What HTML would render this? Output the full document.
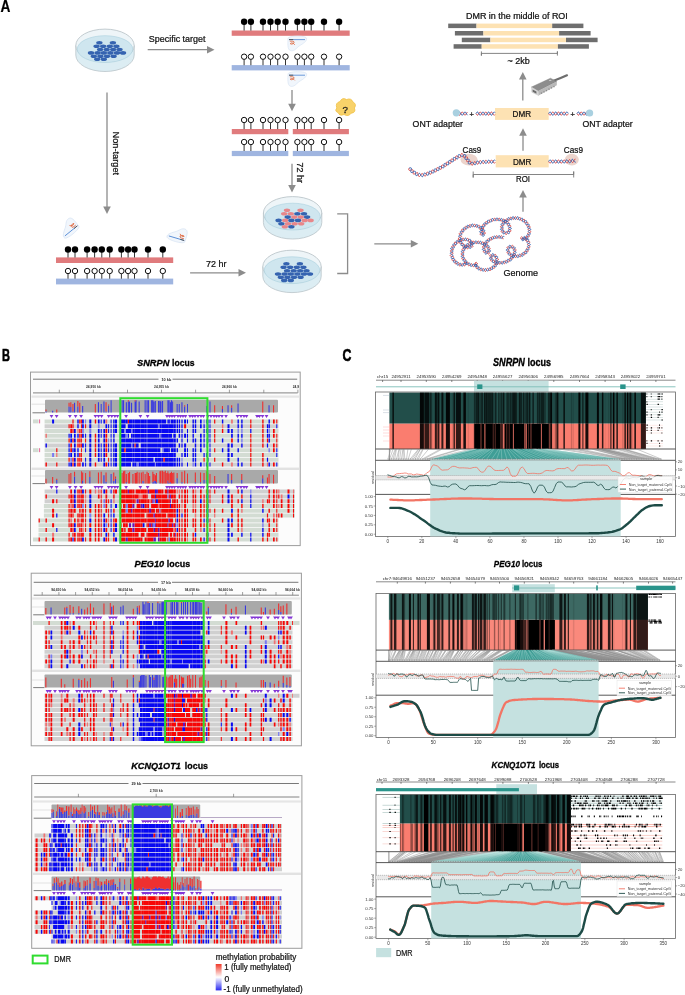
<!DOCTYPE html>
<html><head><meta charset="utf-8"><title>Figure</title>
<style>html,body{margin:0;padding:0;background:#fff;} svg{display:block;} text{font-family:'Liberation Sans', Arial, sans-serif;} .tA text{stroke:#111;stroke-width:0.22px;}</style>
</head><body>
<svg width="685" height="995" viewBox="0 0 685 995" shape-rendering="auto">
<g class="tA"><text x="0.5" y="11.7" font-size="15.8" fill="#000" font-weight="bold" textLength="9.9" lengthAdjust="spacingAndGlyphs" stroke="#000" stroke-width="0.4">A</text><path d="M75.8,45.5 L75.8,55.1 A29.2,16.4 0 0 0 134.2,55.1 L134.2,45.5 Z" fill="#dcedf3" stroke="#b9c4c9" stroke-width="0.8"/><ellipse cx="105" cy="45.5" rx="29.2" ry="16.4" fill="#eef5f8" stroke="#bcc6cb" stroke-width="0.9"/><ellipse cx="105" cy="49.1" rx="27.7" ry="13.4" fill="#cfe6ef" stroke="#a9d0de" stroke-width="0.6"/><ellipse cx="99.4" cy="42.7" rx="3.2" ry="1.8" fill="#3563b0"/><ellipse cx="112.9" cy="42.7" rx="3.2" ry="1.8" fill="#3563b0"/><ellipse cx="96.6" cy="46.2" rx="3.2" ry="1.8" fill="#3563b0"/><ellipse cx="103.2" cy="46.2" rx="3.2" ry="1.8" fill="#3563b0"/><ellipse cx="109.8" cy="46.2" rx="3.2" ry="1.8" fill="#3563b0"/><ellipse cx="116.4" cy="46.2" rx="3.2" ry="1.8" fill="#3563b0"/><ellipse cx="100.1" cy="49.6" rx="3.2" ry="1.8" fill="#3563b0"/><ellipse cx="106.7" cy="49.6" rx="3.2" ry="1.8" fill="#3563b0"/><ellipse cx="113.2" cy="49.6" rx="3.2" ry="1.8" fill="#3563b0"/><ellipse cx="119.5" cy="49.6" rx="3.2" ry="1.8" fill="#3563b0"/><ellipse cx="91" cy="52.9" rx="3.2" ry="1.8" fill="#3563b0"/><ellipse cx="97.6" cy="52.9" rx="3.2" ry="1.8" fill="#3563b0"/><ellipse cx="103.8" cy="52.9" rx="3.2" ry="1.8" fill="#3563b0"/><ellipse cx="110.4" cy="52.9" rx="3.2" ry="1.8" fill="#3563b0"/><ellipse cx="117" cy="52.9" rx="3.2" ry="1.8" fill="#3563b0"/><ellipse cx="123" cy="52.9" rx="3.2" ry="1.8" fill="#3563b0"/><ellipse cx="93.8" cy="56.2" rx="3.2" ry="1.8" fill="#3563b0"/><ellipse cx="100.4" cy="56.2" rx="3.2" ry="1.8" fill="#3563b0"/><ellipse cx="107" cy="56.2" rx="3.2" ry="1.8" fill="#3563b0"/><ellipse cx="113.6" cy="56.2" rx="3.2" ry="1.8" fill="#3563b0"/><ellipse cx="97.2" cy="59.3" rx="3.2" ry="1.8" fill="#3563b0"/><ellipse cx="103.8" cy="59.3" rx="3.2" ry="1.8" fill="#3563b0"/><text x="148.8" y="42" font-size="8.6" fill="#111" textLength="56.7" lengthAdjust="spacingAndGlyphs">Specific target</text><line x1="147.7" y1="49.7" x2="207.5" y2="49.7" stroke="#8c8c8c" stroke-width="1.3"/><polygon points="207,45.9 214.5,49.7 207,53.5" fill="#8c8c8c"/><rect x="231.7" y="30.5" width="118" height="5.3" fill="#e07b7d"/><line x1="244.1" y1="21.8" x2="244.1" y2="30.6" stroke="#333" stroke-width="1"/><line x1="250.9" y1="21.8" x2="250.9" y2="30.6" stroke="#333" stroke-width="1"/><line x1="263" y1="21.8" x2="263" y2="30.6" stroke="#333" stroke-width="1"/><line x1="270.5" y1="21.8" x2="270.5" y2="30.6" stroke="#333" stroke-width="1"/><line x1="277.7" y1="21.8" x2="277.7" y2="30.6" stroke="#333" stroke-width="1"/><line x1="285.5" y1="21.8" x2="285.5" y2="30.6" stroke="#333" stroke-width="1"/><line x1="297.4" y1="21.8" x2="297.4" y2="30.6" stroke="#333" stroke-width="1"/><line x1="304.4" y1="21.8" x2="304.4" y2="30.6" stroke="#333" stroke-width="1"/><line x1="311.2" y1="21.8" x2="311.2" y2="30.6" stroke="#333" stroke-width="1"/><line x1="324" y1="21.8" x2="324" y2="30.6" stroke="#333" stroke-width="1"/><line x1="339.1" y1="21.8" x2="339.1" y2="30.6" stroke="#333" stroke-width="1"/><circle cx="244.1" cy="21.8" r="3.2" fill="#000"/><circle cx="250.9" cy="21.8" r="3.2" fill="#000"/><circle cx="263" cy="21.8" r="3.2" fill="#000"/><circle cx="270.5" cy="21.8" r="3.2" fill="#000"/><circle cx="277.7" cy="21.8" r="3.2" fill="#000"/><circle cx="285.5" cy="21.8" r="3.2" fill="#000"/><circle cx="297.4" cy="21.8" r="3.2" fill="#000"/><circle cx="304.4" cy="21.8" r="3.2" fill="#000"/><circle cx="311.2" cy="21.8" r="3.2" fill="#000"/><circle cx="324" cy="21.8" r="3.2" fill="#000"/><circle cx="339.1" cy="21.8" r="3.2" fill="#000"/><rect x="231.7" y="65.1" width="118" height="5.3" fill="#9fb5e0"/><line x1="244.1" y1="56.7" x2="244.1" y2="65.2" stroke="#333" stroke-width="1"/><line x1="250.9" y1="56.7" x2="250.9" y2="65.2" stroke="#333" stroke-width="1"/><line x1="263" y1="56.7" x2="263" y2="65.2" stroke="#333" stroke-width="1"/><line x1="270.5" y1="56.7" x2="270.5" y2="65.2" stroke="#333" stroke-width="1"/><line x1="277.7" y1="56.7" x2="277.7" y2="65.2" stroke="#333" stroke-width="1"/><line x1="285.5" y1="56.7" x2="285.5" y2="65.2" stroke="#333" stroke-width="1"/><line x1="297.4" y1="56.7" x2="297.4" y2="65.2" stroke="#333" stroke-width="1"/><line x1="304.4" y1="56.7" x2="304.4" y2="65.2" stroke="#333" stroke-width="1"/><line x1="311.2" y1="56.7" x2="311.2" y2="65.2" stroke="#333" stroke-width="1"/><line x1="324" y1="56.7" x2="324" y2="65.2" stroke="#333" stroke-width="1"/><line x1="339.1" y1="56.7" x2="339.1" y2="65.2" stroke="#333" stroke-width="1"/><circle cx="244.1" cy="56.7" r="2.7" fill="#fff" stroke="#111" stroke-width="1"/><circle cx="250.9" cy="56.7" r="2.7" fill="#fff" stroke="#111" stroke-width="1"/><circle cx="263" cy="56.7" r="2.7" fill="#fff" stroke="#111" stroke-width="1"/><circle cx="270.5" cy="56.7" r="2.7" fill="#fff" stroke="#111" stroke-width="1"/><circle cx="277.7" cy="56.7" r="2.7" fill="#fff" stroke="#111" stroke-width="1"/><circle cx="285.5" cy="56.7" r="2.7" fill="#fff" stroke="#111" stroke-width="1"/><circle cx="297.4" cy="56.7" r="2.7" fill="#fff" stroke="#111" stroke-width="1"/><circle cx="304.4" cy="56.7" r="2.7" fill="#fff" stroke="#111" stroke-width="1"/><circle cx="311.2" cy="56.7" r="2.7" fill="#fff" stroke="#111" stroke-width="1"/><circle cx="324" cy="56.7" r="2.7" fill="#fff" stroke="#111" stroke-width="1"/><circle cx="339.1" cy="56.7" r="2.7" fill="#fff" stroke="#111" stroke-width="1"/><g transform="translate(297,39.6) rotate(0)"><path d="M-9,-1 C-9.5,-4 8,-4.5 9.5,-1.5 C10.5,1.5 6,4 2,6.5 C-1,9 -3,12 -6.5,11 C-10,10 -9,3 -9,-1 Z" fill="#f1f6fc" stroke="#d3e1f2" stroke-width="0.6"/><line x1="-8" y1="0" x2="8" y2="0" stroke="#5b8fd6" stroke-width="0.9"/><line x1="-8" y1="0" x2="-3.8" y2="0" stroke="#555" stroke-width="0.9"/><path d="M-7.2,1.6 q2.8,-0.4 4.2,0.6 q0.8,1 -1.2,2 q-2,0.8 -2.6,-0.2 q1,-1.2 2.8,-0.4 q1,0.6 1.8,1.6" fill="none" stroke="#e0704a" stroke-width="0.9"/></g><g transform="translate(297,75.2) rotate(0)"><path d="M-9,-1 C-9.5,-4 8,-4.5 9.5,-1.5 C10.5,1.5 6,4 2,6.5 C-1,9 -3,12 -6.5,11 C-10,10 -9,3 -9,-1 Z" fill="#f1f6fc" stroke="#d3e1f2" stroke-width="0.6"/><line x1="-8" y1="0" x2="8" y2="0" stroke="#5b8fd6" stroke-width="0.9"/><line x1="-8" y1="0" x2="-3.8" y2="0" stroke="#555" stroke-width="0.9"/><path d="M-7.2,1.6 q2.8,-0.4 4.2,0.6 q0.8,1 -1.2,2 q-2,0.8 -2.6,-0.2 q1,-1.2 2.8,-0.4 q1,0.6 1.8,1.6" fill="none" stroke="#e0704a" stroke-width="0.9"/></g><line x1="292" y1="90" x2="292" y2="104.2" stroke="#8c8c8c" stroke-width="1.3"/><polygon points="288.2,103.7 292,111.2 295.8,103.7" fill="#8c8c8c"/><rect x="231.8" y="129" width="56.5" height="5.2" fill="#e07b7d"/><rect x="292.8" y="129" width="56.1" height="5.2" fill="#e07b7d"/><line x1="244.1" y1="120" x2="244.1" y2="129.1" stroke="#333" stroke-width="1"/><line x1="250.9" y1="120" x2="250.9" y2="129.1" stroke="#333" stroke-width="1"/><line x1="263" y1="120" x2="263" y2="129.1" stroke="#333" stroke-width="1"/><line x1="270.5" y1="120" x2="270.5" y2="129.1" stroke="#333" stroke-width="1"/><line x1="277.7" y1="120" x2="277.7" y2="129.1" stroke="#333" stroke-width="1"/><line x1="285.5" y1="120" x2="285.5" y2="129.1" stroke="#333" stroke-width="1"/><line x1="297.4" y1="120" x2="297.4" y2="129.1" stroke="#333" stroke-width="1"/><line x1="304.4" y1="120" x2="304.4" y2="129.1" stroke="#333" stroke-width="1"/><line x1="311.2" y1="120" x2="311.2" y2="129.1" stroke="#333" stroke-width="1"/><line x1="324" y1="120" x2="324" y2="129.1" stroke="#333" stroke-width="1"/><line x1="339.1" y1="120" x2="339.1" y2="129.1" stroke="#333" stroke-width="1"/><circle cx="244.1" cy="120" r="2.7" fill="#fff" stroke="#111" stroke-width="1"/><circle cx="250.9" cy="120" r="2.7" fill="#fff" stroke="#111" stroke-width="1"/><circle cx="263" cy="120" r="2.7" fill="#fff" stroke="#111" stroke-width="1"/><circle cx="270.5" cy="120" r="2.7" fill="#fff" stroke="#111" stroke-width="1"/><circle cx="277.7" cy="120" r="2.7" fill="#fff" stroke="#111" stroke-width="1"/><circle cx="285.5" cy="120" r="2.7" fill="#fff" stroke="#111" stroke-width="1"/><circle cx="297.4" cy="120" r="2.7" fill="#fff" stroke="#111" stroke-width="1"/><circle cx="304.4" cy="120" r="2.7" fill="#fff" stroke="#111" stroke-width="1"/><circle cx="311.2" cy="120" r="2.7" fill="#fff" stroke="#111" stroke-width="1"/><circle cx="324" cy="120" r="2.7" fill="#fff" stroke="#111" stroke-width="1"/><circle cx="339.1" cy="120" r="2.7" fill="#fff" stroke="#111" stroke-width="1"/><rect x="231.8" y="150.9" width="56.5" height="5.2" fill="#9fb5e0"/><rect x="292.8" y="150.9" width="56.1" height="5.2" fill="#9fb5e0"/><line x1="244.1" y1="142" x2="244.1" y2="151" stroke="#333" stroke-width="1"/><line x1="250.9" y1="142" x2="250.9" y2="151" stroke="#333" stroke-width="1"/><line x1="263" y1="142" x2="263" y2="151" stroke="#333" stroke-width="1"/><line x1="270.5" y1="142" x2="270.5" y2="151" stroke="#333" stroke-width="1"/><line x1="277.7" y1="142" x2="277.7" y2="151" stroke="#333" stroke-width="1"/><line x1="285.5" y1="142" x2="285.5" y2="151" stroke="#333" stroke-width="1"/><line x1="297.4" y1="142" x2="297.4" y2="151" stroke="#333" stroke-width="1"/><line x1="304.4" y1="142" x2="304.4" y2="151" stroke="#333" stroke-width="1"/><line x1="311.2" y1="142" x2="311.2" y2="151" stroke="#333" stroke-width="1"/><line x1="324" y1="142" x2="324" y2="151" stroke="#333" stroke-width="1"/><line x1="339.1" y1="142" x2="339.1" y2="151" stroke="#333" stroke-width="1"/><circle cx="244.1" cy="142" r="2.7" fill="#fff" stroke="#111" stroke-width="1"/><circle cx="250.9" cy="142" r="2.7" fill="#fff" stroke="#111" stroke-width="1"/><circle cx="263" cy="142" r="2.7" fill="#fff" stroke="#111" stroke-width="1"/><circle cx="270.5" cy="142" r="2.7" fill="#fff" stroke="#111" stroke-width="1"/><circle cx="277.7" cy="142" r="2.7" fill="#fff" stroke="#111" stroke-width="1"/><circle cx="285.5" cy="142" r="2.7" fill="#fff" stroke="#111" stroke-width="1"/><circle cx="297.4" cy="142" r="2.7" fill="#fff" stroke="#111" stroke-width="1"/><circle cx="304.4" cy="142" r="2.7" fill="#fff" stroke="#111" stroke-width="1"/><circle cx="311.2" cy="142" r="2.7" fill="#fff" stroke="#111" stroke-width="1"/><circle cx="324" cy="142" r="2.7" fill="#fff" stroke="#111" stroke-width="1"/><circle cx="339.1" cy="142" r="2.7" fill="#fff" stroke="#111" stroke-width="1"/><g transform="translate(345.3,109.3) scale(1.3)"><path d="M-6.5,-1 q-1.5,-4 2.5,-5 q1.5,-3.5 5,-1.5 q3.5,-1.5 5,2 q3,1.5 1,4.5 q1.5,3.5 -2.5,4 q-2,3 -5.5,1 q-3.5,1.5 -4.5,-1.5 q-3,-1 -1,-3.5 Z" fill="#f8d26a" stroke="#f0be40" stroke-width="0.6"/><text x="-2.2" y="2.8" font-size="7.5" fill="#333">?</text></g><line x1="292" y1="163.8" x2="292" y2="185.4" stroke="#8c8c8c" stroke-width="1.3"/><polygon points="288.2,184.9 292,192.4 295.8,184.9" fill="#8c8c8c"/><g transform="translate(297.2,162.6) rotate(90)"><text x="0" y="0" font-size="9" fill="#111" textLength="20.4" lengthAdjust="spacingAndGlyphs">72 hr</text></g><path d="M263.4,213 L263.4,222.6 A29.2,16.4 0 0 0 321.8,222.6 L321.8,213 Z" fill="#dcedf3" stroke="#b9c4c9" stroke-width="0.8"/><ellipse cx="292.6" cy="213" rx="29.2" ry="16.4" fill="#eef5f8" stroke="#bcc6cb" stroke-width="0.9"/><ellipse cx="292.6" cy="216.6" rx="27.7" ry="13.4" fill="#cfe6ef" stroke="#a9d0de" stroke-width="0.6"/><ellipse cx="287" cy="210.2" rx="3.2" ry="1.8" fill="#e8868a"/><ellipse cx="300.5" cy="210.2" rx="3.2" ry="1.8" fill="#e8868a"/><ellipse cx="284.2" cy="213.7" rx="3.2" ry="1.8" fill="#e8868a"/><ellipse cx="290.8" cy="213.7" rx="3.2" ry="1.8" fill="#e8868a"/><ellipse cx="297.4" cy="213.7" rx="3.2" ry="1.8" fill="#3563b0"/><ellipse cx="304" cy="213.7" rx="3.2" ry="1.8" fill="#3563b0"/><ellipse cx="287.7" cy="217.1" rx="3.2" ry="1.8" fill="#3563b0"/><ellipse cx="294.3" cy="217.1" rx="3.2" ry="1.8" fill="#e8868a"/><ellipse cx="300.8" cy="217.1" rx="3.2" ry="1.8" fill="#e8868a"/><ellipse cx="307.1" cy="217.1" rx="3.2" ry="1.8" fill="#3563b0"/><ellipse cx="278.6" cy="220.4" rx="3.2" ry="1.8" fill="#3563b0"/><ellipse cx="285.2" cy="220.4" rx="3.2" ry="1.8" fill="#e8868a"/><ellipse cx="291.4" cy="220.4" rx="3.2" ry="1.8" fill="#3563b0"/><ellipse cx="298" cy="220.4" rx="3.2" ry="1.8" fill="#3563b0"/><ellipse cx="304.6" cy="220.4" rx="3.2" ry="1.8" fill="#e8868a"/><ellipse cx="310.6" cy="220.4" rx="3.2" ry="1.8" fill="#e8868a"/><ellipse cx="281.4" cy="223.7" rx="3.2" ry="1.8" fill="#3563b0"/><ellipse cx="288" cy="223.7" rx="3.2" ry="1.8" fill="#e8868a"/><ellipse cx="294.6" cy="223.7" rx="3.2" ry="1.8" fill="#e8868a"/><ellipse cx="301.2" cy="223.7" rx="3.2" ry="1.8" fill="#e8868a"/><ellipse cx="284.8" cy="226.8" rx="3.2" ry="1.8" fill="#e8868a"/><ellipse cx="291.4" cy="226.8" rx="3.2" ry="1.8" fill="#3563b0"/><path d="M262.8,266.6 L262.8,276.2 A29.2,16.4 0 0 0 321.2,276.2 L321.2,266.6 Z" fill="#dcedf3" stroke="#b9c4c9" stroke-width="0.8"/><ellipse cx="292" cy="266.6" rx="29.2" ry="16.4" fill="#eef5f8" stroke="#bcc6cb" stroke-width="0.9"/><ellipse cx="292" cy="270.2" rx="27.7" ry="13.4" fill="#cfe6ef" stroke="#a9d0de" stroke-width="0.6"/><ellipse cx="286.4" cy="263.8" rx="3.2" ry="1.8" fill="#3563b0"/><ellipse cx="299.9" cy="263.8" rx="3.2" ry="1.8" fill="#3563b0"/><ellipse cx="283.6" cy="267.3" rx="3.2" ry="1.8" fill="#3563b0"/><ellipse cx="290.2" cy="267.3" rx="3.2" ry="1.8" fill="#3563b0"/><ellipse cx="296.8" cy="267.3" rx="3.2" ry="1.8" fill="#3563b0"/><ellipse cx="303.4" cy="267.3" rx="3.2" ry="1.8" fill="#3563b0"/><ellipse cx="287.1" cy="270.7" rx="3.2" ry="1.8" fill="#3563b0"/><ellipse cx="293.7" cy="270.7" rx="3.2" ry="1.8" fill="#3563b0"/><ellipse cx="300.2" cy="270.7" rx="3.2" ry="1.8" fill="#3563b0"/><ellipse cx="306.5" cy="270.7" rx="3.2" ry="1.8" fill="#3563b0"/><ellipse cx="278" cy="274" rx="3.2" ry="1.8" fill="#3563b0"/><ellipse cx="284.6" cy="274" rx="3.2" ry="1.8" fill="#3563b0"/><ellipse cx="290.8" cy="274" rx="3.2" ry="1.8" fill="#3563b0"/><ellipse cx="297.4" cy="274" rx="3.2" ry="1.8" fill="#3563b0"/><ellipse cx="304" cy="274" rx="3.2" ry="1.8" fill="#3563b0"/><ellipse cx="310" cy="274" rx="3.2" ry="1.8" fill="#3563b0"/><ellipse cx="280.8" cy="277.3" rx="3.2" ry="1.8" fill="#3563b0"/><ellipse cx="287.4" cy="277.3" rx="3.2" ry="1.8" fill="#3563b0"/><ellipse cx="294" cy="277.3" rx="3.2" ry="1.8" fill="#3563b0"/><ellipse cx="300.6" cy="277.3" rx="3.2" ry="1.8" fill="#3563b0"/><ellipse cx="284.2" cy="280.4" rx="3.2" ry="1.8" fill="#3563b0"/><ellipse cx="290.8" cy="280.4" rx="3.2" ry="1.8" fill="#3563b0"/><polyline points="337.2,213.8 347.6,213.8 347.6,273.5 337.2,273.5" fill="none" stroke="#8c8c8c" stroke-width="1.3"/><line x1="374.3" y1="243.8" x2="411.3" y2="243.8" stroke="#8c8c8c" stroke-width="1.3"/><polygon points="410.8,240 418.3,243.8 410.8,247.6" fill="#8c8c8c"/><line x1="107" y1="92.4" x2="107" y2="207" stroke="#8c8c8c" stroke-width="1.3"/><polygon points="103.2,206.5 107,214 110.8,206.5" fill="#8c8c8c"/><g transform="translate(113.2,131.6) rotate(90)"><text x="0" y="0" font-size="9" fill="#111" textLength="43.5" lengthAdjust="spacingAndGlyphs">Non-target</text></g><g transform="translate(71.1,230.9) rotate(141)"><path d="M-9,-1 C-9.5,-4 8,-4.5 9.5,-1.5 C10.5,1.5 6,4 2,6.5 C-1,9 -3,12 -6.5,11 C-10,10 -9,3 -9,-1 Z" fill="#f1f6fc" stroke="#d3e1f2" stroke-width="0.6"/><line x1="-8" y1="0" x2="8" y2="0" stroke="#5b8fd6" stroke-width="0.9"/><line x1="-8" y1="0" x2="-3.8" y2="0" stroke="#555" stroke-width="0.9"/><path d="M-7.2,1.6 q2.8,-0.4 4.2,0.6 q0.8,1 -1.2,2 q-2,0.8 -2.6,-0.2 q1,-1.2 2.8,-0.4 q1,0.6 1.8,1.6" fill="none" stroke="#e0704a" stroke-width="0.9"/></g><g transform="translate(176.5,238.2) rotate(196.5)"><path d="M-9,-1 C-9.5,-4 8,-4.5 9.5,-1.5 C10.5,1.5 6,4 2,6.5 C-1,9 -3,12 -6.5,11 C-10,10 -9,3 -9,-1 Z" fill="#f1f6fc" stroke="#d3e1f2" stroke-width="0.6"/><line x1="-8" y1="0" x2="8" y2="0" stroke="#5b8fd6" stroke-width="0.9"/><line x1="-8" y1="0" x2="-3.8" y2="0" stroke="#555" stroke-width="0.9"/><path d="M-7.2,1.6 q2.8,-0.4 4.2,0.6 q0.8,1 -1.2,2 q-2,0.8 -2.6,-0.2 q1,-1.2 2.8,-0.4 q1,0.6 1.8,1.6" fill="none" stroke="#e0704a" stroke-width="0.9"/></g><rect x="56" y="257.4" width="117.2" height="5.6" fill="#e07b7d"/><line x1="68" y1="249.5" x2="68" y2="257.5" stroke="#333" stroke-width="1"/><line x1="75" y1="249.5" x2="75" y2="257.5" stroke="#333" stroke-width="1"/><line x1="87.1" y1="249.5" x2="87.1" y2="257.5" stroke="#333" stroke-width="1"/><line x1="94.6" y1="249.5" x2="94.6" y2="257.5" stroke="#333" stroke-width="1"/><line x1="101.8" y1="249.5" x2="101.8" y2="257.5" stroke="#333" stroke-width="1"/><line x1="109.7" y1="249.5" x2="109.7" y2="257.5" stroke="#333" stroke-width="1"/><line x1="121.4" y1="249.5" x2="121.4" y2="257.5" stroke="#333" stroke-width="1"/><line x1="128.1" y1="249.5" x2="128.1" y2="257.5" stroke="#333" stroke-width="1"/><line x1="134.5" y1="249.5" x2="134.5" y2="257.5" stroke="#333" stroke-width="1"/><line x1="148" y1="249.5" x2="148" y2="257.5" stroke="#333" stroke-width="1"/><line x1="162.8" y1="249.5" x2="162.8" y2="257.5" stroke="#333" stroke-width="1"/><circle cx="68" cy="249.5" r="3.2" fill="#000"/><circle cx="75" cy="249.5" r="3.2" fill="#000"/><circle cx="87.1" cy="249.5" r="3.2" fill="#000"/><circle cx="94.6" cy="249.5" r="3.2" fill="#000"/><circle cx="101.8" cy="249.5" r="3.2" fill="#000"/><circle cx="109.7" cy="249.5" r="3.2" fill="#000"/><circle cx="121.4" cy="249.5" r="3.2" fill="#000"/><circle cx="128.1" cy="249.5" r="3.2" fill="#000"/><circle cx="134.5" cy="249.5" r="3.2" fill="#000"/><circle cx="148" cy="249.5" r="3.2" fill="#000"/><circle cx="162.8" cy="249.5" r="3.2" fill="#000"/><rect x="56" y="278.6" width="117.2" height="5.8" fill="#9fb5e0"/><line x1="68" y1="271" x2="68" y2="278.7" stroke="#333" stroke-width="1"/><line x1="75" y1="271" x2="75" y2="278.7" stroke="#333" stroke-width="1"/><line x1="87.1" y1="271" x2="87.1" y2="278.7" stroke="#333" stroke-width="1"/><line x1="94.6" y1="271" x2="94.6" y2="278.7" stroke="#333" stroke-width="1"/><line x1="101.8" y1="271" x2="101.8" y2="278.7" stroke="#333" stroke-width="1"/><line x1="109.7" y1="271" x2="109.7" y2="278.7" stroke="#333" stroke-width="1"/><line x1="121.4" y1="271" x2="121.4" y2="278.7" stroke="#333" stroke-width="1"/><line x1="128.1" y1="271" x2="128.1" y2="278.7" stroke="#333" stroke-width="1"/><line x1="134.5" y1="271" x2="134.5" y2="278.7" stroke="#333" stroke-width="1"/><line x1="148" y1="271" x2="148" y2="278.7" stroke="#333" stroke-width="1"/><line x1="162.8" y1="271" x2="162.8" y2="278.7" stroke="#333" stroke-width="1"/><circle cx="68" cy="271" r="2.7" fill="#fff" stroke="#111" stroke-width="1"/><circle cx="75" cy="271" r="2.7" fill="#fff" stroke="#111" stroke-width="1"/><circle cx="87.1" cy="271" r="2.7" fill="#fff" stroke="#111" stroke-width="1"/><circle cx="94.6" cy="271" r="2.7" fill="#fff" stroke="#111" stroke-width="1"/><circle cx="101.8" cy="271" r="2.7" fill="#fff" stroke="#111" stroke-width="1"/><circle cx="109.7" cy="271" r="2.7" fill="#fff" stroke="#111" stroke-width="1"/><circle cx="121.4" cy="271" r="2.7" fill="#fff" stroke="#111" stroke-width="1"/><circle cx="128.1" cy="271" r="2.7" fill="#fff" stroke="#111" stroke-width="1"/><circle cx="134.5" cy="271" r="2.7" fill="#fff" stroke="#111" stroke-width="1"/><circle cx="148" cy="271" r="2.7" fill="#fff" stroke="#111" stroke-width="1"/><circle cx="162.8" cy="271" r="2.7" fill="#fff" stroke="#111" stroke-width="1"/><text x="206" y="266.5" font-size="9" fill="#111" textLength="20.4" lengthAdjust="spacingAndGlyphs">72 hr</text><line x1="190.1" y1="272.8" x2="239" y2="272.8" stroke="#8c8c8c" stroke-width="1.3"/><polygon points="238.5,269 246,272.8 238.5,276.6" fill="#8c8c8c"/><text x="466" y="19.4" font-size="8.6" fill="#111" textLength="101.8" lengthAdjust="spacingAndGlyphs">DMR in the middle of ROI</text><rect x="448.2" y="23.6" width="28.3" height="4.5" fill="#6e6e6e"/><rect x="476.5" y="23.6" width="75.7" height="4.5" fill="#fde2b3"/><rect x="552.2" y="23.6" width="31.2" height="4.5" fill="#6e6e6e"/><rect x="454.9" y="31" width="28.5" height="4.5" fill="#6e6e6e"/><rect x="483.4" y="31" width="75.7" height="4.5" fill="#fde2b3"/><rect x="559.1" y="31" width="31.5" height="4.5" fill="#6e6e6e"/><rect x="461.8" y="37.7" width="28.6" height="4.5" fill="#6e6e6e"/><rect x="490.4" y="37.7" width="75.6" height="4.5" fill="#fde2b3"/><rect x="566" y="37.7" width="31.6" height="4.5" fill="#6e6e6e"/><rect x="453.6" y="44.2" width="28.1" height="4.5" fill="#6e6e6e"/><rect x="481.7" y="44.2" width="76.2" height="4.5" fill="#fde2b3"/><rect x="557.9" y="44.2" width="31" height="4.5" fill="#6e6e6e"/><polyline points="481.4,51.4 481.4,55.6 481.4,53.4 557.4,53.4 557.4,51.4 557.4,55.6" fill="none" stroke="#777" stroke-width="0.9"/><text x="507.5" y="63.6" font-size="8.6" fill="#111" textLength="22.3" lengthAdjust="spacingAndGlyphs">~ 2kb</text><line x1="522.8" y1="100.5" x2="522.8" y2="79" stroke="#8c8c8c" stroke-width="1.3"/><polygon points="519,79.5 522.8,72 526.6,79.5" fill="#8c8c8c"/><path d="M553,81 Q560,78.5 567,75.3" stroke="#6e6e6e" stroke-width="2.2" fill="none" stroke-linecap="round"/><polygon points="531.5,87 550.5,78.2 556.8,81.6 538.2,91" fill="#8d8d8d" stroke="#7a7a7a" stroke-width="0.4" stroke-linejoin="round"/><polygon points="538.2,91 556.8,81.6 556.8,85.2 538.6,95.6" fill="#b9b9b9"/><path d="M541,93.4 l1,-0.5 M543.5,92.1 l1,-0.5 M546,90.8 l1,-0.5 M548.5,89.5 l1,-0.5 M551,88.2 l1,-0.5 M553.5,86.9 l1,-0.5" stroke="#8a8a8a" stroke-width="1.4"/><polygon points="531.5,87 538.2,91 538.6,95.6 531.8,92.2" fill="#d8d8d8" stroke="#aaa" stroke-width="0.3"/><polygon points="532.6,89.4 536.4,91.5 536.5,93.8 532.7,91.8" fill="#6a6a6a"/><ellipse cx="550.2" cy="80.4" rx="1.3" ry="0.7" fill="#c8c8c8"/><rect x="495" y="108" width="53.7" height="11.9" fill="#fde2b3"/><text x="521.8" y="117" font-size="8.6" fill="#111" text-anchor="middle" textLength="18.5" lengthAdjust="spacingAndGlyphs">DMR</text><rect x="495.7" y="155.2" width="53" height="12.2" fill="#fde2b3"/><text x="522.2" y="164.5" font-size="8.6" fill="#111" text-anchor="middle" textLength="18.5" lengthAdjust="spacingAndGlyphs">DMR</text><path d="M458 113.6L458.5 114.5L459 115.1L459.5 115.2L460 114.9L460.5 114.1L461 113.2L461.5 112.4L462 112L462.5 112L463 112.6L463.5 113.4L464 114.3L464.5 115L465 115.2L465.5 115L466 114.3L466.5 113.4L467 112.6L467.5 112" fill="none" stroke="#d64545" stroke-width="0.95"/><path d="M458 113.6L458.5 112.7L459 112.1L459.5 112L460 112.3L460.5 113.1L461 114L461.5 114.8L462 115.2L462.5 115.2L463 114.6L463.5 113.8L464 112.9L464.5 112.2L465 111.9L465.5 112.2L466 112.9L466.5 113.8L467 114.6L467.5 115.2" fill="none" stroke="#2f5fae" stroke-width="0.95"/><path d="M476 113.6L476.5 114.5L477 115.1L477.5 115.2L478 114.9L478.5 114.1L479 113.2L479.5 112.4L480 112L480.5 112L481 112.6L481.5 113.4L482 114.3L482.5 115L483 115.2L483.5 115L484 114.3L484.5 113.4L485 112.6L485.5 112L486 112L486.5 112.4L487 113.2L487.5 114.1L488 114.9L488.5 115.2L489 115.1L489.5 114.5L490 113.6L490.5 112.7L491 112.1L491.5 112L492 112.3L492.5 113.1L493 114L493.5 114.8L494 115.2L494.5 115.2L495 114.6" fill="none" stroke="#d64545" stroke-width="0.95"/><path d="M476 113.6L476.5 112.7L477 112.1L477.5 112L478 112.3L478.5 113.1L479 114L479.5 114.8L480 115.2L480.5 115.2L481 114.6L481.5 113.8L482 112.9L482.5 112.2L483 111.9L483.5 112.2L484 112.9L484.5 113.8L485 114.6L485.5 115.2L486 115.2L486.5 114.8L487 114L487.5 113.1L488 112.3L488.5 112L489 112.1L489.5 112.7L490 113.6L490.5 114.5L491 115.1L491.5 115.2L492 114.9L492.5 114.1L493 113.2L493.5 112.4L494 112L494.5 112L495 112.6" fill="none" stroke="#2f5fae" stroke-width="0.95"/><text x="469.5" y="116.6" font-size="7.5" fill="#111">+</text><path d="M548.7 113.6L549.2 114.5L549.7 115.1L550.2 115.2L550.7 114.9L551.2 114.1L551.7 113.2L552.2 112.4L552.7 112L553.2 112L553.7 112.6L554.2 113.4L554.7 114.3L555.2 115L555.7 115.2L556.2 115L556.7 114.3L557.2 113.4L557.7 112.6L558.2 112L558.7 112L559.2 112.4L559.7 113.2L560.2 114.1L560.7 114.9L561.2 115.2L561.7 115.1L562.2 114.5L562.7 113.6L563.2 112.7L563.7 112.1L564.2 112L564.7 112.3L565.2 113.1L565.7 114L566.2 114.8L566.7 115.2L567.2 115.2L567.7 114.6L568.2 113.8" fill="none" stroke="#d64545" stroke-width="0.95"/><path d="M548.7 113.6L549.2 112.7L549.7 112.1L550.2 112L550.7 112.3L551.2 113.1L551.7 114L552.2 114.8L552.7 115.2L553.2 115.2L553.7 114.6L554.2 113.8L554.7 112.9L555.2 112.2L555.7 111.9L556.2 112.2L556.7 112.9L557.2 113.8L557.7 114.6L558.2 115.2L558.7 115.2L559.2 114.8L559.7 114L560.2 113.1L560.7 112.3L561.2 112L561.7 112.1L562.2 112.7L562.7 113.6L563.2 114.5L563.7 115.1L564.2 115.2L564.7 114.9L565.2 114.1L565.7 113.2L566.2 112.4L566.7 112L567.2 112L567.7 112.6L568.2 113.4" fill="none" stroke="#2f5fae" stroke-width="0.95"/><text x="570.5" y="116.6" font-size="7.5" fill="#111">+</text><path d="M577 113.6L577.5 114.5L578 115.1L578.5 115.2L579 114.9L579.5 114.1L580 113.2L580.5 112.4L581 112L581.5 112L582 112.6L582.5 113.4L583 114.3L583.5 115L584 115.2L584.5 115L585 114.3L585.5 113.4L586 112.6L586.5 112L587 112" fill="none" stroke="#d64545" stroke-width="0.95"/><path d="M577 113.6L577.5 112.7L578 112.1L578.5 112L579 112.3L579.5 113.1L580 114L580.5 114.8L581 115.2L581.5 115.2L582 114.6L582.5 113.8L583 112.9L583.5 112.2L584 111.9L584.5 112.2L585 112.9L585.5 113.8L586 114.6L586.5 115.2L587 115.2" fill="none" stroke="#2f5fae" stroke-width="0.95"/><circle cx="456.3" cy="112.8" r="3.6" fill="#a9d0e0"/><circle cx="589.6" cy="113.0" r="3.6" fill="#a9d0e0"/><text x="412.6" y="126.6" font-size="8.6" fill="#111" textLength="50.4" lengthAdjust="spacingAndGlyphs">ONT adapter</text><text x="582.4" y="126.6" font-size="8.6" fill="#111" textLength="50.4" lengthAdjust="spacingAndGlyphs">ONT adapter</text><line x1="523" y1="150.7" x2="523" y2="135.3" stroke="#8c8c8c" stroke-width="1.3"/><polygon points="519.2,135.8 523,128.3 526.8,135.8" fill="#8c8c8c"/><ellipse cx="469" cy="159.6" rx="8.5" ry="5.8" fill="#ecd4cc"/><ellipse cx="571.8" cy="159.6" rx="7" ry="5.8" fill="#ecd4cc"/><path d="M409.2 168L408.9 169L408.7 169.7L409 170.2L409.5 170.4L410.4 170.2L411.5 170L412.4 169.8L413 169.8L413.3 170.1L413.3 170.8L413.2 171.8L413.1 172.8L413.2 173.6L413.5 174.1L414.1 174.1L414.9 173.8L415.7 173.3L416.6 172.8L417.2 172.5L417.7 172.7L417.9 173.2L418 174.1L418.2 175.2L418.5 176.1L419 176.5L419.6 176.5L420.2 175.9L420.8 175.1L421.3 174.3L421.7 173.6L422.2 173.4L422.6 173.7L423.2 174.4L423.9 175.2L424.6 175.8L425.2 176.1L425.7 175.9L426 175.3L426.3 174.3L426.4 173.3L426.7 172.5L427.1 172.1L427.6 172.2L428.3 172.7L429.1 173.3L429.9 173.9L430.5 174.2L431 174.1L431.3 173.5L431.5 172.5L431.6 171.5L431.7 170.6L432 170.1L432.5 170L433.2 170.4L434.1 170.9L434.9 171.5L435.6 171.9L436.1 171.8L436.4 171.2L436.6 170.4L436.6 169.3L436.7 168.4L436.9 167.8L437.4 167.6L438.1 167.8L438.9 168.3L439.8 168.9L440.5 169.3L441.1 169.3L441.4 168.8L441.5 168L441.5 166.9L441.5 166L441.7 165.3L442.1 164.9L442.7 165.1L443.6 165.5L444.5 166L445.3 166.4L445.9 166.4L446.3 166L446.4 165.2L446.3 164.2L446.3 163.2L446.3 162.4L446.7 162L447.3 162L448.1 162.4L449 162.9L449.9 163.3L450.5 163.4L450.9 163L451.1 162.3L451 161.3L450.9 160.3L451 159.5L451.3 159L451.8 158.9L452.6 159.2L453.5 159.7L454.4 160.2L455.1 160.3L455.6 160.1L455.7 159.5L455.7 158.5L455.7 157.5L455.7 156.6L456 156L456.5 155.9L457.2 156.2L458.1 156.7L459 157.2L459.6 157.6L460.2 157.5L460.5 156.9L460.6 156.1L460.7 155.1L461 154.2L461.5 153.5L462.1 153.5L462.8 154L463.3 154.9L463.4 156L463.3 156.7L463.1 156.9L463.6 157.2L464.4 157.2L465.4 157.1L466.4 156.9L467.1 156.9L467.5 157.2L467.5 157.9L467.3 158.8L466.8 159.8L466.5 160.6L466.5 161.2L466.9 161.6L467.7 161.6L468.7 161.5L469.7 161.4L470.4 161.3L470.8 161.4L470.8 161.9L470.7 162.7L470.8 163.8L471.3 164.7L471.8 165.2L472.5 165.2L473 164.6L473.4 163.7L473.8 162.7L474.1 162L474.5 161.6L475 161.7L475.7 162.3L476.4 163L477 163.7L477.6 164.2L478.1 164.1L478.5 163.6L478.8 162.7L479.2 161.8L479.6 160.9L480.2 160.6L480.7 160.7L481.2 161.2L481.8 162.1L482.3 162.9L482.9 163.5L483.4 163.6L483.8 163.3L484.3 162.5L484.8 161.6L485.2 160.7L485.7 160.3L486.2 160.3L486.7 160.8L487.3 161.6L487.8 162.5L488.3 163.2L488.8 163.4L489.3 163.1L489.8 162.4L490.3 161.5L490.7 160.7L491.2 160.1L491.7 160L492.2 160.5L492.8 161.2L493.3 162.1L493.8 162.9L494.3 163.2L494.8 163L495.3 162.4" fill="none" stroke="#d64545" stroke-width="0.95"/><path d="M409.2 168L410.2 167.8L411 167.8L411.4 168.1L411.5 168.7L411.3 169.5L410.9 170.5L410.7 171.4L410.8 172.1L411.2 172.5L412 172.4L412.9 172.1L413.9 171.6L414.6 171.2L415.1 171.2L415.5 171.7L415.6 172.5L415.6 173.6L415.6 174.6L415.8 175.3L416.3 175.6L417 175.4L417.8 174.8L418.6 174.2L419.2 173.6L419.6 173.3L420 173.6L420.4 174.2L420.8 175.1L421.3 176L421.9 176.6L422.4 176.7L423 176.3L423.4 175.4L423.7 174.5L424 173.6L424.3 173L424.8 172.9L425.4 173.3L426.1 174L426.9 174.7L427.6 175.2L428.2 175.2L428.5 174.8L428.8 174L429 173L429.1 172L429.4 171.3L429.8 171.1L430.4 171.3L431.2 171.9L432 172.5L432.8 173L433.4 173.1L433.8 172.7L434 172L434.1 170.9L434.1 169.9L434.3 169.2L434.7 168.8L435.3 168.9L436.1 169.4L436.9 170L437.7 170.5L438.4 170.6L438.8 170.4L439 169.7L439.1 168.7L439.1 167.6L439.2 166.8L439.5 166.4L440.1 166.4L440.8 166.7L441.7 167.2L442.6 167.7L443.3 167.9L443.8 167.7L444 167.1L444 166.1L443.9 165.1L444 164.2L444.2 163.6L444.7 163.5L445.4 163.7L446.3 164.2L447.2 164.7L448 164.9L448.5 164.8L448.7 164.2L448.7 163.3L448.6 162.3L448.6 161.3L448.8 160.7L449.2 160.4L449.9 160.6L450.8 161L451.7 161.5L452.5 161.8L453.1 161.8L453.4 161.3L453.4 160.4L453.3 159.4L453.3 158.4L453.4 157.7L453.8 157.4L454.5 157.5L455.3 157.9L456.2 158.4L457 158.8L457.6 158.9L458 158.5L458.1 157.7L458.1 156.7L458.1 155.7L458.4 154.9L458.7 154.5L459.3 154.6L460.2 155.1L460.9 155.8L461.7 156.4L462.1 156.7L462.4 156.6L462.7 156L463.2 155.3L464 154.7L465 154.5L465.8 155L465.9 155.6L465.6 156.4L465.1 157.3L464.9 158.3L464.9 159.1L465.2 159.4L465.8 159.4L466.7 159.3L467.7 159.2L468.6 159.2L469.2 159.4L469.3 159.9L469.1 160.6L468.7 161.5L468.3 162.5L468.2 163.3L468.6 163.9L469.3 164L470.2 163.7L471.1 163.1L471.6 162.4L472 162L472.4 162.1L472.8 162.5L473.4 163.3L474 164.1L474.7 164.7L475.3 164.8L475.7 164.4L476 163.7L476.3 162.7L476.6 161.7L477 161.1L477.5 161L478.1 161.3L478.7 162L479.4 162.8L479.9 163.5L480.4 163.8L480.9 163.6L481.3 163L481.8 162.1L482.2 161.2L482.7 160.5L483.2 160.4L483.7 160.7L484.2 161.4L484.8 162.3L485.3 163.1L485.8 163.5L486.3 163.4L486.8 162.9L487.3 162L487.7 161.1L488.2 160.4L488.7 160.1L489.2 160.3L489.7 161L490.3 161.9L490.8 162.7L491.3 163.2L491.8 163.3L492.3 162.8L492.8 162L493.2 161L493.7 160.3L494.2 159.9L494.7 160.1L495.2 160.6" fill="none" stroke="#2f5fae" stroke-width="0.95"/><path d="M548.7 161.5L549.2 162.4L549.7 163L550.2 163.1L550.7 162.8L551.2 162.1L551.7 161.2L552.2 160.4L552.7 159.9L553.2 160L553.7 160.5L554.2 161.4L554.7 162.3L555.2 162.9L555.7 163.2L556.2 163L556.7 162.3L557.2 161.4L557.7 160.5L558.2 160L558.7 160L559.2 160.4L559.7 161.2L560.2 162.1L560.7 162.9L561.2 163.2L561.7 163.1L562.2 162.4L562.7 161.6L563.2 160.7L563.7 160.1L564.2 159.9L564.7 160.2L565.2 161L565.7 161.9L566.3 162.6L566.8 163.1L567.3 163L567.8 162.4L568.2 161.6L568.6 160.6L569.1 159.9L569.5 159.6L570.1 159.8L570.6 160.4L571.2 161.3L571.8 162.1L572.4 162.5L572.9 162.5L573.3 162L573.7 161.2L574.1 160.2L574.5 159.4L574.9 159L575.5 159.1" fill="none" stroke="#d64545" stroke-width="0.95"/><path d="M548.7 161.5L549.2 160.6L549.7 160L550.2 159.9L550.7 160.2L551.2 161L551.7 161.9L552.2 162.7L552.7 163.1L553.2 163.1L553.7 162.6L554.2 161.7L554.7 160.8L555.2 160.2L555.7 159.9L556.2 160.2L556.7 160.8L557.2 161.7L557.7 162.6L558.2 163.1L558.7 163.2L559.2 162.7L559.7 161.9L560.2 161L560.7 160.3L561.2 159.9L561.7 160.1L562.2 160.7L562.7 161.6L563.2 162.4L563.7 163L564.2 163.2L564.7 162.8L565.2 162.1L565.7 161.1L566.1 160.3L566.6 159.9L567.1 159.9L567.6 160.4L568.2 161.2L568.7 162L569.3 162.7L569.8 162.9L570.3 162.6L570.8 161.9L571.2 160.9L571.6 160L572 159.4L572.5 159.3L573 159.7L573.6 160.4L574.2 161.3L574.8 161.9L575.4 162.2L575.8 162" fill="none" stroke="#2f5fae" stroke-width="0.95"/><text x="462.6" y="153.4" font-size="8.6" fill="#111" textLength="18.7" lengthAdjust="spacingAndGlyphs">Cas9</text><text x="563.8" y="153.4" font-size="8.6" fill="#111" textLength="19.2" lengthAdjust="spacingAndGlyphs">Cas9</text><polyline points="473.2,171.5 473.2,177.5 473.2,174.5 573.7,174.5 573.7,171.5 573.7,177.5" fill="none" stroke="#777" stroke-width="0.9"/><text x="516" y="182" font-size="8.6" fill="#111" textLength="14" lengthAdjust="spacingAndGlyphs">ROI</text><line x1="523" y1="211.8" x2="523" y2="197" stroke="#8c8c8c" stroke-width="1.3"/><polygon points="519.2,197.5 523,190 526.8,197.5" fill="#8c8c8c"/><path d="M466 262L465.1 262.3L464.5 262.4L464.5 262.9L465.1 263.6L465.3 264.7L465.2 265.6L464.8 265.9L463.9 265.6L463.2 264.7L462.7 263.8L462.2 263.4L461.7 263.8L461.2 264.7L460.6 265.7L459.7 266.1L459.3 265.8L459.1 265L459 263.8L458.9 262.8L458.5 262.5L457.8 262.7L457 263.5L455.9 263.8L455.2 263.8L455 263.3L455.3 262.4L455.6 261.3L455.8 260.4L455.5 260L454.7 260.1L453.6 260.5L452.5 260.6L451.8 260.1L452 259.5L452.7 258.7L453.4 257.8L453.9 257.1L453.6 256.7L452.7 256.5L451.6 256.4L450.6 256.2L450.1 255.6L450.6 254.8L451.6 254.3L452.6 253.9L453.2 253.4L453 252.9L452.1 252.3L451.1 251.8L450.4 251.3L450.3 250.8L451 250.3L452 249.8L452.9 249.6L453.4 249.6L453.3 249L452.7 248.1L452 247.2L451.7 246.4L452 246L452.9 245.9L454.1 246L455 245.9L455.5 245.6L455.3 244.9L454.6 244L454.4 242.9L454.5 242.2L455 242.1L456 242.5L457 243L457.8 243.3L458.3 243L458.3 242.2L458.1 241.1L457.9 240.1L458.3 239.3L459.1 239.4L459.9 240.2L460.6 241L461.3 241.5L461.8 241.3L462 240.4L462.2 239.3L462.5 238.3L462.9 238L463.7 238.3L464.3 239.3L464.7 240.4L465.1 240.9L465.7 240.7L466.2 240L466.8 239L467.4 238.3L467.9 238.3L468.5 239L468.6 240.2L468.5 241.2L468.7 241.8L469.4 241.8L470.3 241.2L471.4 240.8L472.3 241.1L472.5 241.5L472.1 242.3L471.4 243.3L470.9 244.1L470.8 244.1L471.2 244.1L472 244.9L472.7 245.7L473.1 246.3L472.5 247.1L471.3 246.9L470.3 246.2L469.5 245.8L469.1 246L469.1 246.7L468.8 247.7L468.2 248.6L467.7 248.9L467.2 248.5L466.8 247.5L466.5 246.5L466.5 245.8L466.1 245.6L465.3 246L464.3 246.7L463.5 247.2L462.9 247.2L462.8 246.5L462.8 245.4L463.3 244.4L463.5 243.7L463 243.4L462 243.5L460.9 243.7L460 243.7L459.6 243.3L459.8 242.4L460.6 241.5L461.5 240.9L461.7 240.3L461.3 239.9L460.3 239.6L459.2 239.3L458.5 238.9L458.4 238.1L459.2 237.5L460.4 237.2L461.3 236.9L461.6 236.4L461.2 235.9L460.3 235.2L459.4 234.5L459.1 233.7L459.6 233.1L460.6 233.1L461.8 233.2L462.6 233.1L463 232.7L462.7 232L462 231L461.5 230L461.8 229.3L462.4 229.2L463.4 229.5L464.4 229.9L465.2 230L465.6 229.6L465.4 228.8L465.1 227.6L465.2 226.6L465.6 226.2L466.2 226.4L467.1 227L468 227.7L468.7 227.9L469 227.5L469 226.5L469.3 225.4L469.6 224.6L470.1 224.4L470.7 224.9L471.4 225.8L472.1 226.7L472.4 226.9L472.8 226.6L473.3 225.7L473.9 224.7L474.4 224.1L474.9 224.2L475.4 225L475.8 226L475.9 227L476.3 227.3L477 227L477.7 226.2L478.5 225.4L479.3 225.2L479.8 225.7L479.8 226.7L479.6 227.8L479.7 228.7L480.1 229L480.7 228.7L481.8 228.3L482.8 228L483.4 228.1L483.4 228.8L483.1 229.8L482.5 230.7L482.1 231.4L482.4 231.8L483.2 231.9L484.3 232.1L485.2 232.5L485.5 233L485 233.9L483.8 234.1L482.9 233.9L482.5 233.5L482.7 233.8L482.5 234.4L481.4 235L480.4 234.8L480.1 234.4L480.3 233.5L481.3 232.7L482.2 232.2L482.5 231.9L482.2 231.5L481.4 230.8L480.5 230.1L480 229.5L480.2 228.9L481.2 228.6L482.3 228.6L483.3 228.5L483.7 228.2L483.5 227.5L482.8 226.6L482.4 225.6L482.4 224.9L482.8 224.7L483.8 224.8L484.9 225.1L485.8 225.2L486.1 225L486 224.3L485.8 223.2L485.7 222.2L485.8 221.6L486.5 221.6L487.4 222L488.4 222.6L489 222.9L489.3 222.7L489.5 221.8L489.6 220.6L489.7 219.7L490.1 219.3L490.7 219.5L491.6 220.3L492.4 221L492.9 221.3L493.2 221L493.5 220.1L493.9 219L494.3 218.2L494.8 218.1L495.3 218.6L496 219.6L496.5 220.4L496.8 220.8L497.4 220.5L497.9 219.6L498.5 218.6L499 218L499.5 218.1L500 218.9L500.4 220L500.5 220.9L500.9 221.3L501.6 221L502.3 220.2L503.1 219.4L503.7 219.1L504.2 219.4L504.4 220.4L504.3 221.6L504.3 222.5L504.7 222.8L505.5 222.6L506.4 222L507.4 221.5L508 221.5L508.4 222.2L508 223.3L507.5 224.3L507.3 225.1L507.6 225.4L508.5 225.4L509.7 225.3L510.7 225.6L511 226L510.7 226.6L509.9 227.4L509 227.9L508.5 228.2L508.6 228.7L509.4 229.3L510.4 229.9L511 230.8L510.6 231.6L509.8 231.6L508.7 231.4L507.6 231.3L507.3 231.2L507.4 231.5L507.2 232.5L507.1 233.7L506.5 234.5L505.6 234.3L505.3 233.5L505 232.4L504.6 231.4L504.6 231.3L504.3 231.5L503.2 231.9L502.2 232.2L501.5 232.2L501.1 231.4L501.7 230.4L502.6 229.7L503.2 229L503.2 228.5L502.4 228.2L501.3 227.8L500.6 227.1L500.4 226.5L500.9 226.1L501.9 225.9L503 225.6L503.7 225.3L503.7 225.1L503.3 224.5L502.8 223.4L502.4 222.5L502.6 222L503.3 221.9L504.4 222.1L505.4 222.4L506 222.5L506.1 222.2L506.1 221.2L506 220L506 219.2L506.4 218.8L507.1 219.1L508.1 219.7L509 220.3L509.4 220.4L509.6 220L509.9 219L510.1 217.9L510.4 217.2L511 217.1L511.6 217.7L512.3 218.6L513 219.3L513.4 219.5L513.7 219L514.2 218L514.8 217.1L515.3 216.6L515.8 216.8L516.2 217.7L516.7 218.7L517.2 219.5L517.5 219.6L517.9 219.1L518.7 218.2L519.5 217.5L520.1 217.3L520.4 217.8L520.6 218.8L520.8 220L521.1 220.7L521.4 220.7L522.1 220.3L523.1 219.7L524 219.3L524.5 219.4L524.6 220.1L524.5 221.2L524.4 222.2L524.3 222.8L524.7 222.9L525.7 222.7L526.8 222.5L527.7 222.4L528 222.7L527.9 223.5L527.4 224.5L526.8 225.3L526.6 225.9L527.2 226.2L528.2 226.3L529.3 226.3L530.1 226.5L530.3 227L529.8 227.9L528.8 228.6L528 229.1L527.9 229.7L528.4 230.1L529.4 230.5L530.4 231L531 231.6L530.6 232.3L529.7 232.6L528.6 232.8L527.7 233.2L527.5 233.6L528.1 234.1L528.7 235L529.3 235.9L529.3 236.5L528.8 236.7L527.7 236.7L526.7 236.5L526 236.3L525.6 236.7L525.7 237.5L526.1 238.7L526.1 239.8L525.5 240.2L524.8 240L524 239.2L523.4 238.4L523.1 237.9L522.9 238.2L522.3 238.8L521.1 239.2L520.6 237.7L521.5 236.8L522.4 237.2L523.1 238.1L523.5 239L524 239.4L524.3 239.1L525 238.4L526 237.7L526.8 237.6L527.2 238L527.1 238.8L526.8 239.9L526.3 240.8L526.4 241.3L527.1 241.4L528.2 241.3L529.2 241.5L529.9 241.9L529.8 242.4L529.1 243.1L528.2 243.8L527.5 244.2L527.4 244.7L528 245.2L529 245.7L529.9 246.3L530.2 247L529.6 247.6L528.6 247.7L527.5 247.8L526.7 248.1L526.6 248.6L527.1 249.3L527.9 250.2L528.2 251.2L528 251.7L527.3 251.8L526.3 251.5L525.2 251.3L524.5 251.4L524.4 251.8L524.7 252.6L524.8 253.8L524.8 254.7L524.5 255L523.7 254.8L522.7 254.2L521.8 253.7L521.3 253.6L521.2 254L521 255.1L520.8 256.2L520.5 256.9L520 257L519.3 256.5L518.5 255.6L518 254.9L517.7 254.7L517.2 255.2L516.7 256.2L516.2 257.2L515.7 257.7L515.2 257.4L514.6 256.6L514.4 255.5L514.1 254.6L513.6 254.4L513 254.9L512.2 255.7L511.5 256.5L510.7 256.6L510.2 255.9L510.4 254.8L510.6 253.7L510.6 252.9L510.3 252.8L509.5 253L508.4 253.2L507.4 253.2L507 252.9L507 252L507.9 251.2L508.8 250.6L509.2 250L508.9 249.8L508.3 249.4L507.5 248.5L506.9 247.8L507.3 246.9L508.3 246.9L509.3 247.4L510.3 247.9L510.5 248.1L510.5 247.8L511 246.9L511.5 245.8L512.4 245.3L513.2 245.8L513.2 246.7L513 247.9L512.7 248.6L512.6 248.9L513.2 249.1L514.3 249.1L515.4 249.1L516.2 249.7L516 250.5L515.2 251L514.1 251.5L513.4 252L513.3 252.5L513.9 252.9L514.7 253.6L515.4 254.4L515.5 255L515 255.3L513.9 255.4L512.8 255.4L512.1 255.4L512 255.7L512.2 256.5L512.6 257.6L512.9 258.6L512.7 259.1L512 259.1L510.9 258.8L509.9 258.5L509.3 258.4L509.2 258.7L509.2 259.7L509.3 260.8L509.2 261.7L508.8 262L508 261.7L507.1 261.1L506.2 260.5L505.8 260.3L505.6 260.8L505.3 261.8L505.1 262.9L504.8 263.6L504.3 263.7L503.6 263.1L502.8 262.2L502.2 261.5L501.8 261.4L501.5 261.9L501 262.8L500.5 263.8L500 264.3L499.5 264.1L499 263.2L498.5 262.2L498 261.4L497.7 261.4L497.3 261.9L496.5 262.7L495.7 263.4L495.1 263.6L494.7 263.1L494.6 262L494.4 260.9L494.4 260.3L494.2 260.2L493.3 260.4L492.3 260.9L491.3 261.2L490.8 261L490.6 260.2L491.2 259.1L491.9 258.3L492.2 257.6L491.8 257.3L490.9 257.3L490.1 256.6L489.6 255.8L490 254.9L491.1 254.9L492 255.6L492.9 256.3L492.9 256.5L493 256.3L493.7 255.5L494.5 254.7L495.5 254.4L496.1 255.1L495.9 256L495.5 257L495.2 258L495.1 258.2L495.6 258.2L496.7 258.5L497.8 258.7L498.4 259L498.4 259.8L497.5 260.4L496.4 260.8L495.6 261.2L495.4 261.7L496 262.3L497 262.9L497.5 263.9L497.6 264.5L497 264.7L496 264.7L494.8 264.7L494.2 264.6L494 264.8L494.1 265.7L494.5 266.8L494.7 267.8L494.4 268.3L493.6 268.3L492.6 267.8L491.7 267.1L491.1 266.9L490.7 267.3L490.7 268.3L490.7 269.5L490.6 270.4L490 270.7L489.2 270.3L488.5 269.4L487.8 268.5L487.3 268.3L486.9 268.7L486.5 269.7L486.2 270.9L485.5 271.5L485 271.4L484.6 270.6L484.1 269.5L483.7 268.7L483.2 268.4L482.8 268.9L482.1 269.7L481.4 270.5L480.7 270.9L480.3 270.5L480.1 269.6L480 268.4L480 267.6L479.6 267.3L478.9 267.5L477.9 268.2L476.9 268.6L476.2 268.4L476.1 267.8L476.4 266.8L476.9 265.8L477.3 265.2L477.1 265L476.3 264.8L475.2 264.3L474.9 263.1L476.2 262.2L477.7 263.7L476.4 264.3L475.5 263.9L475.1 263.5L474.7 263.9L474.6 264.9L474.3 265.9L473.8 266.7L473.3 266.8L472.7 266.2L472.3 265.1L472 264.1L471.6 263.6L471 263.9L470.3 264.7L469.5 265.5L468.7 265.8L468.3 265.5L468.2 264.6L468.2 263.4L468.2 262.5L468 262.1L467.5 262.3L466.4 262.6L465.4 263L464.7 263L464.5 262.5L464.7 261.5L465.3 260.5L465.6 259.7L465.4 259.2L464.6 259.1L463.5 259.3L462.4 259.3L461.8 258.9L461.9 258.1L462.7 257.4L463.5 256.6L464 256L463.8 255.5L463 255.3L462 254.9L461.1 254.4L460.9 253.9L461.4 253.4L462.4 252.9L463.4 252.6L464 252.4L463.9 251.9L463.3 251.1L462.5 250.3L462 249.4L462.3 248.8L463.1 248.7L464.2 248.9L465.3 249L465.9 248.8L465.8 248.2L465.3 247.3L465 246.2L465 245.4L465.5 245.1L466.3 245.4L467.4 245.8L468.3 246.2L468.8 246L468.8 245.4L468.7 244.4L468.8 243.3L469 242.6L469.6 242.6L470.4 243.2L471.2 243.9L472 244.4L472.5 244.3L472.6 243.5L472.8 242.5L473.2 241.5L473.7 241.1L474.2 241.4L474.8 242.2L475.5 243.2L476 243.7L476.5 243.6L476.8 242.8L477.4 241.8L478 241L478.5 240.9L478.9 241.4L479.3 242.5L479.7 243.5L480.1 244.1L480.6 243.9L481.2 243.2L482 242.2L482.8 241.8L483.3 242L483.5 242.7L483.5 243.9L483.5 244.9L483.8 245.5L484.4 245.4L485.3 244.8L486.3 244.1L487.2 244.1L487.5 244.6L487.3 245.4L486.9 246.5L486.7 247.5L486.8 248L487.4 247.8L488.4 247.8L489.5 247.9L490.2 248.2L490.2 248.7L489.6 249.5L488.7 250.2L487.9 250.3L487.7 250.8L488.2 251.4L489.1 252.2L489.2 253.3L489.1 253.9L488.1 254.1L487.2 253.2L486.8 252.1L486.7 251.6L486.6 251.5L485.8 251.8L484.7 252.3L483.7 252.2L483.2 251.9L483.4 251.2L484.1 250.3L484.8 249.6L485.3 249.3L485.1 248.8L484.2 248.4L483.1 247.9L482.4 247.2L482.5 246.5L483.3 246.2L484.4 246L485.4 245.8L485.9 245.4L485.7 245L485.1 244.2L484.6 243.2L484.3 242.5L484.7 242.1L485.6 242.1L486.7 242.3L487.6 242.7L488.1 242.5L488.2 241.8L487.9 240.7L487.6 239.7L487.7 239L488.3 238.7L489.3 239.1L490.2 239.8L491 240.2L491.5 240.1L491.6 239.3L491.6 238.1L491.7 237L492.2 236.5L492.7 236.7L493.5 237.5L494.3 238.3L494.9 238.8L495.3 238.6L495.6 237.8L495.9 236.7L496.3 235.8L496.8 235.5L497.3 236L498 236.9L498.4 237.9L498.9 238.4L499.4 238.2L499.9 237.4L500.5 236.3L501.2 235.7L501.7 235.7L502.1 236.4L502.4 237.5L502.6 238.5L502.9 239L503.5 238.8" fill="none" stroke="#d64545" stroke-width="0.85"/><path d="M466 262L467 262.7L467.2 263.5L466.8 263.9L465.8 264.2L464.7 263.6L463.9 263.2L463.4 263.4L463.5 264.1L463.2 265.1L462.7 266L462.3 266.4L461.7 266L461.2 265.1L460.8 264.1L460.8 263.4L460.3 263.3L459.5 263.8L458.7 264.6L457.9 265.2L457.4 265.2L457.1 264.6L457 263.5L457.3 262.4L457.3 261.7L456.8 261.5L455.9 261.8L454.8 262.2L453.9 262.3L453.5 262.1L453.6 261.3L453.9 260.2L454.4 259.4L454.6 259L454.1 258.6L453.1 258.5L451.9 258.4L451.2 258.2L451.1 257.7L451.6 256.9L452.4 256.1L453 255.3L453.1 255.1L452.6 254.9L451.6 254.3L450.7 253.8L450.2 253.3L450.4 252.8L451.3 252.3L452.4 251.8L453.1 251.4L453.2 250.9L452.6 250.3L451.6 249.8L450.7 249L450.7 248.2L451.3 247.9L452.3 247.9L453.5 247.9L454.3 247.8L454.4 247.3L454 246.5L453.3 245.6L452.8 244.8L452.9 244.2L453.5 244L454.6 244L455.6 244.5L456.3 244.6L456.6 244.1L456.5 243.1L456.2 242L456.2 241.1L456.5 240.7L457.3 240.9L458.3 241.4L459.3 241.9L459.7 242L459.8 241.6L460 240.6L460.2 239.5L460.5 238.7L461 238.7L461.7 239.2L462.5 240.1L463.2 240.8L463.7 240.8L463.9 240.3L464.3 239.3L464.9 238.4L465.4 238L465.9 238.2L466.3 239.1L466.7 240.2L467.1 241L467.6 241.1L468 240.5L468.8 239.8L469.7 239.3L470.3 239.3L470.6 239.8L470.5 240.9L470.2 241.9L469.8 242.5L470.1 242.9L471 242.9L472.2 242.9L473.1 242.9L473.7 243.8L473 244.7L472 244.9L470.9 245.1L470.2 245.4L470.5 245.5L470.9 246.2L470.9 247.3L470.8 248.2L470.4 248.5L469.5 248.3L468.8 247.2L468.4 246.3L467.9 245.9L467.4 246.2L466.8 247.1L466.1 248.1L465.2 248.3L464.8 248L464.7 247.1L464.7 246L464.7 245L464.4 244.6L463.7 244.8L462.8 245.4L461.7 245.5L461 245.4L460.9 244.8L461.3 244L461.9 243L462.2 242.1L462 241.7L461.3 241.8L460.2 241.6L459.2 241.3L458.8 240.9L459 240.3L459.8 239.7L460.8 239L461.3 238.4L461.1 238.1L460.5 237.8L459.5 237.1L458.8 236.4L458.7 235.9L459.2 235.5L460.3 235.2L461.4 234.9L461.9 234.7L461.8 234.4L461.3 233.5L460.7 232.6L460.3 231.8L460.4 231.3L461.2 231.2L462.4 231.3L463.3 231.4L463.8 231.5L463.9 230.9L463.7 229.8L463.3 228.8L463.3 228L463.7 227.7L464.6 227.9L465.6 228.3L466.4 228.9L466.9 228.8L467.1 228.2L467.1 227L467.1 225.9L467.3 225.3L467.9 225.2L468.8 225.7L469.5 226.6L470.1 227.3L470.7 227.2L471 226.5L471.3 225.4L471.6 224.4L472.2 223.9L472.9 224.3L473.3 225.3L473.8 226.3L474.3 227L474.8 226.9L475.3 226.2L475.9 225.2L476.7 224.6L477.2 224.5L477.6 225.1L477.7 226.2L477.9 227.3L478.1 227.9L478.5 227.9L479.3 227.4L480.3 226.8L481.1 226.4L481.6 226.6L481.8 227.4L481.4 228.6L481.1 229.6L481.2 230.2L481.8 230.3L482.8 230L483.9 230L484.7 230.2L484.8 230.6L484.4 231.5L483.5 232.2L482.7 232.8L482.5 233.4L483.1 233.5L483.8 234.1L484.3 235.3L483.8 236.1L482.7 236.3L482.1 235.2L482.3 234.1L482.8 233.5L482.6 233L481.9 233L480.9 232.8L479.9 232.3L479.5 231.7L480 231.1L481 230.7L482.1 230.4L482.8 230.1L482.8 229.7L482.3 229.1L481.6 228.2L481 227.4L481.1 226.9L481.7 226.6L482.8 226.6L483.9 226.9L484.6 226.8L484.8 226.3L484.5 225.4L484 224.3L483.7 223.5L484.1 222.9L485 223L486 223.5L487 224L487.6 224L487.8 223.4L487.7 222.4L487.5 221.2L487.6 220.4L488.3 220.2L489 220.6L489.9 221.4L490.7 222L491.2 222L491.5 221.4L491.6 220.3L491.7 219.2L492.1 218.4L492.8 218.6L493.4 219.3L494.1 220.3L494.7 220.9L495.2 220.9L495.6 220.2L495.9 219.1L496.4 218.2L497.1 217.8L497.5 218.2L498 219.2L498.4 220.2L498.8 220.9L499.3 220.9L499.9 220.2L500.5 219.2L501.3 218.5L501.8 218.5L502.2 219.1L502.3 220.2L502.5 221.3L502.8 221.9L503.4 221.9L504.1 221.2L505 220.6L505.8 220.2L506.3 220.4L506.4 221.2L506.2 222.4L506.1 223.4L506.3 224L506.8 223.8L507.7 223.6L508.8 223.4L509.6 223.4L509.9 223.8L509.5 224.7L509 225.6L508.3 226.3L508.2 226.8L508.8 227.2L509.9 227.4L511 227.8L511.4 228.5L511.1 229L510.2 229.4L509.1 229.8L508.4 229.9L508.2 229.9L508.5 230.7L509 231.7L509.5 232.6L509.2 233.6L508.2 233.6L507.4 232.9L506.6 232.1L506.3 231.6L506.1 231.6L505.5 232.3L504.8 233.2L504.2 233.9L503.2 233.9L502.9 232.9L503.2 231.9L503.6 230.8L503.6 230.1L503.3 230.2L502.5 230.2L501.4 229.9L500.5 229.6L500.4 229.1L500.9 228.5L501.8 227.8L502.8 227.7L503.3 227.3L503 226.7L502.3 226L501.4 225.2L501 224.6L501.3 223.8L502.3 223.7L503.4 224L504.4 224.1L504.9 223.8L504.8 223.1L504.4 222.1L503.9 221.1L504 220.2L504.8 220L505.6 220.5L506.6 221.1L507.4 221.5L507.9 221.3L508 220.5L507.9 219.4L507.8 218.3L508.3 217.6L509.1 217.8L509.8 218.6L510.5 219.5L511.1 220L511.6 219.8L511.9 218.9L512.1 217.8L512.4 216.9L513.1 216.5L513.8 217L514.2 218L514.7 219L515.2 219.5L515.7 219.3L516.2 218.5L516.7 217.5L517.3 216.8L518 216.7L518.4 217.5L518.6 218.6L518.8 219.7L519.2 220.2L519.8 220L520.5 219.2L521.3 218.4L522 218L522.6 218.3L522.8 219.3L522.6 220.4L522.6 221.4L522.8 221.8L523.5 221.7L524.5 221.2L525.5 220.6L526.3 220.6L526.6 221.3L526.3 222.2L525.8 223.3L525.6 224.1L525.8 224.5L526.6 224.5L527.8 224.3L528.8 224.4L529.4 224.7L529.2 225.3L528.6 226.1L527.9 227L527.5 227.7L527.8 228.1L528.6 228.2L529.7 228.5L530.6 228.9L530.8 229.4L530.4 230L529.4 230.5L528.5 231.1L528 231.4L528.2 231.7L528.9 232.4L529.8 233.1L530.4 233.8L530.3 234.3L529.6 234.8L528.4 234.8L527.3 234.7L526.8 235L526.8 235.6L527.4 236.5L527.9 237.6L527.9 238.5L527.4 238.7L526.6 238.5L525.5 238L524.7 237.6L524.4 237.5L524.1 238.1L524 239.2L523.7 240.4L523 240.9L522.2 240.6L521.9 239.5L522.2 238.6L522.9 239.1L522.8 239.4L522.9 238.8L523.1 237.6L523.7 236.8L524.2 236.4L524.9 236.9L525.2 238L525.1 239.1L525 239.8L525.4 240.1L526.3 239.8L527.4 239.4L528.4 239.4L528.9 239.7L528.7 240.4L528.2 241.3L527.4 242.1L527 242.7L527.4 243.1L528.3 243.4L529.5 243.6L530.2 244.3L530.3 244.8L529.6 245.3L528.6 245.7L527.6 246.2L527.3 246.4L527.5 246.8L528.2 247.6L529 248.4L529.4 249.1L529.1 249.5L528.3 249.8L527.2 249.8L526.2 249.6L525.7 249.8L525.8 250.5L526.3 251.5L526.7 252.6L526.8 253.3L526.2 253.6L525.1 253.3L524.1 252.8L523.3 252.4L522.8 252.6L522.8 253.4L522.9 254.6L523.1 255.6L522.7 256.3L521.9 256.2L521.1 255.5L520.3 254.6L519.7 254.2L519.2 254.4L518.9 255.3L518.8 256.4L518.4 257.4L517.7 257.6L517.2 257.2L516.7 256.2L516.2 255.2L515.7 254.7L515.2 254.9L514.7 255.8L514 256.7L513.4 257.2L512.8 257.2L512.5 256.4L512.3 255.3L512.1 254.3L512 253.9L511.6 254L510.6 254.5L509.6 255L508.8 255.2L508.3 254.7L508.5 253.7L509.1 252.7L509.5 251.8L509.4 251.3L508.9 251.3L507.9 251.2L506.8 250.8L506.3 250.4L506.4 249.5L507.5 249.1L508.6 249L509.5 248.8L509.5 248.7L509.3 248.2L509.1 247.1L508.9 246L509.6 245.2L510.5 245.5L511 246.4L511.5 247.5L511.6 248L511.7 248.1L512.5 247.7L513.5 247.2L514.6 247L515.2 247.6L515 248.2L514.3 249.1L513.7 250L513.3 250.4L513.5 250.5L514.3 251L515.4 251.5L516.1 252.1L516.2 252.6L515.5 253.2L514.3 253.4L513.3 253.5L512.8 253.8L512.9 254.4L513.5 255.2L514.3 256.1L514.5 257L514 257.5L513.1 257.4L512 257L511 256.8L510.5 257.1L510.6 257.8L510.9 258.8L511.3 259.8L511.2 260.7L510.4 260.9L509.6 260.4L508.6 259.7L507.8 259.3L507.4 259.5L507.2 260.3L507.3 261.4L507.3 262.5L506.9 263.1L506.1 263L505.4 262.2L504.7 261.3L504 260.8L503.6 261L503.3 261.9L503.1 263L502.8 263.9L502.2 264.3L501.5 263.8L501 262.8L500.5 261.8L500 261.3L499.5 261.5L499 262.4L498.5 263.4L498 264.2L497.2 264.2L496.7 263.4L496.6 262.3L496.4 261.2L496.1 260.7L495.5 260.9L494.7 261.6L493.9 262.4L493 262.8L492.4 262.2L492.5 261.4L492.8 260.2L493 259.3L492.7 258.8L492.2 259L491.2 259.1L490.1 259L489.5 258.8L489.5 258.2L490 257.3L491.2 257.1L492.1 256.9L492.1 256.9L491.8 256.4L491.9 255.3L491.9 254.2L492.7 253.5L493.7 254.1L493.9 255.1L494 256.3L494 256.9L494.1 256.9L495 256.8L496.1 256.5L497 256.3L497.7 256.8L497.5 257.7L496.7 258.5L495.9 259.2L495.5 259.8L495.8 260L496.6 260.3L497.6 261L498.3 261.5L498.3 262.1L497.6 262.5L496.5 262.8L495.5 262.8L495 263L495 263.6L495.6 264.5L496.2 265.5L496.4 266.4L495.8 266.8L495 266.6L493.9 266.2L493 265.9L492.4 266.1L492.5 266.7L492.6 267.8L492.6 268.9L492.4 269.5L491.9 269.6L491.1 269.1L490.1 268.4L489.3 267.9L489.1 268L488.9 268.7L488.6 269.8L488.3 270.8L487.9 271.2L487.3 271L486.6 270.2L486 269.2L485.7 268.6L485.2 268.6L484.6 269.3L484.1 270.4L483.5 271.2L483 271.4L482.4 270.8L482.1 269.7L481.9 268.6L481.6 268L481 268.1L480.3 268.7L479.5 269.6L478.6 269.9L478.1 269.7L478 268.9L478.1 267.8L478.3 266.8L478.3 266.3L477.7 266.2L476.7 266.5L475.5 266.7L474.7 266.4L474.5 265.8L475.1 265L476 264.4L476.7 264.8L476.3 265.2L475.8 264.2L476.4 264.3L476.7 265.5L476.2 266.3L475.7 266.3L474.8 265.7L474.2 264.7L473.6 264L473.1 263.9L472.8 264.6L472.2 265.5L471.5 266.3L470.9 266.6L470.5 266.1L470.2 265.1L470.1 264L470 263.3L469.6 263.1L468.8 263.5L467.8 264.2L467 264.7L466.3 264.5L466.1 263.7L466.4 262.6L466.8 261.6L466.7 260.9L466.2 260.7L465.3 261L464.2 261.2L463.3 261.1L463 260.8L463.2 260L463.9 259L464.4 258.1L464.5 257.7L464.1 257.5L463.1 257.3L462 257.1L461.2 256.7L461.2 256.2L461.8 255.5L462.8 254.9L463.7 254.4L463.9 253.9L463.4 253.4L462.4 252.9L461.5 252.2L461.2 251.4L461.6 251L462.5 250.8L463.7 250.7L464.5 250.6L464.7 250.4L464.5 249.6L463.9 248.7L463.4 247.7L463.4 247.1L464 246.9L465 247L466.1 247.4L466.9 247.6L467.2 247.2L467.1 246.3L466.8 245.2L466.7 244.2L466.9 243.7L467.7 243.7L468.7 244.4L469.6 245.1L470.2 245.3L470.6 244.9L470.7 243.9L470.7 242.8L470.9 241.9L471.3 241.6L472.2 242L472.9 242.9L473.5 243.7L474.1 244L474.5 243.6L474.9 242.6L475.2 241.6L475.6 240.9L476.2 240.9L476.8 241.5L477.3 242.6L477.7 243.5L478.1 243.8L478.7 243.4L479.3 242.5L479.9 241.6L480.5 241.2L481 241.4L481.3 242.3L481.6 243.4L481.6 244.3L482.1 244.6L482.8 244.2L483.7 243.5L484.5 242.9L485.1 242.8L485.4 243.3L485.5 244.4L485.4 245.4L485.2 246.1L485.6 246.4L486.4 246.3L487.5 245.9L488.5 245.7L489 245.9L489.1 246.8L488.4 247.8L487.7 248.6L487.4 249.2L487.8 249.6L488.8 249.8L490 250.1L490.6 250.9L490.5 251.4L489.8 251.7L488.7 251.9L487.8 251.5L487.2 251.5L487.4 251.9L487.2 252.8L486.7 253.8L485.8 254.3L485 253.7L485.1 252.9L485.3 251.8L485.9 251L485.8 250.5L485.2 250.3L484.1 250.3L482.9 250.1L482.3 249.4L482.5 248.9L483.4 248.4L484.4 247.8L485.1 247.6L485.3 247.3L484.8 246.7L484 245.9L483.3 245.1L483.1 244.5L483.7 244L484.8 244L485.9 244.2L486.7 244.1L486.9 243.7L486.6 242.8L486.1 241.8L485.9 240.8L486.2 240.3L486.9 240.3L487.9 240.7L488.9 241.1L489.6 241.2L489.7 240.8L489.7 239.9L489.6 238.7L489.7 237.8L490.1 237.5L490.8 237.8L491.8 238.5L492.5 239.1L493 239.4L493.4 238.9L493.6 237.9L493.8 236.7L494.1 236L494.7 235.9L495.4 236.6L496 237.5L496.6 238.3L497.1 238.5L497.6 237.9L498 236.9L498.5 235.9L499 235.4L499.5 235.7L500 236.5L500.4 237.6L500.7 238.4L501.2 238.6L501.8 238L502.5 237.1L503.2 236.4L503.8 236.2L504.2 236.7" fill="none" stroke="#2f5fae" stroke-width="0.85"/><text x="503.4" y="276" font-size="8.6" fill="#111" textLength="34.6" lengthAdjust="spacingAndGlyphs">Genome</text></g><text x="2" y="360.9" font-size="16.2" fill="#000" font-weight="bold" textLength="8" lengthAdjust="spacingAndGlyphs" stroke="#000" stroke-width="0.55">B</text><text x="137" y="366.1" font-size="9.8" fill="#000" font-weight="bold" font-style="italic" textLength="32.3" lengthAdjust="spacingAndGlyphs" stroke="#000" stroke-width="0.3">SNRPN</text><text x="172.1" y="366.1" font-size="9.8" fill="#000" font-weight="bold" textLength="22.5" lengthAdjust="spacingAndGlyphs" stroke="#000" stroke-width="0.3">locus</text><text x="134.6" y="567.2" font-size="9.6" fill="#000" font-weight="bold" font-style="italic" textLength="29.6" lengthAdjust="spacingAndGlyphs" stroke="#000" stroke-width="0.3">PEG10</text><text x="166.8" y="567.2" font-size="9.6" fill="#000" font-weight="bold" textLength="23.3" lengthAdjust="spacingAndGlyphs" stroke="#000" stroke-width="0.3">locus</text><text x="131.3" y="769.3" font-size="9.6" fill="#000" font-weight="bold" font-style="italic" textLength="49.5" lengthAdjust="spacingAndGlyphs" stroke="#000" stroke-width="0.3">KCNQ1OT1</text><text x="184.8" y="769.3" font-size="9.6" fill="#000" font-weight="bold" textLength="23.2" lengthAdjust="spacingAndGlyphs" stroke="#000" stroke-width="0.3">locus</text><rect x="30.5" y="372.1" width="269.7" height="173.5" fill="#fcfcfc" stroke="#9c9c9c" stroke-width="1"/><line x1="33" y1="379.2" x2="158.5" y2="379.2" stroke="#555" stroke-width="0.8"/><line x1="172.5" y1="379.2" x2="297.2" y2="379.2" stroke="#555" stroke-width="0.8"/><text x="161.5" y="380.5" font-size="3.8" fill="#222" font-weight="bold">10 kb</text><line x1="33" y1="392.9" x2="297.7" y2="392.9" stroke="#666" stroke-width="0.8"/><path stroke="#777" stroke-width="0.7" d="M59.3 389.7v3.2M93.4 389.7v3.2M127.5 389.7v3.2M161.5 389.7v3.2M195.6 389.7v3.2M229.4 389.7v3.2M263.8 389.7v3.2M297.9 389.7v3.2"/><text x="93.4" y="388" font-size="3.3" fill="#333" font-weight="bold" text-anchor="middle">24,950 kb</text><text x="161.5" y="388" font-size="3.3" fill="#333" font-weight="bold" text-anchor="middle">24,955 kb</text><text x="229.4" y="388" font-size="3.3" fill="#333" font-weight="bold" text-anchor="middle">24,960 kb</text><text x="296" y="388" font-size="3.3" fill="#333" font-weight="bold" text-anchor="middle">24,9</text><rect x="31.5" y="395.5" width="267.7" height="2.2" fill="#e6e6e6"/><line x1="31.5" y1="404.2" x2="45" y2="404.2" stroke="#d0d0d0" stroke-width="0.6"/><line x1="32.5" y1="412.8" x2="45" y2="412.8" stroke="#444" stroke-width="0.7"/><rect x="33" y="419.4" width="5.5" height="3.95" fill="#d3dcd3"/><rect x="39.2" y="419.4" width="0.9" height="3.95" fill="#e8508a"/><rect x="33" y="448.2" width="5.5" height="3.95" fill="#d3dcd3"/><rect x="39.2" y="448.2" width="0.9" height="3.95" fill="#e8508a"/><path fill="#d3dcd3" d="M44.6 419.4h233.9v4h-233.9zM44.6 429h233.9v4h-233.9zM44.6 433.8h233.9v4h-233.9zM44.6 438.6h233.9v4h-233.9zM44.6 448.2h233.9v4h-233.9zM44.6 453h233.9v4h-233.9zM44.6 457.8h233.9v4h-233.9z"/><path fill="#d0d0d0" d="M44.6 424.2h233.9v4h-233.9zM44.6 443.4h233.9v4h-233.9zM44.6 462.6h233.9v4h-233.9z"/><rect x="45" y="399.7" width="233" height="12.9" rx="1" fill="#a9a9a9"/><path fill="#8436d6" d="M49.6 415h3.8l-1.9 3zM54.7 415h3.8l-1.9 3zM68 415h3.8l-1.9 3zM73.7 415h3.8l-1.9 3zM79.2 415h3.8l-1.9 3zM93.5 415h3.8l-1.9 3zM96.6 415h3.8l-1.9 3zM99.7 415h3.8l-1.9 3zM106.8 415h3.8l-1.9 3zM109.9 415h3.8l-1.9 3zM113 415h3.8l-1.9 3zM115.6 415h3.8l-1.9 3zM124.2 415h3.8l-1.9 3zM138.5 415h3.8l-1.9 3zM145.7 415h3.8l-1.9 3zM165.1 415h3.8l-1.9 3zM167.6 415h3.8l-1.9 3zM170.1 415h3.8l-1.9 3zM172.6 415h3.8l-1.9 3zM176.1 415h3.8l-1.9 3zM178.6 415h3.8l-1.9 3zM181.1 415h3.8l-1.9 3zM183.6 415h3.8l-1.9 3zM188.1 415h3.8l-1.9 3zM190.6 415h3.8l-1.9 3zM193.1 415h3.8l-1.9 3zM196.1 415h3.8l-1.9 3zM199.1 415h3.8l-1.9 3zM201.6 415h3.8l-1.9 3zM206.1 415h3.8l-1.9 3zM209.1 415h3.8l-1.9 3zM212.1 415h3.8l-1.9 3zM214.6 415h3.8l-1.9 3zM217.1 415h3.8l-1.9 3zM220.1 415h3.8l-1.9 3zM224.1 415h3.8l-1.9 3zM235.6 415h3.8l-1.9 3zM239.1 415h3.8l-1.9 3zM242.1 415h3.8l-1.9 3zM244.6 415h3.8l-1.9 3zM255.1 415h3.8l-1.9 3zM257.6 415h3.8l-1.9 3zM260.6 415h3.8l-1.9 3zM264.6 415h3.8l-1.9 3z"/><rect x="31.5" y="467.6" width="267.7" height="2.4" fill="#e2e2e2"/><line x1="31.5" y1="476" x2="45" y2="476" stroke="#d0d0d0" stroke-width="0.6"/><line x1="32.5" y1="483.6" x2="45" y2="483.6" stroke="#444" stroke-width="0.7"/><path fill="#d0d0d0" d="M44.6 489.6h250.4v4h-250.4zM44.6 494.4h250.4v4h-250.4zM44.6 499.2h250.4v4h-250.4z"/><path fill="#d3dcd3" d="M43.9 504h251.1v4h-251.1zM43.9 508.8h251.1v4h-251.1zM43.9 513.6h251.1v4h-251.1zM38.5 518.4h240v4h-240zM38.5 523.2h240v4h-240zM38.5 528h240v4h-240zM38.5 532.8h240v4h-240zM33 537.6h245.5v4h-245.5z"/><rect x="45" y="470" width="233" height="13.4" rx="1" fill="#a9a9a9"/><path fill="#8436d6" d="M49.6 485.9h3.8l-1.9 3zM54.7 485.9h3.8l-1.9 3zM68 485.9h3.8l-1.9 3zM73.7 485.9h3.8l-1.9 3zM79.2 485.9h3.8l-1.9 3zM93.5 485.9h3.8l-1.9 3zM96.6 485.9h3.8l-1.9 3zM99.7 485.9h3.8l-1.9 3zM106.8 485.9h3.8l-1.9 3zM109.9 485.9h3.8l-1.9 3zM113 485.9h3.8l-1.9 3zM115.6 485.9h3.8l-1.9 3zM124.2 485.9h3.8l-1.9 3zM138.5 485.9h3.8l-1.9 3zM145.7 485.9h3.8l-1.9 3zM165.1 485.9h3.8l-1.9 3zM167.6 485.9h3.8l-1.9 3zM170.1 485.9h3.8l-1.9 3zM172.6 485.9h3.8l-1.9 3zM176.1 485.9h3.8l-1.9 3zM178.6 485.9h3.8l-1.9 3zM181.1 485.9h3.8l-1.9 3zM183.6 485.9h3.8l-1.9 3zM188.1 485.9h3.8l-1.9 3zM190.6 485.9h3.8l-1.9 3zM193.1 485.9h3.8l-1.9 3zM196.1 485.9h3.8l-1.9 3zM199.1 485.9h3.8l-1.9 3zM201.6 485.9h3.8l-1.9 3zM206.1 485.9h3.8l-1.9 3zM209.1 485.9h3.8l-1.9 3zM212.1 485.9h3.8l-1.9 3zM214.6 485.9h3.8l-1.9 3zM217.1 485.9h3.8l-1.9 3zM220.1 485.9h3.8l-1.9 3zM224.1 485.9h3.8l-1.9 3zM235.6 485.9h3.8l-1.9 3zM239.1 485.9h3.8l-1.9 3zM242.1 485.9h3.8l-1.9 3zM244.6 485.9h3.8l-1.9 3zM255.1 485.9h3.8l-1.9 3zM257.6 485.9h3.8l-1.9 3zM260.6 485.9h3.8l-1.9 3zM264.6 485.9h3.8l-1.9 3z"/><path fill="#f07070" d="M45.5 433.8h1.4v4h-1.4zM56.2 453h1.2v4h-1.2zM77.3 429h1.4v4h-1.4zM105.5 419.4h1.7v4h-1.7zM221.9 424.2h1.4v4h-1.4zM231.1 419.4h1.7v4h-1.7zM231.1 462.6h1.7v4h-1.7zM266.9 462.6h1.2v4h-1.2zM52.1 532.8h2v4h-2zM70.3 504h1.7v4h-1.7zM70.3 518.4h1.7v4h-1.7zM79.2 518.4h1.4v4h-1.4zM81.1 508.8h.9v4h-.9zM82.1 523.2h1.7v4h-1.7zM82.1 528h1.7v4h-1.7zM85.1 494.4h1v4h-1zM85.1 499.2h1v4h-1zM94.8 489.6h1.4v4h-1.4zM97.9 489.6h1.7v4h-1.7zM108.1 518.4h1v4h-1zM113.2 499.2h1.4v4h-1.4zM119.9 518.4h1.7v4h-1.7zM123 528h1.2v4h-1.2zM138.6 494.4h2v4h-2zM140.8 494.4h1.7v4h-1.7zM149.1 499.2h2v4h-2zM158 504h1.4v4h-1.4zM173.3 528h1.7v4h-1.7zM176.6 489.6h1.4v4h-1.4zM178.7 489.6h1.4v4h-1.4zM181.4 504h1.2v4h-1.2zM181.4 508.8h1.2v4h-1.2zM187 537.6h1v4h-1zM192.5 504h1.4v4h-1.4zM194.8 489.6h1.4v4h-1.4zM194.8 504h1.4v4h-1.4zM194.8 513.6h1.4v4h-1.4zM200 528h1.7v4h-1.7zM206.2 528h.8v4h-.8zM214.1 513.6h1.2v4h-1.2zM241.2 508.8h1.4v4h-1.4zM241.2 528h1.4v4h-1.4zM262.2 499.2h1.4v4h-1.4zM273 513.6h1.7v4h-1.7zM278.2 489.6h1.2v4h-1.2zM278.2 504h1.2v4h-1.2zM280.8 494.4h1.7v4h-1.7zM293 489.6h1v4h-1z"/><path fill="#0808f2" d="M45.5 443.4h1.4v4h-1.4zM52.1 419.4h2v4h-2zM68.5 433.8h1.2v4h-1.2zM68.5 443.4h1.2v4h-1.2zM68.5 448.2h1.2v4h-1.2zM68.5 453h1.2v4h-1.2zM68.5 462.6h1.2v4h-1.2zM70.3 433.8h1.7v4h-1.7zM70.3 438.6h1.7v4h-1.7zM70.3 453h1.7v4h-1.7zM70.3 462.6h1.7v4h-1.7zM72.4 448.2h1.2v4h-1.2zM74 429h1.7v4h-1.7zM74 433.8h1.7v4h-1.7zM74 438.6h1.7v4h-1.7zM74 443.4h1.7v4h-1.7zM74 448.2h1.7v4h-1.7zM74 453h1.7v4h-1.7zM74 457.8h1.7v4h-1.7zM74 462.6h1.7v4h-1.7zM77.3 419.4h1.4v4h-1.4zM77.3 424.2h1.4v4h-1.4zM77.3 433.8h1.4v4h-1.4zM77.3 448.2h1.4v4h-1.4zM77.3 453h1.4v4h-1.4zM82.1 419.4h1.7v4h-1.7zM82.1 424.2h1.7v4h-1.7zM82.1 433.8h1.7v4h-1.7zM82.1 443.4h1.7v4h-1.7zM82.1 462.6h1.7v4h-1.7zM85.1 433.8h1v4h-1zM85.1 443.4h1v4h-1zM85.1 448.2h1v4h-1zM85.1 457.8h1v4h-1zM85.1 462.6h1v4h-1zM89.3 419.4h2v4h-2zM89.3 424.2h2v4h-2zM89.3 433.8h2v4h-2zM89.3 438.6h2v4h-2zM89.3 443.4h2v4h-2zM89.3 448.2h2v4h-2zM89.3 453h2v4h-2zM89.3 457.8h2v4h-2zM89.3 462.6h2v4h-2zM97.9 419.4h1.7v4h-1.7zM97.9 429h1.7v4h-1.7zM97.9 433.8h1.7v4h-1.7zM97.9 438.6h1.7v4h-1.7zM97.9 443.4h1.7v4h-1.7zM97.9 448.2h1.7v4h-1.7zM97.9 453h1.7v4h-1.7zM97.9 457.8h1.7v4h-1.7zM100.7 419.4h1v4h-1zM100.7 429h1v4h-1zM100.7 433.8h1v4h-1zM100.7 443.4h1v4h-1zM100.7 448.2h1v4h-1zM100.7 453h1v4h-1zM100.7 457.8h1v4h-1zM103.4 419.4h1.7v4h-1.7zM103.4 429h1.7v4h-1.7zM103.4 433.8h1.7v4h-1.7zM103.4 438.6h1.7v4h-1.7zM103.4 443.4h1.7v4h-1.7zM103.4 448.2h1.7v4h-1.7zM103.4 453h1.7v4h-1.7zM103.4 457.8h1.7v4h-1.7zM103.4 462.6h1.7v4h-1.7zM105.5 424.2h1.7v4h-1.7zM108.1 424.2h1v4h-1zM108.1 429h1v4h-1zM108.1 443.4h1v4h-1zM108.1 448.2h1v4h-1zM108.1 462.6h1v4h-1zM110.6 419.4h1v4h-1zM110.6 424.2h1v4h-1zM110.6 429h1v4h-1zM110.6 433.8h1v4h-1zM110.6 438.6h1v4h-1zM110.6 443.4h1v4h-1zM110.6 448.2h1v4h-1zM110.6 453h1v4h-1zM110.6 457.8h1v4h-1zM110.6 462.6h1v4h-1zM113.2 419.4h1.4v4h-1.4zM113.2 424.2h1.4v4h-1.4zM113.2 429h1.4v4h-1.4zM113.2 433.8h1.4v4h-1.4zM113.2 438.6h1.4v4h-1.4zM113.2 443.4h1.4v4h-1.4zM113.2 448.2h1.4v4h-1.4zM113.2 453h1.4v4h-1.4zM113.2 457.8h1.4v4h-1.4zM113.2 462.6h1.4v4h-1.4zM115 419.4h2v4h-2zM115 424.2h2v4h-2zM115 429h2v4h-2zM115 443.4h2v4h-2zM115 448.2h2v4h-2zM115 453h2v4h-2zM115 457.8h2v4h-2zM115 462.6h2v4h-2zM119.9 419.4h1.7v4h-1.7zM119.9 424.2h1.7v4h-1.7zM119.9 429h1.7v4h-1.7zM119.9 433.8h1.7v4h-1.7zM119.9 438.6h1.7v4h-1.7zM119.9 443.4h1.7v4h-1.7zM119.9 448.2h1.7v4h-1.7zM119.9 453h1.7v4h-1.7zM119.9 457.8h1.7v4h-1.7zM119.9 462.6h1.7v4h-1.7zM121.6 419.4h1.4v4h-1.4zM121.6 424.2h1.4v4h-1.4zM121.6 429h1.4v4h-1.4zM121.6 433.8h1.4v4h-1.4zM121.6 438.6h1.4v4h-1.4zM121.6 443.4h1.4v4h-1.4zM121.6 448.2h1.4v4h-1.4zM121.6 453h1.4v4h-1.4zM121.6 457.8h1.4v4h-1.4zM121.6 462.6h1.4v4h-1.4zM123 419.4h1.2v4h-1.2zM123 424.2h1.2v4h-1.2zM123 429h1.2v4h-1.2zM123 433.8h1.2v4h-1.2zM123 438.6h1.2v4h-1.2zM123 443.4h1.2v4h-1.2zM123 448.2h1.2v4h-1.2zM123 453h1.2v4h-1.2zM123 457.8h1.2v4h-1.2zM123 462.6h1.2v4h-1.2zM124.2 419.4h1.4v4h-1.4zM124.2 424.2h1.4v4h-1.4zM124.2 433.8h1.4v4h-1.4zM124.2 438.6h1.4v4h-1.4zM124.2 443.4h1.4v4h-1.4zM124.2 453h1.4v4h-1.4zM124.2 457.8h1.4v4h-1.4zM124.2 462.6h1.4v4h-1.4zM125.8 419.4h2v4h-2zM125.8 429h2v4h-2zM125.8 438.6h2v4h-2zM125.8 443.4h2v4h-2zM125.8 448.2h2v4h-2zM125.8 453h2v4h-2zM125.8 457.8h2v4h-2zM125.8 462.6h2v4h-2zM127.8 424.2h1.2v4h-1.2zM127.8 429h1.2v4h-1.2zM127.8 433.8h1.2v4h-1.2zM127.8 438.6h1.2v4h-1.2zM127.8 443.4h1.2v4h-1.2zM127.8 448.2h1.2v4h-1.2zM127.8 453h1.2v4h-1.2zM127.8 457.8h1.2v4h-1.2zM127.8 462.6h1.2v4h-1.2zM129 419.4h2v4h-2zM129 424.2h2v4h-2zM129 429h2v4h-2zM129 438.6h2v4h-2zM129 443.4h2v4h-2zM129 448.2h2v4h-2zM129 453h2v4h-2zM129 457.8h2v4h-2zM129 462.6h2v4h-2zM131 419.4h1.2v4h-1.2zM131 424.2h1.2v4h-1.2zM131 433.8h1.2v4h-1.2zM131 438.6h1.2v4h-1.2zM131 448.2h1.2v4h-1.2zM131 453h1.2v4h-1.2zM131 457.8h1.2v4h-1.2zM132.4 419.4h2v4h-2zM132.4 424.2h2v4h-2zM132.4 429h2v4h-2zM132.4 433.8h2v4h-2zM132.4 438.6h2v4h-2zM132.4 443.4h2v4h-2zM132.4 448.2h2v4h-2zM132.4 453h2v4h-2zM132.4 457.8h2v4h-2zM132.4 462.6h2v4h-2zM134.6 419.4h1v4h-1zM134.6 424.2h1v4h-1zM134.6 429h1v4h-1zM134.6 433.8h1v4h-1zM134.6 438.6h1v4h-1zM134.6 448.2h1v4h-1zM134.6 453h1v4h-1zM134.6 457.8h1v4h-1zM134.6 462.6h1v4h-1zM135.6 419.4h1v4h-1zM135.6 424.2h1v4h-1zM135.6 429h1v4h-1zM135.6 433.8h1v4h-1zM135.6 438.6h1v4h-1zM135.6 443.4h1v4h-1zM135.6 448.2h1v4h-1zM135.6 453h1v4h-1zM135.6 457.8h1v4h-1zM135.6 462.6h1v4h-1zM136.6 419.4h2v4h-2zM136.6 424.2h2v4h-2zM136.6 429h2v4h-2zM136.6 433.8h2v4h-2zM136.6 438.6h2v4h-2zM136.6 443.4h2v4h-2zM136.6 448.2h2v4h-2zM136.6 453h2v4h-2zM136.6 457.8h2v4h-2zM138.6 419.4h2v4h-2zM138.6 424.2h2v4h-2zM138.6 429h2v4h-2zM138.6 433.8h2v4h-2zM138.6 438.6h2v4h-2zM138.6 448.2h2v4h-2zM138.6 453h2v4h-2zM138.6 457.8h2v4h-2zM138.6 462.6h2v4h-2zM140.8 419.4h1.7v4h-1.7zM140.8 424.2h1.7v4h-1.7zM140.8 429h1.7v4h-1.7zM140.8 433.8h1.7v4h-1.7zM140.8 438.6h1.7v4h-1.7zM140.8 443.4h1.7v4h-1.7zM140.8 448.2h1.7v4h-1.7zM140.8 453h1.7v4h-1.7zM140.8 457.8h1.7v4h-1.7zM140.8 462.6h1.7v4h-1.7zM142.5 419.4h2v4h-2zM142.5 424.2h2v4h-2zM142.5 429h2v4h-2zM142.5 433.8h2v4h-2zM142.5 438.6h2v4h-2zM142.5 443.4h2v4h-2zM142.5 448.2h2v4h-2zM142.5 453h2v4h-2zM142.5 457.8h2v4h-2zM142.5 462.6h2v4h-2zM144.6 419.4h1.7v4h-1.7zM144.6 424.2h1.7v4h-1.7zM144.6 429h1.7v4h-1.7zM144.6 433.8h1.7v4h-1.7zM144.6 438.6h1.7v4h-1.7zM144.6 443.4h1.7v4h-1.7zM144.6 448.2h1.7v4h-1.7zM144.6 453h1.7v4h-1.7zM144.6 457.8h1.7v4h-1.7zM144.6 462.6h1.7v4h-1.7zM146.5 419.4h1.2v4h-1.2zM146.5 424.2h1.2v4h-1.2zM146.5 429h1.2v4h-1.2zM146.5 433.8h1.2v4h-1.2zM146.5 438.6h1.2v4h-1.2zM146.5 443.4h1.2v4h-1.2zM146.5 448.2h1.2v4h-1.2zM146.5 453h1.2v4h-1.2zM146.5 457.8h1.2v4h-1.2zM146.5 462.6h1.2v4h-1.2zM147.9 419.4h1.2v4h-1.2zM147.9 424.2h1.2v4h-1.2zM147.9 429h1.2v4h-1.2zM147.9 433.8h1.2v4h-1.2zM147.9 438.6h1.2v4h-1.2zM147.9 443.4h1.2v4h-1.2zM147.9 448.2h1.2v4h-1.2zM147.9 453h1.2v4h-1.2zM147.9 457.8h1.2v4h-1.2zM147.9 462.6h1.2v4h-1.2zM149.1 419.4h2v4h-2zM149.1 424.2h2v4h-2zM149.1 429h2v4h-2zM149.1 433.8h2v4h-2zM149.1 438.6h2v4h-2zM149.1 443.4h2v4h-2zM149.1 448.2h2v4h-2zM149.1 453h2v4h-2zM149.1 457.8h2v4h-2zM149.1 462.6h2v4h-2zM151.1 419.4h1.2v4h-1.2zM151.1 424.2h1.2v4h-1.2zM151.1 429h1.2v4h-1.2zM151.1 433.8h1.2v4h-1.2zM151.1 438.6h1.2v4h-1.2zM151.1 443.4h1.2v4h-1.2zM151.1 448.2h1.2v4h-1.2zM151.1 453h1.2v4h-1.2zM151.1 457.8h1.2v4h-1.2zM151.1 462.6h1.2v4h-1.2zM152.3 419.4h1.2v4h-1.2zM152.3 424.2h1.2v4h-1.2zM152.3 429h1.2v4h-1.2zM152.3 433.8h1.2v4h-1.2zM152.3 438.6h1.2v4h-1.2zM152.3 443.4h1.2v4h-1.2zM152.3 448.2h1.2v4h-1.2zM152.3 453h1.2v4h-1.2zM152.3 457.8h1.2v4h-1.2zM152.3 462.6h1.2v4h-1.2zM153.5 419.4h1.4v4h-1.4zM153.5 424.2h1.4v4h-1.4zM153.5 429h1.4v4h-1.4zM153.5 433.8h1.4v4h-1.4zM153.5 438.6h1.4v4h-1.4zM153.5 443.4h1.4v4h-1.4zM153.5 448.2h1.4v4h-1.4zM153.5 453h1.4v4h-1.4zM153.5 462.6h1.4v4h-1.4zM154.9 419.4h1v4h-1zM154.9 424.2h1v4h-1zM154.9 429h1v4h-1zM154.9 433.8h1v4h-1zM154.9 438.6h1v4h-1zM154.9 443.4h1v4h-1zM154.9 448.2h1v4h-1zM154.9 453h1v4h-1zM154.9 457.8h1v4h-1zM155.9 419.4h2v4h-2zM155.9 424.2h2v4h-2zM155.9 429h2v4h-2zM155.9 433.8h2v4h-2zM155.9 438.6h2v4h-2zM155.9 443.4h2v4h-2zM155.9 448.2h2v4h-2zM155.9 453h2v4h-2zM155.9 457.8h2v4h-2zM155.9 462.6h2v4h-2zM158 419.4h1.4v4h-1.4zM158 429h1.4v4h-1.4zM158 433.8h1.4v4h-1.4zM158 438.6h1.4v4h-1.4zM158 443.4h1.4v4h-1.4zM158 448.2h1.4v4h-1.4zM158 453h1.4v4h-1.4zM158 457.8h1.4v4h-1.4zM158 462.6h1.4v4h-1.4zM159.4 419.4h1v4h-1zM159.4 424.2h1v4h-1zM159.4 429h1v4h-1zM159.4 438.6h1v4h-1zM159.4 443.4h1v4h-1zM159.4 448.2h1v4h-1zM159.4 453h1v4h-1zM159.4 457.8h1v4h-1zM159.4 462.6h1v4h-1zM160.4 419.4h1.4v4h-1.4zM160.4 424.2h1.4v4h-1.4zM160.4 429h1.4v4h-1.4zM160.4 433.8h1.4v4h-1.4zM160.4 438.6h1.4v4h-1.4zM160.4 443.4h1.4v4h-1.4zM160.4 453h1.4v4h-1.4zM160.4 457.8h1.4v4h-1.4zM160.4 462.6h1.4v4h-1.4zM162 419.4h1.4v4h-1.4zM162 424.2h1.4v4h-1.4zM162 429h1.4v4h-1.4zM162 433.8h1.4v4h-1.4zM162 438.6h1.4v4h-1.4zM162 443.4h1.4v4h-1.4zM162 453h1.4v4h-1.4zM162 457.8h1.4v4h-1.4zM162 462.6h1.4v4h-1.4zM163.4 419.4h1.4v4h-1.4zM163.4 424.2h1.4v4h-1.4zM163.4 429h1.4v4h-1.4zM163.4 433.8h1.4v4h-1.4zM163.4 438.6h1.4v4h-1.4zM163.4 443.4h1.4v4h-1.4zM163.4 448.2h1.4v4h-1.4zM163.4 453h1.4v4h-1.4zM163.4 462.6h1.4v4h-1.4zM164.8 419.4h1.4v4h-1.4zM164.8 424.2h1.4v4h-1.4zM164.8 429h1.4v4h-1.4zM164.8 433.8h1.4v4h-1.4zM164.8 438.6h1.4v4h-1.4zM164.8 443.4h1.4v4h-1.4zM164.8 448.2h1.4v4h-1.4zM164.8 453h1.4v4h-1.4zM164.8 457.8h1.4v4h-1.4zM164.8 462.6h1.4v4h-1.4zM166.2 424.2h1.2v4h-1.2zM166.2 429h1.2v4h-1.2zM166.2 433.8h1.2v4h-1.2zM166.2 438.6h1.2v4h-1.2zM166.2 443.4h1.2v4h-1.2zM166.2 448.2h1.2v4h-1.2zM166.2 453h1.2v4h-1.2zM166.2 457.8h1.2v4h-1.2zM166.2 462.6h1.2v4h-1.2zM167.4 419.4h1v4h-1zM167.4 424.2h1v4h-1zM167.4 429h1v4h-1zM167.4 433.8h1v4h-1zM167.4 438.6h1v4h-1zM167.4 443.4h1v4h-1zM167.4 448.2h1v4h-1zM167.4 453h1v4h-1zM167.4 457.8h1v4h-1zM167.4 462.6h1v4h-1zM168.5 419.4h1.4v4h-1.4zM168.5 424.2h1.4v4h-1.4zM168.5 429h1.4v4h-1.4zM168.5 433.8h1.4v4h-1.4zM168.5 438.6h1.4v4h-1.4zM168.5 443.4h1.4v4h-1.4zM168.5 448.2h1.4v4h-1.4zM168.5 453h1.4v4h-1.4zM168.5 457.8h1.4v4h-1.4zM168.5 462.6h1.4v4h-1.4zM169.9 424.2h1v4h-1zM169.9 429h1v4h-1zM169.9 433.8h1v4h-1zM169.9 438.6h1v4h-1zM169.9 443.4h1v4h-1zM169.9 453h1v4h-1zM169.9 457.8h1v4h-1zM169.9 462.6h1v4h-1zM170.9 419.4h1.2v4h-1.2zM170.9 424.2h1.2v4h-1.2zM170.9 429h1.2v4h-1.2zM170.9 433.8h1.2v4h-1.2zM170.9 438.6h1.2v4h-1.2zM170.9 443.4h1.2v4h-1.2zM170.9 448.2h1.2v4h-1.2zM170.9 453h1.2v4h-1.2zM170.9 457.8h1.2v4h-1.2zM170.9 462.6h1.2v4h-1.2zM172.1 419.4h1v4h-1zM172.1 424.2h1v4h-1zM172.1 429h1v4h-1zM172.1 438.6h1v4h-1zM172.1 443.4h1v4h-1zM172.1 448.2h1v4h-1zM172.1 453h1v4h-1zM172.1 457.8h1v4h-1zM172.1 462.6h1v4h-1zM173.3 419.4h1.7v4h-1.7zM173.3 424.2h1.7v4h-1.7zM173.3 429h1.7v4h-1.7zM173.3 433.8h1.7v4h-1.7zM173.3 438.6h1.7v4h-1.7zM173.3 443.4h1.7v4h-1.7zM173.3 448.2h1.7v4h-1.7zM173.3 453h1.7v4h-1.7zM173.3 457.8h1.7v4h-1.7zM173.3 462.6h1.7v4h-1.7zM175.2 419.4h.8v4h-.8zM175.2 424.2h.8v4h-.8zM175.2 429h.8v4h-.8zM175.2 433.8h.8v4h-.8zM175.2 438.6h.8v4h-.8zM175.2 443.4h.8v4h-.8zM175.2 448.2h.8v4h-.8zM175.2 453h.8v4h-.8zM175.2 457.8h.8v4h-.8zM175.2 462.6h.8v4h-.8zM176.6 419.4h1.4v4h-1.4zM176.6 424.2h1.4v4h-1.4zM176.6 429h1.4v4h-1.4zM176.6 438.6h1.4v4h-1.4zM176.6 448.2h1.4v4h-1.4zM176.6 457.8h1.4v4h-1.4zM176.6 462.6h1.4v4h-1.4zM178.7 419.4h1.4v4h-1.4zM178.7 424.2h1.4v4h-1.4zM178.7 429h1.4v4h-1.4zM178.7 433.8h1.4v4h-1.4zM178.7 443.4h1.4v4h-1.4zM178.7 457.8h1.4v4h-1.4zM178.7 462.6h1.4v4h-1.4zM181.4 419.4h1.2v4h-1.2zM181.4 424.2h1.2v4h-1.2zM181.4 429h1.2v4h-1.2zM181.4 433.8h1.2v4h-1.2zM181.4 438.6h1.2v4h-1.2zM181.4 443.4h1.2v4h-1.2zM181.4 453h1.2v4h-1.2zM181.4 462.6h1.2v4h-1.2zM184.1 419.4h2v4h-2zM184.1 433.8h2v4h-2zM184.1 443.4h2v4h-2zM184.1 448.2h2v4h-2zM184.1 453h2v4h-2zM187 419.4h1v4h-1zM187 429h1v4h-1zM187 433.8h1v4h-1zM187 438.6h1v4h-1zM187 448.2h1v4h-1zM187 453h1v4h-1zM187 462.6h1v4h-1zM192.5 419.4h1.4v4h-1.4zM192.5 424.2h1.4v4h-1.4zM192.5 429h1.4v4h-1.4zM192.5 433.8h1.4v4h-1.4zM192.5 438.6h1.4v4h-1.4zM192.5 448.2h1.4v4h-1.4zM192.5 453h1.4v4h-1.4zM192.5 457.8h1.4v4h-1.4zM194.8 419.4h1.4v4h-1.4zM194.8 424.2h1.4v4h-1.4zM194.8 429h1.4v4h-1.4zM194.8 438.6h1.4v4h-1.4zM194.8 443.4h1.4v4h-1.4zM194.8 448.2h1.4v4h-1.4zM194.8 453h1.4v4h-1.4zM194.8 457.8h1.4v4h-1.4zM194.8 462.6h1.4v4h-1.4zM200 419.4h1.7v4h-1.7zM200 424.2h1.7v4h-1.7zM200 433.8h1.7v4h-1.7zM200 438.6h1.7v4h-1.7zM200 443.4h1.7v4h-1.7zM200 448.2h1.7v4h-1.7zM200 462.6h1.7v4h-1.7zM203.5 424.2h1.2v4h-1.2zM203.5 429h1.2v4h-1.2zM203.5 433.8h1.2v4h-1.2zM203.5 438.6h1.2v4h-1.2zM203.5 443.4h1.2v4h-1.2zM203.5 453h1.2v4h-1.2zM206.2 419.4h.8v4h-.8zM206.2 429h.8v4h-.8zM206.2 453h.8v4h-.8zM206.2 462.6h.8v4h-.8zM207.1 419.4h1.4v4h-1.4zM207.1 424.2h1.4v4h-1.4zM207.1 429h1.4v4h-1.4zM207.1 433.8h1.4v4h-1.4zM207.1 438.6h1.4v4h-1.4zM207.1 457.8h1.4v4h-1.4zM209.5 419.4h1v4h-1zM209.5 424.2h1v4h-1zM209.5 429h1v4h-1zM209.5 433.8h1v4h-1zM209.5 438.6h1v4h-1zM209.5 443.4h1v4h-1zM209.5 448.2h1v4h-1zM209.5 453h1v4h-1zM209.5 462.6h1v4h-1zM221.9 419.4h1.4v4h-1.4zM221.9 438.6h1.4v4h-1.4zM221.9 448.2h1.4v4h-1.4zM227.5 424.2h2v4h-2zM227.5 429h2v4h-2zM227.5 443.4h2v4h-2zM227.5 448.2h2v4h-2zM227.5 453h2v4h-2zM227.5 457.8h2v4h-2zM231.1 429h1.7v4h-1.7zM231.1 433.8h1.7v4h-1.7zM231.1 443.4h1.7v4h-1.7zM231.1 453h1.7v4h-1.7zM237.5 419.4h1.4v4h-1.4zM237.5 424.2h1.4v4h-1.4zM237.5 433.8h1.4v4h-1.4zM237.5 438.6h1.4v4h-1.4zM237.5 448.2h1.4v4h-1.4zM237.5 457.8h1.4v4h-1.4zM237.5 462.6h1.4v4h-1.4zM241.2 419.4h1.4v4h-1.4zM241.2 424.2h1.4v4h-1.4zM241.2 433.8h1.4v4h-1.4zM241.2 443.4h1.4v4h-1.4zM241.2 462.6h1.4v4h-1.4zM250.2 429h1.2v4h-1.2zM266.9 424.2h1.2v4h-1.2zM266.9 429h1.2v4h-1.2zM266.9 433.8h1.2v4h-1.2zM266.9 443.4h1.2v4h-1.2zM266.9 457.8h1.2v4h-1.2zM268.5 419.4h1.4v4h-1.4zM268.5 424.2h1.4v4h-1.4zM268.5 433.8h1.4v4h-1.4zM268.5 438.6h1.4v4h-1.4zM268.5 462.6h1.4v4h-1.4zM276.3 424.2h1v4h-1zM276.3 448.2h1v4h-1zM276.3 453h1v4h-1zM276.3 462.6h1v4h-1zM56.2 489.6h1.2v4h-1.2zM56.2 513.6h1.2v4h-1.2zM56.2 528h1.2v4h-1.2zM72.4 537.6h1.2v4h-1.2zM74 489.6h1.7v4h-1.7zM74 494.4h1.7v4h-1.7zM74 499.2h1.7v4h-1.7zM74 504h1.7v4h-1.7zM74 523.2h1.7v4h-1.7zM74 528h1.7v4h-1.7zM82.1 489.6h1.7v4h-1.7zM82.1 537.6h1.7v4h-1.7zM89.3 494.4h2v4h-2zM89.3 499.2h2v4h-2zM89.3 504h2v4h-2zM89.3 518.4h2v4h-2zM89.3 528h2v4h-2zM103.4 489.6h1.7v4h-1.7zM103.4 513.6h1.7v4h-1.7zM103.4 518.4h1.7v4h-1.7zM103.4 523.2h1.7v4h-1.7zM103.4 528h1.7v4h-1.7zM103.4 537.6h1.7v4h-1.7zM105.5 532.8h1.7v4h-1.7zM110.6 489.6h1v4h-1zM110.6 499.2h1v4h-1zM110.6 504h1v4h-1zM110.6 508.8h1v4h-1zM110.6 513.6h1v4h-1zM110.6 518.4h1v4h-1zM110.6 523.2h1v4h-1zM110.6 528h1v4h-1zM113.2 513.6h1.4v4h-1.4zM113.2 532.8h1.4v4h-1.4zM115 504h2v4h-2zM115 523.2h2v4h-2zM115 528h2v4h-2zM115 537.6h2v4h-2zM142.5 504h2v4h-2zM142.5 523.2h2v4h-2zM152.3 523.2h1.2v4h-1.2zM153.5 528h1.4v4h-1.4zM154.9 489.6h1v4h-1zM154.9 494.4h1v4h-1zM155.9 499.2h2v4h-2zM167.4 489.6h1v4h-1zM167.4 523.2h1v4h-1zM169.9 504h1v4h-1zM176.6 508.8h1.4v4h-1.4zM176.6 513.6h1.4v4h-1.4zM176.6 518.4h1.4v4h-1.4zM176.6 528h1.4v4h-1.4zM181.4 513.6h1.2v4h-1.2zM194.8 532.8h1.4v4h-1.4zM200 499.2h1.7v4h-1.7zM203.5 518.4h1.2v4h-1.2zM203.5 528h1.2v4h-1.2zM203.5 537.6h1.2v4h-1.2zM206.2 494.4h.8v4h-.8zM206.2 508.8h.8v4h-.8zM206.2 518.4h.8v4h-.8zM207.1 489.6h1.4v4h-1.4zM207.1 494.4h1.4v4h-1.4zM207.1 499.2h1.4v4h-1.4zM207.1 504h1.4v4h-1.4zM207.1 508.8h1.4v4h-1.4zM207.1 513.6h1.4v4h-1.4zM207.1 518.4h1.4v4h-1.4zM207.1 532.8h1.4v4h-1.4zM207.1 537.6h1.4v4h-1.4zM227.5 489.6h2v4h-2zM227.5 494.4h2v4h-2zM227.5 499.2h2v4h-2zM227.5 518.4h2v4h-2zM227.5 523.2h2v4h-2zM227.5 528h2v4h-2zM227.5 532.8h2v4h-2zM227.5 537.6h2v4h-2zM231.1 508.8h1.7v4h-1.7zM231.1 518.4h1.7v4h-1.7zM231.1 532.8h1.7v4h-1.7zM241.2 489.6h1.4v4h-1.4zM241.2 499.2h1.4v4h-1.4zM241.2 532.8h1.4v4h-1.4zM250.2 494.4h1.2v4h-1.2zM250.2 499.2h1.2v4h-1.2zM250.2 504h1.2v4h-1.2zM250.2 532.8h1.2v4h-1.2zM250.2 537.6h1.2v4h-1.2zM262.2 508.8h1.4v4h-1.4zM262.2 518.4h1.4v4h-1.4zM262.2 528h1.4v4h-1.4zM262.2 532.8h1.4v4h-1.4zM287.5 494.4h2v4h-2z"/><path fill="#f70606" d="M45.5 462.6h1.4v4h-1.4zM56.2 448.2h1.2v4h-1.2zM56.2 462.6h1.2v4h-1.2zM68.5 424.2h1.2v4h-1.2zM68.5 438.6h1.2v4h-1.2zM68.5 457.8h1.2v4h-1.2zM70.3 424.2h1.7v4h-1.7zM70.3 429h1.7v4h-1.7zM70.3 443.4h1.7v4h-1.7zM70.3 448.2h1.7v4h-1.7zM72.4 419.4h1.2v4h-1.2zM72.4 424.2h1.2v4h-1.2zM72.4 429h1.2v4h-1.2zM72.4 438.6h1.2v4h-1.2zM72.4 457.8h1.2v4h-1.2zM72.4 462.6h1.2v4h-1.2zM77.3 438.6h1.4v4h-1.4zM77.3 443.4h1.4v4h-1.4zM77.3 457.8h1.4v4h-1.4zM77.3 462.6h1.4v4h-1.4zM79.2 419.4h1.4v4h-1.4zM79.2 429h1.4v4h-1.4zM79.2 433.8h1.4v4h-1.4zM79.2 438.6h1.4v4h-1.4zM79.2 443.4h1.4v4h-1.4zM79.2 453h1.4v4h-1.4zM79.2 457.8h1.4v4h-1.4zM79.2 462.6h1.4v4h-1.4zM81.1 419.4h.9v4h-.9zM81.1 424.2h.9v4h-.9zM81.1 429h.9v4h-.9zM81.1 433.8h.9v4h-.9zM81.1 438.6h.9v4h-.9zM81.1 443.4h.9v4h-.9zM81.1 448.2h.9v4h-.9zM81.1 453h.9v4h-.9zM81.1 457.8h.9v4h-.9zM85.1 424.2h1v4h-1zM85.1 438.6h1v4h-1zM94.8 419.4h1.4v4h-1.4zM94.8 433.8h1.4v4h-1.4zM94.8 438.6h1.4v4h-1.4zM94.8 443.4h1.4v4h-1.4zM94.8 448.2h1.4v4h-1.4zM94.8 453h1.4v4h-1.4zM94.8 462.6h1.4v4h-1.4zM105.5 429h1.7v4h-1.7zM105.5 433.8h1.7v4h-1.7zM105.5 438.6h1.7v4h-1.7zM105.5 443.4h1.7v4h-1.7zM105.5 448.2h1.7v4h-1.7zM105.5 453h1.7v4h-1.7zM105.5 462.6h1.7v4h-1.7zM108.1 457.8h1v4h-1zM124.2 448.2h1.4v4h-1.4zM127.8 419.4h1.2v4h-1.2zM134.6 443.4h1v4h-1zM163.4 457.8h1.4v4h-1.4zM184.1 424.2h2v4h-2zM203.5 457.8h1.2v4h-1.2zM214.1 419.4h1.2v4h-1.2zM214.1 429h1.2v4h-1.2zM214.1 433.8h1.2v4h-1.2zM214.1 438.6h1.2v4h-1.2zM214.1 448.2h1.2v4h-1.2zM214.1 457.8h1.2v4h-1.2zM221.9 429h1.4v4h-1.4zM221.9 462.6h1.4v4h-1.4zM231.1 438.6h1.7v4h-1.7zM250.2 419.4h1.2v4h-1.2zM250.2 424.2h1.2v4h-1.2zM250.2 433.8h1.2v4h-1.2zM250.2 438.6h1.2v4h-1.2zM250.2 443.4h1.2v4h-1.2zM250.2 448.2h1.2v4h-1.2zM250.2 453h1.2v4h-1.2zM250.2 457.8h1.2v4h-1.2zM250.2 462.6h1.2v4h-1.2zM262.2 419.4h1.4v4h-1.4zM262.2 424.2h1.4v4h-1.4zM262.2 429h1.4v4h-1.4zM262.2 433.8h1.4v4h-1.4zM262.2 438.6h1.4v4h-1.4zM262.2 443.4h1.4v4h-1.4zM262.2 453h1.4v4h-1.4zM262.2 457.8h1.4v4h-1.4zM262.2 462.6h1.4v4h-1.4zM266.9 438.6h1.2v4h-1.2zM273 419.4h1.7v4h-1.7zM273 429h1.7v4h-1.7zM273 433.8h1.7v4h-1.7zM273 443.4h1.7v4h-1.7zM273 448.2h1.7v4h-1.7zM273 462.6h1.7v4h-1.7zM276.3 419.4h1v4h-1zM276.3 433.8h1v4h-1zM276.3 438.6h1v4h-1zM276.3 443.4h1v4h-1zM38.6 518.4h1.2v4h-1.2zM38.6 537.6h1.2v4h-1.2zM45.5 494.4h1.4v4h-1.4zM45.5 518.4h1.4v4h-1.4zM45.5 528h1.4v4h-1.4zM45.5 537.6h1.4v4h-1.4zM52.1 499.2h2v4h-2zM52.1 508.8h2v4h-2zM52.1 513.6h2v4h-2zM52.1 523.2h2v4h-2zM52.1 537.6h2v4h-2zM56.2 499.2h1.2v4h-1.2zM68.5 494.4h1.2v4h-1.2zM68.5 504h1.2v4h-1.2zM68.5 508.8h1.2v4h-1.2zM68.5 513.6h1.2v4h-1.2zM68.5 518.4h1.2v4h-1.2zM68.5 523.2h1.2v4h-1.2zM68.5 532.8h1.2v4h-1.2zM68.5 537.6h1.2v4h-1.2zM70.3 489.6h1.7v4h-1.7zM70.3 494.4h1.7v4h-1.7zM70.3 499.2h1.7v4h-1.7zM70.3 508.8h1.7v4h-1.7zM70.3 513.6h1.7v4h-1.7zM70.3 523.2h1.7v4h-1.7zM70.3 528h1.7v4h-1.7zM70.3 537.6h1.7v4h-1.7zM72.4 494.4h1.2v4h-1.2zM72.4 499.2h1.2v4h-1.2zM72.4 504h1.2v4h-1.2zM72.4 508.8h1.2v4h-1.2zM72.4 513.6h1.2v4h-1.2zM72.4 523.2h1.2v4h-1.2zM72.4 528h1.2v4h-1.2zM72.4 532.8h1.2v4h-1.2zM74 508.8h1.7v4h-1.7zM74 518.4h1.7v4h-1.7zM74 532.8h1.7v4h-1.7zM74 537.6h1.7v4h-1.7zM77.3 489.6h1.4v4h-1.4zM77.3 494.4h1.4v4h-1.4zM77.3 499.2h1.4v4h-1.4zM77.3 504h1.4v4h-1.4zM77.3 513.6h1.4v4h-1.4zM77.3 518.4h1.4v4h-1.4zM77.3 523.2h1.4v4h-1.4zM77.3 532.8h1.4v4h-1.4zM77.3 537.6h1.4v4h-1.4zM79.2 489.6h1.4v4h-1.4zM79.2 494.4h1.4v4h-1.4zM79.2 499.2h1.4v4h-1.4zM79.2 504h1.4v4h-1.4zM79.2 508.8h1.4v4h-1.4zM79.2 513.6h1.4v4h-1.4zM79.2 523.2h1.4v4h-1.4zM79.2 528h1.4v4h-1.4zM79.2 532.8h1.4v4h-1.4zM79.2 537.6h1.4v4h-1.4zM81.1 489.6h.9v4h-.9zM81.1 494.4h.9v4h-.9zM81.1 499.2h.9v4h-.9zM81.1 504h.9v4h-.9zM81.1 513.6h.9v4h-.9zM81.1 518.4h.9v4h-.9zM81.1 523.2h.9v4h-.9zM81.1 528h.9v4h-.9zM81.1 532.8h.9v4h-.9zM81.1 537.6h.9v4h-.9zM82.1 494.4h1.7v4h-1.7zM82.1 499.2h1.7v4h-1.7zM82.1 508.8h1.7v4h-1.7zM82.1 513.6h1.7v4h-1.7zM82.1 518.4h1.7v4h-1.7zM82.1 532.8h1.7v4h-1.7zM85.1 489.6h1v4h-1zM85.1 504h1v4h-1zM85.1 508.8h1v4h-1zM85.1 513.6h1v4h-1zM85.1 518.4h1v4h-1zM85.1 523.2h1v4h-1zM85.1 528h1v4h-1zM85.1 537.6h1v4h-1zM89.3 489.6h2v4h-2zM89.3 508.8h2v4h-2zM89.3 523.2h2v4h-2zM89.3 532.8h2v4h-2zM89.3 537.6h2v4h-2zM94.8 504h1.4v4h-1.4zM94.8 508.8h1.4v4h-1.4zM94.8 513.6h1.4v4h-1.4zM94.8 518.4h1.4v4h-1.4zM94.8 523.2h1.4v4h-1.4zM94.8 528h1.4v4h-1.4zM94.8 532.8h1.4v4h-1.4zM94.8 537.6h1.4v4h-1.4zM97.9 494.4h1.7v4h-1.7zM97.9 504h1.7v4h-1.7zM97.9 508.8h1.7v4h-1.7zM97.9 513.6h1.7v4h-1.7zM97.9 518.4h1.7v4h-1.7zM97.9 523.2h1.7v4h-1.7zM97.9 528h1.7v4h-1.7zM97.9 532.8h1.7v4h-1.7zM97.9 537.6h1.7v4h-1.7zM100.7 489.6h1v4h-1zM100.7 494.4h1v4h-1zM100.7 499.2h1v4h-1zM100.7 504h1v4h-1zM100.7 508.8h1v4h-1zM100.7 513.6h1v4h-1zM100.7 518.4h1v4h-1zM100.7 523.2h1v4h-1zM100.7 528h1v4h-1zM100.7 532.8h1v4h-1zM105.5 489.6h1.7v4h-1.7zM105.5 494.4h1.7v4h-1.7zM105.5 499.2h1.7v4h-1.7zM105.5 504h1.7v4h-1.7zM105.5 508.8h1.7v4h-1.7zM105.5 518.4h1.7v4h-1.7zM105.5 528h1.7v4h-1.7zM105.5 537.6h1.7v4h-1.7zM108.1 499.2h1v4h-1zM108.1 508.8h1v4h-1zM108.1 513.6h1v4h-1zM108.1 523.2h1v4h-1zM108.1 532.8h1v4h-1zM108.1 537.6h1v4h-1zM113.2 489.6h1.4v4h-1.4zM113.2 494.4h1.4v4h-1.4zM113.2 508.8h1.4v4h-1.4zM113.2 518.4h1.4v4h-1.4zM113.2 523.2h1.4v4h-1.4zM113.2 528h1.4v4h-1.4zM113.2 537.6h1.4v4h-1.4zM115 489.6h2v4h-2zM115 518.4h2v4h-2zM119.9 489.6h1.7v4h-1.7zM119.9 494.4h1.7v4h-1.7zM119.9 499.2h1.7v4h-1.7zM119.9 504h1.7v4h-1.7zM119.9 508.8h1.7v4h-1.7zM119.9 513.6h1.7v4h-1.7zM119.9 523.2h1.7v4h-1.7zM119.9 528h1.7v4h-1.7zM119.9 532.8h1.7v4h-1.7zM119.9 537.6h1.7v4h-1.7zM121.6 489.6h1.4v4h-1.4zM121.6 494.4h1.4v4h-1.4zM121.6 499.2h1.4v4h-1.4zM121.6 508.8h1.4v4h-1.4zM121.6 513.6h1.4v4h-1.4zM121.6 518.4h1.4v4h-1.4zM121.6 528h1.4v4h-1.4zM121.6 532.8h1.4v4h-1.4zM121.6 537.6h1.4v4h-1.4zM123 489.6h1.2v4h-1.2zM123 494.4h1.2v4h-1.2zM123 499.2h1.2v4h-1.2zM123 504h1.2v4h-1.2zM123 508.8h1.2v4h-1.2zM123 513.6h1.2v4h-1.2zM123 518.4h1.2v4h-1.2zM123 523.2h1.2v4h-1.2zM123 532.8h1.2v4h-1.2zM123 537.6h1.2v4h-1.2zM124.2 489.6h1.4v4h-1.4zM124.2 494.4h1.4v4h-1.4zM124.2 499.2h1.4v4h-1.4zM124.2 504h1.4v4h-1.4zM124.2 508.8h1.4v4h-1.4zM124.2 513.6h1.4v4h-1.4zM124.2 518.4h1.4v4h-1.4zM124.2 523.2h1.4v4h-1.4zM124.2 528h1.4v4h-1.4zM124.2 532.8h1.4v4h-1.4zM124.2 537.6h1.4v4h-1.4zM125.8 489.6h2v4h-2zM125.8 494.4h2v4h-2zM125.8 499.2h2v4h-2zM125.8 513.6h2v4h-2zM125.8 518.4h2v4h-2zM125.8 523.2h2v4h-2zM125.8 532.8h2v4h-2zM127.8 494.4h1.2v4h-1.2zM127.8 499.2h1.2v4h-1.2zM127.8 504h1.2v4h-1.2zM127.8 508.8h1.2v4h-1.2zM127.8 513.6h1.2v4h-1.2zM127.8 518.4h1.2v4h-1.2zM127.8 528h1.2v4h-1.2zM127.8 532.8h1.2v4h-1.2zM127.8 537.6h1.2v4h-1.2zM129 489.6h2v4h-2zM129 494.4h2v4h-2zM129 499.2h2v4h-2zM129 504h2v4h-2zM129 508.8h2v4h-2zM129 513.6h2v4h-2zM129 518.4h2v4h-2zM129 528h2v4h-2zM129 532.8h2v4h-2zM129 537.6h2v4h-2zM131 489.6h1.2v4h-1.2zM131 494.4h1.2v4h-1.2zM131 499.2h1.2v4h-1.2zM131 504h1.2v4h-1.2zM131 513.6h1.2v4h-1.2zM131 518.4h1.2v4h-1.2zM131 528h1.2v4h-1.2zM131 532.8h1.2v4h-1.2zM131 537.6h1.2v4h-1.2zM132.4 489.6h2v4h-2zM132.4 494.4h2v4h-2zM132.4 499.2h2v4h-2zM132.4 508.8h2v4h-2zM132.4 513.6h2v4h-2zM132.4 518.4h2v4h-2zM132.4 532.8h2v4h-2zM132.4 537.6h2v4h-2zM134.6 494.4h1v4h-1zM134.6 499.2h1v4h-1zM134.6 508.8h1v4h-1zM134.6 513.6h1v4h-1zM134.6 518.4h1v4h-1zM134.6 523.2h1v4h-1zM134.6 528h1v4h-1zM134.6 532.8h1v4h-1zM134.6 537.6h1v4h-1zM135.6 489.6h1v4h-1zM135.6 494.4h1v4h-1zM135.6 508.8h1v4h-1zM135.6 513.6h1v4h-1zM135.6 518.4h1v4h-1zM135.6 523.2h1v4h-1zM135.6 528h1v4h-1zM135.6 532.8h1v4h-1zM135.6 537.6h1v4h-1zM136.6 489.6h2v4h-2zM136.6 494.4h2v4h-2zM136.6 504h2v4h-2zM136.6 508.8h2v4h-2zM136.6 513.6h2v4h-2zM136.6 518.4h2v4h-2zM136.6 523.2h2v4h-2zM136.6 528h2v4h-2zM136.6 532.8h2v4h-2zM136.6 537.6h2v4h-2zM138.6 489.6h2v4h-2zM138.6 499.2h2v4h-2zM138.6 504h2v4h-2zM138.6 508.8h2v4h-2zM138.6 513.6h2v4h-2zM138.6 518.4h2v4h-2zM138.6 523.2h2v4h-2zM138.6 528h2v4h-2zM138.6 537.6h2v4h-2zM140.8 489.6h1.7v4h-1.7zM140.8 499.2h1.7v4h-1.7zM140.8 508.8h1.7v4h-1.7zM140.8 513.6h1.7v4h-1.7zM140.8 518.4h1.7v4h-1.7zM140.8 523.2h1.7v4h-1.7zM140.8 528h1.7v4h-1.7zM140.8 532.8h1.7v4h-1.7zM140.8 537.6h1.7v4h-1.7zM142.5 489.6h2v4h-2zM142.5 494.4h2v4h-2zM142.5 499.2h2v4h-2zM142.5 508.8h2v4h-2zM142.5 513.6h2v4h-2zM142.5 518.4h2v4h-2zM142.5 528h2v4h-2zM142.5 532.8h2v4h-2zM144.6 489.6h1.7v4h-1.7zM144.6 494.4h1.7v4h-1.7zM144.6 499.2h1.7v4h-1.7zM144.6 504h1.7v4h-1.7zM144.6 508.8h1.7v4h-1.7zM144.6 518.4h1.7v4h-1.7zM144.6 528h1.7v4h-1.7zM144.6 537.6h1.7v4h-1.7zM146.5 489.6h1.2v4h-1.2zM146.5 494.4h1.2v4h-1.2zM146.5 499.2h1.2v4h-1.2zM146.5 504h1.2v4h-1.2zM146.5 508.8h1.2v4h-1.2zM146.5 513.6h1.2v4h-1.2zM146.5 518.4h1.2v4h-1.2zM146.5 523.2h1.2v4h-1.2zM146.5 532.8h1.2v4h-1.2zM146.5 537.6h1.2v4h-1.2zM147.9 499.2h1.2v4h-1.2zM147.9 504h1.2v4h-1.2zM147.9 508.8h1.2v4h-1.2zM147.9 513.6h1.2v4h-1.2zM147.9 518.4h1.2v4h-1.2zM147.9 523.2h1.2v4h-1.2zM147.9 528h1.2v4h-1.2zM147.9 532.8h1.2v4h-1.2zM147.9 537.6h1.2v4h-1.2zM149.1 489.6h2v4h-2zM149.1 513.6h2v4h-2zM149.1 518.4h2v4h-2zM149.1 528h2v4h-2zM149.1 532.8h2v4h-2zM149.1 537.6h2v4h-2zM151.1 489.6h1.2v4h-1.2zM151.1 494.4h1.2v4h-1.2zM151.1 499.2h1.2v4h-1.2zM151.1 504h1.2v4h-1.2zM151.1 508.8h1.2v4h-1.2zM151.1 513.6h1.2v4h-1.2zM151.1 518.4h1.2v4h-1.2zM151.1 523.2h1.2v4h-1.2zM151.1 528h1.2v4h-1.2zM151.1 532.8h1.2v4h-1.2zM151.1 537.6h1.2v4h-1.2zM152.3 489.6h1.2v4h-1.2zM152.3 494.4h1.2v4h-1.2zM152.3 504h1.2v4h-1.2zM152.3 508.8h1.2v4h-1.2zM152.3 513.6h1.2v4h-1.2zM152.3 518.4h1.2v4h-1.2zM152.3 528h1.2v4h-1.2zM152.3 532.8h1.2v4h-1.2zM152.3 537.6h1.2v4h-1.2zM153.5 489.6h1.4v4h-1.4zM153.5 494.4h1.4v4h-1.4zM153.5 504h1.4v4h-1.4zM153.5 508.8h1.4v4h-1.4zM153.5 518.4h1.4v4h-1.4zM153.5 532.8h1.4v4h-1.4zM154.9 499.2h1v4h-1zM154.9 504h1v4h-1zM154.9 513.6h1v4h-1zM154.9 528h1v4h-1zM154.9 532.8h1v4h-1zM155.9 494.4h2v4h-2zM155.9 504h2v4h-2zM155.9 508.8h2v4h-2zM155.9 513.6h2v4h-2zM155.9 518.4h2v4h-2zM155.9 523.2h2v4h-2zM155.9 528h2v4h-2zM155.9 532.8h2v4h-2zM158 489.6h1.4v4h-1.4zM158 494.4h1.4v4h-1.4zM158 499.2h1.4v4h-1.4zM158 508.8h1.4v4h-1.4zM158 513.6h1.4v4h-1.4zM158 518.4h1.4v4h-1.4zM158 523.2h1.4v4h-1.4zM159.4 489.6h1v4h-1zM159.4 494.4h1v4h-1zM159.4 499.2h1v4h-1zM159.4 504h1v4h-1zM159.4 513.6h1v4h-1zM159.4 518.4h1v4h-1zM159.4 523.2h1v4h-1zM159.4 528h1v4h-1zM159.4 532.8h1v4h-1zM159.4 537.6h1v4h-1zM160.4 489.6h1.4v4h-1.4zM160.4 494.4h1.4v4h-1.4zM160.4 499.2h1.4v4h-1.4zM160.4 504h1.4v4h-1.4zM160.4 508.8h1.4v4h-1.4zM160.4 513.6h1.4v4h-1.4zM160.4 518.4h1.4v4h-1.4zM160.4 523.2h1.4v4h-1.4zM160.4 528h1.4v4h-1.4zM160.4 532.8h1.4v4h-1.4zM160.4 537.6h1.4v4h-1.4zM162 489.6h1.4v4h-1.4zM162 494.4h1.4v4h-1.4zM162 499.2h1.4v4h-1.4zM162 504h1.4v4h-1.4zM162 508.8h1.4v4h-1.4zM162 513.6h1.4v4h-1.4zM162 518.4h1.4v4h-1.4zM162 523.2h1.4v4h-1.4zM162 528h1.4v4h-1.4zM162 532.8h1.4v4h-1.4zM162 537.6h1.4v4h-1.4zM163.4 494.4h1.4v4h-1.4zM163.4 499.2h1.4v4h-1.4zM163.4 504h1.4v4h-1.4zM163.4 508.8h1.4v4h-1.4zM163.4 513.6h1.4v4h-1.4zM163.4 518.4h1.4v4h-1.4zM163.4 523.2h1.4v4h-1.4zM163.4 528h1.4v4h-1.4zM163.4 532.8h1.4v4h-1.4zM163.4 537.6h1.4v4h-1.4zM164.8 489.6h1.4v4h-1.4zM164.8 494.4h1.4v4h-1.4zM164.8 499.2h1.4v4h-1.4zM164.8 504h1.4v4h-1.4zM164.8 508.8h1.4v4h-1.4zM164.8 513.6h1.4v4h-1.4zM164.8 518.4h1.4v4h-1.4zM164.8 523.2h1.4v4h-1.4zM164.8 528h1.4v4h-1.4zM164.8 532.8h1.4v4h-1.4zM164.8 537.6h1.4v4h-1.4zM166.2 489.6h1.2v4h-1.2zM166.2 494.4h1.2v4h-1.2zM166.2 499.2h1.2v4h-1.2zM166.2 504h1.2v4h-1.2zM166.2 508.8h1.2v4h-1.2zM166.2 518.4h1.2v4h-1.2zM166.2 523.2h1.2v4h-1.2zM166.2 528h1.2v4h-1.2zM166.2 532.8h1.2v4h-1.2zM167.4 499.2h1v4h-1zM167.4 504h1v4h-1zM167.4 508.8h1v4h-1zM167.4 513.6h1v4h-1zM167.4 518.4h1v4h-1zM167.4 528h1v4h-1zM167.4 532.8h1v4h-1zM167.4 537.6h1v4h-1zM168.5 489.6h1.4v4h-1.4zM168.5 494.4h1.4v4h-1.4zM168.5 499.2h1.4v4h-1.4zM168.5 504h1.4v4h-1.4zM168.5 508.8h1.4v4h-1.4zM168.5 513.6h1.4v4h-1.4zM168.5 523.2h1.4v4h-1.4zM168.5 528h1.4v4h-1.4zM169.9 489.6h1v4h-1zM169.9 508.8h1v4h-1zM169.9 513.6h1v4h-1zM169.9 518.4h1v4h-1zM169.9 523.2h1v4h-1zM169.9 528h1v4h-1zM169.9 532.8h1v4h-1zM169.9 537.6h1v4h-1zM170.9 489.6h1.2v4h-1.2zM170.9 494.4h1.2v4h-1.2zM170.9 504h1.2v4h-1.2zM170.9 508.8h1.2v4h-1.2zM170.9 513.6h1.2v4h-1.2zM170.9 518.4h1.2v4h-1.2zM170.9 523.2h1.2v4h-1.2zM170.9 528h1.2v4h-1.2zM170.9 532.8h1.2v4h-1.2zM170.9 537.6h1.2v4h-1.2zM172.1 489.6h1v4h-1zM172.1 494.4h1v4h-1zM172.1 499.2h1v4h-1zM172.1 504h1v4h-1zM172.1 508.8h1v4h-1zM172.1 513.6h1v4h-1zM172.1 518.4h1v4h-1zM172.1 528h1v4h-1zM172.1 537.6h1v4h-1zM173.3 489.6h1.7v4h-1.7zM173.3 494.4h1.7v4h-1.7zM173.3 499.2h1.7v4h-1.7zM173.3 504h1.7v4h-1.7zM173.3 508.8h1.7v4h-1.7zM173.3 513.6h1.7v4h-1.7zM173.3 523.2h1.7v4h-1.7zM173.3 532.8h1.7v4h-1.7zM173.3 537.6h1.7v4h-1.7zM175.2 489.6h.8v4h-.8zM175.2 494.4h.8v4h-.8zM175.2 499.2h.8v4h-.8zM175.2 504h.8v4h-.8zM175.2 508.8h.8v4h-.8zM175.2 513.6h.8v4h-.8zM175.2 518.4h.8v4h-.8zM175.2 528h.8v4h-.8zM175.2 537.6h.8v4h-.8zM176.6 499.2h1.4v4h-1.4zM176.6 504h1.4v4h-1.4zM176.6 532.8h1.4v4h-1.4zM176.6 537.6h1.4v4h-1.4zM178.7 494.4h1.4v4h-1.4zM178.7 504h1.4v4h-1.4zM178.7 508.8h1.4v4h-1.4zM178.7 513.6h1.4v4h-1.4zM178.7 518.4h1.4v4h-1.4zM178.7 523.2h1.4v4h-1.4zM178.7 528h1.4v4h-1.4zM178.7 532.8h1.4v4h-1.4zM178.7 537.6h1.4v4h-1.4zM181.4 489.6h1.2v4h-1.2zM181.4 494.4h1.2v4h-1.2zM181.4 499.2h1.2v4h-1.2zM181.4 518.4h1.2v4h-1.2zM181.4 523.2h1.2v4h-1.2zM181.4 528h1.2v4h-1.2zM181.4 532.8h1.2v4h-1.2zM181.4 537.6h1.2v4h-1.2zM184.1 489.6h2v4h-2zM184.1 494.4h2v4h-2zM184.1 499.2h2v4h-2zM184.1 504h2v4h-2zM184.1 508.8h2v4h-2zM184.1 513.6h2v4h-2zM184.1 518.4h2v4h-2zM184.1 523.2h2v4h-2zM184.1 528h2v4h-2zM184.1 532.8h2v4h-2zM184.1 537.6h2v4h-2zM187 489.6h1v4h-1zM187 494.4h1v4h-1zM187 499.2h1v4h-1zM187 508.8h1v4h-1zM187 513.6h1v4h-1zM187 518.4h1v4h-1zM187 523.2h1v4h-1zM187 532.8h1v4h-1zM192.5 489.6h1.4v4h-1.4zM192.5 494.4h1.4v4h-1.4zM192.5 499.2h1.4v4h-1.4zM192.5 508.8h1.4v4h-1.4zM192.5 518.4h1.4v4h-1.4zM192.5 523.2h1.4v4h-1.4zM192.5 532.8h1.4v4h-1.4zM192.5 537.6h1.4v4h-1.4zM194.8 494.4h1.4v4h-1.4zM194.8 499.2h1.4v4h-1.4zM194.8 508.8h1.4v4h-1.4zM194.8 518.4h1.4v4h-1.4zM194.8 523.2h1.4v4h-1.4zM194.8 528h1.4v4h-1.4zM194.8 537.6h1.4v4h-1.4zM200 489.6h1.7v4h-1.7zM200 494.4h1.7v4h-1.7zM200 504h1.7v4h-1.7zM200 508.8h1.7v4h-1.7zM200 513.6h1.7v4h-1.7zM200 518.4h1.7v4h-1.7zM200 523.2h1.7v4h-1.7zM200 537.6h1.7v4h-1.7zM203.5 494.4h1.2v4h-1.2zM203.5 499.2h1.2v4h-1.2zM203.5 504h1.2v4h-1.2zM203.5 508.8h1.2v4h-1.2zM203.5 513.6h1.2v4h-1.2zM203.5 523.2h1.2v4h-1.2zM206.2 489.6h.8v4h-.8zM206.2 499.2h.8v4h-.8zM206.2 504h.8v4h-.8zM206.2 513.6h.8v4h-.8zM206.2 523.2h.8v4h-.8zM206.2 532.8h.8v4h-.8zM206.2 537.6h.8v4h-.8zM209.5 489.6h1v4h-1zM209.5 494.4h1v4h-1zM209.5 499.2h1v4h-1zM209.5 508.8h1v4h-1zM209.5 518.4h1v4h-1zM209.5 523.2h1v4h-1zM209.5 528h1v4h-1zM209.5 537.6h1v4h-1zM214.1 489.6h1.2v4h-1.2zM214.1 508.8h1.2v4h-1.2zM214.1 523.2h1.2v4h-1.2zM214.1 528h1.2v4h-1.2zM214.1 532.8h1.2v4h-1.2zM214.1 537.6h1.2v4h-1.2zM221.9 494.4h1.4v4h-1.4zM221.9 499.2h1.4v4h-1.4zM221.9 508.8h1.4v4h-1.4zM221.9 518.4h1.4v4h-1.4zM231.1 494.4h1.7v4h-1.7zM231.1 499.2h1.7v4h-1.7zM231.1 504h1.7v4h-1.7zM231.1 513.6h1.7v4h-1.7zM231.1 523.2h1.7v4h-1.7zM237.5 489.6h1.4v4h-1.4zM237.5 499.2h1.4v4h-1.4zM237.5 508.8h1.4v4h-1.4zM237.5 513.6h1.4v4h-1.4zM237.5 518.4h1.4v4h-1.4zM237.5 523.2h1.4v4h-1.4zM237.5 528h1.4v4h-1.4zM237.5 537.6h1.4v4h-1.4zM241.2 494.4h1.4v4h-1.4zM241.2 504h1.4v4h-1.4zM241.2 518.4h1.4v4h-1.4zM241.2 523.2h1.4v4h-1.4zM262.2 504h1.4v4h-1.4zM262.2 537.6h1.4v4h-1.4zM266.9 499.2h1.2v4h-1.2zM266.9 513.6h1.2v4h-1.2zM266.9 518.4h1.2v4h-1.2zM266.9 532.8h1.2v4h-1.2zM266.9 537.6h1.2v4h-1.2zM268.5 489.6h1.4v4h-1.4zM268.5 494.4h1.4v4h-1.4zM268.5 499.2h1.4v4h-1.4zM268.5 508.8h1.4v4h-1.4zM268.5 518.4h1.4v4h-1.4zM268.5 523.2h1.4v4h-1.4zM268.5 528h1.4v4h-1.4zM268.5 532.8h1.4v4h-1.4zM273 489.6h1.7v4h-1.7zM273 494.4h1.7v4h-1.7zM273 499.2h1.7v4h-1.7zM273 504h1.7v4h-1.7zM273 518.4h1.7v4h-1.7zM273 528h1.7v4h-1.7zM273 537.6h1.7v4h-1.7zM276.3 489.6h1v4h-1zM276.3 494.4h1v4h-1zM276.3 499.2h1v4h-1zM276.3 504h1v4h-1zM276.3 508.8h1v4h-1zM276.3 513.6h1v4h-1zM276.3 518.4h1v4h-1zM276.3 523.2h1v4h-1zM276.3 528h1v4h-1zM276.3 537.6h1v4h-1zM278.2 494.4h1.2v4h-1.2zM278.2 513.6h1.2v4h-1.2zM280.8 499.2h1.7v4h-1.7zM280.8 504h1.7v4h-1.7zM280.8 513.6h1.7v4h-1.7zM287.5 489.6h2v4h-2zM287.5 499.2h2v4h-2zM287.5 504h2v4h-2zM287.5 508.8h2v4h-2zM293 494.4h1v4h-1zM293 499.2h1v4h-1zM293 504h1v4h-1zM293 508.8h1v4h-1zM293 513.6h1v4h-1z"/><path fill="#7a7af2" d="M52.1 453h2v4h-2zM70.3 457.8h1.7v4h-1.7zM82.1 429h1.7v4h-1.7zM85.1 419.4h1v4h-1zM89.3 429h2v4h-2zM97.9 424.2h1.7v4h-1.7zM108.1 438.6h1v4h-1zM124.2 429h1.4v4h-1.4zM125.8 433.8h2v4h-2zM131 429h1.2v4h-1.2zM131 443.4h1.2v4h-1.2zM136.6 462.6h2v4h-2zM154.9 462.6h1v4h-1zM158 424.2h1.4v4h-1.4zM159.4 433.8h1v4h-1zM162 448.2h1.4v4h-1.4zM169.9 419.4h1v4h-1zM181.4 457.8h1.2v4h-1.2zM192.5 462.6h1.4v4h-1.4zM203.5 419.4h1.2v4h-1.2zM203.5 462.6h1.2v4h-1.2zM206.2 424.2h.8v4h-.8zM206.2 438.6h.8v4h-.8zM206.2 443.4h.8v4h-.8zM207.1 462.6h1.4v4h-1.4zM237.5 429h1.4v4h-1.4zM241.2 429h1.4v4h-1.4zM241.2 438.6h1.4v4h-1.4zM268.5 429h1.4v4h-1.4zM268.5 448.2h1.4v4h-1.4zM82.1 504h1.7v4h-1.7zM89.3 513.6h2v4h-2zM103.4 499.2h1.7v4h-1.7zM103.4 504h1.7v4h-1.7zM105.5 523.2h1.7v4h-1.7zM125.8 504h2v4h-2zM125.8 508.8h2v4h-2zM153.5 499.2h1.4v4h-1.4zM153.5 523.2h1.4v4h-1.4zM159.4 508.8h1v4h-1zM167.4 494.4h1v4h-1zM168.5 537.6h1.4v4h-1.4zM176.6 523.2h1.4v4h-1.4zM250.2 489.6h1.2v4h-1.2zM262.2 523.2h1.4v4h-1.4z"/><path fill="#3a3ae0" d="M45.5 411.4h1.1v1.2h-1.1zM52.1 410.8h1.1v1.8h-1.1zM68.5 406.5h1.1v6.1h-1.1zM70.3 407.1h1.1v5.5h-1.1zM72.4 411.4h1.1v1.2h-1.1zM74 402.8h1.1v9.8h-1.1zM77.3 406.5h1.1v6.1h-1.1zM82.1 405.9h1.1v6.7h-1.1zM97.9 402.2h1.1v10.4h-1.1zM100.7 404h1v8.6h-1zM103.4 401.6h1.1v11h-1.1zM105.5 411.4h1.1v1.2h-1.1zM108.1 405.9h1v6.7h-1zM110.6 400.3h1v12.3h-1zM119.9 400.3h1.1v12.3h-1.1zM121.6 400.3h1.1v12.3h-1.1zM123 400.3h1.1v12.3h-1.1zM125.8 402.2h1.1v10.4h-1.1zM127.8 401.6h1.1v11h-1.1zM129 401.6h1.1v11h-1.1zM131 402.8h1.1v9.8h-1.1zM134.6 401.6h1v11h-1zM135.6 400.3h1v12.3h-1zM138.6 401.6h1.1v11h-1.1zM144.6 400.3h1.1v12.3h-1.1zM146.5 400.3h1.1v12.3h-1.1zM147.9 400.3h1.1v12.3h-1.1zM151.1 400.3h1.1v12.3h-1.1zM152.3 400.3h1.1v12.3h-1.1zM153.5 401.6h1.1v11h-1.1zM154.9 401h1v11.6h-1zM158 401h1.1v11.6h-1.1zM159.4 401h1v11.6h-1zM160.4 401.6h1.1v11h-1.1zM162 401h1.1v11.6h-1.1zM167.4 400.3h1v12.3h-1zM168.5 400.3h1.1v12.3h-1.1zM169.9 402.2h1v10.4h-1zM170.9 400.3h1.1v12.3h-1.1zM172.1 401.6h1v11h-1zM176.6 404h1.1v8.6h-1.1zM178.7 404h1.1v8.6h-1.1zM181.4 402.2h1.1v10.4h-1.1zM184.1 406.5h1.1v6.1h-1.1zM187 404h1v8.6h-1zM206.2 405.9h.8v6.7h-.8zM209.5 401.6h1v11h-1zM221.9 408.9h1.1v3.7h-1.1zM227.5 405.2h1.1v7.4h-1.1zM231.1 407.7h1.1v4.9h-1.1zM237.5 403.4h1.1v9.2h-1.1zM268.5 405.2h1.1v7.4h-1.1zM56.2 479.9h1.1v3.5h-1.1zM74 476.5h1.1v6.9h-1.1zM82.1 480.5h1.1v2.9h-1.1zM89.3 477h1.1v6.4h-1.1zM103.4 475.3h1.1v8.1h-1.1zM105.5 481.7h1.1v1.7h-1.1zM110.6 474.1h1v9.3h-1zM113.2 481.1h1.1v2.3h-1.1zM115 478.8h1.1v4.6h-1.1zM125.8 482.2h1.1v1.2h-1.1zM142.5 481.1h1.1v2.3h-1.1zM152.3 482.2h1.1v1.2h-1.1zM153.5 481.1h1.1v2.3h-1.1zM154.9 481.1h1v2.3h-1zM155.9 482.2h1.1v1.2h-1.1zM159.4 482.8h1v.6h-1zM167.4 480.5h1v2.9h-1zM168.5 482.8h1.1v.6h-1.1zM169.9 482.2h1v1.2h-1zM176.6 478.2h1.1v5.2h-1.1zM181.4 482.2h1.1v1.2h-1.1zM194.8 482.2h1.1v1.2h-1.1zM200 482.2h1.1v1.2h-1.1zM203.5 479.9h1.1v3.5h-1.1zM206.2 479.9h.8v3.5h-.8zM207.1 473h1.1v10.4h-1.1zM227.5 474.1h1.1v9.3h-1.1zM231.1 479.9h1.1v3.5h-1.1zM241.2 479.9h1.1v3.5h-1.1zM262.2 478.2h1.1v5.2h-1.1z"/><path fill="#ee3030" d="M45.5 409.5h1.1v1.8h-1.1zM56.2 409.5h1.1v3.1h-1.1zM68.5 402.8h1.1v3.7h-1.1zM70.3 402.2h1.1v4.9h-1.1zM72.4 404h1.1v7.4h-1.1zM77.3 401h1.1v5.5h-1.1zM79.2 402.8h1.1v9.8h-1.1zM94.8 404h1.1v8.6h-1.1zM105.5 402.2h1.1v9.2h-1.1zM108.1 404.6h1v1.2h-1zM127.8 400.3h1.1v1.2h-1.1zM134.6 400.3h1v1.2h-1zM184.1 405.2h1.1v1.2h-1.1zM214.1 405.2h1.1v7.4h-1.1zM221.9 405.9h1.1v3.1h-1.1zM231.1 405.2h1.1v2.5h-1.1zM262.2 401.6h1.1v11h-1.1zM273 405.2h1.1v7.4h-1.1zM45.5 478.8h1.1v4.6h-1.1zM52.1 477h1.1v6.4h-1.1zM56.2 478.8h1.1v1.2h-1.1zM68.5 474.1h1.1v9.3h-1.1zM70.3 473h1.1v10.4h-1.1zM74 471.8h1.1v4.6h-1.1zM81.1 471.2h.9v12.2h-.9zM82.1 472.4h1.1v8.1h-1.1zM85.1 473h1v10.4h-1zM89.3 471.2h1.1v5.8h-1.1zM97.9 472.4h1.1v11h-1.1zM100.7 471.8h1v11.6h-1zM105.5 472.4h1.1v9.3h-1.1zM113.2 472.4h1.1v8.7h-1.1zM115 476.5h1.1v2.3h-1.1zM119.9 471.2h1.1v12.2h-1.1zM121.6 473h1.1v10.4h-1.1zM123 471.2h1.1v12.2h-1.1zM124.2 470.7h1.1v12.7h-1.1zM125.8 474.1h1.1v8.1h-1.1zM127.8 473h1.1v10.4h-1.1zM129 471.8h1.1v11.6h-1.1zM132.4 474.1h1.1v9.3h-1.1zM134.6 473h1v10.4h-1zM135.6 473h1v10.4h-1zM136.6 471.8h1.1v11.6h-1.1zM138.6 472.4h1.1v11h-1.1zM140.8 472.4h1.1v11h-1.1zM142.5 471.8h1.1v9.3h-1.1zM144.6 474.1h1.1v9.3h-1.1zM146.5 471.8h1.1v11.6h-1.1zM147.9 473h1.1v10.4h-1.1zM149.1 475.9h1.1v7.5h-1.1zM152.3 471.8h1.1v10.4h-1.1zM153.5 474.1h1.1v6.9h-1.1zM154.9 475.3h1v5.8h-1zM155.9 473h1.1v9.3h-1.1zM159.4 471.2h1v11.6h-1zM160.4 470.7h1.1v12.7h-1.1zM162 470.7h1.1v12.7h-1.1zM163.4 471.8h1.1v11.6h-1.1zM164.8 470.7h1.1v12.7h-1.1zM166.2 473h1.1v10.4h-1.1zM167.4 471.2h1v9.3h-1zM168.5 473.6h1.1v9.3h-1.1zM169.9 473h1v9.3h-1zM170.9 471.8h1.1v11.6h-1.1zM172.1 473h1v10.4h-1zM173.3 472.4h1.1v11h-1.1zM176.6 473h1.1v5.2h-1.1zM181.4 471.8h1.1v10.4h-1.1zM184.1 470.7h1.1v12.7h-1.1zM187 473.6h1v9.8h-1zM194.8 472.4h1.1v9.8h-1.1zM200 472.4h1.1v9.8h-1.1zM203.5 473h1.1v6.9h-1.1zM206.2 471.2h.8v8.7h-.8zM209.5 474.1h1v9.3h-1zM214.1 475.9h1.1v7.5h-1.1zM231.1 474.1h1.1v5.8h-1.1zM241.2 474.1h1.1v5.8h-1.1zM262.2 475.3h1.1v2.9h-1.1zM266.9 477.6h1.1v5.8h-1.1zM268.5 474.1h1.1v9.3h-1.1zM273 474.7h1.1v8.7h-1.1z"/><path fill="#6a10b8" d="M125.8 537.6h2v4h-2zM127.8 489.6h1.2v4h-1.2zM129 523.2h2v4h-2zM131 508.8h1.2v4h-1.2zM132.4 504h2v4h-2zM132.4 523.2h2v4h-2zM132.4 528h2v4h-2zM136.6 499.2h2v4h-2zM140.8 504h1.7v4h-1.7zM147.9 489.6h1.2v4h-1.2zM149.1 508.8h2v4h-2zM149.1 523.2h2v4h-2zM152.3 499.2h1.2v4h-1.2zM153.5 513.6h1.4v4h-1.4zM153.5 537.6h1.4v4h-1.4zM154.9 518.4h1v4h-1zM154.9 523.2h1v4h-1zM154.9 537.6h1v4h-1zM155.9 489.6h2v4h-2zM158 528h1.4v4h-1.4zM158 532.8h1.4v4h-1.4zM158 537.6h1.4v4h-1.4zM168.5 518.4h1.4v4h-1.4zM169.9 494.4h1v4h-1zM169.9 499.2h1v4h-1zM172.1 523.2h1v4h-1zM175.2 523.2h.8v4h-.8zM175.2 532.8h.8v4h-.8z"/><rect x="120.3" y="398.2" width="87.1" height="144.6" fill="none" stroke="#2fdc2f" stroke-width="2"/><rect x="31.2" y="573.2" width="270.2" height="172.6" fill="#fcfcfc" stroke="#9c9c9c" stroke-width="1"/><line x1="33.7" y1="582.3" x2="158" y2="582.3" stroke="#555" stroke-width="0.8"/><line x1="172" y1="582.3" x2="298.4" y2="582.3" stroke="#555" stroke-width="0.8"/><text x="161" y="583.6" font-size="3.8" fill="#222" font-weight="bold">17 kb</text><line x1="33.7" y1="595.2" x2="298.9" y2="595.2" stroke="#666" stroke-width="0.8"/><path stroke="#777" stroke-width="0.7" d="M42.2 592v3.2M58.9 592v3.2M75.6 592v3.2M92.3 592v3.2M109 592v3.2M125.7 592v3.2M142.4 592v3.2M159.1 592v3.2M175.8 592v3.2M192.5 592v3.2M209.2 592v3.2M225.9 592v3.2M242.6 592v3.2M259.3 592v3.2M276 592v3.2M292.7 592v3.2"/><text x="58.6" y="590.8" font-size="3.3" fill="#333" font-weight="bold" text-anchor="middle">94,650 kb</text><text x="92" y="590.8" font-size="3.3" fill="#333" font-weight="bold" text-anchor="middle">94,652 kb</text><text x="125.4" y="590.8" font-size="3.3" fill="#333" font-weight="bold" text-anchor="middle">94,654 kb</text><text x="158.8" y="590.8" font-size="3.3" fill="#333" font-weight="bold" text-anchor="middle">94,656 kb</text><text x="192.2" y="590.8" font-size="3.3" fill="#333" font-weight="bold" text-anchor="middle">94,658 kb</text><text x="225.6" y="590.8" font-size="3.3" fill="#333" font-weight="bold" text-anchor="middle">94,660 kb</text><text x="259" y="590.8" font-size="3.3" fill="#333" font-weight="bold" text-anchor="middle">94,662 kb</text><text x="292.4" y="590.8" font-size="3.3" fill="#333" font-weight="bold" text-anchor="middle">94,664 kb</text><rect x="32.2" y="597.4" width="268.2" height="2.2" fill="#e6e6e6"/><line x1="32.2" y1="607" x2="44.5" y2="607" stroke="#d0d0d0" stroke-width="0.6"/><line x1="33.2" y1="614.8" x2="44.5" y2="614.8" stroke="#444" stroke-width="0.7"/><path fill="#d3dcd3" d="M33 621h266.5v4h-266.5z"/><path fill="#d0d0d0" d="M44.5 625.8h248v4h-248zM44.5 630.6h248v4h-248zM44.5 635.4h248v4h-248zM44.5 640.2h248v4h-248zM44.5 645h248v4h-248zM44.5 649.8h248v4h-248zM44.5 654.6h248v4h-248zM44.5 659.4h248v4h-248zM44.5 664.2h248v4h-248z"/><rect x="44.5" y="601" width="247.3" height="13.6" rx="1" fill="#a9a9a9"/><path fill="#8436d6" d="M45.6 616.6h3.8l-1.9 3zM48.1 616.6h3.8l-1.9 3zM53.1 616.6h3.8l-1.9 3zM58.1 616.6h3.8l-1.9 3zM60.6 616.6h3.8l-1.9 3zM63.1 616.6h3.8l-1.9 3zM66.1 616.6h3.8l-1.9 3zM75.1 616.6h3.8l-1.9 3zM78.1 616.6h3.8l-1.9 3zM82.1 616.6h3.8l-1.9 3zM84.6 616.6h3.8l-1.9 3zM87.1 616.6h3.8l-1.9 3zM91.1 616.6h3.8l-1.9 3zM93.1 616.6h3.8l-1.9 3zM96.1 616.6h3.8l-1.9 3zM98.6 616.6h3.8l-1.9 3zM108.1 616.6h3.8l-1.9 3zM111.1 616.6h3.8l-1.9 3zM114.1 616.6h3.8l-1.9 3zM125.1 616.6h3.8l-1.9 3zM128.1 616.6h3.8l-1.9 3zM131.1 616.6h3.8l-1.9 3zM133.6 616.6h3.8l-1.9 3zM145.1 616.6h3.8l-1.9 3zM148.1 616.6h3.8l-1.9 3zM150.6 616.6h3.8l-1.9 3zM154.1 616.6h3.8l-1.9 3zM157.1 616.6h3.8l-1.9 3zM160.1 616.6h3.8l-1.9 3zM163.1 616.6h3.8l-1.9 3zM167.1 616.6h3.8l-1.9 3zM170.1 616.6h3.8l-1.9 3zM173.1 616.6h3.8l-1.9 3zM178.1 616.6h3.8l-1.9 3zM181.1 616.6h3.8l-1.9 3zM185.1 616.6h3.8l-1.9 3zM189.1 616.6h3.8l-1.9 3zM191.6 616.6h3.8l-1.9 3zM194.1 616.6h3.8l-1.9 3zM196.6 616.6h3.8l-1.9 3zM200.1 616.6h3.8l-1.9 3zM205.6 616.6h3.8l-1.9 3zM208.1 616.6h3.8l-1.9 3zM222.1 616.6h3.8l-1.9 3zM229.1 616.6h3.8l-1.9 3zM232.1 616.6h3.8l-1.9 3zM236.1 616.6h3.8l-1.9 3zM250.1 616.6h3.8l-1.9 3zM253.1 616.6h3.8l-1.9 3zM256.1 616.6h3.8l-1.9 3zM259.1 616.6h3.8l-1.9 3zM266.1 616.6h3.8l-1.9 3zM273.1 616.6h3.8l-1.9 3zM276.1 616.6h3.8l-1.9 3zM281.1 616.6h3.8l-1.9 3zM287.1 616.6h3.8l-1.9 3zM289.1 616.6h3.8l-1.9 3z"/><rect x="32.2" y="669.6" width="268.2" height="2.4" fill="#e2e2e2"/><line x1="32.2" y1="680" x2="44.5" y2="680" stroke="#d0d0d0" stroke-width="0.6"/><line x1="33.2" y1="687.6" x2="44.5" y2="687.6" stroke="#444" stroke-width="0.7"/><path fill="#d0d0d0" d="M44.5 693.7h255v4h-255zM44.5 698.5h248v4h-248zM44.5 703.3h248v4h-248zM44.5 708.1h248v4h-248zM44.5 712.9h248v4h-248zM44.5 717.7h248v4h-248zM44.5 722.5h248v4h-248zM44.5 727.3h248v4h-248zM44.5 732.1h248v4h-248zM44.5 736.9h248v4h-248z"/><rect x="44.5" y="674.5" width="247.3" height="12.9" rx="1" fill="#a9a9a9"/><path fill="#8436d6" d="M45.6 690h3.8l-1.9 3zM48.1 690h3.8l-1.9 3zM53.1 690h3.8l-1.9 3zM58.1 690h3.8l-1.9 3zM60.6 690h3.8l-1.9 3zM63.1 690h3.8l-1.9 3zM66.1 690h3.8l-1.9 3zM75.1 690h3.8l-1.9 3zM78.1 690h3.8l-1.9 3zM82.1 690h3.8l-1.9 3zM84.6 690h3.8l-1.9 3zM87.1 690h3.8l-1.9 3zM91.1 690h3.8l-1.9 3zM93.1 690h3.8l-1.9 3zM96.1 690h3.8l-1.9 3zM98.6 690h3.8l-1.9 3zM108.1 690h3.8l-1.9 3zM111.1 690h3.8l-1.9 3zM114.1 690h3.8l-1.9 3zM125.1 690h3.8l-1.9 3zM128.1 690h3.8l-1.9 3zM131.1 690h3.8l-1.9 3zM133.6 690h3.8l-1.9 3zM145.1 690h3.8l-1.9 3zM148.1 690h3.8l-1.9 3zM150.6 690h3.8l-1.9 3zM154.1 690h3.8l-1.9 3zM157.1 690h3.8l-1.9 3zM160.1 690h3.8l-1.9 3zM163.1 690h3.8l-1.9 3zM167.1 690h3.8l-1.9 3zM170.1 690h3.8l-1.9 3zM173.1 690h3.8l-1.9 3zM178.1 690h3.8l-1.9 3zM181.1 690h3.8l-1.9 3zM185.1 690h3.8l-1.9 3zM189.1 690h3.8l-1.9 3zM191.6 690h3.8l-1.9 3zM194.1 690h3.8l-1.9 3zM196.6 690h3.8l-1.9 3zM200.1 690h3.8l-1.9 3zM205.6 690h3.8l-1.9 3zM208.1 690h3.8l-1.9 3zM222.1 690h3.8l-1.9 3zM229.1 690h3.8l-1.9 3zM232.1 690h3.8l-1.9 3zM236.1 690h3.8l-1.9 3zM250.1 690h3.8l-1.9 3zM253.1 690h3.8l-1.9 3zM256.1 690h3.8l-1.9 3zM259.1 690h3.8l-1.9 3zM266.1 690h3.8l-1.9 3zM273.1 690h3.8l-1.9 3zM276.1 690h3.8l-1.9 3zM281.1 690h3.8l-1.9 3zM287.1 690h3.8l-1.9 3zM289.1 690h3.8l-1.9 3z"/><path fill="#f70606" d="M45.3 630.6h1.7v4h-1.7zM45.3 635.4h1.7v4h-1.7zM45.3 640.2h1.7v4h-1.7zM45.3 645h1.7v4h-1.7zM45.3 659.4h1.7v4h-1.7zM48.5 621h1.2v4h-1.2zM48.5 630.6h1.2v4h-1.2zM48.5 640.2h1.2v4h-1.2zM48.5 645h1.2v4h-1.2zM48.5 654.6h1.2v4h-1.2zM48.5 659.4h1.2v4h-1.2zM48.5 664.2h1.2v4h-1.2zM60.8 621h1.7v4h-1.7zM60.8 625.8h1.7v4h-1.7zM60.8 630.6h1.7v4h-1.7zM60.8 640.2h1.7v4h-1.7zM60.8 645h1.7v4h-1.7zM60.8 654.6h1.7v4h-1.7zM60.8 659.4h1.7v4h-1.7zM60.8 664.2h1.7v4h-1.7zM64.2 621h1.7v4h-1.7zM64.2 625.8h1.7v4h-1.7zM64.2 645h1.7v4h-1.7zM64.2 649.8h1.7v4h-1.7zM64.2 654.6h1.7v4h-1.7zM66.3 625.8h2v4h-2zM69.5 625.8h1.2v4h-1.2zM69.5 630.6h1.2v4h-1.2zM69.5 640.2h1.2v4h-1.2zM69.5 645h1.2v4h-1.2zM69.5 649.8h1.2v4h-1.2zM69.5 654.6h1.2v4h-1.2zM72.7 621h2v4h-2zM72.7 640.2h2v4h-2zM72.7 645h2v4h-2zM72.7 654.6h2v4h-2zM72.7 659.4h2v4h-2zM78.3 625.8h2v4h-2zM78.3 635.4h2v4h-2zM78.3 640.2h2v4h-2zM78.3 654.6h2v4h-2zM78.3 659.4h2v4h-2zM84.1 630.6h1.2v4h-1.2zM84.1 635.4h1.2v4h-1.2zM84.1 645h1.2v4h-1.2zM84.1 664.2h1.2v4h-1.2zM86.9 635.4h1v4h-1zM86.9 640.2h1v4h-1zM86.9 649.8h1v4h-1zM86.9 659.4h1v4h-1zM89.9 621h1.4v4h-1.4zM89.9 625.8h1.4v4h-1.4zM89.9 635.4h1.4v4h-1.4zM89.9 640.2h1.4v4h-1.4zM89.9 645h1.4v4h-1.4zM89.9 654.6h1.4v4h-1.4zM89.9 664.2h1.4v4h-1.4zM93 621h1.7v4h-1.7zM93 630.6h1.7v4h-1.7zM93 635.4h1.7v4h-1.7zM93 659.4h1.7v4h-1.7zM93 664.2h1.7v4h-1.7zM95.8 625.8h1v4h-1zM95.8 635.4h1v4h-1zM95.8 640.2h1v4h-1zM95.8 649.8h1v4h-1zM95.8 654.6h1v4h-1zM95.8 659.4h1v4h-1zM103.4 621h1.2v4h-1.2zM103.4 625.8h1.2v4h-1.2zM103.4 630.6h1.2v4h-1.2zM103.4 635.4h1.2v4h-1.2zM103.4 640.2h1.2v4h-1.2zM103.4 645h1.2v4h-1.2zM103.4 649.8h1.2v4h-1.2zM103.4 654.6h1.2v4h-1.2zM109.8 621h1v4h-1zM109.8 625.8h1v4h-1zM109.8 630.6h1v4h-1zM109.8 635.4h1v4h-1zM109.8 640.2h1v4h-1zM109.8 645h1v4h-1zM109.8 649.8h1v4h-1zM109.8 654.6h1v4h-1zM109.8 664.2h1v4h-1zM112.9 621h1.2v4h-1.2zM112.9 630.6h1.2v4h-1.2zM112.9 635.4h1.2v4h-1.2zM112.9 640.2h1.2v4h-1.2zM112.9 645h1.2v4h-1.2zM112.9 659.4h1.2v4h-1.2zM112.9 664.2h1.2v4h-1.2zM126.7 621h1.7v4h-1.7zM126.7 625.8h1.7v4h-1.7zM126.7 630.6h1.7v4h-1.7zM126.7 635.4h1.7v4h-1.7zM126.7 640.2h1.7v4h-1.7zM126.7 645h1.7v4h-1.7zM126.7 649.8h1.7v4h-1.7zM126.7 654.6h1.7v4h-1.7zM126.7 659.4h1.7v4h-1.7zM126.7 664.2h1.7v4h-1.7zM132.8 621h1.4v4h-1.4zM132.8 630.6h1.4v4h-1.4zM132.8 635.4h1.4v4h-1.4zM132.8 654.6h1.4v4h-1.4zM136.8 621h1.4v4h-1.4zM138.8 621h1.2v4h-1.2zM138.8 625.8h1.2v4h-1.2zM138.8 635.4h1.2v4h-1.2zM138.8 640.2h1.2v4h-1.2zM138.8 645h1.2v4h-1.2zM138.8 649.8h1.2v4h-1.2zM147.4 654.6h1.4v4h-1.4zM157.3 649.8h2v4h-2zM181 640.2h1v4h-1zM204.5 645h1.2v4h-1.2zM204.5 659.4h1.2v4h-1.2zM204.5 664.2h1.2v4h-1.2zM206.2 630.6h1.2v4h-1.2zM206.2 649.8h1.2v4h-1.2zM207.8 645h1.7v4h-1.7zM220.8 625.8h1v4h-1zM220.8 630.6h1v4h-1zM220.8 645h1v4h-1zM220.8 659.4h1v4h-1zM225.4 621h2v4h-2zM225.4 625.8h2v4h-2zM225.4 630.6h2v4h-2zM225.4 635.4h2v4h-2zM225.4 640.2h2v4h-2zM225.4 649.8h2v4h-2zM225.4 654.6h2v4h-2zM225.4 659.4h2v4h-2zM230.9 645h2v4h-2zM230.9 654.6h2v4h-2zM230.9 659.4h2v4h-2zM235.5 621h1.7v4h-1.7zM235.5 635.4h1.7v4h-1.7zM235.5 645h1.7v4h-1.7zM235.5 654.6h1.7v4h-1.7zM235.5 659.4h1.7v4h-1.7zM235.5 664.2h1.7v4h-1.7zM249.6 625.8h1.7v4h-1.7zM249.6 630.6h1.7v4h-1.7zM249.6 635.4h1.7v4h-1.7zM249.6 640.2h1.7v4h-1.7zM249.6 649.8h1.7v4h-1.7zM249.6 654.6h1.7v4h-1.7zM260.7 621h1.4v4h-1.4zM260.7 635.4h1.4v4h-1.4zM260.7 645h1.4v4h-1.4zM260.7 649.8h1.4v4h-1.4zM260.7 659.4h1.4v4h-1.4zM262.9 635.4h1.2v4h-1.2zM269.6 635.4h2v4h-2zM269.6 649.8h2v4h-2zM269.6 654.6h2v4h-2zM269.6 659.4h2v4h-2zM273.8 635.4h1.7v4h-1.7zM273.8 654.6h1.7v4h-1.7zM273.8 659.4h1.7v4h-1.7zM273.8 664.2h1.7v4h-1.7zM278.1 621h1.2v4h-1.2zM278.1 625.8h1.2v4h-1.2zM278.1 640.2h1.2v4h-1.2zM278.1 649.8h1.2v4h-1.2zM278.1 659.4h1.2v4h-1.2zM280.3 621h1.4v4h-1.4zM280.3 625.8h1.4v4h-1.4zM280.3 649.8h1.4v4h-1.4zM280.3 664.2h1.4v4h-1.4zM282.7 621h2v4h-2zM282.7 625.8h2v4h-2zM282.7 630.6h2v4h-2zM282.7 635.4h2v4h-2zM282.7 640.2h2v4h-2zM282.7 654.6h2v4h-2zM282.7 659.4h2v4h-2zM286.3 621h2v4h-2zM286.3 630.6h2v4h-2zM286.3 635.4h2v4h-2zM286.3 640.2h2v4h-2zM286.3 649.8h2v4h-2zM286.3 654.6h2v4h-2zM286.3 659.4h2v4h-2zM286.3 664.2h2v4h-2zM289.4 625.8h1.4v4h-1.4zM289.4 635.4h1.4v4h-1.4zM289.4 645h1.4v4h-1.4zM289.4 654.6h1.4v4h-1.4zM289.4 659.4h1.4v4h-1.4zM289.4 664.2h1.4v4h-1.4zM292.2 621h.8v4h-.8zM45.3 693.7h1.7v4h-1.7zM45.3 698.5h1.7v4h-1.7zM45.3 703.3h1.7v4h-1.7zM45.3 708.1h1.7v4h-1.7zM45.3 712.9h1.7v4h-1.7zM45.3 717.7h1.7v4h-1.7zM45.3 732.1h1.7v4h-1.7zM48.5 693.7h1.2v4h-1.2zM48.5 698.5h1.2v4h-1.2zM48.5 703.3h1.2v4h-1.2zM48.5 708.1h1.2v4h-1.2zM48.5 712.9h1.2v4h-1.2zM48.5 717.7h1.2v4h-1.2zM48.5 732.1h1.2v4h-1.2zM48.5 736.9h1.2v4h-1.2zM50.5 693.7h1.7v4h-1.7zM50.5 698.5h1.7v4h-1.7zM50.5 712.9h1.7v4h-1.7zM50.5 717.7h1.7v4h-1.7zM50.5 722.5h1.7v4h-1.7zM50.5 727.3h1.7v4h-1.7zM50.5 732.1h1.7v4h-1.7zM50.5 736.9h1.7v4h-1.7zM60.8 703.3h1.7v4h-1.7zM60.8 708.1h1.7v4h-1.7zM60.8 712.9h1.7v4h-1.7zM60.8 717.7h1.7v4h-1.7zM60.8 722.5h1.7v4h-1.7zM60.8 732.1h1.7v4h-1.7zM64.2 698.5h1.7v4h-1.7zM64.2 708.1h1.7v4h-1.7zM66.3 693.7h2v4h-2zM66.3 698.5h2v4h-2zM66.3 708.1h2v4h-2zM66.3 727.3h2v4h-2zM69.5 703.3h1.2v4h-1.2zM69.5 708.1h1.2v4h-1.2zM69.5 712.9h1.2v4h-1.2zM69.5 722.5h1.2v4h-1.2zM69.5 732.1h1.2v4h-1.2zM69.5 736.9h1.2v4h-1.2zM72.7 708.1h2v4h-2zM72.7 712.9h2v4h-2zM72.7 717.7h2v4h-2zM72.7 727.3h2v4h-2zM72.7 732.1h2v4h-2zM72.7 736.9h2v4h-2zM78.3 712.9h2v4h-2zM81.1 693.7h1.7v4h-1.7zM81.1 698.5h1.7v4h-1.7zM81.1 708.1h1.7v4h-1.7zM81.1 712.9h1.7v4h-1.7zM81.1 727.3h1.7v4h-1.7zM81.1 736.9h1.7v4h-1.7zM84.1 698.5h1.2v4h-1.2zM84.1 703.3h1.2v4h-1.2zM84.1 708.1h1.2v4h-1.2zM84.1 712.9h1.2v4h-1.2zM84.1 717.7h1.2v4h-1.2zM84.1 722.5h1.2v4h-1.2zM84.1 732.1h1.2v4h-1.2zM86.9 693.7h1v4h-1zM86.9 712.9h1v4h-1zM86.9 732.1h1v4h-1zM86.9 736.9h1v4h-1zM89.9 693.7h1.4v4h-1.4zM89.9 698.5h1.4v4h-1.4zM89.9 703.3h1.4v4h-1.4zM89.9 708.1h1.4v4h-1.4zM89.9 717.7h1.4v4h-1.4zM89.9 722.5h1.4v4h-1.4zM89.9 727.3h1.4v4h-1.4zM93 693.7h1.7v4h-1.7zM93 698.5h1.7v4h-1.7zM93 703.3h1.7v4h-1.7zM93 708.1h1.7v4h-1.7zM93 712.9h1.7v4h-1.7zM93 717.7h1.7v4h-1.7zM93 722.5h1.7v4h-1.7zM93 727.3h1.7v4h-1.7zM93 732.1h1.7v4h-1.7zM93 736.9h1.7v4h-1.7zM95.8 703.3h1v4h-1zM95.8 708.1h1v4h-1zM95.8 712.9h1v4h-1zM95.8 736.9h1v4h-1zM103.4 693.7h1.2v4h-1.2zM103.4 703.3h1.2v4h-1.2zM103.4 708.1h1.2v4h-1.2zM103.4 717.7h1.2v4h-1.2zM103.4 736.9h1.2v4h-1.2zM109.8 693.7h1v4h-1zM109.8 698.5h1v4h-1zM109.8 712.9h1v4h-1zM109.8 717.7h1v4h-1zM109.8 732.1h1v4h-1zM111.2 693.7h1.4v4h-1.4zM111.2 703.3h1.4v4h-1.4zM111.2 708.1h1.4v4h-1.4zM111.2 712.9h1.4v4h-1.4zM111.2 717.7h1.4v4h-1.4zM111.2 727.3h1.4v4h-1.4zM111.2 732.1h1.4v4h-1.4zM111.2 736.9h1.4v4h-1.4zM120.3 693.7h1v4h-1zM120.3 698.5h1v4h-1zM120.3 708.1h1v4h-1zM120.3 712.9h1v4h-1zM120.3 722.5h1v4h-1zM120.3 736.9h1v4h-1zM122.6 703.3h1.2v4h-1.2zM122.6 708.1h1.2v4h-1.2zM126.7 703.3h1.7v4h-1.7zM126.7 708.1h1.7v4h-1.7zM126.7 712.9h1.7v4h-1.7zM126.7 722.5h1.7v4h-1.7zM126.7 727.3h1.7v4h-1.7zM126.7 732.1h1.7v4h-1.7zM132.8 693.7h1.4v4h-1.4zM132.8 698.5h1.4v4h-1.4zM138.8 698.5h1.2v4h-1.2zM153.4 708.1h1.2v4h-1.2zM153.4 717.7h1.2v4h-1.2zM165.7 693.7h1.7v4h-1.7zM165.7 703.3h1.7v4h-1.7zM165.7 708.1h1.7v4h-1.7zM165.7 712.9h1.7v4h-1.7zM165.7 717.7h1.7v4h-1.7zM165.7 722.5h1.7v4h-1.7zM165.7 727.3h1.7v4h-1.7zM165.7 732.1h1.7v4h-1.7zM165.7 736.9h1.7v4h-1.7zM167.6 693.7h1.4v4h-1.4zM167.6 698.5h1.4v4h-1.4zM167.6 703.3h1.4v4h-1.4zM167.6 708.1h1.4v4h-1.4zM167.6 712.9h1.4v4h-1.4zM167.6 727.3h1.4v4h-1.4zM167.6 732.1h1.4v4h-1.4zM167.6 736.9h1.4v4h-1.4zM169.2 693.7h1.2v4h-1.2zM169.2 698.5h1.2v4h-1.2zM169.2 703.3h1.2v4h-1.2zM169.2 708.1h1.2v4h-1.2zM169.2 712.9h1.2v4h-1.2zM169.2 717.7h1.2v4h-1.2zM169.2 722.5h1.2v4h-1.2zM169.2 727.3h1.2v4h-1.2zM169.2 732.1h1.2v4h-1.2zM170.5 693.7h1.2v4h-1.2zM170.5 698.5h1.2v4h-1.2zM170.5 703.3h1.2v4h-1.2zM170.5 708.1h1.2v4h-1.2zM170.5 712.9h1.2v4h-1.2zM170.5 717.7h1.2v4h-1.2zM170.5 722.5h1.2v4h-1.2zM170.5 727.3h1.2v4h-1.2zM170.5 732.1h1.2v4h-1.2zM170.5 736.9h1.2v4h-1.2zM171.9 693.7h2v4h-2zM171.9 698.5h2v4h-2zM171.9 703.3h2v4h-2zM171.9 708.1h2v4h-2zM171.9 712.9h2v4h-2zM171.9 717.7h2v4h-2zM171.9 722.5h2v4h-2zM171.9 727.3h2v4h-2zM171.9 732.1h2v4h-2zM171.9 736.9h2v4h-2zM173.9 712.9h1.2v4h-1.2zM173.9 722.5h1.2v4h-1.2zM173.9 732.1h1.2v4h-1.2zM175.1 693.7h1v4h-1zM175.1 698.5h1v4h-1zM175.1 703.3h1v4h-1zM175.1 708.1h1v4h-1zM175.1 712.9h1v4h-1zM175.1 717.7h1v4h-1zM175.1 722.5h1v4h-1zM175.1 727.3h1v4h-1zM175.1 732.1h1v4h-1zM175.1 736.9h1v4h-1zM176.1 698.5h1.2v4h-1.2zM176.1 703.3h1.2v4h-1.2zM176.1 708.1h1.2v4h-1.2zM176.1 712.9h1.2v4h-1.2zM176.1 717.7h1.2v4h-1.2zM176.1 727.3h1.2v4h-1.2zM176.1 736.9h1.2v4h-1.2zM177.3 693.7h1.7v4h-1.7zM177.3 698.5h1.7v4h-1.7zM177.3 703.3h1.7v4h-1.7zM177.3 708.1h1.7v4h-1.7zM177.3 712.9h1.7v4h-1.7zM177.3 717.7h1.7v4h-1.7zM177.3 722.5h1.7v4h-1.7zM177.3 727.3h1.7v4h-1.7zM177.3 732.1h1.7v4h-1.7zM177.3 736.9h1.7v4h-1.7zM179 693.7h2v4h-2zM179 698.5h2v4h-2zM179 703.3h2v4h-2zM179 708.1h2v4h-2zM179 712.9h2v4h-2zM179 717.7h2v4h-2zM179 722.5h2v4h-2zM179 727.3h2v4h-2zM179 732.1h2v4h-2zM179 736.9h2v4h-2zM181 693.7h1v4h-1zM181 698.5h1v4h-1zM181 703.3h1v4h-1zM181 708.1h1v4h-1zM181 712.9h1v4h-1zM181 717.7h1v4h-1zM181 722.5h1v4h-1zM181 727.3h1v4h-1zM181 732.1h1v4h-1zM182 712.9h1v4h-1zM182 717.7h1v4h-1zM182 722.5h1v4h-1zM182 732.1h1v4h-1zM182 736.9h1v4h-1zM183 693.7h2v4h-2zM183 703.3h2v4h-2zM183 712.9h2v4h-2zM183 717.7h2v4h-2zM183 732.1h2v4h-2zM185 693.7h1v4h-1zM185 708.1h1v4h-1zM185 717.7h1v4h-1zM185 722.5h1v4h-1zM185 727.3h1v4h-1zM185 732.1h1v4h-1zM185 736.9h1v4h-1zM186 693.7h1v4h-1zM186 703.3h1v4h-1zM186 708.1h1v4h-1zM186 712.9h1v4h-1zM186 717.7h1v4h-1zM186 727.3h1v4h-1zM186 732.1h1v4h-1zM186 736.9h1v4h-1zM187 693.7h1.7v4h-1.7zM187 698.5h1.7v4h-1.7zM187 708.1h1.7v4h-1.7zM187 712.9h1.7v4h-1.7zM187 717.7h1.7v4h-1.7zM187 722.5h1.7v4h-1.7zM187 727.3h1.7v4h-1.7zM187 732.1h1.7v4h-1.7zM187 736.9h1.7v4h-1.7zM188.7 693.7h1.4v4h-1.4zM188.7 698.5h1.4v4h-1.4zM188.7 703.3h1.4v4h-1.4zM188.7 708.1h1.4v4h-1.4zM188.7 712.9h1.4v4h-1.4zM188.7 717.7h1.4v4h-1.4zM188.7 722.5h1.4v4h-1.4zM188.7 727.3h1.4v4h-1.4zM188.7 732.1h1.4v4h-1.4zM188.7 736.9h1.4v4h-1.4zM190.1 698.5h2v4h-2zM190.1 703.3h2v4h-2zM190.1 717.7h2v4h-2zM190.1 722.5h2v4h-2zM190.1 727.3h2v4h-2zM190.1 732.1h2v4h-2zM190.1 736.9h2v4h-2zM192.3 693.7h1v4h-1zM192.3 698.5h1v4h-1zM192.3 703.3h1v4h-1zM192.3 708.1h1v4h-1zM192.3 712.9h1v4h-1zM192.3 717.7h1v4h-1zM192.3 722.5h1v4h-1zM192.3 727.3h1v4h-1zM192.3 732.1h1v4h-1zM192.3 736.9h1v4h-1zM193.3 693.7h1.7v4h-1.7zM193.3 698.5h1.7v4h-1.7zM193.3 703.3h1.7v4h-1.7zM193.3 708.1h1.7v4h-1.7zM193.3 712.9h1.7v4h-1.7zM193.3 717.7h1.7v4h-1.7zM193.3 722.5h1.7v4h-1.7zM193.3 727.3h1.7v4h-1.7zM193.3 732.1h1.7v4h-1.7zM193.3 736.9h1.7v4h-1.7zM195 693.7h1v4h-1zM195 698.5h1v4h-1zM195 703.3h1v4h-1zM195 708.1h1v4h-1zM195 712.9h1v4h-1zM195 717.7h1v4h-1zM195 722.5h1v4h-1zM195 727.3h1v4h-1zM195 732.1h1v4h-1zM195 736.9h1v4h-1zM196.1 698.5h1.4v4h-1.4zM196.1 703.3h1.4v4h-1.4zM196.1 712.9h1.4v4h-1.4zM196.1 717.7h1.4v4h-1.4zM196.1 722.5h1.4v4h-1.4zM196.1 727.3h1.4v4h-1.4zM196.1 732.1h1.4v4h-1.4zM196.1 736.9h1.4v4h-1.4zM197.5 693.7h1.7v4h-1.7zM197.5 698.5h1.7v4h-1.7zM197.5 703.3h1.7v4h-1.7zM197.5 708.1h1.7v4h-1.7zM197.5 712.9h1.7v4h-1.7zM197.5 717.7h1.7v4h-1.7zM197.5 722.5h1.7v4h-1.7zM197.5 727.3h1.7v4h-1.7zM197.5 736.9h1.7v4h-1.7zM199.2 693.7h1.2v4h-1.2zM199.2 698.5h1.2v4h-1.2zM199.2 712.9h1.2v4h-1.2zM199.2 717.7h1.2v4h-1.2zM199.2 722.5h1.2v4h-1.2zM199.2 727.3h1.2v4h-1.2zM199.2 732.1h1.2v4h-1.2zM199.2 736.9h1.2v4h-1.2zM200.6 693.7h1.7v4h-1.7zM200.6 698.5h1.7v4h-1.7zM200.6 703.3h1.7v4h-1.7zM200.6 708.1h1.7v4h-1.7zM200.6 712.9h1.7v4h-1.7zM200.6 717.7h1.7v4h-1.7zM200.6 722.5h1.7v4h-1.7zM200.6 732.1h1.7v4h-1.7zM200.6 736.9h1.7v4h-1.7zM202.4 693.7h1.2v4h-1.2zM202.4 698.5h1.2v4h-1.2zM202.4 703.3h1.2v4h-1.2zM202.4 708.1h1.2v4h-1.2zM202.4 712.9h1.2v4h-1.2zM202.4 717.7h1.2v4h-1.2zM202.4 722.5h1.2v4h-1.2zM202.4 727.3h1.2v4h-1.2zM202.4 732.1h1.2v4h-1.2zM202.4 736.9h1.2v4h-1.2zM203.6 693.7h.6v4h-.6zM203.6 703.3h.6v4h-.6zM203.6 708.1h.6v4h-.6zM203.6 717.7h.6v4h-.6zM203.6 722.5h.6v4h-.6zM203.6 727.3h.6v4h-.6zM203.6 732.1h.6v4h-.6zM204.5 693.7h1.2v4h-1.2zM204.5 717.7h1.2v4h-1.2zM204.5 722.5h1.2v4h-1.2zM204.5 732.1h1.2v4h-1.2zM207.8 698.5h1.7v4h-1.7zM207.8 703.3h1.7v4h-1.7zM207.8 722.5h1.7v4h-1.7zM207.8 727.3h1.7v4h-1.7zM207.8 732.1h1.7v4h-1.7zM220.8 708.1h1v4h-1zM220.8 712.9h1v4h-1zM220.8 717.7h1v4h-1zM220.8 727.3h1v4h-1zM220.8 736.9h1v4h-1zM225.4 698.5h2v4h-2zM225.4 703.3h2v4h-2zM225.4 712.9h2v4h-2zM225.4 717.7h2v4h-2zM225.4 722.5h2v4h-2zM225.4 727.3h2v4h-2zM235.5 693.7h1.7v4h-1.7zM235.5 708.1h1.7v4h-1.7zM235.5 727.3h1.7v4h-1.7zM235.5 736.9h1.7v4h-1.7zM244.9 693.7h1.7v4h-1.7zM244.9 703.3h1.7v4h-1.7zM244.9 708.1h1.7v4h-1.7zM244.9 712.9h1.7v4h-1.7zM244.9 722.5h1.7v4h-1.7zM244.9 727.3h1.7v4h-1.7zM244.9 736.9h1.7v4h-1.7zM249.6 712.9h1.7v4h-1.7zM249.6 717.7h1.7v4h-1.7zM249.6 722.5h1.7v4h-1.7zM249.6 732.1h1.7v4h-1.7zM249.6 736.9h1.7v4h-1.7zM260.7 703.3h1.4v4h-1.4zM260.7 712.9h1.4v4h-1.4zM260.7 717.7h1.4v4h-1.4zM260.7 722.5h1.4v4h-1.4zM260.7 727.3h1.4v4h-1.4zM260.7 732.1h1.4v4h-1.4zM262.9 698.5h1.2v4h-1.2zM262.9 708.1h1.2v4h-1.2zM262.9 712.9h1.2v4h-1.2zM262.9 717.7h1.2v4h-1.2zM262.9 727.3h1.2v4h-1.2zM262.9 736.9h1.2v4h-1.2zM273.8 698.5h1.7v4h-1.7zM273.8 708.1h1.7v4h-1.7zM273.8 722.5h1.7v4h-1.7zM278.1 703.3h1.2v4h-1.2zM278.1 708.1h1.2v4h-1.2zM278.1 712.9h1.2v4h-1.2zM278.1 717.7h1.2v4h-1.2zM280.3 698.5h1.4v4h-1.4zM280.3 708.1h1.4v4h-1.4zM280.3 712.9h1.4v4h-1.4zM280.3 717.7h1.4v4h-1.4zM280.3 722.5h1.4v4h-1.4zM280.3 727.3h1.4v4h-1.4zM280.3 736.9h1.4v4h-1.4zM282.7 703.3h2v4h-2zM282.7 708.1h2v4h-2zM282.7 717.7h2v4h-2zM282.7 722.5h2v4h-2zM282.7 732.1h2v4h-2zM282.7 736.9h2v4h-2zM286.3 693.7h2v4h-2zM286.3 708.1h2v4h-2zM286.3 717.7h2v4h-2zM286.3 722.5h2v4h-2zM286.3 727.3h2v4h-2zM286.3 736.9h2v4h-2zM289.4 698.5h1.4v4h-1.4zM289.4 703.3h1.4v4h-1.4zM289.4 708.1h1.4v4h-1.4zM289.4 712.9h1.4v4h-1.4zM289.4 727.3h1.4v4h-1.4zM289.4 732.1h1.4v4h-1.4zM289.4 736.9h1.4v4h-1.4z"/><path fill="#0808f2" d="M50.5 630.6h1.7v4h-1.7zM50.5 635.4h1.7v4h-1.7zM50.5 645h1.7v4h-1.7zM50.5 659.4h1.7v4h-1.7zM50.5 664.2h1.7v4h-1.7zM66.3 621h2v4h-2zM66.3 630.6h2v4h-2zM66.3 649.8h2v4h-2zM66.3 654.6h2v4h-2zM66.3 664.2h2v4h-2zM69.5 659.4h1.2v4h-1.2zM72.7 625.8h2v4h-2zM78.3 630.6h2v4h-2zM81.1 635.4h1.7v4h-1.7zM81.1 645h1.7v4h-1.7zM81.1 654.6h1.7v4h-1.7zM81.1 664.2h1.7v4h-1.7zM89.9 630.6h1.4v4h-1.4zM111.2 625.8h1.4v4h-1.4zM111.2 630.6h1.4v4h-1.4zM111.2 640.2h1.4v4h-1.4zM111.2 645h1.4v4h-1.4zM111.2 649.8h1.4v4h-1.4zM111.2 664.2h1.4v4h-1.4zM120.3 621h1v4h-1zM120.3 640.2h1v4h-1zM120.3 645h1v4h-1zM120.3 654.6h1v4h-1zM120.3 659.4h1v4h-1zM120.3 664.2h1v4h-1zM122.6 621h1.2v4h-1.2zM122.6 635.4h1.2v4h-1.2zM122.6 640.2h1.2v4h-1.2zM122.6 645h1.2v4h-1.2zM122.6 649.8h1.2v4h-1.2zM122.6 659.4h1.2v4h-1.2zM136.8 630.6h1.4v4h-1.4zM136.8 635.4h1.4v4h-1.4zM136.8 640.2h1.4v4h-1.4zM136.8 659.4h1.4v4h-1.4zM138.8 659.4h1.2v4h-1.2zM140 621h1.2v4h-1.2zM140 625.8h1.2v4h-1.2zM140 630.6h1.2v4h-1.2zM140 635.4h1.2v4h-1.2zM140 640.2h1.2v4h-1.2zM140 645h1.2v4h-1.2zM140 649.8h1.2v4h-1.2zM140 654.6h1.2v4h-1.2zM140 659.4h1.2v4h-1.2zM140 664.2h1.2v4h-1.2zM141.2 621h1v4h-1zM141.2 625.8h1v4h-1zM141.2 630.6h1v4h-1zM141.2 635.4h1v4h-1zM141.2 640.2h1v4h-1zM141.2 645h1v4h-1zM141.2 649.8h1v4h-1zM141.2 654.6h1v4h-1zM141.2 659.4h1v4h-1zM141.2 664.2h1v4h-1zM142.4 621h1.2v4h-1.2zM142.4 625.8h1.2v4h-1.2zM142.4 630.6h1.2v4h-1.2zM142.4 635.4h1.2v4h-1.2zM142.4 640.2h1.2v4h-1.2zM142.4 645h1.2v4h-1.2zM142.4 649.8h1.2v4h-1.2zM142.4 654.6h1.2v4h-1.2zM142.4 659.4h1.2v4h-1.2zM142.4 664.2h1.2v4h-1.2zM143.6 621h1.7v4h-1.7zM143.6 625.8h1.7v4h-1.7zM143.6 630.6h1.7v4h-1.7zM143.6 635.4h1.7v4h-1.7zM143.6 640.2h1.7v4h-1.7zM143.6 649.8h1.7v4h-1.7zM143.6 659.4h1.7v4h-1.7zM143.6 664.2h1.7v4h-1.7zM145.4 621h2v4h-2zM145.4 625.8h2v4h-2zM145.4 630.6h2v4h-2zM145.4 635.4h2v4h-2zM145.4 640.2h2v4h-2zM145.4 645h2v4h-2zM145.4 649.8h2v4h-2zM145.4 654.6h2v4h-2zM145.4 659.4h2v4h-2zM145.4 664.2h2v4h-2zM147.4 621h1.4v4h-1.4zM147.4 625.8h1.4v4h-1.4zM147.4 630.6h1.4v4h-1.4zM147.4 635.4h1.4v4h-1.4zM147.4 640.2h1.4v4h-1.4zM147.4 645h1.4v4h-1.4zM147.4 649.8h1.4v4h-1.4zM147.4 659.4h1.4v4h-1.4zM147.4 664.2h1.4v4h-1.4zM148.8 621h1.2v4h-1.2zM148.8 625.8h1.2v4h-1.2zM148.8 630.6h1.2v4h-1.2zM148.8 635.4h1.2v4h-1.2zM148.8 640.2h1.2v4h-1.2zM148.8 645h1.2v4h-1.2zM148.8 649.8h1.2v4h-1.2zM148.8 654.6h1.2v4h-1.2zM148.8 664.2h1.2v4h-1.2zM150 621h2v4h-2zM150 625.8h2v4h-2zM150 630.6h2v4h-2zM150 635.4h2v4h-2zM150 640.2h2v4h-2zM150 645h2v4h-2zM150 649.8h2v4h-2zM150 654.6h2v4h-2zM150 659.4h2v4h-2zM150 664.2h2v4h-2zM152 625.8h1.4v4h-1.4zM152 630.6h1.4v4h-1.4zM152 635.4h1.4v4h-1.4zM152 640.2h1.4v4h-1.4zM152 645h1.4v4h-1.4zM152 649.8h1.4v4h-1.4zM152 654.6h1.4v4h-1.4zM152 659.4h1.4v4h-1.4zM152 664.2h1.4v4h-1.4zM153.4 621h1.2v4h-1.2zM153.4 625.8h1.2v4h-1.2zM153.4 630.6h1.2v4h-1.2zM153.4 635.4h1.2v4h-1.2zM153.4 640.2h1.2v4h-1.2zM153.4 645h1.2v4h-1.2zM153.4 649.8h1.2v4h-1.2zM153.4 654.6h1.2v4h-1.2zM153.4 659.4h1.2v4h-1.2zM153.4 664.2h1.2v4h-1.2zM154.7 621h1.4v4h-1.4zM154.7 625.8h1.4v4h-1.4zM154.7 630.6h1.4v4h-1.4zM154.7 635.4h1.4v4h-1.4zM154.7 640.2h1.4v4h-1.4zM154.7 645h1.4v4h-1.4zM154.7 649.8h1.4v4h-1.4zM154.7 654.6h1.4v4h-1.4zM154.7 659.4h1.4v4h-1.4zM154.7 664.2h1.4v4h-1.4zM156.1 621h1v4h-1zM156.1 625.8h1v4h-1zM156.1 630.6h1v4h-1zM156.1 635.4h1v4h-1zM156.1 640.2h1v4h-1zM156.1 645h1v4h-1zM156.1 649.8h1v4h-1zM156.1 654.6h1v4h-1zM156.1 659.4h1v4h-1zM156.1 664.2h1v4h-1zM157.3 621h2v4h-2zM157.3 625.8h2v4h-2zM157.3 630.6h2v4h-2zM157.3 635.4h2v4h-2zM157.3 640.2h2v4h-2zM157.3 645h2v4h-2zM157.3 654.6h2v4h-2zM157.3 659.4h2v4h-2zM157.3 664.2h2v4h-2zM159.3 621h2v4h-2zM159.3 625.8h2v4h-2zM159.3 630.6h2v4h-2zM159.3 635.4h2v4h-2zM159.3 645h2v4h-2zM159.3 654.6h2v4h-2zM159.3 659.4h2v4h-2zM159.3 664.2h2v4h-2zM161.3 621h1v4h-1zM161.3 625.8h1v4h-1zM161.3 630.6h1v4h-1zM161.3 635.4h1v4h-1zM161.3 640.2h1v4h-1zM161.3 645h1v4h-1zM161.3 649.8h1v4h-1zM161.3 659.4h1v4h-1zM161.3 664.2h1v4h-1zM162.3 621h1.2v4h-1.2zM162.3 625.8h1.2v4h-1.2zM162.3 630.6h1.2v4h-1.2zM162.3 635.4h1.2v4h-1.2zM162.3 640.2h1.2v4h-1.2zM162.3 645h1.2v4h-1.2zM162.3 649.8h1.2v4h-1.2zM162.3 654.6h1.2v4h-1.2zM162.3 659.4h1.2v4h-1.2zM162.3 664.2h1.2v4h-1.2zM163.5 621h2v4h-2zM163.5 625.8h2v4h-2zM163.5 630.6h2v4h-2zM163.5 635.4h2v4h-2zM163.5 640.2h2v4h-2zM163.5 645h2v4h-2zM163.5 649.8h2v4h-2zM163.5 654.6h2v4h-2zM163.5 659.4h2v4h-2zM163.5 664.2h2v4h-2zM165.7 621h1.7v4h-1.7zM165.7 625.8h1.7v4h-1.7zM165.7 630.6h1.7v4h-1.7zM165.7 635.4h1.7v4h-1.7zM165.7 640.2h1.7v4h-1.7zM165.7 645h1.7v4h-1.7zM165.7 649.8h1.7v4h-1.7zM165.7 654.6h1.7v4h-1.7zM165.7 659.4h1.7v4h-1.7zM165.7 664.2h1.7v4h-1.7zM167.6 621h1.4v4h-1.4zM167.6 625.8h1.4v4h-1.4zM167.6 630.6h1.4v4h-1.4zM167.6 635.4h1.4v4h-1.4zM167.6 640.2h1.4v4h-1.4zM167.6 645h1.4v4h-1.4zM167.6 649.8h1.4v4h-1.4zM167.6 654.6h1.4v4h-1.4zM167.6 659.4h1.4v4h-1.4zM167.6 664.2h1.4v4h-1.4zM169.2 621h1.2v4h-1.2zM169.2 625.8h1.2v4h-1.2zM169.2 630.6h1.2v4h-1.2zM169.2 635.4h1.2v4h-1.2zM169.2 640.2h1.2v4h-1.2zM169.2 645h1.2v4h-1.2zM169.2 649.8h1.2v4h-1.2zM169.2 654.6h1.2v4h-1.2zM169.2 659.4h1.2v4h-1.2zM169.2 664.2h1.2v4h-1.2zM170.5 621h1.2v4h-1.2zM170.5 625.8h1.2v4h-1.2zM170.5 630.6h1.2v4h-1.2zM170.5 635.4h1.2v4h-1.2zM170.5 640.2h1.2v4h-1.2zM170.5 645h1.2v4h-1.2zM170.5 649.8h1.2v4h-1.2zM170.5 654.6h1.2v4h-1.2zM170.5 664.2h1.2v4h-1.2zM171.9 621h2v4h-2zM171.9 625.8h2v4h-2zM171.9 630.6h2v4h-2zM171.9 635.4h2v4h-2zM171.9 640.2h2v4h-2zM171.9 645h2v4h-2zM171.9 649.8h2v4h-2zM171.9 654.6h2v4h-2zM171.9 659.4h2v4h-2zM171.9 664.2h2v4h-2zM173.9 621h1.2v4h-1.2zM173.9 625.8h1.2v4h-1.2zM173.9 630.6h1.2v4h-1.2zM173.9 635.4h1.2v4h-1.2zM173.9 640.2h1.2v4h-1.2zM173.9 645h1.2v4h-1.2zM173.9 649.8h1.2v4h-1.2zM173.9 654.6h1.2v4h-1.2zM173.9 659.4h1.2v4h-1.2zM173.9 664.2h1.2v4h-1.2zM175.1 621h1v4h-1zM175.1 625.8h1v4h-1zM175.1 630.6h1v4h-1zM175.1 635.4h1v4h-1zM175.1 640.2h1v4h-1zM175.1 645h1v4h-1zM175.1 649.8h1v4h-1zM175.1 654.6h1v4h-1zM175.1 659.4h1v4h-1zM175.1 664.2h1v4h-1zM176.1 621h1.2v4h-1.2zM176.1 625.8h1.2v4h-1.2zM176.1 630.6h1.2v4h-1.2zM176.1 635.4h1.2v4h-1.2zM176.1 640.2h1.2v4h-1.2zM176.1 645h1.2v4h-1.2zM176.1 649.8h1.2v4h-1.2zM176.1 654.6h1.2v4h-1.2zM176.1 659.4h1.2v4h-1.2zM176.1 664.2h1.2v4h-1.2zM177.3 621h1.7v4h-1.7zM177.3 625.8h1.7v4h-1.7zM177.3 630.6h1.7v4h-1.7zM177.3 635.4h1.7v4h-1.7zM177.3 645h1.7v4h-1.7zM177.3 649.8h1.7v4h-1.7zM177.3 654.6h1.7v4h-1.7zM177.3 659.4h1.7v4h-1.7zM177.3 664.2h1.7v4h-1.7zM179 621h2v4h-2zM179 625.8h2v4h-2zM179 630.6h2v4h-2zM179 635.4h2v4h-2zM179 640.2h2v4h-2zM179 645h2v4h-2zM179 649.8h2v4h-2zM179 654.6h2v4h-2zM179 659.4h2v4h-2zM179 664.2h2v4h-2zM181 621h1v4h-1zM181 625.8h1v4h-1zM181 630.6h1v4h-1zM181 635.4h1v4h-1zM181 645h1v4h-1zM181 649.8h1v4h-1zM181 654.6h1v4h-1zM181 659.4h1v4h-1zM181 664.2h1v4h-1zM182 621h1v4h-1zM182 625.8h1v4h-1zM182 630.6h1v4h-1zM182 635.4h1v4h-1zM182 640.2h1v4h-1zM182 645h1v4h-1zM182 649.8h1v4h-1zM182 654.6h1v4h-1zM182 664.2h1v4h-1zM183 621h2v4h-2zM183 625.8h2v4h-2zM183 630.6h2v4h-2zM183 635.4h2v4h-2zM183 640.2h2v4h-2zM183 645h2v4h-2zM183 649.8h2v4h-2zM183 654.6h2v4h-2zM183 659.4h2v4h-2zM183 664.2h2v4h-2zM185 621h1v4h-1zM185 625.8h1v4h-1zM185 630.6h1v4h-1zM185 635.4h1v4h-1zM185 640.2h1v4h-1zM185 645h1v4h-1zM185 649.8h1v4h-1zM185 654.6h1v4h-1zM185 659.4h1v4h-1zM185 664.2h1v4h-1zM186 621h1v4h-1zM186 625.8h1v4h-1zM186 630.6h1v4h-1zM186 635.4h1v4h-1zM186 640.2h1v4h-1zM186 645h1v4h-1zM186 649.8h1v4h-1zM186 654.6h1v4h-1zM186 659.4h1v4h-1zM186 664.2h1v4h-1zM187 621h1.7v4h-1.7zM187 625.8h1.7v4h-1.7zM187 630.6h1.7v4h-1.7zM187 635.4h1.7v4h-1.7zM187 640.2h1.7v4h-1.7zM187 645h1.7v4h-1.7zM187 649.8h1.7v4h-1.7zM187 654.6h1.7v4h-1.7zM187 659.4h1.7v4h-1.7zM187 664.2h1.7v4h-1.7zM188.7 621h1.4v4h-1.4zM188.7 625.8h1.4v4h-1.4zM188.7 630.6h1.4v4h-1.4zM188.7 635.4h1.4v4h-1.4zM188.7 640.2h1.4v4h-1.4zM188.7 645h1.4v4h-1.4zM188.7 649.8h1.4v4h-1.4zM188.7 654.6h1.4v4h-1.4zM188.7 659.4h1.4v4h-1.4zM190.1 621h2v4h-2zM190.1 625.8h2v4h-2zM190.1 630.6h2v4h-2zM190.1 635.4h2v4h-2zM190.1 640.2h2v4h-2zM190.1 645h2v4h-2zM190.1 649.8h2v4h-2zM190.1 654.6h2v4h-2zM190.1 659.4h2v4h-2zM190.1 664.2h2v4h-2zM192.3 621h1v4h-1zM192.3 625.8h1v4h-1zM192.3 630.6h1v4h-1zM192.3 635.4h1v4h-1zM192.3 640.2h1v4h-1zM192.3 645h1v4h-1zM192.3 649.8h1v4h-1zM192.3 654.6h1v4h-1zM192.3 659.4h1v4h-1zM192.3 664.2h1v4h-1zM193.3 621h1.7v4h-1.7zM193.3 625.8h1.7v4h-1.7zM193.3 630.6h1.7v4h-1.7zM193.3 635.4h1.7v4h-1.7zM193.3 640.2h1.7v4h-1.7zM193.3 645h1.7v4h-1.7zM193.3 649.8h1.7v4h-1.7zM193.3 654.6h1.7v4h-1.7zM193.3 659.4h1.7v4h-1.7zM193.3 664.2h1.7v4h-1.7zM195 621h1v4h-1zM195 625.8h1v4h-1zM195 630.6h1v4h-1zM195 635.4h1v4h-1zM195 640.2h1v4h-1zM195 645h1v4h-1zM195 649.8h1v4h-1zM195 654.6h1v4h-1zM195 659.4h1v4h-1zM195 664.2h1v4h-1zM196.1 621h1.4v4h-1.4zM196.1 625.8h1.4v4h-1.4zM196.1 630.6h1.4v4h-1.4zM196.1 635.4h1.4v4h-1.4zM196.1 640.2h1.4v4h-1.4zM196.1 645h1.4v4h-1.4zM196.1 649.8h1.4v4h-1.4zM196.1 654.6h1.4v4h-1.4zM196.1 659.4h1.4v4h-1.4zM196.1 664.2h1.4v4h-1.4zM197.5 621h1.7v4h-1.7zM197.5 625.8h1.7v4h-1.7zM197.5 630.6h1.7v4h-1.7zM197.5 635.4h1.7v4h-1.7zM197.5 640.2h1.7v4h-1.7zM197.5 645h1.7v4h-1.7zM197.5 649.8h1.7v4h-1.7zM197.5 654.6h1.7v4h-1.7zM197.5 659.4h1.7v4h-1.7zM197.5 664.2h1.7v4h-1.7zM199.2 621h1.2v4h-1.2zM199.2 625.8h1.2v4h-1.2zM199.2 630.6h1.2v4h-1.2zM199.2 635.4h1.2v4h-1.2zM199.2 640.2h1.2v4h-1.2zM199.2 649.8h1.2v4h-1.2zM199.2 654.6h1.2v4h-1.2zM199.2 659.4h1.2v4h-1.2zM199.2 664.2h1.2v4h-1.2zM200.6 621h1.7v4h-1.7zM200.6 625.8h1.7v4h-1.7zM200.6 635.4h1.7v4h-1.7zM200.6 640.2h1.7v4h-1.7zM200.6 645h1.7v4h-1.7zM200.6 649.8h1.7v4h-1.7zM200.6 654.6h1.7v4h-1.7zM200.6 659.4h1.7v4h-1.7zM200.6 664.2h1.7v4h-1.7zM202.4 621h1.2v4h-1.2zM202.4 625.8h1.2v4h-1.2zM202.4 635.4h1.2v4h-1.2zM202.4 640.2h1.2v4h-1.2zM202.4 645h1.2v4h-1.2zM202.4 649.8h1.2v4h-1.2zM202.4 654.6h1.2v4h-1.2zM202.4 659.4h1.2v4h-1.2zM202.4 664.2h1.2v4h-1.2zM203.6 621h.6v4h-.6zM203.6 625.8h.6v4h-.6zM203.6 630.6h.6v4h-.6zM203.6 635.4h.6v4h-.6zM203.6 640.2h.6v4h-.6zM203.6 645h.6v4h-.6zM203.6 649.8h.6v4h-.6zM203.6 654.6h.6v4h-.6zM203.6 659.4h.6v4h-.6zM203.6 664.2h.6v4h-.6zM207.8 621h1.7v4h-1.7zM207.8 625.8h1.7v4h-1.7zM207.8 630.6h1.7v4h-1.7zM207.8 640.2h1.7v4h-1.7zM207.8 659.4h1.7v4h-1.7zM230.9 664.2h2v4h-2zM244.9 625.8h1.7v4h-1.7zM244.9 630.6h1.7v4h-1.7zM244.9 645h1.7v4h-1.7zM244.9 649.8h1.7v4h-1.7zM244.9 654.6h1.7v4h-1.7zM244.9 659.4h1.7v4h-1.7zM244.9 664.2h1.7v4h-1.7zM264.8 625.8h2v4h-2zM264.8 645h2v4h-2zM264.8 649.8h2v4h-2zM264.8 654.6h2v4h-2zM264.8 659.4h2v4h-2zM278.1 630.6h1.2v4h-1.2zM278.1 645h1.2v4h-1.2zM278.1 654.6h1.2v4h-1.2zM280.3 630.6h1.4v4h-1.4zM280.3 645h1.4v4h-1.4zM78.3 693.7h2v4h-2zM78.3 698.5h2v4h-2zM78.3 708.1h2v4h-2zM78.3 722.5h2v4h-2zM78.3 727.3h2v4h-2zM78.3 732.1h2v4h-2zM109.8 722.5h1v4h-1zM109.8 736.9h1v4h-1zM112.9 698.5h1.2v4h-1.2zM112.9 703.3h1.2v4h-1.2zM112.9 712.9h1.2v4h-1.2zM112.9 727.3h1.2v4h-1.2zM112.9 736.9h1.2v4h-1.2zM122.6 722.5h1.2v4h-1.2zM132.8 703.3h1.4v4h-1.4zM132.8 708.1h1.4v4h-1.4zM132.8 712.9h1.4v4h-1.4zM132.8 717.7h1.4v4h-1.4zM132.8 722.5h1.4v4h-1.4zM132.8 727.3h1.4v4h-1.4zM132.8 732.1h1.4v4h-1.4zM132.8 736.9h1.4v4h-1.4zM136.8 693.7h1.4v4h-1.4zM136.8 698.5h1.4v4h-1.4zM136.8 712.9h1.4v4h-1.4zM136.8 732.1h1.4v4h-1.4zM138.8 703.3h1.2v4h-1.2zM138.8 717.7h1.2v4h-1.2zM138.8 727.3h1.2v4h-1.2zM138.8 732.1h1.2v4h-1.2zM140 693.7h1.2v4h-1.2zM140 698.5h1.2v4h-1.2zM140 703.3h1.2v4h-1.2zM140 708.1h1.2v4h-1.2zM140 712.9h1.2v4h-1.2zM140 717.7h1.2v4h-1.2zM140 722.5h1.2v4h-1.2zM140 727.3h1.2v4h-1.2zM140 732.1h1.2v4h-1.2zM141.2 693.7h1v4h-1zM141.2 698.5h1v4h-1zM141.2 703.3h1v4h-1zM141.2 708.1h1v4h-1zM141.2 712.9h1v4h-1zM141.2 717.7h1v4h-1zM141.2 722.5h1v4h-1zM141.2 727.3h1v4h-1zM141.2 732.1h1v4h-1zM141.2 736.9h1v4h-1zM142.4 693.7h1.2v4h-1.2zM142.4 698.5h1.2v4h-1.2zM142.4 703.3h1.2v4h-1.2zM142.4 708.1h1.2v4h-1.2zM142.4 712.9h1.2v4h-1.2zM142.4 717.7h1.2v4h-1.2zM142.4 722.5h1.2v4h-1.2zM142.4 727.3h1.2v4h-1.2zM142.4 732.1h1.2v4h-1.2zM142.4 736.9h1.2v4h-1.2zM143.6 693.7h1.7v4h-1.7zM143.6 698.5h1.7v4h-1.7zM143.6 703.3h1.7v4h-1.7zM143.6 708.1h1.7v4h-1.7zM143.6 712.9h1.7v4h-1.7zM143.6 717.7h1.7v4h-1.7zM143.6 722.5h1.7v4h-1.7zM143.6 727.3h1.7v4h-1.7zM143.6 732.1h1.7v4h-1.7zM143.6 736.9h1.7v4h-1.7zM145.4 693.7h2v4h-2zM145.4 698.5h2v4h-2zM145.4 703.3h2v4h-2zM145.4 708.1h2v4h-2zM145.4 712.9h2v4h-2zM145.4 717.7h2v4h-2zM145.4 722.5h2v4h-2zM145.4 727.3h2v4h-2zM145.4 736.9h2v4h-2zM147.4 693.7h1.4v4h-1.4zM147.4 698.5h1.4v4h-1.4zM147.4 703.3h1.4v4h-1.4zM147.4 708.1h1.4v4h-1.4zM147.4 712.9h1.4v4h-1.4zM147.4 717.7h1.4v4h-1.4zM147.4 722.5h1.4v4h-1.4zM147.4 727.3h1.4v4h-1.4zM147.4 732.1h1.4v4h-1.4zM147.4 736.9h1.4v4h-1.4zM148.8 693.7h1.2v4h-1.2zM148.8 698.5h1.2v4h-1.2zM148.8 703.3h1.2v4h-1.2zM148.8 708.1h1.2v4h-1.2zM148.8 712.9h1.2v4h-1.2zM148.8 717.7h1.2v4h-1.2zM148.8 722.5h1.2v4h-1.2zM148.8 727.3h1.2v4h-1.2zM148.8 732.1h1.2v4h-1.2zM148.8 736.9h1.2v4h-1.2zM150 693.7h2v4h-2zM150 698.5h2v4h-2zM150 703.3h2v4h-2zM150 708.1h2v4h-2zM150 717.7h2v4h-2zM150 722.5h2v4h-2zM150 727.3h2v4h-2zM150 736.9h2v4h-2zM152 693.7h1.4v4h-1.4zM152 698.5h1.4v4h-1.4zM152 703.3h1.4v4h-1.4zM152 708.1h1.4v4h-1.4zM152 712.9h1.4v4h-1.4zM152 717.7h1.4v4h-1.4zM152 722.5h1.4v4h-1.4zM152 727.3h1.4v4h-1.4zM152 732.1h1.4v4h-1.4zM152 736.9h1.4v4h-1.4zM153.4 698.5h1.2v4h-1.2zM153.4 703.3h1.2v4h-1.2zM153.4 712.9h1.2v4h-1.2zM153.4 722.5h1.2v4h-1.2zM153.4 736.9h1.2v4h-1.2zM154.7 693.7h1.4v4h-1.4zM154.7 698.5h1.4v4h-1.4zM154.7 703.3h1.4v4h-1.4zM154.7 708.1h1.4v4h-1.4zM154.7 712.9h1.4v4h-1.4zM154.7 717.7h1.4v4h-1.4zM154.7 722.5h1.4v4h-1.4zM154.7 727.3h1.4v4h-1.4zM154.7 732.1h1.4v4h-1.4zM154.7 736.9h1.4v4h-1.4zM156.1 693.7h1v4h-1zM156.1 698.5h1v4h-1zM156.1 703.3h1v4h-1zM156.1 708.1h1v4h-1zM156.1 712.9h1v4h-1zM156.1 717.7h1v4h-1zM156.1 722.5h1v4h-1zM156.1 727.3h1v4h-1zM156.1 732.1h1v4h-1zM156.1 736.9h1v4h-1zM157.3 693.7h2v4h-2zM157.3 698.5h2v4h-2zM157.3 703.3h2v4h-2zM157.3 708.1h2v4h-2zM157.3 712.9h2v4h-2zM157.3 717.7h2v4h-2zM157.3 722.5h2v4h-2zM157.3 727.3h2v4h-2zM157.3 732.1h2v4h-2zM157.3 736.9h2v4h-2zM159.3 693.7h2v4h-2zM159.3 698.5h2v4h-2zM159.3 703.3h2v4h-2zM159.3 708.1h2v4h-2zM159.3 712.9h2v4h-2zM159.3 717.7h2v4h-2zM159.3 722.5h2v4h-2zM159.3 727.3h2v4h-2zM159.3 732.1h2v4h-2zM159.3 736.9h2v4h-2zM161.3 693.7h1v4h-1zM161.3 698.5h1v4h-1zM161.3 703.3h1v4h-1zM161.3 708.1h1v4h-1zM161.3 712.9h1v4h-1zM161.3 717.7h1v4h-1zM161.3 722.5h1v4h-1zM161.3 727.3h1v4h-1zM161.3 732.1h1v4h-1zM161.3 736.9h1v4h-1zM162.3 693.7h1.2v4h-1.2zM162.3 698.5h1.2v4h-1.2zM162.3 703.3h1.2v4h-1.2zM162.3 708.1h1.2v4h-1.2zM162.3 712.9h1.2v4h-1.2zM162.3 717.7h1.2v4h-1.2zM162.3 722.5h1.2v4h-1.2zM162.3 736.9h1.2v4h-1.2zM163.5 698.5h2v4h-2zM163.5 703.3h2v4h-2zM163.5 708.1h2v4h-2zM163.5 712.9h2v4h-2zM163.5 717.7h2v4h-2zM163.5 722.5h2v4h-2zM163.5 727.3h2v4h-2zM163.5 736.9h2v4h-2zM173.9 693.7h1.2v4h-1.2zM173.9 708.1h1.2v4h-1.2zM173.9 717.7h1.2v4h-1.2zM173.9 736.9h1.2v4h-1.2zM182 693.7h1v4h-1zM182 698.5h1v4h-1zM182 703.3h1v4h-1zM183 698.5h2v4h-2zM183 708.1h2v4h-2zM183 727.3h2v4h-2zM196.1 708.1h1.4v4h-1.4zM203.6 736.9h.6v4h-.6zM204.5 708.1h1.2v4h-1.2zM206.2 708.1h1.2v4h-1.2zM206.2 712.9h1.2v4h-1.2zM206.2 717.7h1.2v4h-1.2zM206.2 727.3h1.2v4h-1.2zM206.2 732.1h1.2v4h-1.2zM206.2 736.9h1.2v4h-1.2zM220.8 722.5h1v4h-1zM230.9 693.7h2v4h-2zM230.9 708.1h2v4h-2zM230.9 722.5h2v4h-2zM230.9 727.3h2v4h-2zM230.9 736.9h2v4h-2zM249.6 708.1h1.7v4h-1.7zM264.8 693.7h2v4h-2zM264.8 703.3h2v4h-2zM264.8 708.1h2v4h-2zM264.8 717.7h2v4h-2zM269.6 698.5h2v4h-2zM269.6 703.3h2v4h-2zM269.6 717.7h2v4h-2zM269.6 736.9h2v4h-2zM282.7 693.7h2v4h-2zM282.7 698.5h2v4h-2zM282.7 712.9h2v4h-2zM286.3 712.9h2v4h-2zM286.3 732.1h2v4h-2zM289.4 717.7h1.4v4h-1.4z"/><path fill="#7a7af2" d="M50.5 654.6h1.7v4h-1.7zM81.1 649.8h1.7v4h-1.7zM122.6 630.6h1.2v4h-1.2zM122.6 664.2h1.2v4h-1.2zM136.8 625.8h1.4v4h-1.4zM136.8 654.6h1.4v4h-1.4zM136.8 664.2h1.4v4h-1.4zM159.3 640.2h2v4h-2zM161.3 654.6h1v4h-1zM170.5 659.4h1.2v4h-1.2zM177.3 640.2h1.7v4h-1.7zM182 659.4h1v4h-1zM199.2 645h1.2v4h-1.2zM202.4 630.6h1.2v4h-1.2zM264.8 640.2h2v4h-2zM278.1 635.4h1.2v4h-1.2zM112.9 708.1h1.2v4h-1.2zM138.8 736.9h1.2v4h-1.2zM140 736.9h1.2v4h-1.2zM145.4 732.1h2v4h-2zM150 732.1h2v4h-2zM153.4 693.7h1.2v4h-1.2zM153.4 732.1h1.2v4h-1.2zM162.3 727.3h1.2v4h-1.2zM163.5 693.7h2v4h-2zM163.5 732.1h2v4h-2zM264.8 698.5h2v4h-2zM278.1 732.1h1.2v4h-1.2zM282.7 727.3h2v4h-2z"/><path fill="#f07070" d="M60.8 635.4h1.7v4h-1.7zM64.2 630.6h1.7v4h-1.7zM69.5 621h1.2v4h-1.2zM78.3 645h2v4h-2zM86.9 630.6h1v4h-1zM86.9 645h1v4h-1zM86.9 664.2h1v4h-1zM89.9 659.4h1.4v4h-1.4zM93 649.8h1.7v4h-1.7zM95.8 621h1v4h-1zM95.8 664.2h1v4h-1zM103.4 659.4h1.2v4h-1.2zM132.8 664.2h1.4v4h-1.4zM204.5 649.8h1.2v4h-1.2zM204.5 654.6h1.2v4h-1.2zM206.2 645h1.2v4h-1.2zM220.8 649.8h1v4h-1zM230.9 630.6h2v4h-2zM260.7 625.8h1.4v4h-1.4zM262.9 625.8h1.2v4h-1.2zM262.9 659.4h1.2v4h-1.2zM273.8 640.2h1.7v4h-1.7zM280.3 654.6h1.4v4h-1.4zM286.3 645h2v4h-2zM289.4 649.8h1.4v4h-1.4zM45.3 722.5h1.7v4h-1.7zM45.3 727.3h1.7v4h-1.7zM48.5 722.5h1.2v4h-1.2zM50.5 703.3h1.7v4h-1.7zM60.8 693.7h1.7v4h-1.7zM60.8 698.5h1.7v4h-1.7zM64.2 717.7h1.7v4h-1.7zM66.3 732.1h2v4h-2zM72.7 698.5h2v4h-2zM72.7 703.3h2v4h-2zM84.1 736.9h1.2v4h-1.2zM86.9 698.5h1v4h-1zM86.9 722.5h1v4h-1zM89.9 736.9h1.4v4h-1.4zM95.8 732.1h1v4h-1zM103.4 732.1h1.2v4h-1.2zM109.8 708.1h1v4h-1zM111.2 722.5h1.4v4h-1.4zM122.6 727.3h1.2v4h-1.2zM126.7 717.7h1.7v4h-1.7zM185 698.5h1v4h-1zM185 703.3h1v4h-1zM187 703.3h1.7v4h-1.7zM204.5 698.5h1.2v4h-1.2zM204.5 712.9h1.2v4h-1.2zM207.8 736.9h1.7v4h-1.7zM278.1 693.7h1.2v4h-1.2zM278.1 722.5h1.2v4h-1.2zM289.4 722.5h1.4v4h-1.4zM292.2 693.7h.8v4h-.8z"/><path fill="#ee3030" d="M45.3 608.1h1.1v6.5h-1.1zM64.2 607.5h1.1v7.1h-1.1zM66.3 606.8h1.1v1.3h-1.1zM69.5 604.9h1.1v8.4h-1.1zM72.7 606.8h1.1v6.5h-1.1zM78.3 606.2h1.1v7.1h-1.1zM84.1 609.4h1.1v5.2h-1.1zM86.9 607.5h1v7.1h-1zM89.9 603.6h1.1v9.7h-1.1zM93 607.5h1.1v7.1h-1.1zM103.4 603.6h1.1v11h-1.1zM109.8 603h1v11.6h-1zM112.9 605.6h1.1v9h-1.1zM132.8 608.8h1.1v5.8h-1.1zM136.8 606.2h1.1v1.3h-1.1zM138.8 605.6h1.1v7.8h-1.1zM147.4 601.7h1.1v1.3h-1.1zM157.3 601.7h1.1v1.3h-1.1zM181 601.7h1v1.3h-1zM206.2 611.4h1.1v3.2h-1.1zM207.8 606.8h1.1v1.3h-1.1zM225.4 604.3h1.1v10.3h-1.1zM230.9 608.8h1.1v4.5h-1.1zM235.5 606.8h1.1v7.8h-1.1zM260.7 607.5h1.1v7.1h-1.1zM262.9 612h1.1v2.6h-1.1zM269.6 609.4h1.1v5.2h-1.1zM273.8 608.8h1.1v5.8h-1.1zM278.1 603.6h1.1v6.5h-1.1zM280.3 606.2h1.1v5.8h-1.1zM282.7 605.6h1.1v9h-1.1zM286.3 603.6h1.1v11h-1.1zM45.3 677.6h1.1v9.8h-1.1zM60.8 678.8h1.1v8.6h-1.1zM64.2 684.3h1.1v3.1h-1.1zM72.7 678.8h1.1v8.6h-1.1zM78.3 678.8h1.1v1.2h-1.1zM81.1 680h1.1v7.4h-1.1zM84.1 678.2h1.1v9.2h-1.1zM86.9 681.3h1v6.1h-1zM89.9 678.2h1.1v9.2h-1.1zM111.2 677h1.1v10.4h-1.1zM126.7 679.4h1.1v8h-1.1zM132.8 675.1h1.1v2.5h-1.1zM138.8 680.7h1.1v1.2h-1.1zM153.4 677.6h1.1v2.5h-1.1zM165.7 676.4h1.1v11h-1.1zM167.6 677.6h1.1v9.8h-1.1zM169.2 676.4h1.1v11h-1.1zM170.5 675.1h1.1v12.3h-1.1zM171.9 675.1h1.1v12.3h-1.1zM173.9 678.8h1.1v3.7h-1.1zM175.1 675.1h1v12.3h-1zM176.1 678.8h1.1v8.6h-1.1zM179 675.1h1.1v12.3h-1.1zM181 676.4h1v11h-1zM182 677.6h1v6.1h-1zM183 677.6h1.1v6.1h-1.1zM187 675.8h1.1v11.6h-1.1zM188.7 675.1h1.1v12.3h-1.1zM190.1 678.8h1.1v8.6h-1.1zM192.3 675.1h1v12.3h-1zM195 675.1h1v12.3h-1zM199.2 677.6h1.1v9.8h-1.1zM200.6 676.4h1.1v11h-1.1zM202.4 675.1h1.1v12.3h-1.1zM204.5 680h1.1v6.1h-1.1zM207.8 680.7h1.1v6.7h-1.1zM220.8 680h1v6.1h-1zM225.4 680h1.1v7.4h-1.1zM235.5 682.5h1.1v4.9h-1.1zM260.7 680h1.1v7.4h-1.1zM262.9 680h1.1v7.4h-1.1zM273.8 683.7h1.1v3.7h-1.1zM278.1 680.7h1.1v6.1h-1.1zM282.7 675.8h1.1v7.4h-1.1zM286.3 677.6h1.1v7.4h-1.1zM289.4 677h1.1v9.2h-1.1z"/><path fill="#3a3ae0" d="M50.5 607.5h1.1v7.1h-1.1zM66.3 608.1h1.1v6.5h-1.1zM69.5 613.3h1.1v1.3h-1.1zM72.7 613.3h1.1v1.3h-1.1zM78.3 613.3h1.1v1.3h-1.1zM81.1 608.8h1.1v5.8h-1.1zM89.9 613.3h1.1v1.3h-1.1zM111.2 606.8h1.1v7.8h-1.1zM120.3 606.8h1v7.8h-1zM122.6 605.6h1.1v9h-1.1zM136.8 607.5h1.1v7.1h-1.1zM138.8 613.3h1.1v1.3h-1.1zM142.4 601.7h1.1v12.9h-1.1zM143.6 604.3h1.1v10.3h-1.1zM145.4 601.7h1.1v12.9h-1.1zM147.4 603h1.1v11.6h-1.1zM148.8 603h1.1v11.6h-1.1zM152 603h1.1v11.6h-1.1zM157.3 603h1.1v11.6h-1.1zM159.3 603.6h1.1v11h-1.1zM161.3 602.3h1v12.3h-1zM162.3 601.7h1.1v12.9h-1.1zM163.5 601.7h1.1v12.9h-1.1zM165.7 601.7h1.1v12.9h-1.1zM170.5 602.3h1.1v12.3h-1.1zM171.9 601.7h1.1v12.9h-1.1zM173.9 601.7h1.1v12.9h-1.1zM176.1 601.7h1.1v12.9h-1.1zM177.3 602.3h1.1v12.3h-1.1zM181 603h1v11.6h-1zM183 601.7h1.1v12.9h-1.1zM185 601.7h1v12.9h-1zM187 601.7h1.1v12.9h-1.1zM190.1 601.7h1.1v12.9h-1.1zM192.3 601.7h1v12.9h-1zM193.3 601.7h1.1v12.9h-1.1zM195 601.7h1v12.9h-1zM196.1 601.7h1.1v12.9h-1.1zM197.5 601.7h1.1v12.9h-1.1zM199.2 602.3h1.1v12.3h-1.1zM200.6 603h1.1v11.6h-1.1zM207.8 608.1h1.1v6.5h-1.1zM230.9 613.3h1.1v1.3h-1.1zM244.9 605.6h1.1v9h-1.1zM264.8 607.5h1.1v7.1h-1.1zM278.1 610.1h1.1v4.5h-1.1zM280.3 612h1.1v2.6h-1.1zM78.3 680h1.1v7.4h-1.1zM112.9 680.7h1.1v6.7h-1.1zM132.8 677.6h1.1v9.8h-1.1zM138.8 681.9h1.1v5.5h-1.1zM140 675.8h1.1v11.6h-1.1zM141.2 675.1h1v12.3h-1zM142.4 675.1h1.1v12.3h-1.1zM143.6 675.1h1.1v12.3h-1.1zM145.4 675.8h1.1v11.6h-1.1zM148.8 675.1h1.1v12.3h-1.1zM150 677h1.1v10.4h-1.1zM152 675.1h1.1v12.3h-1.1zM153.4 680h1.1v7.4h-1.1zM154.7 675.1h1.1v12.3h-1.1zM156.1 675.1h1v12.3h-1zM157.3 675.1h1.1v12.3h-1.1zM159.3 675.1h1.1v12.3h-1.1zM162.3 677h1.1v10.4h-1.1zM163.5 676.4h1.1v11h-1.1zM173.9 682.5h1.1v4.9h-1.1zM182 683.7h1v3.7h-1zM183 683.7h1.1v3.7h-1.1zM204.5 686.2h1.1v1.2h-1.1zM220.8 686.2h1v1.2h-1zM264.8 681.9h1.1v5.5h-1.1zM269.6 682.5h1.1v4.9h-1.1zM278.1 686.8h1.1v.6h-1.1zM282.7 683.1h1.1v4.3h-1.1zM286.3 684.9h1.1v2.5h-1.1zM289.4 686.2h1.1v1.2h-1.1z"/><path fill="#6a10b8" d="M167.6 717.7h1.4v4h-1.4zM167.6 722.5h1.4v4h-1.4zM169.2 736.9h1.2v4h-1.2zM173.9 698.5h1.2v4h-1.2zM173.9 703.3h1.2v4h-1.2zM176.1 693.7h1.2v4h-1.2zM182 727.3h1v4h-1zM183 722.5h2v4h-2zM183 736.9h2v4h-2zM190.1 693.7h2v4h-2zM197.5 732.1h1.7v4h-1.7zM199.2 708.1h1.2v4h-1.2zM200.6 727.3h1.7v4h-1.7zM203.6 698.5h.6v4h-.6zM203.6 712.9h.6v4h-.6z"/><rect x="165.1" y="601" width="38.6" height="141.1" fill="none" stroke="#2fdc2f" stroke-width="2"/><rect x="31.7" y="775.6" width="270.2" height="172.7" fill="#fcfcfc" stroke="#9c9c9c" stroke-width="1"/><line x1="34.2" y1="783.5" x2="128.5" y2="783.5" stroke="#555" stroke-width="0.8"/><line x1="142.5" y1="783.5" x2="298.9" y2="783.5" stroke="#555" stroke-width="0.8"/><text x="131.5" y="784.8" font-size="3.8" fill="#222" font-weight="bold">29 kb</text><line x1="34.2" y1="797" x2="299.4" y2="797" stroke="#666" stroke-width="0.8"/><path stroke="#777" stroke-width="0.7" d="M78.4 793.8v3.2M156.2 793.8v3.2M233.6 793.8v3.2"/><text x="156.2" y="791.9" font-size="3.3" fill="#333" font-weight="bold" text-anchor="middle">2,700 kb</text><rect x="32.7" y="800.4" width="268.2" height="2.2" fill="#e6e6e6"/><line x1="32.7" y1="810" x2="51.5" y2="810" stroke="#d0d0d0" stroke-width="0.6"/><line x1="33.7" y1="818.2" x2="51.5" y2="818.2" stroke="#444" stroke-width="0.7"/><path fill="#d0d0d0" d="M51.5 824h230.5v4h-230.5zM51.5 828.8h230.5v4h-230.5zM34.5 833.6h247.5v4h-247.5zM34.5 838.4h247.5v4h-247.5zM34.5 843.2h247.5v4h-247.5zM34.5 848h247.5v4h-247.5zM34.5 852.8h247.5v4h-247.5zM34.5 857.6h247.5v4h-247.5zM34.5 862.4h247.5v4h-247.5zM34.5 867.2h247.5v4h-247.5z"/><path fill="#8436d6" d="M52.1 820.2h3.8l-1.9 3zM56.1 820.2h3.8l-1.9 3zM59.1 820.2h3.8l-1.9 3zM62.1 820.2h3.8l-1.9 3zM72.1 820.2h3.8l-1.9 3zM80.1 820.2h3.8l-1.9 3zM83.1 820.2h3.8l-1.9 3zM86.1 820.2h3.8l-1.9 3zM89.6 820.2h3.8l-1.9 3zM92.1 820.2h3.8l-1.9 3zM98.1 820.2h3.8l-1.9 3zM100.6 820.2h3.8l-1.9 3zM103.1 820.2h3.8l-1.9 3zM106.1 820.2h3.8l-1.9 3zM109.1 820.2h3.8l-1.9 3zM117.1 820.2h3.8l-1.9 3zM120.1 820.2h3.8l-1.9 3zM126.6 820.2h3.8l-1.9 3zM129.1 820.2h3.8l-1.9 3zM141.1 820.2h3.8l-1.9 3zM143.6 820.2h3.8l-1.9 3zM146.1 820.2h3.8l-1.9 3zM148.6 820.2h3.8l-1.9 3zM152.1 820.2h3.8l-1.9 3zM154.6 820.2h3.8l-1.9 3zM158.1 820.2h3.8l-1.9 3zM160.6 820.2h3.8l-1.9 3zM163.1 820.2h3.8l-1.9 3zM165.6 820.2h3.8l-1.9 3zM170.1 820.2h3.8l-1.9 3zM174.1 820.2h3.8l-1.9 3zM176.6 820.2h3.8l-1.9 3zM179.1 820.2h3.8l-1.9 3zM181.6 820.2h3.8l-1.9 3zM190.1 820.2h3.8l-1.9 3zM195.1 820.2h3.8l-1.9 3zM198.1 820.2h3.8l-1.9 3zM210.6 820.2h3.8l-1.9 3z"/><rect x="51.5" y="804.5" width="148.7" height="13.5" rx="1" fill="#a9a9a9"/><rect x="200.2" y="817.1" width="81.8" height="0.9" fill="#b0a0c0"/><rect x="32.7" y="872.6" width="268.2" height="2.4" fill="#e2e2e2"/><line x1="32.7" y1="883" x2="51.5" y2="883" stroke="#d0d0d0" stroke-width="0.6"/><line x1="33.7" y1="890.6" x2="51.5" y2="890.6" stroke="#444" stroke-width="0.7"/><path fill="#d0d0d0" d="M34.5 896.2h247.5v4h-247.5zM51.5 901h230.5v4h-230.5zM51.5 905.8h230.5v4h-230.5zM34.5 910.6h247.5v4h-247.5zM34.5 915.4h247.5v4h-247.5zM34.5 920.2h247.5v4h-247.5zM34.5 925h247.5v4h-247.5zM34.5 929.8h247.5v4h-247.5zM51.5 934.6h230.5v4h-230.5zM51.5 939.4h230.5v4h-230.5z"/><path fill="#8436d6" d="M52.1 892h3.8l-1.9 3zM56.1 892h3.8l-1.9 3zM59.1 892h3.8l-1.9 3zM62.1 892h3.8l-1.9 3zM72.1 892h3.8l-1.9 3zM80.1 892h3.8l-1.9 3zM83.1 892h3.8l-1.9 3zM86.1 892h3.8l-1.9 3zM89.6 892h3.8l-1.9 3zM92.1 892h3.8l-1.9 3zM98.1 892h3.8l-1.9 3zM100.6 892h3.8l-1.9 3zM103.1 892h3.8l-1.9 3zM106.1 892h3.8l-1.9 3zM109.1 892h3.8l-1.9 3zM117.1 892h3.8l-1.9 3zM120.1 892h3.8l-1.9 3zM126.6 892h3.8l-1.9 3zM129.1 892h3.8l-1.9 3zM141.1 892h3.8l-1.9 3zM143.6 892h3.8l-1.9 3zM146.1 892h3.8l-1.9 3zM148.6 892h3.8l-1.9 3zM152.1 892h3.8l-1.9 3zM154.6 892h3.8l-1.9 3zM158.1 892h3.8l-1.9 3zM160.6 892h3.8l-1.9 3zM163.1 892h3.8l-1.9 3zM165.6 892h3.8l-1.9 3zM170.1 892h3.8l-1.9 3zM174.1 892h3.8l-1.9 3zM176.6 892h3.8l-1.9 3zM179.1 892h3.8l-1.9 3zM181.6 892h3.8l-1.9 3zM190.1 892h3.8l-1.9 3zM195.1 892h3.8l-1.9 3zM198.1 892h3.8l-1.9 3zM210.6 892h3.8l-1.9 3z"/><rect x="51.5" y="876.4" width="148.7" height="14" rx="1" fill="#a9a9a9"/><rect x="200.2" y="889.5" width="81.8" height="0.9" fill="#b0a0c0"/><path fill="#f70606" d="M35.6 838.4h2v4h-2zM35.6 843.2h2v4h-2zM35.6 848h2v4h-2zM35.6 852.8h2v4h-2zM35.6 857.6h2v4h-2zM35.6 862.4h2v4h-2zM35.6 867.2h2v4h-2zM40.9 838.4h1.4v4h-1.4zM40.9 867.2h1.4v4h-1.4zM43.5 838.4h1.7v4h-1.7zM43.5 843.2h1.7v4h-1.7zM43.5 848h1.7v4h-1.7zM43.5 857.6h1.7v4h-1.7zM43.5 867.2h1.7v4h-1.7zM45.6 843.2h1.7v4h-1.7zM45.6 848h1.7v4h-1.7zM45.6 852.8h1.7v4h-1.7zM45.6 857.6h1.7v4h-1.7zM45.6 862.4h1.7v4h-1.7zM45.6 867.2h1.7v4h-1.7zM49.2 838.4h.8v4h-.8zM49.2 848h.8v4h-.8zM49.2 852.8h.8v4h-.8zM60.6 843.2h1.2v4h-1.2zM67.7 852.8h2v4h-2zM70.9 848h2v4h-2zM75.9 828.8h1v4h-1zM75.9 833.6h1v4h-1zM75.9 843.2h1v4h-1zM75.9 852.8h1v4h-1zM75.9 867.2h1v4h-1zM79.1 824h1.4v4h-1.4zM79.1 828.8h1.4v4h-1.4zM79.1 833.6h1.4v4h-1.4zM79.1 838.4h1.4v4h-1.4zM79.1 848h1.4v4h-1.4zM82.2 824h1.2v4h-1.2zM82.2 828.8h1.2v4h-1.2zM82.2 833.6h1.2v4h-1.2zM82.2 852.8h1.2v4h-1.2zM82.2 867.2h1.2v4h-1.2zM85 824h1.4v4h-1.4zM88.9 824h2v4h-2zM88.9 828.8h2v4h-2zM88.9 833.6h2v4h-2zM88.9 843.2h2v4h-2zM88.9 848h2v4h-2zM88.9 852.8h2v4h-2zM88.9 857.6h2v4h-2zM88.9 862.4h2v4h-2zM91.3 824h1v4h-1zM91.3 848h1v4h-1zM96.3 824h1.2v4h-1.2zM96.3 828.8h1.2v4h-1.2zM102.4 857.6h2v4h-2zM109.4 824h1v4h-1zM109.4 828.8h1v4h-1zM109.4 843.2h1v4h-1zM109.4 848h1v4h-1zM109.4 852.8h1v4h-1zM109.4 857.6h1v4h-1zM109.4 862.4h1v4h-1zM109.4 867.2h1v4h-1zM113.1 828.8h1.2v4h-1.2zM113.1 838.4h1.2v4h-1.2zM113.1 843.2h1.2v4h-1.2zM113.1 857.6h1.2v4h-1.2zM117.2 852.8h1v4h-1zM117.2 867.2h1v4h-1zM119.3 824h2v4h-2zM124.8 824h1v4h-1zM124.8 833.6h1v4h-1zM124.8 843.2h1v4h-1zM124.8 848h1v4h-1zM124.8 852.8h1v4h-1zM124.8 857.6h1v4h-1zM124.8 862.4h1v4h-1zM124.8 867.2h1v4h-1zM126.2 838.4h1.4v4h-1.4zM146.2 867.2h1.7v4h-1.7zM147.9 852.8h1v4h-1zM153.3 833.6h2v4h-2zM160.6 833.6h1v4h-1zM173.3 824h1.2v4h-1.2zM173.3 828.8h1.2v4h-1.2zM173.3 833.6h1.2v4h-1.2zM173.3 848h1.2v4h-1.2zM173.3 852.8h1.2v4h-1.2zM173.3 857.6h1.2v4h-1.2zM173.3 867.2h1.2v4h-1.2zM175.4 828.8h1.4v4h-1.4zM175.4 833.6h1.4v4h-1.4zM175.4 838.4h1.4v4h-1.4zM175.4 843.2h1.4v4h-1.4zM175.4 848h1.4v4h-1.4zM175.4 862.4h1.4v4h-1.4zM177.3 824h2v4h-2zM177.3 828.8h2v4h-2zM177.3 838.4h2v4h-2zM177.3 843.2h2v4h-2zM177.3 848h2v4h-2zM177.3 852.8h2v4h-2zM177.3 857.6h2v4h-2zM181.5 824h1v4h-1zM181.5 852.8h1v4h-1zM183 824h1v4h-1zM183 828.8h1v4h-1zM183 843.2h1v4h-1zM183 852.8h1v4h-1zM183 862.4h1v4h-1zM185.6 824h1.4v4h-1.4zM185.6 828.8h1.4v4h-1.4zM185.6 833.6h1.4v4h-1.4zM185.6 843.2h1.4v4h-1.4zM185.6 852.8h1.4v4h-1.4zM185.6 857.6h1.4v4h-1.4zM185.6 862.4h1.4v4h-1.4zM185.6 867.2h1.4v4h-1.4zM188 828.8h1.7v4h-1.7zM188 833.6h1.7v4h-1.7zM188 838.4h1.7v4h-1.7zM188 843.2h1.7v4h-1.7zM188 848h1.7v4h-1.7zM188 852.8h1.7v4h-1.7zM188 862.4h1.7v4h-1.7zM188 867.2h1.7v4h-1.7zM190.4 824h1.2v4h-1.2zM190.4 828.8h1.2v4h-1.2zM190.4 838.4h1.2v4h-1.2zM190.4 843.2h1.2v4h-1.2zM190.4 848h1.2v4h-1.2zM190.4 852.8h1.2v4h-1.2zM190.4 857.6h1.2v4h-1.2zM190.4 862.4h1.2v4h-1.2zM190.4 867.2h1.2v4h-1.2zM193.4 824h1v4h-1zM193.4 828.8h1v4h-1zM193.4 833.6h1v4h-1zM193.4 838.4h1v4h-1zM193.4 843.2h1v4h-1zM193.4 848h1v4h-1zM193.4 852.8h1v4h-1zM193.4 857.6h1v4h-1zM193.4 862.4h1v4h-1zM193.4 867.2h1v4h-1zM195 824h1.2v4h-1.2zM195 833.6h1.2v4h-1.2zM195 838.4h1.2v4h-1.2zM195 848h1.2v4h-1.2zM195 852.8h1.2v4h-1.2zM195 857.6h1.2v4h-1.2zM195 862.4h1.2v4h-1.2zM195 867.2h1.2v4h-1.2zM198.2 828.8h2v4h-2zM198.2 833.6h2v4h-2zM198.2 838.4h2v4h-2zM198.2 843.2h2v4h-2zM198.2 857.6h2v4h-2zM198.2 862.4h2v4h-2zM198.2 867.2h2v4h-2zM200.7 833.6h1.4v4h-1.4zM200.7 838.4h1.4v4h-1.4zM200.7 843.2h1.4v4h-1.4zM200.7 848h1.4v4h-1.4zM200.7 852.8h1.4v4h-1.4zM200.7 857.6h1.4v4h-1.4zM200.7 862.4h1.4v4h-1.4zM202.5 838.4h1.7v4h-1.7zM202.5 848h1.7v4h-1.7zM202.5 852.8h1.7v4h-1.7zM205.5 828.8h1.4v4h-1.4zM205.5 838.4h1.4v4h-1.4zM205.5 843.2h1.4v4h-1.4zM205.5 848h1.4v4h-1.4zM205.5 852.8h1.4v4h-1.4zM205.5 857.6h1.4v4h-1.4zM205.5 862.4h1.4v4h-1.4zM205.5 867.2h1.4v4h-1.4zM207.7 824h1.4v4h-1.4zM207.7 828.8h1.4v4h-1.4zM207.7 833.6h1.4v4h-1.4zM207.7 838.4h1.4v4h-1.4zM207.7 843.2h1.4v4h-1.4zM207.7 848h1.4v4h-1.4zM207.7 852.8h1.4v4h-1.4zM207.7 857.6h1.4v4h-1.4zM207.7 862.4h1.4v4h-1.4zM207.7 867.2h1.4v4h-1.4zM210.4 824h1.7v4h-1.7zM210.4 833.6h1.7v4h-1.7zM210.4 838.4h1.7v4h-1.7zM210.4 843.2h1.7v4h-1.7zM210.4 848h1.7v4h-1.7zM210.4 852.8h1.7v4h-1.7zM210.4 857.6h1.7v4h-1.7zM210.4 862.4h1.7v4h-1.7zM213.8 824h1.4v4h-1.4zM213.8 833.6h1.4v4h-1.4zM213.8 838.4h1.4v4h-1.4zM213.8 848h1.4v4h-1.4zM213.8 852.8h1.4v4h-1.4zM213.8 857.6h1.4v4h-1.4zM213.8 862.4h1.4v4h-1.4zM213.8 867.2h1.4v4h-1.4zM216.1 824h2v4h-2zM216.1 828.8h2v4h-2zM216.1 833.6h2v4h-2zM216.1 838.4h2v4h-2zM216.1 848h2v4h-2zM216.1 852.8h2v4h-2zM216.1 857.6h2v4h-2zM216.1 867.2h2v4h-2zM220.3 824h1v4h-1zM220.3 828.8h1v4h-1zM220.3 833.6h1v4h-1zM220.3 838.4h1v4h-1zM220.3 848h1v4h-1zM220.3 852.8h1v4h-1zM220.3 857.6h1v4h-1zM220.3 862.4h1v4h-1zM220.3 867.2h1v4h-1zM221.6 824h1.2v4h-1.2zM221.6 828.8h1.2v4h-1.2zM221.6 833.6h1.2v4h-1.2zM221.6 838.4h1.2v4h-1.2zM221.6 843.2h1.2v4h-1.2zM221.6 848h1.2v4h-1.2zM221.6 857.6h1.2v4h-1.2zM221.6 862.4h1.2v4h-1.2zM221.6 867.2h1.2v4h-1.2zM223.6 828.8h1.4v4h-1.4zM223.6 838.4h1.4v4h-1.4zM223.6 843.2h1.4v4h-1.4zM223.6 848h1.4v4h-1.4zM223.6 857.6h1.4v4h-1.4zM223.6 862.4h1.4v4h-1.4zM223.6 867.2h1.4v4h-1.4zM226.2 824h2v4h-2zM226.2 833.6h2v4h-2zM226.2 838.4h2v4h-2zM226.2 848h2v4h-2zM226.2 852.8h2v4h-2zM226.2 857.6h2v4h-2zM226.2 862.4h2v4h-2zM226.2 867.2h2v4h-2zM229.5 824h1.2v4h-1.2zM229.5 838.4h1.2v4h-1.2zM229.5 848h1.2v4h-1.2zM229.5 857.6h1.2v4h-1.2zM229.5 862.4h1.2v4h-1.2zM229.5 867.2h1.2v4h-1.2zM231.5 843.2h1v4h-1zM231.5 867.2h1v4h-1zM233.3 824h1.4v4h-1.4zM233.3 833.6h1.4v4h-1.4zM233.3 848h1.4v4h-1.4zM233.3 852.8h1.4v4h-1.4zM235.1 824h1.7v4h-1.7zM237.5 828.8h1.2v4h-1.2zM237.5 833.6h1.2v4h-1.2zM237.5 867.2h1.2v4h-1.2zM240.8 824h1.2v4h-1.2zM240.8 828.8h1.2v4h-1.2zM240.8 833.6h1.2v4h-1.2zM240.8 857.6h1.2v4h-1.2zM240.8 862.4h1.2v4h-1.2zM243.2 824h2v4h-2zM243.2 833.6h2v4h-2zM243.2 838.4h2v4h-2zM243.2 852.8h2v4h-2zM243.2 857.6h2v4h-2zM243.2 862.4h2v4h-2zM243.2 867.2h2v4h-2zM245.7 824h1v4h-1zM245.7 828.8h1v4h-1zM245.7 833.6h1v4h-1zM245.7 838.4h1v4h-1zM245.7 843.2h1v4h-1zM245.7 848h1v4h-1zM245.7 857.6h1v4h-1zM247.5 824h1v4h-1zM247.5 828.8h1v4h-1zM247.5 838.4h1v4h-1zM247.5 843.2h1v4h-1zM247.5 848h1v4h-1zM247.5 852.8h1v4h-1zM247.5 857.6h1v4h-1zM247.5 862.4h1v4h-1zM247.5 867.2h1v4h-1zM250.9 838.4h1.7v4h-1.7zM250.9 843.2h1.7v4h-1.7zM250.9 852.8h1.7v4h-1.7zM250.9 862.4h1.7v4h-1.7zM250.9 867.2h1.7v4h-1.7zM253.3 824h1.7v4h-1.7zM253.3 828.8h1.7v4h-1.7zM253.3 833.6h1.7v4h-1.7zM253.3 843.2h1.7v4h-1.7zM253.3 848h1.7v4h-1.7zM253.3 857.6h1.7v4h-1.7zM253.3 862.4h1.7v4h-1.7zM253.3 867.2h1.7v4h-1.7zM255.6 857.6h1v4h-1zM257 824h1.7v4h-1.7zM257 833.6h1.7v4h-1.7zM257 843.2h1.7v4h-1.7zM257 848h1.7v4h-1.7zM257 852.8h1.7v4h-1.7zM257 857.6h1.7v4h-1.7zM257 862.4h1.7v4h-1.7zM259.1 838.4h1.7v4h-1.7zM259.1 843.2h1.7v4h-1.7zM259.1 862.4h1.7v4h-1.7zM259.1 867.2h1.7v4h-1.7zM262.2 824h1.4v4h-1.4zM262.2 828.8h1.4v4h-1.4zM262.2 833.6h1.4v4h-1.4zM262.2 838.4h1.4v4h-1.4zM262.2 843.2h1.4v4h-1.4zM262.2 852.8h1.4v4h-1.4zM262.2 857.6h1.4v4h-1.4zM262.2 867.2h1.4v4h-1.4zM263.9 824h1.4v4h-1.4zM263.9 833.6h1.4v4h-1.4zM263.9 838.4h1.4v4h-1.4zM263.9 843.2h1.4v4h-1.4zM263.9 848h1.4v4h-1.4zM263.9 852.8h1.4v4h-1.4zM263.9 857.6h1.4v4h-1.4zM263.9 867.2h1.4v4h-1.4zM265.8 857.6h1.7v4h-1.7zM268.1 824h1v4h-1zM268.1 843.2h1v4h-1zM268.1 852.8h1v4h-1zM268.1 862.4h1v4h-1zM270.2 824h1v4h-1zM270.2 828.8h1v4h-1zM270.2 838.4h1v4h-1zM270.2 843.2h1v4h-1zM270.2 848h1v4h-1zM270.2 852.8h1v4h-1zM270.2 857.6h1v4h-1zM270.2 862.4h1v4h-1zM270.2 867.2h1v4h-1zM271.5 828.8h1v4h-1zM271.5 833.6h1v4h-1zM271.5 862.4h1v4h-1zM273.1 824h1v4h-1zM273.1 828.8h1v4h-1zM273.1 843.2h1v4h-1zM273.1 848h1v4h-1zM273.1 862.4h1v4h-1zM273.1 867.2h1v4h-1zM275.7 828.8h1.2v4h-1.2zM275.7 838.4h1.2v4h-1.2zM275.7 843.2h1.2v4h-1.2zM275.7 848h1.2v4h-1.2zM275.7 852.8h1.2v4h-1.2zM275.7 857.6h1.2v4h-1.2zM275.7 862.4h1.2v4h-1.2zM278 824h1.2v4h-1.2zM278 833.6h1.2v4h-1.2zM278 843.2h1.2v4h-1.2zM278 848h1.2v4h-1.2zM278 852.8h1.2v4h-1.2zM278 862.4h1.2v4h-1.2zM279.7 824h1v4h-1zM279.7 828.8h1v4h-1zM279.7 838.4h1v4h-1zM279.7 843.2h1v4h-1zM279.7 848h1v4h-1zM279.7 852.8h1v4h-1zM279.7 857.6h1v4h-1zM279.7 862.4h1v4h-1zM35.6 896.2h2v4h-2zM35.6 910.6h2v4h-2zM35.6 920.2h2v4h-2zM35.6 929.8h2v4h-2zM40.9 925h1.4v4h-1.4zM43.5 896.2h1.7v4h-1.7zM43.5 910.6h1.7v4h-1.7zM43.5 915.4h1.7v4h-1.7zM43.5 920.2h1.7v4h-1.7zM43.5 925h1.7v4h-1.7zM43.5 929.8h1.7v4h-1.7zM45.6 910.6h1.7v4h-1.7zM45.6 920.2h1.7v4h-1.7zM45.6 925h1.7v4h-1.7zM45.6 929.8h1.7v4h-1.7zM49.2 896.2h.8v4h-.8zM49.2 910.6h.8v4h-.8zM49.2 915.4h.8v4h-.8zM50.2 929.8h1v4h-1zM56.5 939.4h1v4h-1zM59.6 915.4h1v4h-1zM70.9 901h2v4h-2zM70.9 905.8h2v4h-2zM70.9 910.6h2v4h-2zM70.9 915.4h2v4h-2zM70.9 920.2h2v4h-2zM70.9 934.6h2v4h-2zM70.9 939.4h2v4h-2zM79.1 896.2h1.4v4h-1.4zM79.1 901h1.4v4h-1.4zM79.1 905.8h1.4v4h-1.4zM79.1 910.6h1.4v4h-1.4zM79.1 915.4h1.4v4h-1.4zM79.1 920.2h1.4v4h-1.4zM79.1 929.8h1.4v4h-1.4zM79.1 934.6h1.4v4h-1.4zM79.1 939.4h1.4v4h-1.4zM85 920.2h1.4v4h-1.4zM85 934.6h1.4v4h-1.4zM86.8 896.2h1.7v4h-1.7zM86.8 901h1.7v4h-1.7zM86.8 905.8h1.7v4h-1.7zM86.8 915.4h1.7v4h-1.7zM86.8 920.2h1.7v4h-1.7zM86.8 925h1.7v4h-1.7zM86.8 929.8h1.7v4h-1.7zM86.8 939.4h1.7v4h-1.7zM88.9 896.2h2v4h-2zM88.9 901h2v4h-2zM88.9 910.6h2v4h-2zM88.9 915.4h2v4h-2zM88.9 920.2h2v4h-2zM88.9 925h2v4h-2zM88.9 934.6h2v4h-2zM91.3 896.2h1v4h-1zM91.3 901h1v4h-1zM91.3 905.8h1v4h-1zM91.3 915.4h1v4h-1zM91.3 920.2h1v4h-1zM91.3 925h1v4h-1zM91.3 934.6h1v4h-1zM94.2 896.2h1.2v4h-1.2zM94.2 920.2h1.2v4h-1.2zM94.2 925h1.2v4h-1.2zM94.2 929.8h1.2v4h-1.2zM94.2 934.6h1.2v4h-1.2zM94.2 939.4h1.2v4h-1.2zM100.4 915.4h1.7v4h-1.7zM100.4 920.2h1.7v4h-1.7zM100.4 925h1.7v4h-1.7zM100.4 934.6h1.7v4h-1.7zM102.4 896.2h2v4h-2zM102.4 901h2v4h-2zM102.4 910.6h2v4h-2zM102.4 920.2h2v4h-2zM102.4 925h2v4h-2zM102.4 934.6h2v4h-2zM102.4 939.4h2v4h-2zM105.6 896.2h1.2v4h-1.2zM105.6 901h1.2v4h-1.2zM105.6 905.8h1.2v4h-1.2zM105.6 910.6h1.2v4h-1.2zM105.6 915.4h1.2v4h-1.2zM105.6 920.2h1.2v4h-1.2zM105.6 929.8h1.2v4h-1.2zM105.6 934.6h1.2v4h-1.2zM105.6 939.4h1.2v4h-1.2zM109.4 896.2h1v4h-1zM109.4 901h1v4h-1zM109.4 910.6h1v4h-1zM109.4 915.4h1v4h-1zM109.4 920.2h1v4h-1zM109.4 925h1v4h-1zM109.4 929.8h1v4h-1zM113.1 905.8h1.2v4h-1.2zM113.1 920.2h1.2v4h-1.2zM114.8 905.8h1.2v4h-1.2zM114.8 910.6h1.2v4h-1.2zM114.8 915.4h1.2v4h-1.2zM114.8 920.2h1.2v4h-1.2zM114.8 929.8h1.2v4h-1.2zM114.8 934.6h1.2v4h-1.2zM114.8 939.4h1.2v4h-1.2zM122.5 896.2h1.4v4h-1.4zM122.5 901h1.4v4h-1.4zM122.5 910.6h1.4v4h-1.4zM122.5 915.4h1.4v4h-1.4zM122.5 920.2h1.4v4h-1.4zM122.5 925h1.4v4h-1.4zM122.5 929.8h1.4v4h-1.4zM122.5 934.6h1.4v4h-1.4zM124.8 901h1v4h-1zM124.8 910.6h1v4h-1zM124.8 915.4h1v4h-1zM124.8 920.2h1v4h-1zM124.8 934.6h1v4h-1zM124.8 939.4h1v4h-1zM126.2 925h1.4v4h-1.4zM128 901h1.2v4h-1.2zM128 915.4h1.2v4h-1.2zM128 934.6h1.2v4h-1.2zM130.5 896.2h1v4h-1zM130.5 901h1v4h-1zM130.5 910.6h1v4h-1zM130.5 920.2h1v4h-1zM130.5 925h1v4h-1zM130.5 929.8h1v4h-1zM130.5 934.6h1v4h-1zM130.5 939.4h1v4h-1zM132.1 896.2h2v4h-2zM132.1 901h2v4h-2zM132.1 905.8h2v4h-2zM132.1 910.6h2v4h-2zM132.1 915.4h2v4h-2zM132.1 920.2h2v4h-2zM132.1 925h2v4h-2zM132.1 929.8h2v4h-2zM132.1 934.6h2v4h-2zM132.1 939.4h2v4h-2zM134.1 896.2h2v4h-2zM134.1 901h2v4h-2zM134.1 905.8h2v4h-2zM134.1 910.6h2v4h-2zM134.1 915.4h2v4h-2zM134.1 920.2h2v4h-2zM134.1 925h2v4h-2zM134.1 929.8h2v4h-2zM134.1 934.6h2v4h-2zM134.1 939.4h2v4h-2zM136.1 896.2h1v4h-1zM136.1 901h1v4h-1zM136.1 905.8h1v4h-1zM136.1 910.6h1v4h-1zM136.1 915.4h1v4h-1zM136.1 920.2h1v4h-1zM136.1 925h1v4h-1zM136.1 929.8h1v4h-1zM136.1 934.6h1v4h-1zM137.1 905.8h1.7v4h-1.7zM137.1 910.6h1.7v4h-1.7zM137.1 915.4h1.7v4h-1.7zM137.1 920.2h1.7v4h-1.7zM137.1 925h1.7v4h-1.7zM137.1 929.8h1.7v4h-1.7zM137.1 934.6h1.7v4h-1.7zM138.8 896.2h1.2v4h-1.2zM138.8 901h1.2v4h-1.2zM138.8 910.6h1.2v4h-1.2zM138.8 915.4h1.2v4h-1.2zM138.8 920.2h1.2v4h-1.2zM138.8 925h1.2v4h-1.2zM138.8 929.8h1.2v4h-1.2zM138.8 934.6h1.2v4h-1.2zM138.8 939.4h1.2v4h-1.2zM140.1 896.2h1.7v4h-1.7zM140.1 905.8h1.7v4h-1.7zM140.1 910.6h1.7v4h-1.7zM140.1 915.4h1.7v4h-1.7zM140.1 920.2h1.7v4h-1.7zM140.1 925h1.7v4h-1.7zM140.1 939.4h1.7v4h-1.7zM142 896.2h1.4v4h-1.4zM142 901h1.4v4h-1.4zM142 905.8h1.4v4h-1.4zM142 910.6h1.4v4h-1.4zM142 920.2h1.4v4h-1.4zM142 929.8h1.4v4h-1.4zM142 934.6h1.4v4h-1.4zM142 939.4h1.4v4h-1.4zM143.5 896.2h1.7v4h-1.7zM143.5 901h1.7v4h-1.7zM143.5 905.8h1.7v4h-1.7zM143.5 910.6h1.7v4h-1.7zM143.5 915.4h1.7v4h-1.7zM143.5 920.2h1.7v4h-1.7zM143.5 925h1.7v4h-1.7zM143.5 929.8h1.7v4h-1.7zM143.5 934.6h1.7v4h-1.7zM143.5 939.4h1.7v4h-1.7zM145.2 896.2h1v4h-1zM145.2 901h1v4h-1zM145.2 905.8h1v4h-1zM145.2 910.6h1v4h-1zM145.2 915.4h1v4h-1zM145.2 925h1v4h-1zM145.2 929.8h1v4h-1zM145.2 934.6h1v4h-1zM145.2 939.4h1v4h-1zM146.2 901h1.7v4h-1.7zM146.2 905.8h1.7v4h-1.7zM146.2 910.6h1.7v4h-1.7zM146.2 915.4h1.7v4h-1.7zM146.2 920.2h1.7v4h-1.7zM146.2 925h1.7v4h-1.7zM146.2 929.8h1.7v4h-1.7zM146.2 934.6h1.7v4h-1.7zM146.2 939.4h1.7v4h-1.7zM147.9 896.2h1v4h-1zM147.9 901h1v4h-1zM147.9 905.8h1v4h-1zM147.9 910.6h1v4h-1zM147.9 915.4h1v4h-1zM147.9 920.2h1v4h-1zM147.9 925h1v4h-1zM147.9 929.8h1v4h-1zM147.9 934.6h1v4h-1zM147.9 939.4h1v4h-1zM149 896.2h1.4v4h-1.4zM149 901h1.4v4h-1.4zM149 905.8h1.4v4h-1.4zM149 910.6h1.4v4h-1.4zM149 920.2h1.4v4h-1.4zM149 925h1.4v4h-1.4zM149 929.8h1.4v4h-1.4zM149 934.6h1.4v4h-1.4zM149 939.4h1.4v4h-1.4zM150.4 896.2h1.7v4h-1.7zM150.4 901h1.7v4h-1.7zM150.4 905.8h1.7v4h-1.7zM150.4 910.6h1.7v4h-1.7zM150.4 915.4h1.7v4h-1.7zM150.4 920.2h1.7v4h-1.7zM150.4 925h1.7v4h-1.7zM150.4 929.8h1.7v4h-1.7zM150.4 934.6h1.7v4h-1.7zM150.4 939.4h1.7v4h-1.7zM152.1 896.2h1.2v4h-1.2zM152.1 901h1.2v4h-1.2zM152.1 905.8h1.2v4h-1.2zM152.1 910.6h1.2v4h-1.2zM152.1 915.4h1.2v4h-1.2zM152.1 920.2h1.2v4h-1.2zM152.1 925h1.2v4h-1.2zM152.1 929.8h1.2v4h-1.2zM152.1 934.6h1.2v4h-1.2zM152.1 939.4h1.2v4h-1.2zM153.3 896.2h2v4h-2zM153.3 901h2v4h-2zM153.3 905.8h2v4h-2zM153.3 910.6h2v4h-2zM153.3 915.4h2v4h-2zM153.3 920.2h2v4h-2zM153.3 925h2v4h-2zM153.3 929.8h2v4h-2zM153.3 934.6h2v4h-2zM153.3 939.4h2v4h-2zM155.5 896.2h1.2v4h-1.2zM155.5 901h1.2v4h-1.2zM155.5 905.8h1.2v4h-1.2zM155.5 929.8h1.2v4h-1.2zM155.5 934.6h1.2v4h-1.2zM156.7 901h2v4h-2zM156.7 905.8h2v4h-2zM156.7 910.6h2v4h-2zM156.7 915.4h2v4h-2zM156.7 920.2h2v4h-2zM156.7 925h2v4h-2zM156.7 929.8h2v4h-2zM156.7 939.4h2v4h-2zM158.8 896.2h1.7v4h-1.7zM158.8 901h1.7v4h-1.7zM158.8 905.8h1.7v4h-1.7zM158.8 910.6h1.7v4h-1.7zM158.8 920.2h1.7v4h-1.7zM158.8 929.8h1.7v4h-1.7zM158.8 934.6h1.7v4h-1.7zM158.8 939.4h1.7v4h-1.7zM160.6 896.2h1v4h-1zM160.6 901h1v4h-1zM160.6 905.8h1v4h-1zM160.6 910.6h1v4h-1zM160.6 915.4h1v4h-1zM160.6 920.2h1v4h-1zM160.6 925h1v4h-1zM160.6 934.6h1v4h-1zM160.6 939.4h1v4h-1zM161.6 896.2h1.2v4h-1.2zM161.6 901h1.2v4h-1.2zM161.6 905.8h1.2v4h-1.2zM161.6 910.6h1.2v4h-1.2zM161.6 915.4h1.2v4h-1.2zM161.6 920.2h1.2v4h-1.2zM161.6 925h1.2v4h-1.2zM161.6 929.8h1.2v4h-1.2zM161.6 934.6h1.2v4h-1.2zM161.6 939.4h1.2v4h-1.2zM162.8 896.2h1.4v4h-1.4zM162.8 901h1.4v4h-1.4zM162.8 905.8h1.4v4h-1.4zM162.8 910.6h1.4v4h-1.4zM162.8 915.4h1.4v4h-1.4zM162.8 920.2h1.4v4h-1.4zM162.8 925h1.4v4h-1.4zM162.8 929.8h1.4v4h-1.4zM162.8 934.6h1.4v4h-1.4zM162.8 939.4h1.4v4h-1.4zM164.2 896.2h1.4v4h-1.4zM164.2 901h1.4v4h-1.4zM164.2 905.8h1.4v4h-1.4zM164.2 910.6h1.4v4h-1.4zM164.2 915.4h1.4v4h-1.4zM164.2 920.2h1.4v4h-1.4zM164.2 929.8h1.4v4h-1.4zM164.2 934.6h1.4v4h-1.4zM165.8 896.2h1.2v4h-1.2zM165.8 910.6h1.2v4h-1.2zM165.8 920.2h1.2v4h-1.2zM165.8 925h1.2v4h-1.2zM165.8 929.8h1.2v4h-1.2zM165.8 934.6h1.2v4h-1.2zM165.8 939.4h1.2v4h-1.2zM167 896.2h1.7v4h-1.7zM167 901h1.7v4h-1.7zM167 915.4h1.7v4h-1.7zM167 920.2h1.7v4h-1.7zM167 929.8h1.7v4h-1.7zM167 934.6h1.7v4h-1.7zM167 939.4h1.7v4h-1.7zM168.7 896.2h1v4h-1zM168.7 901h1v4h-1zM168.7 905.8h1v4h-1zM168.7 910.6h1v4h-1zM168.7 915.4h1v4h-1zM168.7 920.2h1v4h-1zM168.7 925h1v4h-1zM168.7 929.8h1v4h-1zM168.7 934.6h1v4h-1zM168.7 939.4h1v4h-1zM169.9 896.2h1.4v4h-1.4zM169.9 905.8h1.4v4h-1.4zM169.9 910.6h1.4v4h-1.4zM169.9 915.4h1.4v4h-1.4zM169.9 920.2h1.4v4h-1.4zM169.9 925h1.4v4h-1.4zM169.9 929.8h1.4v4h-1.4zM169.9 934.6h1.4v4h-1.4zM171.3 905.8h1.4v4h-1.4zM171.3 910.6h1.4v4h-1.4zM171.3 920.2h1.4v4h-1.4zM171.3 925h1.4v4h-1.4zM171.3 929.8h1.4v4h-1.4zM171.3 934.6h1.4v4h-1.4zM171.3 939.4h1.4v4h-1.4zM175.4 901h1.4v4h-1.4zM175.4 905.8h1.4v4h-1.4zM175.4 910.6h1.4v4h-1.4zM175.4 915.4h1.4v4h-1.4zM175.4 929.8h1.4v4h-1.4zM175.4 934.6h1.4v4h-1.4zM177.3 896.2h2v4h-2zM177.3 901h2v4h-2zM177.3 905.8h2v4h-2zM177.3 910.6h2v4h-2zM177.3 915.4h2v4h-2zM177.3 920.2h2v4h-2zM177.3 925h2v4h-2zM177.3 934.6h2v4h-2zM177.3 939.4h2v4h-2zM181.5 896.2h1v4h-1zM181.5 901h1v4h-1zM181.5 905.8h1v4h-1zM181.5 910.6h1v4h-1zM181.5 915.4h1v4h-1zM181.5 920.2h1v4h-1zM181.5 925h1v4h-1zM181.5 929.8h1v4h-1zM181.5 934.6h1v4h-1zM183 896.2h1v4h-1zM183 901h1v4h-1zM183 915.4h1v4h-1zM183 920.2h1v4h-1zM183 925h1v4h-1zM183 934.6h1v4h-1zM183 939.4h1v4h-1zM185.6 901h1.4v4h-1.4zM185.6 910.6h1.4v4h-1.4zM185.6 920.2h1.4v4h-1.4zM185.6 925h1.4v4h-1.4zM185.6 939.4h1.4v4h-1.4zM188 896.2h1.7v4h-1.7zM188 901h1.7v4h-1.7zM188 905.8h1.7v4h-1.7zM188 910.6h1.7v4h-1.7zM188 915.4h1.7v4h-1.7zM188 925h1.7v4h-1.7zM188 929.8h1.7v4h-1.7zM188 934.6h1.7v4h-1.7zM188 939.4h1.7v4h-1.7zM190.4 896.2h1.2v4h-1.2zM190.4 901h1.2v4h-1.2zM190.4 905.8h1.2v4h-1.2zM190.4 915.4h1.2v4h-1.2zM190.4 920.2h1.2v4h-1.2zM190.4 925h1.2v4h-1.2zM190.4 929.8h1.2v4h-1.2zM190.4 934.6h1.2v4h-1.2zM190.4 939.4h1.2v4h-1.2zM193.4 896.2h1v4h-1zM193.4 901h1v4h-1zM193.4 915.4h1v4h-1zM193.4 920.2h1v4h-1zM193.4 929.8h1v4h-1zM195 896.2h1.2v4h-1.2zM195 901h1.2v4h-1.2zM195 905.8h1.2v4h-1.2zM195 920.2h1.2v4h-1.2zM195 929.8h1.2v4h-1.2zM195 934.6h1.2v4h-1.2zM195 939.4h1.2v4h-1.2zM198.2 896.2h2v4h-2zM198.2 905.8h2v4h-2zM198.2 915.4h2v4h-2zM198.2 929.8h2v4h-2zM200.7 896.2h1.4v4h-1.4zM200.7 901h1.4v4h-1.4zM200.7 905.8h1.4v4h-1.4zM200.7 915.4h1.4v4h-1.4zM200.7 925h1.4v4h-1.4zM200.7 929.8h1.4v4h-1.4zM200.7 934.6h1.4v4h-1.4zM200.7 939.4h1.4v4h-1.4zM202.5 905.8h1.7v4h-1.7zM202.5 925h1.7v4h-1.7zM202.5 929.8h1.7v4h-1.7zM205.5 896.2h1.4v4h-1.4zM205.5 901h1.4v4h-1.4zM205.5 915.4h1.4v4h-1.4zM205.5 920.2h1.4v4h-1.4zM207.7 910.6h1.4v4h-1.4zM210.4 905.8h1.7v4h-1.7zM213.8 896.2h1.4v4h-1.4zM213.8 905.8h1.4v4h-1.4zM213.8 910.6h1.4v4h-1.4zM213.8 915.4h1.4v4h-1.4zM213.8 920.2h1.4v4h-1.4zM213.8 925h1.4v4h-1.4zM213.8 929.8h1.4v4h-1.4zM213.8 939.4h1.4v4h-1.4zM216.1 896.2h2v4h-2zM216.1 910.6h2v4h-2zM216.1 939.4h2v4h-2zM220.3 896.2h1v4h-1zM220.3 905.8h1v4h-1zM220.3 910.6h1v4h-1zM220.3 915.4h1v4h-1zM220.3 920.2h1v4h-1zM220.3 929.8h1v4h-1zM220.3 934.6h1v4h-1zM220.3 939.4h1v4h-1zM221.6 905.8h1.2v4h-1.2zM221.6 915.4h1.2v4h-1.2zM221.6 920.2h1.2v4h-1.2zM221.6 925h1.2v4h-1.2zM221.6 929.8h1.2v4h-1.2zM221.6 934.6h1.2v4h-1.2zM223.6 896.2h1.4v4h-1.4zM223.6 905.8h1.4v4h-1.4zM223.6 910.6h1.4v4h-1.4zM223.6 915.4h1.4v4h-1.4zM223.6 920.2h1.4v4h-1.4zM223.6 925h1.4v4h-1.4zM223.6 929.8h1.4v4h-1.4zM223.6 934.6h1.4v4h-1.4zM226.2 896.2h2v4h-2zM226.2 901h2v4h-2zM226.2 905.8h2v4h-2zM226.2 910.6h2v4h-2zM226.2 915.4h2v4h-2zM226.2 929.8h2v4h-2zM226.2 934.6h2v4h-2zM226.2 939.4h2v4h-2zM229.5 920.2h1.2v4h-1.2zM229.5 925h1.2v4h-1.2zM229.5 934.6h1.2v4h-1.2zM229.5 939.4h1.2v4h-1.2zM233.3 901h1.4v4h-1.4zM233.3 905.8h1.4v4h-1.4zM233.3 915.4h1.4v4h-1.4zM233.3 920.2h1.4v4h-1.4zM233.3 925h1.4v4h-1.4zM233.3 939.4h1.4v4h-1.4zM235.1 901h1.7v4h-1.7zM235.1 915.4h1.7v4h-1.7zM235.1 925h1.7v4h-1.7zM237.5 901h1.2v4h-1.2zM237.5 905.8h1.2v4h-1.2zM237.5 910.6h1.2v4h-1.2zM237.5 915.4h1.2v4h-1.2zM237.5 920.2h1.2v4h-1.2zM237.5 925h1.2v4h-1.2zM237.5 929.8h1.2v4h-1.2zM237.5 934.6h1.2v4h-1.2zM237.5 939.4h1.2v4h-1.2zM240.8 920.2h1.2v4h-1.2zM240.8 934.6h1.2v4h-1.2zM240.8 939.4h1.2v4h-1.2zM243.2 901h2v4h-2zM243.2 905.8h2v4h-2zM243.2 920.2h2v4h-2zM243.2 934.6h2v4h-2zM243.2 939.4h2v4h-2zM245.7 896.2h1v4h-1zM245.7 901h1v4h-1zM245.7 905.8h1v4h-1zM245.7 910.6h1v4h-1zM245.7 915.4h1v4h-1zM245.7 920.2h1v4h-1zM245.7 925h1v4h-1zM245.7 929.8h1v4h-1zM245.7 934.6h1v4h-1zM247.5 896.2h1v4h-1zM247.5 901h1v4h-1zM247.5 905.8h1v4h-1zM247.5 910.6h1v4h-1zM247.5 915.4h1v4h-1zM247.5 920.2h1v4h-1zM247.5 925h1v4h-1zM247.5 929.8h1v4h-1zM247.5 934.6h1v4h-1zM247.5 939.4h1v4h-1zM250.9 896.2h1.7v4h-1.7zM250.9 901h1.7v4h-1.7zM250.9 905.8h1.7v4h-1.7zM250.9 910.6h1.7v4h-1.7zM250.9 915.4h1.7v4h-1.7zM250.9 920.2h1.7v4h-1.7zM250.9 925h1.7v4h-1.7zM250.9 934.6h1.7v4h-1.7zM250.9 939.4h1.7v4h-1.7zM253.3 896.2h1.7v4h-1.7zM253.3 915.4h1.7v4h-1.7zM253.3 920.2h1.7v4h-1.7zM253.3 939.4h1.7v4h-1.7zM255.6 901h1v4h-1zM255.6 939.4h1v4h-1zM257 901h1.7v4h-1.7zM257 910.6h1.7v4h-1.7zM257 915.4h1.7v4h-1.7zM257 925h1.7v4h-1.7zM259.1 896.2h1.7v4h-1.7zM259.1 901h1.7v4h-1.7zM259.1 905.8h1.7v4h-1.7zM259.1 910.6h1.7v4h-1.7zM259.1 920.2h1.7v4h-1.7zM259.1 925h1.7v4h-1.7zM259.1 929.8h1.7v4h-1.7zM259.1 934.6h1.7v4h-1.7zM259.1 939.4h1.7v4h-1.7zM262.2 896.2h1.4v4h-1.4zM262.2 901h1.4v4h-1.4zM262.2 905.8h1.4v4h-1.4zM262.2 910.6h1.4v4h-1.4zM262.2 925h1.4v4h-1.4zM262.2 929.8h1.4v4h-1.4zM262.2 934.6h1.4v4h-1.4zM262.2 939.4h1.4v4h-1.4zM263.9 905.8h1.4v4h-1.4zM265.8 896.2h1.7v4h-1.7zM265.8 901h1.7v4h-1.7zM265.8 905.8h1.7v4h-1.7zM265.8 910.6h1.7v4h-1.7zM265.8 915.4h1.7v4h-1.7zM265.8 929.8h1.7v4h-1.7zM265.8 934.6h1.7v4h-1.7zM265.8 939.4h1.7v4h-1.7zM268.1 896.2h1v4h-1zM268.1 901h1v4h-1zM268.1 905.8h1v4h-1zM268.1 910.6h1v4h-1zM268.1 915.4h1v4h-1zM268.1 920.2h1v4h-1zM268.1 925h1v4h-1zM268.1 934.6h1v4h-1zM268.1 939.4h1v4h-1zM270.2 896.2h1v4h-1zM270.2 901h1v4h-1zM270.2 905.8h1v4h-1zM270.2 910.6h1v4h-1zM270.2 915.4h1v4h-1zM270.2 920.2h1v4h-1zM270.2 925h1v4h-1zM270.2 929.8h1v4h-1zM270.2 934.6h1v4h-1zM270.2 939.4h1v4h-1zM273.1 910.6h1v4h-1zM273.1 934.6h1v4h-1zM275.7 901h1.2v4h-1.2zM275.7 910.6h1.2v4h-1.2zM275.7 915.4h1.2v4h-1.2zM275.7 920.2h1.2v4h-1.2zM275.7 925h1.2v4h-1.2zM275.7 929.8h1.2v4h-1.2zM275.7 939.4h1.2v4h-1.2zM278 901h1.2v4h-1.2zM278 905.8h1.2v4h-1.2zM278 915.4h1.2v4h-1.2zM278 920.2h1.2v4h-1.2zM278 925h1.2v4h-1.2zM278 929.8h1.2v4h-1.2z"/><path fill="#0808f2" d="M40.9 852.8h1.4v4h-1.4zM40.9 857.6h1.4v4h-1.4zM40.9 862.4h1.4v4h-1.4zM43.5 852.8h1.7v4h-1.7zM49.2 833.6h.8v4h-.8zM49.2 862.4h.8v4h-.8zM49.2 867.2h.8v4h-.8zM50.2 833.6h1v4h-1zM50.2 843.2h1v4h-1zM50.2 848h1v4h-1zM50.2 852.8h1v4h-1zM50.2 862.4h1v4h-1zM50.2 867.2h1v4h-1zM51.5 824h1v4h-1zM51.5 828.8h1v4h-1zM51.5 838.4h1v4h-1zM51.5 843.2h1v4h-1zM51.5 848h1v4h-1zM51.5 852.8h1v4h-1zM51.5 857.6h1v4h-1zM51.5 862.4h1v4h-1zM51.5 867.2h1v4h-1zM53.1 824h1.7v4h-1.7zM53.1 828.8h1.7v4h-1.7zM53.1 833.6h1.7v4h-1.7zM53.1 838.4h1.7v4h-1.7zM53.1 848h1.7v4h-1.7zM53.1 852.8h1.7v4h-1.7zM53.1 857.6h1.7v4h-1.7zM53.1 862.4h1.7v4h-1.7zM53.1 867.2h1.7v4h-1.7zM54.8 824h1.7v4h-1.7zM54.8 828.8h1.7v4h-1.7zM54.8 833.6h1.7v4h-1.7zM54.8 838.4h1.7v4h-1.7zM54.8 843.2h1.7v4h-1.7zM54.8 852.8h1.7v4h-1.7zM54.8 857.6h1.7v4h-1.7zM54.8 862.4h1.7v4h-1.7zM54.8 867.2h1.7v4h-1.7zM56.5 824h1v4h-1zM56.5 828.8h1v4h-1zM56.5 843.2h1v4h-1zM56.5 848h1v4h-1zM56.5 852.8h1v4h-1zM56.5 862.4h1v4h-1zM56.5 867.2h1v4h-1zM57.9 824h1.7v4h-1.7zM57.9 828.8h1.7v4h-1.7zM57.9 833.6h1.7v4h-1.7zM57.9 838.4h1.7v4h-1.7zM57.9 843.2h1.7v4h-1.7zM57.9 848h1.7v4h-1.7zM57.9 852.8h1.7v4h-1.7zM57.9 857.6h1.7v4h-1.7zM57.9 862.4h1.7v4h-1.7zM57.9 867.2h1.7v4h-1.7zM59.6 824h1v4h-1zM59.6 828.8h1v4h-1zM59.6 833.6h1v4h-1zM59.6 838.4h1v4h-1zM59.6 843.2h1v4h-1zM59.6 848h1v4h-1zM59.6 857.6h1v4h-1zM60.6 824h1.2v4h-1.2zM60.6 828.8h1.2v4h-1.2zM60.6 833.6h1.2v4h-1.2zM60.6 838.4h1.2v4h-1.2zM60.6 848h1.2v4h-1.2zM60.6 852.8h1.2v4h-1.2zM60.6 857.6h1.2v4h-1.2zM60.6 862.4h1.2v4h-1.2zM60.6 867.2h1.2v4h-1.2zM61.8 824h1.2v4h-1.2zM61.8 833.6h1.2v4h-1.2zM61.8 838.4h1.2v4h-1.2zM61.8 843.2h1.2v4h-1.2zM61.8 848h1.2v4h-1.2zM61.8 852.8h1.2v4h-1.2zM61.8 857.6h1.2v4h-1.2zM61.8 862.4h1.2v4h-1.2zM61.8 867.2h1.2v4h-1.2zM63 824h1.2v4h-1.2zM63 833.6h1.2v4h-1.2zM63 838.4h1.2v4h-1.2zM63 843.2h1.2v4h-1.2zM63 848h1.2v4h-1.2zM63 857.6h1.2v4h-1.2zM63 862.4h1.2v4h-1.2zM63 867.2h1.2v4h-1.2zM64.5 828.8h1.4v4h-1.4zM64.5 833.6h1.4v4h-1.4zM64.5 838.4h1.4v4h-1.4zM64.5 843.2h1.4v4h-1.4zM64.5 852.8h1.4v4h-1.4zM64.5 857.6h1.4v4h-1.4zM64.5 862.4h1.4v4h-1.4zM65.9 824h1.2v4h-1.2zM65.9 833.6h1.2v4h-1.2zM65.9 843.2h1.2v4h-1.2zM65.9 848h1.2v4h-1.2zM65.9 852.8h1.2v4h-1.2zM65.9 857.6h1.2v4h-1.2zM65.9 862.4h1.2v4h-1.2zM65.9 867.2h1.2v4h-1.2zM67.7 824h2v4h-2zM67.7 828.8h2v4h-2zM67.7 838.4h2v4h-2zM67.7 843.2h2v4h-2zM67.7 848h2v4h-2zM67.7 857.6h2v4h-2zM67.7 862.4h2v4h-2zM67.7 867.2h2v4h-2zM70.9 833.6h2v4h-2zM70.9 838.4h2v4h-2zM70.9 843.2h2v4h-2zM70.9 852.8h2v4h-2zM70.9 857.6h2v4h-2zM70.9 862.4h2v4h-2zM70.9 867.2h2v4h-2zM75.9 824h1v4h-1zM75.9 838.4h1v4h-1zM75.9 848h1v4h-1zM75.9 857.6h1v4h-1zM79.1 857.6h1.4v4h-1.4zM85 828.8h1.4v4h-1.4zM85 833.6h1.4v4h-1.4zM85 838.4h1.4v4h-1.4zM85 843.2h1.4v4h-1.4zM85 848h1.4v4h-1.4zM85 852.8h1.4v4h-1.4zM85 857.6h1.4v4h-1.4zM86.8 824h1.7v4h-1.7zM86.8 828.8h1.7v4h-1.7zM86.8 833.6h1.7v4h-1.7zM86.8 838.4h1.7v4h-1.7zM86.8 843.2h1.7v4h-1.7zM86.8 852.8h1.7v4h-1.7zM86.8 857.6h1.7v4h-1.7zM86.8 862.4h1.7v4h-1.7zM91.3 833.6h1v4h-1zM91.3 838.4h1v4h-1zM91.3 843.2h1v4h-1zM91.3 862.4h1v4h-1zM94.2 833.6h1.2v4h-1.2zM94.2 838.4h1.2v4h-1.2zM94.2 848h1.2v4h-1.2zM94.2 852.8h1.2v4h-1.2zM94.2 857.6h1.2v4h-1.2zM94.2 862.4h1.2v4h-1.2zM94.2 867.2h1.2v4h-1.2zM96.3 843.2h1.2v4h-1.2zM96.3 848h1.2v4h-1.2zM96.3 852.8h1.2v4h-1.2zM96.3 862.4h1.2v4h-1.2zM96.3 867.2h1.2v4h-1.2zM100.4 824h1.7v4h-1.7zM100.4 828.8h1.7v4h-1.7zM100.4 833.6h1.7v4h-1.7zM100.4 838.4h1.7v4h-1.7zM100.4 843.2h1.7v4h-1.7zM100.4 848h1.7v4h-1.7zM100.4 852.8h1.7v4h-1.7zM100.4 857.6h1.7v4h-1.7zM100.4 862.4h1.7v4h-1.7zM102.4 824h2v4h-2zM102.4 838.4h2v4h-2zM102.4 848h2v4h-2zM102.4 852.8h2v4h-2zM102.4 867.2h2v4h-2zM105.6 824h1.2v4h-1.2zM105.6 828.8h1.2v4h-1.2zM105.6 838.4h1.2v4h-1.2zM105.6 843.2h1.2v4h-1.2zM105.6 848h1.2v4h-1.2zM105.6 852.8h1.2v4h-1.2zM105.6 857.6h1.2v4h-1.2zM105.6 862.4h1.2v4h-1.2zM105.6 867.2h1.2v4h-1.2zM111.7 824h1v4h-1zM111.7 833.6h1v4h-1zM111.7 838.4h1v4h-1zM111.7 843.2h1v4h-1zM111.7 848h1v4h-1zM111.7 852.8h1v4h-1zM111.7 857.6h1v4h-1zM111.7 862.4h1v4h-1zM114.8 824h1.2v4h-1.2zM114.8 828.8h1.2v4h-1.2zM114.8 843.2h1.2v4h-1.2zM114.8 848h1.2v4h-1.2zM114.8 857.6h1.2v4h-1.2zM114.8 867.2h1.2v4h-1.2zM117.2 862.4h1v4h-1zM119.3 828.8h2v4h-2zM119.3 843.2h2v4h-2zM119.3 848h2v4h-2zM119.3 862.4h2v4h-2zM119.3 867.2h2v4h-2zM122.5 824h1.4v4h-1.4zM122.5 828.8h1.4v4h-1.4zM122.5 833.6h1.4v4h-1.4zM122.5 838.4h1.4v4h-1.4zM122.5 843.2h1.4v4h-1.4zM122.5 852.8h1.4v4h-1.4zM122.5 862.4h1.4v4h-1.4zM122.5 867.2h1.4v4h-1.4zM126.2 824h1.4v4h-1.4zM126.2 828.8h1.4v4h-1.4zM126.2 833.6h1.4v4h-1.4zM126.2 848h1.4v4h-1.4zM126.2 852.8h1.4v4h-1.4zM126.2 857.6h1.4v4h-1.4zM126.2 862.4h1.4v4h-1.4zM126.2 867.2h1.4v4h-1.4zM128 824h1.2v4h-1.2zM128 828.8h1.2v4h-1.2zM128 833.6h1.2v4h-1.2zM128 852.8h1.2v4h-1.2zM128 857.6h1.2v4h-1.2zM128 862.4h1.2v4h-1.2zM130.5 824h1v4h-1zM130.5 828.8h1v4h-1zM130.5 833.6h1v4h-1zM130.5 838.4h1v4h-1zM130.5 843.2h1v4h-1zM130.5 852.8h1v4h-1zM130.5 857.6h1v4h-1zM130.5 862.4h1v4h-1zM130.5 867.2h1v4h-1zM132.1 824h2v4h-2zM132.1 828.8h2v4h-2zM132.1 833.6h2v4h-2zM132.1 838.4h2v4h-2zM132.1 843.2h2v4h-2zM132.1 848h2v4h-2zM132.1 852.8h2v4h-2zM132.1 857.6h2v4h-2zM132.1 862.4h2v4h-2zM132.1 867.2h2v4h-2zM134.1 824h2v4h-2zM134.1 828.8h2v4h-2zM134.1 833.6h2v4h-2zM134.1 838.4h2v4h-2zM134.1 843.2h2v4h-2zM134.1 852.8h2v4h-2zM134.1 857.6h2v4h-2zM134.1 862.4h2v4h-2zM134.1 867.2h2v4h-2zM136.1 824h1v4h-1zM136.1 828.8h1v4h-1zM136.1 833.6h1v4h-1zM136.1 838.4h1v4h-1zM136.1 843.2h1v4h-1zM136.1 848h1v4h-1zM136.1 852.8h1v4h-1zM136.1 857.6h1v4h-1zM136.1 862.4h1v4h-1zM136.1 867.2h1v4h-1zM137.1 824h1.7v4h-1.7zM137.1 828.8h1.7v4h-1.7zM137.1 833.6h1.7v4h-1.7zM137.1 838.4h1.7v4h-1.7zM137.1 843.2h1.7v4h-1.7zM137.1 848h1.7v4h-1.7zM137.1 852.8h1.7v4h-1.7zM137.1 857.6h1.7v4h-1.7zM137.1 862.4h1.7v4h-1.7zM137.1 867.2h1.7v4h-1.7zM138.8 824h1.2v4h-1.2zM138.8 828.8h1.2v4h-1.2zM138.8 833.6h1.2v4h-1.2zM138.8 838.4h1.2v4h-1.2zM138.8 843.2h1.2v4h-1.2zM138.8 848h1.2v4h-1.2zM138.8 852.8h1.2v4h-1.2zM138.8 857.6h1.2v4h-1.2zM138.8 862.4h1.2v4h-1.2zM138.8 867.2h1.2v4h-1.2zM140.1 824h1.7v4h-1.7zM140.1 828.8h1.7v4h-1.7zM140.1 833.6h1.7v4h-1.7zM140.1 838.4h1.7v4h-1.7zM140.1 843.2h1.7v4h-1.7zM140.1 848h1.7v4h-1.7zM140.1 852.8h1.7v4h-1.7zM140.1 857.6h1.7v4h-1.7zM140.1 862.4h1.7v4h-1.7zM140.1 867.2h1.7v4h-1.7zM142 824h1.4v4h-1.4zM142 828.8h1.4v4h-1.4zM142 833.6h1.4v4h-1.4zM142 838.4h1.4v4h-1.4zM142 843.2h1.4v4h-1.4zM142 848h1.4v4h-1.4zM142 852.8h1.4v4h-1.4zM142 857.6h1.4v4h-1.4zM142 862.4h1.4v4h-1.4zM142 867.2h1.4v4h-1.4zM143.5 824h1.7v4h-1.7zM143.5 828.8h1.7v4h-1.7zM143.5 833.6h1.7v4h-1.7zM143.5 838.4h1.7v4h-1.7zM143.5 843.2h1.7v4h-1.7zM143.5 848h1.7v4h-1.7zM143.5 852.8h1.7v4h-1.7zM143.5 857.6h1.7v4h-1.7zM143.5 862.4h1.7v4h-1.7zM143.5 867.2h1.7v4h-1.7zM145.2 824h1v4h-1zM145.2 828.8h1v4h-1zM145.2 833.6h1v4h-1zM145.2 838.4h1v4h-1zM145.2 843.2h1v4h-1zM145.2 848h1v4h-1zM145.2 852.8h1v4h-1zM145.2 857.6h1v4h-1zM145.2 862.4h1v4h-1zM145.2 867.2h1v4h-1zM146.2 824h1.7v4h-1.7zM146.2 828.8h1.7v4h-1.7zM146.2 833.6h1.7v4h-1.7zM146.2 838.4h1.7v4h-1.7zM146.2 843.2h1.7v4h-1.7zM146.2 848h1.7v4h-1.7zM146.2 852.8h1.7v4h-1.7zM146.2 857.6h1.7v4h-1.7zM146.2 862.4h1.7v4h-1.7zM147.9 824h1v4h-1zM147.9 828.8h1v4h-1zM147.9 833.6h1v4h-1zM147.9 838.4h1v4h-1zM147.9 843.2h1v4h-1zM147.9 848h1v4h-1zM147.9 857.6h1v4h-1zM147.9 862.4h1v4h-1zM147.9 867.2h1v4h-1zM149 824h1.4v4h-1.4zM149 828.8h1.4v4h-1.4zM149 833.6h1.4v4h-1.4zM149 838.4h1.4v4h-1.4zM149 843.2h1.4v4h-1.4zM149 848h1.4v4h-1.4zM149 852.8h1.4v4h-1.4zM149 857.6h1.4v4h-1.4zM149 867.2h1.4v4h-1.4zM150.4 824h1.7v4h-1.7zM150.4 828.8h1.7v4h-1.7zM150.4 833.6h1.7v4h-1.7zM150.4 838.4h1.7v4h-1.7zM150.4 843.2h1.7v4h-1.7zM150.4 848h1.7v4h-1.7zM150.4 852.8h1.7v4h-1.7zM150.4 857.6h1.7v4h-1.7zM150.4 862.4h1.7v4h-1.7zM150.4 867.2h1.7v4h-1.7zM152.1 824h1.2v4h-1.2zM152.1 828.8h1.2v4h-1.2zM152.1 833.6h1.2v4h-1.2zM152.1 838.4h1.2v4h-1.2zM152.1 843.2h1.2v4h-1.2zM152.1 848h1.2v4h-1.2zM152.1 852.8h1.2v4h-1.2zM152.1 857.6h1.2v4h-1.2zM152.1 862.4h1.2v4h-1.2zM152.1 867.2h1.2v4h-1.2zM153.3 824h2v4h-2zM153.3 828.8h2v4h-2zM153.3 838.4h2v4h-2zM153.3 843.2h2v4h-2zM153.3 848h2v4h-2zM153.3 852.8h2v4h-2zM153.3 857.6h2v4h-2zM153.3 862.4h2v4h-2zM153.3 867.2h2v4h-2zM155.5 824h1.2v4h-1.2zM155.5 828.8h1.2v4h-1.2zM155.5 833.6h1.2v4h-1.2zM155.5 838.4h1.2v4h-1.2zM155.5 843.2h1.2v4h-1.2zM155.5 848h1.2v4h-1.2zM155.5 852.8h1.2v4h-1.2zM155.5 857.6h1.2v4h-1.2zM155.5 862.4h1.2v4h-1.2zM155.5 867.2h1.2v4h-1.2zM156.7 824h2v4h-2zM156.7 838.4h2v4h-2zM156.7 843.2h2v4h-2zM156.7 848h2v4h-2zM156.7 852.8h2v4h-2zM156.7 857.6h2v4h-2zM156.7 862.4h2v4h-2zM156.7 867.2h2v4h-2zM158.8 824h1.7v4h-1.7zM158.8 828.8h1.7v4h-1.7zM158.8 833.6h1.7v4h-1.7zM158.8 838.4h1.7v4h-1.7zM158.8 843.2h1.7v4h-1.7zM158.8 848h1.7v4h-1.7zM158.8 852.8h1.7v4h-1.7zM158.8 857.6h1.7v4h-1.7zM158.8 862.4h1.7v4h-1.7zM158.8 867.2h1.7v4h-1.7zM160.6 824h1v4h-1zM160.6 828.8h1v4h-1zM160.6 838.4h1v4h-1zM160.6 843.2h1v4h-1zM160.6 848h1v4h-1zM160.6 852.8h1v4h-1zM160.6 857.6h1v4h-1zM160.6 862.4h1v4h-1zM160.6 867.2h1v4h-1zM161.6 824h1.2v4h-1.2zM161.6 828.8h1.2v4h-1.2zM161.6 833.6h1.2v4h-1.2zM161.6 838.4h1.2v4h-1.2zM161.6 843.2h1.2v4h-1.2zM161.6 848h1.2v4h-1.2zM161.6 852.8h1.2v4h-1.2zM161.6 857.6h1.2v4h-1.2zM161.6 862.4h1.2v4h-1.2zM161.6 867.2h1.2v4h-1.2zM162.8 824h1.4v4h-1.4zM162.8 828.8h1.4v4h-1.4zM162.8 833.6h1.4v4h-1.4zM162.8 838.4h1.4v4h-1.4zM162.8 843.2h1.4v4h-1.4zM162.8 848h1.4v4h-1.4zM162.8 852.8h1.4v4h-1.4zM162.8 857.6h1.4v4h-1.4zM162.8 862.4h1.4v4h-1.4zM162.8 867.2h1.4v4h-1.4zM164.2 824h1.4v4h-1.4zM164.2 828.8h1.4v4h-1.4zM164.2 833.6h1.4v4h-1.4zM164.2 843.2h1.4v4h-1.4zM164.2 848h1.4v4h-1.4zM164.2 852.8h1.4v4h-1.4zM164.2 857.6h1.4v4h-1.4zM164.2 862.4h1.4v4h-1.4zM164.2 867.2h1.4v4h-1.4zM165.8 824h1.2v4h-1.2zM165.8 828.8h1.2v4h-1.2zM165.8 833.6h1.2v4h-1.2zM165.8 838.4h1.2v4h-1.2zM165.8 843.2h1.2v4h-1.2zM165.8 848h1.2v4h-1.2zM165.8 852.8h1.2v4h-1.2zM165.8 857.6h1.2v4h-1.2zM165.8 862.4h1.2v4h-1.2zM165.8 867.2h1.2v4h-1.2zM167 824h1.7v4h-1.7zM167 828.8h1.7v4h-1.7zM167 833.6h1.7v4h-1.7zM167 838.4h1.7v4h-1.7zM167 843.2h1.7v4h-1.7zM167 848h1.7v4h-1.7zM167 852.8h1.7v4h-1.7zM167 857.6h1.7v4h-1.7zM167 862.4h1.7v4h-1.7zM167 867.2h1.7v4h-1.7zM168.7 824h1v4h-1zM168.7 828.8h1v4h-1zM168.7 833.6h1v4h-1zM168.7 838.4h1v4h-1zM168.7 848h1v4h-1zM168.7 852.8h1v4h-1zM168.7 857.6h1v4h-1zM168.7 862.4h1v4h-1zM168.7 867.2h1v4h-1zM169.9 824h1.4v4h-1.4zM169.9 828.8h1.4v4h-1.4zM169.9 833.6h1.4v4h-1.4zM169.9 838.4h1.4v4h-1.4zM169.9 843.2h1.4v4h-1.4zM169.9 848h1.4v4h-1.4zM169.9 852.8h1.4v4h-1.4zM169.9 857.6h1.4v4h-1.4zM169.9 862.4h1.4v4h-1.4zM169.9 867.2h1.4v4h-1.4zM171.3 824h1.4v4h-1.4zM171.3 828.8h1.4v4h-1.4zM171.3 838.4h1.4v4h-1.4zM171.3 843.2h1.4v4h-1.4zM171.3 848h1.4v4h-1.4zM171.3 852.8h1.4v4h-1.4zM171.3 857.6h1.4v4h-1.4zM171.3 862.4h1.4v4h-1.4zM171.3 867.2h1.4v4h-1.4zM181.5 833.6h1v4h-1zM181.5 838.4h1v4h-1zM181.5 843.2h1v4h-1zM181.5 848h1v4h-1zM181.5 857.6h1v4h-1zM181.5 867.2h1v4h-1zM183 857.6h1v4h-1zM183 867.2h1v4h-1zM190.4 833.6h1.2v4h-1.2zM200.7 824h1.4v4h-1.4zM202.5 824h1.7v4h-1.7zM202.5 828.8h1.7v4h-1.7zM202.5 857.6h1.7v4h-1.7zM205.5 833.6h1.4v4h-1.4zM226.2 828.8h2v4h-2zM231.5 828.8h1v4h-1zM231.5 833.6h1v4h-1zM231.5 838.4h1v4h-1zM231.5 857.6h1v4h-1zM233.3 828.8h1.4v4h-1.4zM233.3 843.2h1.4v4h-1.4zM233.3 862.4h1.4v4h-1.4zM233.3 867.2h1.4v4h-1.4zM235.1 828.8h1.7v4h-1.7zM235.1 833.6h1.7v4h-1.7zM235.1 843.2h1.7v4h-1.7zM235.1 848h1.7v4h-1.7zM235.1 852.8h1.7v4h-1.7zM235.1 857.6h1.7v4h-1.7zM235.1 862.4h1.7v4h-1.7zM235.1 867.2h1.7v4h-1.7zM237.5 843.2h1.2v4h-1.2zM237.5 848h1.2v4h-1.2zM237.5 852.8h1.2v4h-1.2zM250.9 833.6h1.7v4h-1.7zM253.3 852.8h1.7v4h-1.7zM255.6 824h1v4h-1zM255.6 828.8h1v4h-1zM255.6 833.6h1v4h-1zM255.6 838.4h1v4h-1zM255.6 848h1v4h-1zM255.6 852.8h1v4h-1zM255.6 867.2h1v4h-1zM257 838.4h1.7v4h-1.7zM259.1 833.6h1.7v4h-1.7zM259.1 848h1.7v4h-1.7zM259.1 857.6h1.7v4h-1.7zM265.8 824h1.7v4h-1.7zM265.8 828.8h1.7v4h-1.7zM265.8 833.6h1.7v4h-1.7zM265.8 838.4h1.7v4h-1.7zM265.8 843.2h1.7v4h-1.7zM265.8 848h1.7v4h-1.7zM265.8 852.8h1.7v4h-1.7zM265.8 862.4h1.7v4h-1.7zM268.1 828.8h1v4h-1zM268.1 848h1v4h-1zM268.1 867.2h1v4h-1zM271.5 824h1v4h-1zM271.5 838.4h1v4h-1zM271.5 843.2h1v4h-1zM271.5 852.8h1v4h-1zM271.5 857.6h1v4h-1zM271.5 867.2h1v4h-1zM273.1 833.6h1v4h-1zM273.1 852.8h1v4h-1zM273.1 857.6h1v4h-1zM278 838.4h1.2v4h-1.2zM40.9 896.2h1.4v4h-1.4zM40.9 910.6h1.4v4h-1.4zM40.9 915.4h1.4v4h-1.4zM40.9 929.8h1.4v4h-1.4zM45.6 915.4h1.7v4h-1.7zM49.2 920.2h.8v4h-.8zM49.2 925h.8v4h-.8zM49.2 929.8h.8v4h-.8zM50.2 896.2h1v4h-1zM50.2 910.6h1v4h-1zM50.2 915.4h1v4h-1zM50.2 920.2h1v4h-1zM51.5 896.2h1v4h-1zM51.5 901h1v4h-1zM51.5 910.6h1v4h-1zM51.5 915.4h1v4h-1zM51.5 920.2h1v4h-1zM51.5 929.8h1v4h-1zM51.5 939.4h1v4h-1zM53.1 896.2h1.7v4h-1.7zM53.1 915.4h1.7v4h-1.7zM53.1 920.2h1.7v4h-1.7zM53.1 925h1.7v4h-1.7zM53.1 934.6h1.7v4h-1.7zM54.8 901h1.7v4h-1.7zM54.8 905.8h1.7v4h-1.7zM54.8 915.4h1.7v4h-1.7zM54.8 920.2h1.7v4h-1.7zM54.8 925h1.7v4h-1.7zM54.8 929.8h1.7v4h-1.7zM54.8 934.6h1.7v4h-1.7zM56.5 896.2h1v4h-1zM56.5 901h1v4h-1zM56.5 915.4h1v4h-1zM56.5 920.2h1v4h-1zM56.5 925h1v4h-1zM56.5 934.6h1v4h-1zM57.9 896.2h1.7v4h-1.7zM57.9 905.8h1.7v4h-1.7zM57.9 910.6h1.7v4h-1.7zM57.9 915.4h1.7v4h-1.7zM57.9 920.2h1.7v4h-1.7zM57.9 925h1.7v4h-1.7zM57.9 929.8h1.7v4h-1.7zM57.9 934.6h1.7v4h-1.7zM57.9 939.4h1.7v4h-1.7zM59.6 896.2h1v4h-1zM59.6 905.8h1v4h-1zM59.6 910.6h1v4h-1zM59.6 920.2h1v4h-1zM59.6 925h1v4h-1zM59.6 929.8h1v4h-1zM59.6 934.6h1v4h-1zM60.6 896.2h1.2v4h-1.2zM60.6 901h1.2v4h-1.2zM60.6 905.8h1.2v4h-1.2zM60.6 910.6h1.2v4h-1.2zM60.6 915.4h1.2v4h-1.2zM60.6 920.2h1.2v4h-1.2zM60.6 925h1.2v4h-1.2zM60.6 934.6h1.2v4h-1.2zM60.6 939.4h1.2v4h-1.2zM61.8 896.2h1.2v4h-1.2zM61.8 901h1.2v4h-1.2zM61.8 905.8h1.2v4h-1.2zM61.8 910.6h1.2v4h-1.2zM61.8 915.4h1.2v4h-1.2zM61.8 920.2h1.2v4h-1.2zM61.8 925h1.2v4h-1.2zM61.8 929.8h1.2v4h-1.2zM61.8 934.6h1.2v4h-1.2zM61.8 939.4h1.2v4h-1.2zM63 896.2h1.2v4h-1.2zM63 901h1.2v4h-1.2zM63 905.8h1.2v4h-1.2zM63 910.6h1.2v4h-1.2zM63 920.2h1.2v4h-1.2zM63 925h1.2v4h-1.2zM63 939.4h1.2v4h-1.2zM64.5 896.2h1.4v4h-1.4zM64.5 901h1.4v4h-1.4zM64.5 905.8h1.4v4h-1.4zM64.5 910.6h1.4v4h-1.4zM64.5 915.4h1.4v4h-1.4zM64.5 920.2h1.4v4h-1.4zM64.5 929.8h1.4v4h-1.4zM64.5 934.6h1.4v4h-1.4zM64.5 939.4h1.4v4h-1.4zM65.9 896.2h1.2v4h-1.2zM65.9 905.8h1.2v4h-1.2zM65.9 920.2h1.2v4h-1.2zM65.9 934.6h1.2v4h-1.2zM67.7 896.2h2v4h-2zM67.7 901h2v4h-2zM67.7 905.8h2v4h-2zM67.7 910.6h2v4h-2zM67.7 920.2h2v4h-2zM67.7 929.8h2v4h-2zM67.7 934.6h2v4h-2zM75.9 901h1v4h-1zM75.9 905.8h1v4h-1zM75.9 915.4h1v4h-1zM75.9 925h1v4h-1zM75.9 939.4h1v4h-1zM82.2 901h1.2v4h-1.2zM82.2 905.8h1.2v4h-1.2zM82.2 915.4h1.2v4h-1.2zM82.2 920.2h1.2v4h-1.2zM82.2 925h1.2v4h-1.2zM82.2 929.8h1.2v4h-1.2zM82.2 934.6h1.2v4h-1.2zM82.2 939.4h1.2v4h-1.2zM85 896.2h1.4v4h-1.4zM85 901h1.4v4h-1.4zM85 910.6h1.4v4h-1.4zM85 915.4h1.4v4h-1.4zM85 925h1.4v4h-1.4zM94.2 910.6h1.2v4h-1.2zM96.3 896.2h1.2v4h-1.2zM96.3 901h1.2v4h-1.2zM96.3 920.2h1.2v4h-1.2zM96.3 929.8h1.2v4h-1.2zM96.3 934.6h1.2v4h-1.2zM96.3 939.4h1.2v4h-1.2zM100.4 896.2h1.7v4h-1.7zM100.4 901h1.7v4h-1.7zM100.4 905.8h1.7v4h-1.7zM100.4 910.6h1.7v4h-1.7zM100.4 929.8h1.7v4h-1.7zM111.7 905.8h1v4h-1zM111.7 910.6h1v4h-1zM111.7 915.4h1v4h-1zM111.7 920.2h1v4h-1zM111.7 925h1v4h-1zM113.1 896.2h1.2v4h-1.2zM113.1 910.6h1.2v4h-1.2zM113.1 939.4h1.2v4h-1.2zM117.2 905.8h1v4h-1zM117.2 910.6h1v4h-1zM117.2 925h1v4h-1zM117.2 929.8h1v4h-1zM117.2 934.6h1v4h-1zM119.3 896.2h2v4h-2zM119.3 901h2v4h-2zM119.3 910.6h2v4h-2zM119.3 915.4h2v4h-2zM119.3 925h2v4h-2zM119.3 934.6h2v4h-2zM126.2 896.2h1.4v4h-1.4zM126.2 901h1.4v4h-1.4zM126.2 905.8h1.4v4h-1.4zM126.2 910.6h1.4v4h-1.4zM126.2 915.4h1.4v4h-1.4zM126.2 920.2h1.4v4h-1.4zM126.2 929.8h1.4v4h-1.4zM126.2 934.6h1.4v4h-1.4zM126.2 939.4h1.4v4h-1.4zM128 905.8h1.2v4h-1.2zM128 920.2h1.2v4h-1.2zM128 925h1.2v4h-1.2zM128 929.8h1.2v4h-1.2zM128 939.4h1.2v4h-1.2zM155.5 915.4h1.2v4h-1.2zM155.5 939.4h1.2v4h-1.2zM165.8 901h1.2v4h-1.2zM167 925h1.7v4h-1.7zM173.3 896.2h1.2v4h-1.2zM173.3 901h1.2v4h-1.2zM173.3 905.8h1.2v4h-1.2zM173.3 910.6h1.2v4h-1.2zM173.3 915.4h1.2v4h-1.2zM173.3 920.2h1.2v4h-1.2zM173.3 925h1.2v4h-1.2zM173.3 934.6h1.2v4h-1.2zM173.3 939.4h1.2v4h-1.2zM175.4 939.4h1.4v4h-1.4zM183 905.8h1v4h-1zM185.6 915.4h1.4v4h-1.4zM185.6 934.6h1.4v4h-1.4zM190.4 910.6h1.2v4h-1.2zM193.4 905.8h1v4h-1zM193.4 910.6h1v4h-1zM193.4 934.6h1v4h-1zM193.4 939.4h1v4h-1zM195 910.6h1.2v4h-1.2zM198.2 910.6h2v4h-2zM198.2 925h2v4h-2zM198.2 934.6h2v4h-2zM198.2 939.4h2v4h-2zM200.7 910.6h1.4v4h-1.4zM202.5 896.2h1.7v4h-1.7zM202.5 910.6h1.7v4h-1.7zM202.5 915.4h1.7v4h-1.7zM202.5 939.4h1.7v4h-1.7zM205.5 905.8h1.4v4h-1.4zM205.5 929.8h1.4v4h-1.4zM205.5 934.6h1.4v4h-1.4zM205.5 939.4h1.4v4h-1.4zM207.7 896.2h1.4v4h-1.4zM207.7 901h1.4v4h-1.4zM207.7 905.8h1.4v4h-1.4zM207.7 915.4h1.4v4h-1.4zM207.7 929.8h1.4v4h-1.4zM207.7 934.6h1.4v4h-1.4zM207.7 939.4h1.4v4h-1.4zM210.4 896.2h1.7v4h-1.7zM210.4 901h1.7v4h-1.7zM210.4 910.6h1.7v4h-1.7zM210.4 920.2h1.7v4h-1.7zM210.4 925h1.7v4h-1.7zM210.4 929.8h1.7v4h-1.7zM210.4 934.6h1.7v4h-1.7zM216.1 915.4h2v4h-2zM216.1 920.2h2v4h-2zM216.1 925h2v4h-2zM216.1 934.6h2v4h-2zM226.2 920.2h2v4h-2zM229.5 896.2h1.2v4h-1.2zM229.5 901h1.2v4h-1.2zM229.5 915.4h1.2v4h-1.2zM229.5 929.8h1.2v4h-1.2zM231.5 896.2h1v4h-1zM231.5 901h1v4h-1zM231.5 910.6h1v4h-1zM231.5 920.2h1v4h-1zM231.5 925h1v4h-1zM231.5 929.8h1v4h-1zM231.5 934.6h1v4h-1zM233.3 896.2h1.4v4h-1.4zM235.1 905.8h1.7v4h-1.7zM235.1 910.6h1.7v4h-1.7zM235.1 929.8h1.7v4h-1.7zM235.1 934.6h1.7v4h-1.7zM235.1 939.4h1.7v4h-1.7zM240.8 901h1.2v4h-1.2zM240.8 925h1.2v4h-1.2zM240.8 929.8h1.2v4h-1.2zM253.3 901h1.7v4h-1.7zM253.3 905.8h1.7v4h-1.7zM253.3 910.6h1.7v4h-1.7zM253.3 925h1.7v4h-1.7zM253.3 934.6h1.7v4h-1.7zM255.6 896.2h1v4h-1zM255.6 905.8h1v4h-1zM255.6 915.4h1v4h-1zM257 920.2h1.7v4h-1.7zM257 929.8h1.7v4h-1.7zM257 934.6h1.7v4h-1.7zM262.2 920.2h1.4v4h-1.4zM263.9 896.2h1.4v4h-1.4zM263.9 925h1.4v4h-1.4zM263.9 929.8h1.4v4h-1.4zM271.5 896.2h1v4h-1zM271.5 905.8h1v4h-1zM271.5 910.6h1v4h-1zM271.5 915.4h1v4h-1zM271.5 920.2h1v4h-1zM271.5 925h1v4h-1zM271.5 929.8h1v4h-1zM271.5 934.6h1v4h-1zM271.5 939.4h1v4h-1zM273.1 896.2h1v4h-1zM273.1 901h1v4h-1zM273.1 925h1v4h-1zM273.1 929.8h1v4h-1zM273.1 939.4h1v4h-1zM275.7 934.6h1.2v4h-1.2zM279.7 896.2h1v4h-1zM279.7 905.8h1v4h-1zM279.7 925h1v4h-1zM279.7 929.8h1v4h-1zM279.7 939.4h1v4h-1z"/><path fill="#f07070" d="M43.5 833.6h1.7v4h-1.7zM43.5 862.4h1.7v4h-1.7zM79.1 862.4h1.4v4h-1.4zM79.1 867.2h1.4v4h-1.4zM82.2 862.4h1.2v4h-1.2zM88.9 838.4h2v4h-2zM96.3 833.6h1.2v4h-1.2zM96.3 838.4h1.2v4h-1.2zM102.4 828.8h2v4h-2zM109.4 833.6h1v4h-1zM113.1 824h1.2v4h-1.2zM113.1 833.6h1.2v4h-1.2zM113.1 848h1.2v4h-1.2zM117.2 838.4h1v4h-1zM117.2 843.2h1v4h-1zM117.2 848h1v4h-1zM173.3 843.2h1.2v4h-1.2zM183 833.6h1v4h-1zM185.6 848h1.4v4h-1.4zM198.2 852.8h2v4h-2zM202.5 867.2h1.7v4h-1.7zM210.4 828.8h1.7v4h-1.7zM213.8 828.8h1.4v4h-1.4zM223.6 824h1.4v4h-1.4zM223.6 852.8h1.4v4h-1.4zM229.5 828.8h1.2v4h-1.2zM231.5 852.8h1v4h-1zM233.3 838.4h1.4v4h-1.4zM233.3 857.6h1.4v4h-1.4zM237.5 838.4h1.2v4h-1.2zM240.8 843.2h1.2v4h-1.2zM240.8 848h1.2v4h-1.2zM240.8 852.8h1.2v4h-1.2zM243.2 843.2h2v4h-2zM245.7 852.8h1v4h-1zM247.5 833.6h1v4h-1zM253.3 838.4h1.7v4h-1.7zM278 828.8h1.2v4h-1.2zM279.7 833.6h1v4h-1zM35.6 915.4h2v4h-2zM70.9 925h2v4h-2zM79.1 925h1.4v4h-1.4zM85 939.4h1.4v4h-1.4zM86.8 910.6h1.7v4h-1.7zM100.4 939.4h1.7v4h-1.7zM109.4 934.6h1v4h-1zM113.1 925h1.2v4h-1.2zM117.2 896.2h1v4h-1zM124.8 896.2h1v4h-1zM124.8 905.8h1v4h-1zM136.1 939.4h1v4h-1zM146.2 896.2h1.7v4h-1.7zM156.7 896.2h2v4h-2zM164.2 925h1.4v4h-1.4zM175.4 896.2h1.4v4h-1.4zM175.4 920.2h1.4v4h-1.4zM185.6 905.8h1.4v4h-1.4zM185.6 929.8h1.4v4h-1.4zM193.4 925h1v4h-1zM205.5 910.6h1.4v4h-1.4zM213.8 934.6h1.4v4h-1.4zM220.3 901h1v4h-1zM221.6 910.6h1.2v4h-1.2zM221.6 939.4h1.2v4h-1.2zM233.3 934.6h1.4v4h-1.4zM240.8 896.2h1.2v4h-1.2zM245.7 939.4h1v4h-1zM250.9 929.8h1.7v4h-1.7zM265.8 920.2h1.7v4h-1.7zM268.1 929.8h1v4h-1zM273.1 905.8h1v4h-1zM273.1 920.2h1v4h-1zM275.7 905.8h1.2v4h-1.2zM278 896.2h1.2v4h-1.2zM278 910.6h1.2v4h-1.2zM278 934.6h1.2v4h-1.2z"/><path fill="#7a7af2" d="M49.2 843.2h.8v4h-.8zM56.5 857.6h1v4h-1zM63 828.8h1.2v4h-1.2zM63 852.8h1.2v4h-1.2zM64.5 824h1.4v4h-1.4zM91.3 852.8h1v4h-1zM91.3 867.2h1v4h-1zM94.2 843.2h1.2v4h-1.2zM100.4 867.2h1.7v4h-1.7zM105.6 833.6h1.2v4h-1.2zM111.7 867.2h1v4h-1zM117.2 857.6h1v4h-1zM119.3 833.6h2v4h-2zM128 867.2h1.2v4h-1.2zM134.1 848h2v4h-2zM149 862.4h1.4v4h-1.4zM156.7 828.8h2v4h-2zM156.7 833.6h2v4h-2zM168.7 843.2h1v4h-1zM237.5 857.6h1.2v4h-1.2zM250.9 824h1.7v4h-1.7zM250.9 828.8h1.7v4h-1.7zM250.9 857.6h1.7v4h-1.7zM255.6 843.2h1v4h-1zM271.5 848h1v4h-1zM53.1 905.8h1.7v4h-1.7zM53.1 939.4h1.7v4h-1.7zM59.6 901h1v4h-1zM59.6 939.4h1v4h-1zM60.6 929.8h1.2v4h-1.2zM63 929.8h1.2v4h-1.2zM63 934.6h1.2v4h-1.2zM65.9 910.6h1.2v4h-1.2zM67.7 915.4h2v4h-2zM67.7 925h2v4h-2zM75.9 896.2h1v4h-1zM75.9 929.8h1v4h-1zM85 929.8h1.4v4h-1.4zM111.7 896.2h1v4h-1zM111.7 934.6h1v4h-1zM119.3 929.8h2v4h-2zM155.5 925h1.2v4h-1.2zM165.8 915.4h1.2v4h-1.2zM171.3 915.4h1.4v4h-1.4zM175.4 925h1.4v4h-1.4zM202.5 901h1.7v4h-1.7zM202.5 934.6h1.7v4h-1.7zM205.5 925h1.4v4h-1.4zM210.4 915.4h1.7v4h-1.7zM216.1 929.8h2v4h-2zM231.5 915.4h1v4h-1zM235.1 896.2h1.7v4h-1.7zM240.8 905.8h1.2v4h-1.2zM240.8 910.6h1.2v4h-1.2zM253.3 929.8h1.7v4h-1.7zM255.6 910.6h1v4h-1zM255.6 920.2h1v4h-1zM255.6 934.6h1v4h-1zM262.2 915.4h1.4v4h-1.4zM263.9 901h1.4v4h-1.4zM271.5 901h1v4h-1zM279.7 915.4h1v4h-1z"/><path fill="#3a3ae0" d="M51.5 812.7h1v5.3h-1zM53 811.4h.8v6.6h-.8zM56.2 815.8h.8v2.2h-.8zM57.4 811.6h.8v6.4h-.8zM59 809h1.3v9h-1.3zM60.6 811.7h1.3v6.3h-1.3zM62.2 813.8h1.3v4.2h-1.3zM64.1 811.9h1.3v6.1h-1.3zM65.9 811h1.3v7h-1.3zM68.2 815.4h1.3v2.6h-1.3zM70.6 811.8h1v6.2h-1zM71.9 816h1v2h-1zM73.3 813.8h.8v4.2h-.8zM74.5 813.8h1v4.2h-1zM76 811.1h1v6.9h-1zM77.4 812.5h.8v5.5h-.8zM78.4 814.3h1.3v3.7h-1.3zM80.3 813.8h1v4.2h-1zM81.7 811.4h.8v6.6h-.8zM83.5 813.3h1.3v4.7h-1.3zM85.3 811.5h.8v6.5h-.8zM88.2 816.3h1v1.7h-1zM90.2 811.2h1v6.8h-1zM92 809.7h1v8.3h-1zM94 813.7h1v4.3h-1zM95.3 814.6h1v3.4h-1zM97.2 811.4h1v6.6h-1zM98.6 815.1h1.3v2.9h-1.3zM102.4 815.5h1v2.5h-1zM104.3 815.5h.8v2.5h-.8zM106 813.9h.8v4.1h-.8zM107.2 810h1v8h-1zM108.6 813.4h1.3v4.6h-1.3zM110.4 814.2h.8v3.8h-.8zM111.5 812.7h.8v5.3h-.8zM112.5 816.7h.8v1.3h-.8zM113.8 812.6h.8v5.4h-.8zM114.9 815.4h1v2.6h-1zM118.4 812h1.3v6h-1.3zM120.7 816.2h1v1.8h-1zM122.7 814.4h1v3.6h-1zM124.4 810.1h1v7.9h-1zM126.3 810.5h.8v7.5h-.8zM128.2 812.6h1.3v5.4h-1.3zM132 805.3h.8v12.7h-.8zM132.8 805.9h1v12.1h-1zM133.8 806.9h.8v11.1h-.8zM134.6 805.8h.8v12.2h-.8zM135.4 805.6h1v12.4h-1zM136.4 805.4h.8v12.6h-.8zM137.2 805.4h.8v12.6h-.8zM138 805.8h1.3v12.2h-1.3zM139.3 805.3h1.3v12.7h-1.3zM140.6 805.8h1.3v12.2h-1.3zM141.9 806.9h1.3v11.1h-1.3zM143.2 805.6h.8v12.4h-.8zM144 805h.8v13h-.8zM144.8 806.2h1v11.8h-1zM145.8 806.3h1v11.7h-1zM146.8 806.4h.8v11.6h-.8zM147.6 805.5h.8v12.5h-.8zM148.4 804.5h1v13.5h-1zM149.4 804.5h1.3v13.5h-1.3zM150.7 805.4h1.3v12.6h-1.3zM152 806.5h1.3v11.5h-1.3zM153.3 806.1h1.3v11.9h-1.3zM154.6 805.9h1v12.1h-1zM155.6 804.5h.8v13.5h-.8zM156.4 805.4h1v12.6h-1zM157.4 805.2h.8v12.8h-.8zM158.2 806.2h.8v11.8h-.8zM159 806.5h1.3v11.5h-1.3zM160.3 807.2h1.3v10.8h-1.3zM161.6 806.3h.8v11.7h-.8zM162.4 805.4h1.3v12.6h-1.3zM163.7 806.1h1v11.9h-1zM164.7 804.5h1.3v13.5h-1.3zM166 805.8h.8v12.2h-.8zM166.8 805.5h1.3v12.5h-1.3zM168.1 806.8h1v11.2h-1zM169.1 806.1h1v11.9h-1zM170.1 804.7h1.3v13.3h-1.3zM171.4 805.7h1v12.3h-1zM172.4 805.5h1v12.5h-1zM177 815.4h.8v2.6h-.8zM179.7 817.4h1.3v.6h-1.3zM181.6 816h1.3v2h-1.3zM185.8 815h.8v3h-.8zM187.8 816.1h1v1.9h-1zM189 815.4h.8v2.6h-.8zM190.5 815h1.3v3h-1.3zM192.8 814.6h1v3.4h-1zM194.6 815.9h.8v2.1h-.8zM196.4 813.4h1v4.6h-1zM197.8 817.6h.8v.4h-.8zM52.6 886.1h.8v4.3h-.8zM53.8 883h1v7.4h-1zM55.9 882.2h1v8.2h-1zM57.6 884.8h1v5.6h-1zM59.2 886.9h1.3v3.5h-1.3zM61.1 885.8h1.3v4.6h-1.3zM63 884.9h.8v5.5h-.8zM64.3 883.9h1.3v6.5h-1.3zM68.8 885.2h.8v5.2h-.8zM69.8 883.2h1.3v7.2h-1.3zM72 884.6h1v5.8h-1zM73.6 882.8h.8v7.6h-.8zM75.6 886.9h.8v3.5h-.8zM77.4 882.6h1.3v7.8h-1.3zM79.1 887.4h1.3v3h-1.3zM83.5 887.9h1v2.5h-1zM84.9 885.9h1v4.5h-1zM86.7 885.3h1v5.1h-1zM89.4 883.3h1.3v7.1h-1.3zM93.6 888h1v2.4h-1zM95.5 880.7h1v9.7h-1zM97.4 885.4h1.3v5h-1.3zM99.7 886.5h.8v3.9h-.8zM101 885.2h1.3v5.2h-1.3zM104.1 884h1.3v6.4h-1.3zM105.9 884.9h1v5.5h-1zM108 882.9h1.3v7.5h-1.3zM109.9 885.7h.8v4.7h-.8zM111.4 884.9h1.3v5.5h-1.3zM113.2 882.3h1v8.1h-1zM114.7 884.9h1.3v5.5h-1.3zM117.2 888.6h1v1.8h-1zM119.3 882h1v8.4h-1zM124.3 884.4h.8v6h-.8zM130 883.7h1.3v6.7h-1.3zM132 889h1.3v1.4h-1.3zM133.3 889.5h1v.9h-1zM134.3 889.1h1.3v1.3h-1.3zM135.6 889.3h.8v1.1h-.8zM136.4 890.1h1v.3h-1zM137.4 890.1h1.3v.3h-1.3zM138.7 888.2h1v2.2h-1zM139.7 889.4h1v1h-1zM140.7 890.2h.8v.2h-.8zM141.5 890.1h.8v.3h-.8zM142.3 887.6h1.3v2.8h-1.3zM143.6 888.6h.8v1.8h-.8zM144.4 889.9h1v.5h-1zM145.4 888.2h.8v2.2h-.8zM146.2 889.2h.8v1.2h-.8zM147 888.8h1.3v1.6h-1.3zM148.3 888.9h1.3v1.5h-1.3zM149.6 888.2h.8v2.2h-.8zM151.7 889.2h1.3v1.2h-1.3zM153 888.5h1.3v1.9h-1.3zM154.3 888.7h.8v1.7h-.8zM155.1 887.1h.8v3.3h-.8zM155.9 888.1h1v2.3h-1zM156.9 888.9h.8v1.5h-.8zM157.7 888.3h.8v2.1h-.8zM158.5 887.4h1v3h-1zM159.5 888.1h1v2.3h-1zM160.5 889h.8v1.4h-.8zM161.3 888.3h1v2.1h-1zM162.3 888.8h1.3v1.6h-1.3zM163.6 889h.8v1.4h-.8zM164.4 889.4h.8v1h-.8zM165.2 889.3h1v1.1h-1zM166.2 888.6h1.3v1.8h-1.3zM167.5 888.4h1.3v2h-1.3zM168.8 889.4h1v1h-1zM169.8 888.8h.8v1.6h-.8zM170.6 889.1h.8v1.3h-.8zM171.4 887.9h1v2.5h-1zM172.4 889.4h1.3v1h-1.3zM173 888.6h1.3v1.8h-1.3zM177.1 889.7h1v.7h-1zM178.6 889.8h1.3v.6h-1.3zM180.4 888.2h.8v2.2h-.8zM181.8 884.4h.8v6h-.8zM182.9 886.3h.8v4.1h-.8zM184.6 886.7h.8v3.7h-.8zM186.5 884.5h1v5.9h-1zM189.5 886h1.3v4.4h-1.3zM191.5 887.3h1.3v3.1h-1.3zM193.6 886h1v4.4h-1zM195.3 889.8h1v.6h-1zM197.2 889.5h.8v.9h-.8zM198.5 887.2h.8v3.2h-.8zM200.2 888.6h1.3v1.8h-1.3z"/><path fill="#ee3030" d="M51.5 809.2h1v3.4h-1zM53 809.8h.8v1.6h-.8zM56.2 811.2h.8v4.7h-.8zM57.4 804.5h.8v7.1h-.8zM59 807h1.3v2h-1.3zM60.6 807.5h1.3v4.2h-1.3zM62.2 807.6h1.3v6.2h-1.3zM64.1 810.5h1.3v1.4h-1.3zM65.9 805.9h1.3v5.1h-1.3zM68.2 806.5h1.3v8.8h-1.3zM70.6 804.5h1v7.3h-1zM71.9 813.9h1v2.1h-1zM73.3 807.2h.8v6.7h-.8zM74.5 809.3h1v4.5h-1zM76 807.4h1v3.7h-1zM77.4 809.4h.8v3.1h-.8zM78.4 810.3h1.3v4.1h-1.3zM80.3 807.8h1v6h-1zM81.7 804.5h.8v6.9h-.8zM83.5 805.9h1.3v7.4h-1.3zM85.3 807.4h.8v4.2h-.8zM88.2 812h1v4.3h-1zM90.2 804.5h1v6.7h-1zM92 806.4h1v3.3h-1zM94 805.4h1v8.2h-1zM95.3 811.9h1v2.7h-1zM97.2 805.3h1v6.1h-1zM98.6 812.2h1.3v2.9h-1.3zM102.4 812.1h1v3.4h-1zM104.3 812.5h.8v3.1h-.8zM106 812h.8v1.9h-.8zM107.2 804.7h1v5.2h-1zM108.6 806.8h1.3v6.6h-1.3zM110.4 808.6h.8v5.5h-.8zM111.5 807.3h.8v5.4h-.8zM112.5 813.4h.8v3.3h-.8zM113.8 805.5h.8v7.1h-.8zM114.9 811h1v4.4h-1zM118.4 808.4h1.3v3.6h-1.3zM120.7 804.6h1v11.6h-1zM122.7 811.2h1v3.3h-1zM124.4 804.6h1v5.6h-1zM126.3 806.1h.8v4.3h-.8zM128.2 808.5h1.3v4.1h-1.3zM132.8 804.9h1v1h-1zM133.8 806.9h.8v0h-.8zM135.4 805.4h1v.2h-1zM136.4 805h.8v.4h-.8zM137.2 804.5h.8v.9h-.8zM138 805.7h1.3v.1h-1.3zM140.6 804.9h1.3v.9h-1.3zM141.9 805.9h1.3v.9h-1.3zM143.2 804.5h.8v1.1h-.8zM144.8 805.1h1v1h-1zM145.8 805.6h1v.7h-1zM146.8 805.8h.8v.6h-.8zM149.4 804.5h1.3v0h-1.3zM150.7 804.7h1.3v.6h-1.3zM152 805.3h1.3v1.2h-1.3zM154.6 805h1v1h-1zM155.6 804.5h.8v0h-.8zM156.4 804.5h1v.9h-1zM157.4 804.5h.8v.7h-.8zM159 806h1.3v.5h-1.3zM160.3 805.8h1.3v1.4h-1.3zM162.4 805.3h1.3v.1h-1.3zM163.7 804.8h1v1.4h-1zM166 805.1h.8v.6h-.8zM166.8 804.5h1.3v1h-1.3zM168.1 805.8h1v1h-1zM169.1 804.5h1v1.6h-1zM170.1 804.5h1.3v.2h-1.3zM172.4 805.3h1v.2h-1zM175.1 808.5h.8v9.5h-.8zM177 805.8h.8v9.7h-.8zM179.7 812.3h1.3v5.1h-1.3zM181.6 809.1h1.3v6.9h-1.3zM185.8 807.9h.8v7h-.8zM187.8 806.3h1v9.8h-1zM189 807.7h.8v7.7h-.8zM190.5 807.8h1.3v7.1h-1.3zM192.8 806.5h1v8.1h-1zM194.6 809.6h.8v6.4h-.8zM196.4 807h1v6.4h-1zM197.8 809.1h.8v8.6h-.8zM52.6 883.7h.8v2.4h-.8zM53.8 878.2h1v4.7h-1zM55.9 877.3h1v4.9h-1zM57.6 878.2h1v6.6h-1zM59.2 882.8h1.3v4.2h-1.3zM61.1 881.6h1.3v4.3h-1.3zM63 884.4h.8v.5h-.8zM64.3 880.1h1.3v3.8h-1.3zM68.8 882.6h.8v2.6h-.8zM69.8 878h1.3v5.2h-1.3zM72 879.1h1v5.5h-1zM73.6 876.4h.8v6.4h-.8zM75.6 881.6h.8v5.3h-.8zM77.4 876.4h1.3v6.2h-1.3zM79.1 882.3h1.3v5.1h-1.3zM83.5 880.6h1v7.3h-1zM84.9 881.3h1v4.6h-1zM86.7 880h1v5.3h-1zM89.4 877.5h1.3v5.8h-1.3zM93.6 880.9h1v7h-1zM95.5 877.4h1v3.3h-1zM97.4 878.3h1.3v7.1h-1.3zM99.7 881.2h.8v5.3h-.8zM101 881.8h1.3v3.4h-1.3zM104.1 881.3h1.3v2.7h-1.3zM105.9 879.1h1v5.8h-1zM108 880.6h1.3v2.4h-1.3zM109.9 879.7h.8v6h-.8zM111.4 879.5h1.3v5.4h-1.3zM113.2 879.3h1v2.9h-1zM114.7 884.1h1.3v.8h-1.3zM117.2 887.1h1v1.5h-1zM119.3 878.5h1v3.5h-1zM124.3 879.2h.8v5.2h-.8zM130 878.6h1.3v5.2h-1.3zM132 876.4h1.3v12.6h-1.3zM133.3 878.6h1v10.9h-1zM134.3 877.2h1.3v11.9h-1.3zM135.6 878.7h.8v10.7h-.8zM136.4 877.2h1v12.9h-1zM137.4 877.3h1.3v12.8h-1.3zM138.7 876.4h1v11.8h-1zM139.7 878h1v11.3h-1zM140.7 879.1h.8v11.1h-.8zM141.5 878h.8v12.1h-.8zM142.3 876.4h1.3v11.2h-1.3zM143.6 877.2h.8v11.3h-.8zM144.4 878.3h1v11.6h-1zM145.4 876.4h.8v11.8h-.8zM146.2 876.4h.8v12.8h-.8zM147 876.4h1.3v12.4h-1.3zM148.3 877.5h1.3v11.4h-1.3zM149.6 877.7h.8v10.5h-.8zM150.4 879.2h1.3v11.2h-1.3zM151.7 877.2h1.3v12h-1.3zM153 876.4h1.3v12.1h-1.3zM154.3 876.4h.8v12.3h-.8zM155.1 876.4h.8v10.7h-.8zM155.9 876.4h1v11.7h-1zM156.9 877.5h.8v11.4h-.8zM157.7 876.4h.8v11.9h-.8zM158.5 876.4h1v11h-1zM159.5 876.5h1v11.6h-1zM160.5 876.7h.8v12.4h-.8zM161.3 877.1h1v11.2h-1zM162.3 876.6h1.3v12.2h-1.3zM163.6 877.5h.8v11.4h-.8zM164.4 878h.8v11.4h-.8zM165.2 878.5h1v10.8h-1zM166.2 877.9h1.3v10.7h-1.3zM167.5 876.4h1.3v12h-1.3zM168.8 878.6h1v10.8h-1zM169.8 876.4h.8v12.4h-.8zM170.6 877.1h.8v12h-.8zM171.4 876.4h1v11.5h-1zM172.4 877.4h1.3v12h-1.3zM173 882.3h1.3v6.3h-1.3zM175 877.2h1v13.2h-1zM177.1 882.4h1v7.3h-1zM178.6 884.7h1.3v5.1h-1.3zM180.4 882h.8v6.2h-.8zM181.8 877.3h.8v7.1h-.8zM182.9 882.9h.8v3.3h-.8zM184.6 879.1h.8v7.6h-.8zM186.5 877.4h1v7.1h-1zM187.8 884.4h1.3v6h-1.3zM189.5 877.9h1.3v8h-1.3zM191.5 879h1.3v8.3h-1.3zM193.6 876.4h1v9.6h-1zM195.3 888.3h1v1.5h-1zM197.2 878.9h.8v10.6h-.8zM198.5 880.1h.8v7.1h-.8zM200.2 880.7h1.3v7.9h-1.3z"/><path fill="#6a10b8" d="M137.1 896.2h1.7v4h-1.7zM137.1 939.4h1.7v4h-1.7zM142 915.4h1.4v4h-1.4zM145.2 920.2h1v4h-1zM149 915.4h1.4v4h-1.4zM155.5 910.6h1.2v4h-1.2zM155.5 920.2h1.2v4h-1.2zM158.8 915.4h1.7v4h-1.7zM158.8 925h1.7v4h-1.7zM165.8 905.8h1.2v4h-1.2zM169.9 901h1.4v4h-1.4z"/><rect x="132.7" y="804.4" width="39.3" height="140.3" fill="none" stroke="#2fdc2f" stroke-width="2"/><rect x="32.7" y="955.6" width="14.8" height="7.8" fill="none" stroke="#2fdc2f" stroke-width="2"/><g class="tA"><text x="54.3" y="962.2" font-size="8.6" fill="#111" textLength="16.7" lengthAdjust="spacingAndGlyphs">DMR</text><text x="215.7" y="959.5" font-size="8.6" fill="#111" textLength="80.5" lengthAdjust="spacingAndGlyphs">methylation probability</text><defs><linearGradient id="mp" x1="0" y1="0" x2="0" y2="1"><stop offset="0" stop-color="#f03a2a"/><stop offset="0.5" stop-color="#ffffff"/><stop offset="1" stop-color="#2a2af0"/></linearGradient></defs><rect x="215.7" y="964" width="5.9" height="26.4" fill="url(#mp)"/><text x="224.3" y="969.8" font-size="8.6" fill="#111" textLength="67.2" lengthAdjust="spacingAndGlyphs">1 (fully methylated)</text><text x="224.5" y="981.7" font-size="8.6" fill="#111">0</text><text x="223.5" y="992.3" font-size="8.6" fill="#111" textLength="79.1" lengthAdjust="spacingAndGlyphs">-1 (fully unmethylated)</text></g><text x="342.6" y="360.9" font-size="16.2" fill="#000" font-weight="bold" textLength="8.9" lengthAdjust="spacingAndGlyphs" stroke="#000" stroke-width="0.55">C</text><text x="493" y="365.9" font-size="10.1" fill="#000" font-weight="bold" font-style="italic" textLength="31.9" lengthAdjust="spacingAndGlyphs" stroke="#000" stroke-width="0.3">SNRPN</text><text x="527.4" y="365.9" font-size="10.1" fill="#000" font-weight="bold" textLength="23.5" lengthAdjust="spacingAndGlyphs" stroke="#000" stroke-width="0.3">locus</text><text x="493.8" y="566.8" font-size="9.8" fill="#000" font-weight="bold" font-style="italic" textLength="26.1" lengthAdjust="spacingAndGlyphs" stroke="#000" stroke-width="0.3">PEG10</text><text x="521.9" y="566.8" font-size="9.8" fill="#000" font-weight="bold" textLength="20.4" lengthAdjust="spacingAndGlyphs" stroke="#000" stroke-width="0.3">locus</text><text x="491.6" y="768.3" font-size="9.8" fill="#000" font-weight="bold" font-style="italic" textLength="44" lengthAdjust="spacingAndGlyphs" stroke="#000" stroke-width="0.3">KCNQ1OT1</text><text x="538.9" y="768.3" font-size="9.8" fill="#000" font-weight="bold" textLength="20.3" lengthAdjust="spacingAndGlyphs" stroke="#000" stroke-width="0.3">locus</text><line x1="376" y1="380.2" x2="675.5" y2="380.2" stroke="#8a8a8a" stroke-width="1"/><path stroke="#333" stroke-width="0.6" d="M382.6 380.2v1.8M401 380.2v1.8M426.3 380.2v1.8M451.8 380.2v1.8M477.2 380.2v1.8M502.6 380.2v1.8M528.2 380.2v1.8M553.8 380.2v1.8M579.5 380.2v1.8M605.1 380.2v1.8M630.5 380.2v1.8M655.9 380.2v1.8"/><text x="382.6" y="378.4" font-size="4.4" fill="#222" text-anchor="middle">chr15</text><text x="401" y="378.4" font-size="4.4" fill="#222" text-anchor="middle">24952911</text><text x="426.3" y="378.4" font-size="4.4" fill="#222" text-anchor="middle">24953590</text><text x="451.8" y="378.4" font-size="4.4" fill="#222" text-anchor="middle">24954269</text><text x="477.2" y="378.4" font-size="4.4" fill="#222" text-anchor="middle">24954948</text><text x="502.6" y="378.4" font-size="4.4" fill="#222" text-anchor="middle">24955627</text><text x="528.2" y="378.4" font-size="4.4" fill="#222" text-anchor="middle">24956306</text><text x="553.8" y="378.4" font-size="4.4" fill="#222" text-anchor="middle">24956985</text><text x="579.5" y="378.4" font-size="4.4" fill="#222" text-anchor="middle">24957664</text><text x="605.1" y="378.4" font-size="4.4" fill="#222" text-anchor="middle">24958343</text><text x="630.5" y="378.4" font-size="4.4" fill="#222" text-anchor="middle">24959022</text><text x="655.9" y="378.4" font-size="4.4" fill="#222" text-anchor="middle">24959701</text><rect x="474" y="380.7" width="74.6" height="11.1" fill="#c5e1e0"/><line x1="376" y1="386.8" x2="675.5" y2="386.8" stroke="#7dbdb7" stroke-width="0.9"/><rect x="477.2" y="384.4" width="5.2" height="4.6" fill="#2a948b"/><rect x="620.2" y="384.4" width="5.4" height="4.6" fill="#2a948b"/><rect x="389.4" y="392.5" width="256.4" height="31.2" fill="#224e4a"/><rect x="389.4" y="423.7" width="256.4" height="25.3" fill="#fa7d6f"/><path fill="#000" fill-opacity="0.1" d="M423.9 392.5h.5v31.2h-.5zM432.4 392.5h.5v31.2h-.5zM434.4 392.5h.5v31.2h-.5zM462.9 392.5h.5v31.2h-.5zM493.4 392.5h1.5v31.2h-1.5zM516.9 392.5h2v31.2h-2zM521.9 392.5h1v31.2h-1zM524.4 392.5h1v31.2h-1zM540.4 392.5h.5v31.2h-.5zM544.4 392.5h.5v31.2h-.5zM551.9 392.5h1.5v31.2h-1.5zM572.4 392.5h1.5v31.2h-1.5zM604.9 392.5h.5v31.2h-.5zM611.4 392.5h.5v31.2h-.5zM614.4 392.5h.5v31.2h-.5zM631.9 392.5h1v31.2h-1z"/><path fill="#000" fill-opacity="0.2" d="M467.9 392.5h.5v31.2h-.5zM548.9 392.5h.5v31.2h-.5zM570.9 392.5h1v31.2h-1zM608.4 392.5h.5v31.2h-.5zM609.9 392.5h.5v31.2h-.5zM622.4 392.5h1v31.2h-1z"/><path fill="#000" fill-opacity="0.5" d="M473.9 392.5h1v31.2h-1zM480.4 392.5h1v31.2h-1zM492.9 392.5h.5v31.2h-.5zM494.9 392.5h.5v31.2h-.5zM500.4 392.5h1v31.2h-1zM506.4 392.5h2.5v31.2h-2.5zM509.4 392.5h.5v31.2h-.5zM525.4 392.5h1.5v31.2h-1.5z"/><path fill="#000" fill-opacity="0.6" d="M475.4 392.5h2.5v31.2h-2.5zM481.4 392.5h1.5v31.2h-1.5zM485.4 392.5h.5v31.2h-.5zM487.4 392.5h4v31.2h-4zM501.4 392.5h1v31.2h-1zM509.9 392.5h1v31.2h-1zM511.4 392.5h1.5v31.2h-1.5zM515.9 392.5h1v31.2h-1zM520.4 392.5h1.5v31.2h-1.5zM522.9 392.5h1.5v31.2h-1.5zM526.9 392.5h1.5v31.2h-1.5zM532.4 392.5h1.5v31.2h-1.5zM536.9 392.5h1v31.2h-1zM538.9 392.5h1v31.2h-1zM540.9 392.5h3.5v31.2h-3.5zM547.9 392.5h1v31.2h-1z"/><path fill="#000" fill-opacity="0.7" d="M477.9 392.5h1.5v31.2h-1.5zM483.9 392.5h1.5v31.2h-1.5zM485.9 392.5h1.5v31.2h-1.5zM491.4 392.5h1.5v31.2h-1.5zM495.4 392.5h1v31.2h-1zM498.4 392.5h1v31.2h-1zM502.9 392.5h1.5v31.2h-1.5zM512.9 392.5h3v31.2h-3zM518.9 392.5h1.5v31.2h-1.5zM528.9 392.5h1.5v31.2h-1.5zM538.4 392.5h.5v31.2h-.5zM539.9 392.5h.5v31.2h-.5zM544.9 392.5h.5v31.2h-.5z"/><path fill="#000" fill-opacity="0.8" d="M392.4 392.5h1.5v31.2h-1.5zM424.4 392.5h5v31.2h-5zM434.9 392.5h2v31.2h-2zM437.4 392.5h2v31.2h-2zM441.4 392.5h2v31.2h-2zM452.9 392.5h.5v31.2h-.5zM453.9 392.5h1v31.2h-1zM455.9 392.5h5v31.2h-5zM549.4 392.5h1.5v31.2h-1.5zM554.9 392.5h.5v31.2h-.5zM556.4 392.5h2v31.2h-2zM563.4 392.5h1.5v31.2h-1.5zM582.4 392.5h1v31.2h-1zM601.9 392.5h1.5v31.2h-1.5zM610.4 392.5h1v31.2h-1zM616.4 392.5h1.5v31.2h-1.5zM624.4 392.5h1.5v31.2h-1.5zM629.4 392.5h2v31.2h-2zM640.9 392.5h5v31.2h-5z"/><path fill="#000" fill-opacity="0.9" d="M419.9 392.5h4v31.2h-4zM430.4 392.5h1v31.2h-1zM445.9 392.5h4v31.2h-4zM463.4 392.5h2.5v31.2h-2.5zM578.9 392.5h1.5v31.2h-1.5zM585.4 392.5h3v31.2h-3zM596.9 392.5h2v31.2h-2zM612.9 392.5h1.5v31.2h-1.5zM626.9 392.5h1.5v31.2h-1.5zM634.4 392.5h1.5v31.2h-1.5z"/><path fill="#000" fill-opacity="1.0" d="M550.9 392.5h1v31.2h-1zM578.4 392.5h.5v31.2h-.5z"/><path fill="#000" fill-opacity="0.1" d="M423.9 423.7h.5v25.3h-.5zM432.4 423.7h.5v25.3h-.5zM434.4 423.7h.5v25.3h-.5zM462.9 423.7h.5v25.3h-.5zM484.4 423.7h1v25.3h-1zM502.9 423.7h1.5v25.3h-1.5zM524.4 423.7h1v25.3h-1zM551.9 423.7h1.5v25.3h-1.5zM572.4 423.7h1.5v25.3h-1.5zM604.9 423.7h.5v25.3h-.5zM611.4 423.7h.5v25.3h-.5zM614.4 423.7h.5v25.3h-.5zM631.9 423.7h1v25.3h-1z"/><path fill="#000" fill-opacity="0.2" d="M467.9 423.7h.5v25.3h-.5zM512.9 423.7h1v25.3h-1zM525.9 423.7h1v25.3h-1zM540.9 423.7h1v25.3h-1zM548.9 423.7h.5v25.3h-.5zM570.9 423.7h1v25.3h-1zM608.4 423.7h.5v25.3h-.5zM609.9 423.7h.5v25.3h-.5zM622.4 423.7h1v25.3h-1z"/><path fill="#000" fill-opacity="0.8" d="M392.4 423.7h1.5v25.3h-1.5zM424.4 423.7h5v25.3h-5zM434.9 423.7h2v25.3h-2zM437.4 423.7h2v25.3h-2zM441.4 423.7h2v25.3h-2zM452.9 423.7h.5v25.3h-.5zM453.9 423.7h1v25.3h-1zM455.9 423.7h5v25.3h-5zM549.4 423.7h1.5v25.3h-1.5zM554.9 423.7h.5v25.3h-.5zM556.4 423.7h2v25.3h-2zM563.4 423.7h1.5v25.3h-1.5zM582.4 423.7h1v25.3h-1zM601.9 423.7h1.5v25.3h-1.5zM610.4 423.7h1v25.3h-1zM616.4 423.7h1.5v25.3h-1.5zM624.4 423.7h1.5v25.3h-1.5zM629.4 423.7h2v25.3h-2zM640.9 423.7h5v25.3h-5z"/><path fill="#000" fill-opacity="0.9" d="M419.9 423.7h4v25.3h-4zM430.4 423.7h1v25.3h-1zM445.9 423.7h4v25.3h-4zM463.4 423.7h2.5v25.3h-2.5zM473.9 423.7h1v25.3h-1zM480.4 423.7h1v25.3h-1zM492.9 423.7h.5v25.3h-.5zM494.9 423.7h.5v25.3h-.5zM500.4 423.7h1v25.3h-1zM502.4 423.7h.5v25.3h-.5zM504.4 423.7h.5v25.3h-.5zM506.4 423.7h3v25.3h-3zM525.4 423.7h.5v25.3h-.5zM528.4 423.7h.5v25.3h-.5zM530.4 423.7h1v25.3h-1zM578.9 423.7h1.5v25.3h-1.5zM585.4 423.7h3v25.3h-3zM596.9 423.7h2v25.3h-2zM612.9 423.7h1.5v25.3h-1.5zM626.9 423.7h1.5v25.3h-1.5zM634.4 423.7h1.5v25.3h-1.5z"/><path fill="#000" fill-opacity="1.0" d="M474.9 423.7h5.5v25.3h-5.5zM481.4 423.7h3v25.3h-3zM485.4 423.7h7.5v25.3h-7.5zM493.4 423.7h1.5v25.3h-1.5zM495.4 423.7h5v25.3h-5zM501.4 423.7h1v25.3h-1zM504.9 423.7h1.5v25.3h-1.5zM509.4 423.7h3.5v25.3h-3.5zM513.9 423.7h10.5v25.3h-10.5zM526.9 423.7h1.5v25.3h-1.5zM528.9 423.7h1.5v25.3h-1.5zM531.4 423.7h9.5v25.3h-9.5zM541.9 423.7h7v25.3h-7zM550.9 423.7h1v25.3h-1zM578.4 423.7h.5v25.3h-.5z"/><rect x="383" y="394.95" width="6.4" height="0.7" fill="#9ab" opacity="0.5"/><rect x="383" y="409.65" width="6.4" height="0.7" fill="#9ab" opacity="0.5"/><rect x="383" y="412.35" width="6.4" height="0.7" fill="#9ab" opacity="0.5"/><rect x="383" y="426.65" width="6.4" height="0.7" fill="#f99" opacity="0.5"/><rect x="383" y="429.65" width="6.4" height="0.7" fill="#f99" opacity="0.5"/><rect x="383" y="432.65" width="6.4" height="0.7" fill="#f99" opacity="0.5"/><rect x="383" y="435.65" width="6.4" height="0.7" fill="#f99" opacity="0.4"/><rect x="383" y="440.65" width="6.4" height="0.7" fill="#f99" opacity="0.4"/><rect x="645.8" y="393.7" width="17.2" height="0.6" fill="#5d8a85" opacity="0.35"/><rect x="645.8" y="396.3" width="17.2" height="0.6" fill="#5d8a85" opacity="0.35"/><rect x="645.8" y="398.9" width="17.2" height="0.6" fill="#5d8a85" opacity="0.35"/><rect x="645.8" y="401.5" width="17.2" height="0.6" fill="#5d8a85" opacity="0.35"/><rect x="645.8" y="404.1" width="17.2" height="0.6" fill="#5d8a85" opacity="0.35"/><rect x="645.8" y="406.7" width="17.2" height="0.6" fill="#5d8a85" opacity="0.35"/><rect x="645.8" y="409.3" width="17.2" height="0.6" fill="#5d8a85" opacity="0.35"/><rect x="645.8" y="411.9" width="17.2" height="0.6" fill="#5d8a85" opacity="0.35"/><rect x="645.8" y="414.5" width="17.2" height="0.6" fill="#5d8a85" opacity="0.35"/><rect x="645.8" y="417.1" width="17.2" height="0.6" fill="#5d8a85" opacity="0.35"/><rect x="645.8" y="419.7" width="17.2" height="0.6" fill="#5d8a85" opacity="0.35"/><rect x="645.8" y="424.9" width="17.2" height="0.6" fill="#f5a095" opacity="0.35"/><rect x="645.8" y="427.5" width="17.2" height="0.6" fill="#f5a095" opacity="0.35"/><rect x="645.8" y="430.1" width="17.2" height="0.6" fill="#f5a095" opacity="0.35"/><rect x="645.8" y="432.7" width="17.2" height="0.6" fill="#f5a095" opacity="0.35"/><rect x="645.8" y="440.5" width="17.2" height="0.6" fill="#f5a095" opacity="0.35"/><rect x="645.8" y="443.1" width="17.2" height="0.6" fill="#f5a095" opacity="0.35"/><rect x="645.8" y="445.7" width="17.2" height="0.6" fill="#f5a095" opacity="0.35"/><path fill="#000" d="M646.5 393.4h.8v1.2h-.8zM650.8 393.4h.8v1.2h-.8zM657.6 393.4h1.3v1.2h-1.3zM659 393.4h1.3v1.2h-1.3zM661.5 393.4h1.3v1.2h-1.3zM646.5 396h.8v1.2h-.8zM650.8 396h.8v1.2h-.8zM657.6 396h1.3v1.2h-1.3zM659 396h1.3v1.2h-1.3zM661.5 396h.8v1.2h-.8zM657.6 398.6h1.3v1.2h-1.3zM659 398.6h.8v1.2h-.8zM661.5 398.6h.8v1.2h-.8zM646.5 401.2h.8v1.2h-.8zM646.5 403.8h1.3v1.2h-1.3zM657.6 403.8h1.3v1.2h-1.3zM650.8 409h.8v1.2h-.8zM661.5 409h1.3v1.2h-1.3zM646.5 411.6h1v1.2h-1zM659 411.6h.8v1.2h-.8zM661.5 411.6h1v1.2h-1zM646.5 414.2h1v1.2h-1zM650.8 414.2h1v1.2h-1zM657.6 414.2h1.3v1.2h-1.3zM659 414.2h1.3v1.2h-1.3zM650.8 416.8h1.3v1.2h-1.3zM657.6 416.8h1v1.2h-1zM661.5 419.4h1.3v1.2h-1.3zM646.5 424.6h1.3v1.2h-1.3zM659 424.6h1v1.2h-1zM646.5 427.2h1v1.2h-1zM650.8 427.2h1.3v1.2h-1.3zM657.6 427.2h.8v1.2h-.8zM659 427.2h1v1.2h-1zM661.5 427.2h.8v1.2h-.8zM646.5 429.8h1v1.2h-1zM650.8 429.8h1v1.2h-1zM657.6 429.8h1v1.2h-1zM650.8 432.4h1v1.2h-1zM661.5 432.4h.8v1.2h-.8zM646.5 440.2h.8v1.2h-.8zM650.8 440.2h1.3v1.2h-1.3zM657.6 440.2h1v1.2h-1zM661.5 440.2h1v1.2h-1zM646.5 442.8h1v1.2h-1zM659 442.8h.8v1.2h-.8zM659 445.4h1.3v1.2h-1.3z"/><rect x="375.5" y="392" width="300" height="144.4" fill="none" stroke="#666" stroke-width="0.8"/><line x1="375.5" y1="449" x2="675.5" y2="449" stroke="#444" stroke-width="0.9"/><line x1="375.5" y1="460.3" x2="675.5" y2="460.3" stroke="#444" stroke-width="0.9"/><line x1="375.5" y1="494.4" x2="675.5" y2="494.4" stroke="#444" stroke-width="0.9"/><line x1="389.4" y1="449" x2="389.4" y2="460.3" stroke="#444" stroke-width="0.6"/><rect x="430.2" y="460.3" width="190.5" height="76.1" fill="#c5e1e0"/><path stroke="#8a8a8a" stroke-width="0.45" fill="none" d="M391 449L387.8 459.3M393.1 449L389.5 459.3M395.3 449L391.2 459.3M396 449L392.9 459.3M396.5 449L394.6 459.3M399.2 449L396.3 459.3M399.4 449L398 459.3M401 449L399.7 459.3M403 449L401.4 459.3M403.3 449L403.1 459.3M404.1 449L404.8 459.3M407.9 449L406.5 459.3M411.4 449L408.2 459.3M418.5 449L409.9 459.3M419.1 449L411.6 459.3M420.5 449L413.3 459.3M420.5 449L415 459.3M422.8 449L416.7 459.3M423.3 449L418.4 459.3M428.7 449L420.1 459.3M440.7 449L421.8 459.3M442.4 449L423.5 459.3M459.8 449L425.2 459.3M461.8 449L426.9 459.3M471.4 449L428.6 459.3M559.2 449L622.7 459.3M565.5 449L624.4 459.3M572.9 449L626.1 459.3M575.6 449L627.8 459.3M580.3 449L629.5 459.3M591.6 449L631.2 459.3M592.4 449L632.9 459.3M594.5 449L634.6 459.3M597.5 449L636.3 459.3M597.7 449L638 459.3M598.2 449L639.7 459.3M598.8 449L641.4 459.3M600.2 449L643.1 459.3M602.3 449L644.8 459.3M602.4 449L646.5 459.3M602.8 449L648.2 459.3M602.9 449L649.9 459.3M607.8 449L651.6 459.3M615.5 449L653.3 459.3M618.6 449L655 459.3M622 449L656.7 459.3M623.1 449L658.4 459.3M624.3 449L660.1 459.3M636.6 449L661.8 459.3"/><polygon points="474.79,449 547.12,449 620.96,459.3 430.35,459.3" fill="#2a948b" opacity="0.9"/><path stroke="#d8efec" stroke-width="0.35" fill="none" opacity="0.8" d="M474.8 449L430.3 459.3M476.2 449L435.5 459.3M476.6 449L440.6 459.3M482 449L445.7 459.3M484.1 449L450.8 459.3M485.6 449L455.9 459.3M487 449L461 459.3M489 449L466.1 459.3M490.7 449L471.2 459.3M491.2 449L476.3 459.3M493.5 449L481.4 459.3M494 449L486.5 459.3M498.7 449L491.6 459.3M500.3 449L496.7 459.3M501.3 449L501.8 459.3M504 449L506.9 459.3M506.4 449L512 459.3M508.2 449L517.1 459.3M510.1 449L522.3 459.3M513 449L527.4 459.3M513.3 449L532.5 459.3M514.4 449L537.6 459.3M517.6 449L542.7 459.3M522.5 449L547.8 459.3M525.4 449L552.9 459.3M528.9 449L558 459.3M531.8 449L563.1 459.3M533.2 449L568.2 459.3M533.7 449L573.3 459.3M534.6 449L578.4 459.3M535.4 449L583.5 459.3M538 449L588.6 459.3M541 449L593.7 459.3M541.4 449L598.8 459.3M543.4 449L603.9 459.3M544.7 449L609 459.3M545.9 449L614.2 459.3M546.9 449L619.3 459.3"/><line x1="387.8" y1="459.1" x2="661.81" y2="459.1" stroke="#777" stroke-width="0.8" stroke-dasharray="1 0.7"/><rect x="375.5" y="475.5" width="300" height="4.4" fill="#e9e9e9"/><line x1="375.5" y1="475.5" x2="675.5" y2="475.5" stroke="#999" stroke-width="0.6" stroke-dasharray="1.2 0.8"/><line x1="375.5" y1="479.9" x2="675.5" y2="479.9" stroke="#999" stroke-width="0.6" stroke-dasharray="1.2 0.8"/><path d="M387.8 477L389.5 477.1L391.2 477.2L392.9 476.7L394.6 475.2L396.3 473.9L398 473.7L399.7 473.6L401.4 473.4L403.1 473.3L404.8 473L406.5 473.2L408.2 474L409.9 473.9L411.6 474L413.3 474.9L415 474.6L416.7 474L418.4 474.3L420.1 474.5L421.8 474.7L423.5 475.4L425.2 474.4L426.9 472.7L428.6 472.1L430.3 470L432 466.2L433.8 464.8L435.5 465.4L437.2 465.9L438.9 467.1L440.6 469.4L442.3 470.2L444 470L445.7 469.9L447.4 469.8L449.1 469L450.8 467.3L452.5 466.4L454.2 466.3L455.9 466.7L457.6 467.5L459.3 467.9L461 467.9L462.7 467.8L464.4 467.9L466.1 468L467.8 468.1L469.5 468.4L471.2 468.2L472.9 467.6L474.6 467.4L476.3 467.3L478 468.4L479.7 470.9L481.4 472.1L483.1 472.2L484.8 470.8L486.5 467.8L488.2 466.2L489.9 466.2L491.6 467.3L493.3 469.3L495 470.4L496.7 470.5L498.4 470.5L500.1 470.4L501.8 470.4L503.5 470.3L505.2 469.1L506.9 466.9L508.6 468.4L510.3 473.7L512 476.3L513.7 476.2L515.4 476.3L517.1 475.2L518.8 471.7L520.5 468.1L522.3 467L524 468.6L525.7 471.8L527.4 473.5L529.1 473.5L530.8 473.4L532.5 473.3L534.2 473.3L535.9 473.5L537.6 473.7L539.3 473.7L541 473.4L542.7 472.7L544.4 471.3L546.1 470.5L547.8 470.5L549.5 470.7L551.2 470.8L552.9 470.9L554.6 470.3L556.3 469.1L558 468.6L559.7 468.5L561.4 468.6L563.1 468.6L564.8 468.6L566.5 467.7L568.2 467.5L569.9 469.5L571.6 470.9L573.3 470.8L575 469.2L576.7 466.5L578.4 465.2L580.1 465.2L581.8 465.2L583.5 465.1L585.2 465L586.9 465L588.6 465.1L590.3 465.2L592 465.3L593.7 465.3L595.4 465.2L597.1 465.1L598.8 465.1L600.5 465.2L602.2 465.1L603.9 465.1L605.6 465.2L607.3 465.4L609 466.9L610.7 469.9L612.5 471.4L614.2 471.3L615.9 471.6L617.6 472.4L619.3 473L621 474.2L622.7 475.8L624.4 475.7L626.1 474.4L627.8 472.9L629.5 472.6L631.2 474.4L632.9 475.3L634.6 475.2L636.3 475.4L638 475.6L639.7 475.7L641.4 475.7L643.1 476.5L644.8 477.4L646.5 476.4L648.2 474.9L649.9 474.6L651.6 475L653.3 475.8L655 476L656.7 475.4L658.4 475.2L660.1 475.6L661.8 475.7" fill="none" stroke="#f27565" stroke-width="0.8" stroke-linejoin="round" stroke-linecap="round"/><path d="M387.8 474.9L389.5 475.4L391.2 476.1L392.9 476.6L394.6 476.6L396.3 477L398 477.8L399.7 477.7L401.4 476.6L403.1 476.9L404.8 478L406.5 477.6L408.2 476.4L409.9 476.4L411.6 476.9L413.3 476.9L415 476.8L416.7 476.9L418.4 476.7L420.1 476.2L421.8 476.1L423.5 475.8L425.2 475.4L426.9 475.2L428.6 477.6L430.3 482.6L432 485L433.8 485.1L435.5 485.3L437.2 485.8L438.9 486.1L440.6 486.3L442.3 486.5L444 486.1L445.7 486.2L447.4 487L449.1 486.7L450.8 485.1L452.5 484.2L454.2 484L455.9 484L457.6 485.3L459.3 487.5L461 488.5L462.7 488.9L464.4 489.8L466.1 489.1L467.8 486.8L469.5 485.7L471.2 485.7L472.9 485.7L474.6 485.6L476.3 485.5L478 485.5L479.7 485.6L481.4 485.7L483.1 485.6L484.8 485.5L486.5 485.7L488.2 485.8L489.9 485.5L491.6 484.8L493.3 484.5L495 484.6L496.7 484L498.4 482.6L500.1 481.9L501.8 482.1L503.5 482.1L505.2 482.2L506.9 482.3L508.6 482.3L510.3 482.4L512 482.4L513.7 482.5L515.4 482.5L517.1 482.2L518.8 482.2L520.5 482.4L522.3 482.8L524 483.4L525.7 483.7L527.4 483.7L529.1 483.8L530.8 486.4L532.5 491L534.2 493.2L535.9 491L537.6 487L539.3 485.1L541 485.2L542.7 485.2L544.4 487.1L546.1 491L547.8 492.8L549.5 492.7L551.2 492.7L552.9 491.5L554.6 487.5L556.3 483.5L558 482L559.7 482L561.4 482.1L563.1 483.3L564.8 485.8L566.5 486.9L568.2 486.8L569.9 486.9L571.6 487L573.3 486.8L575 486.7L576.7 485.9L578.4 484.4L580.1 483.6L581.8 483.1L583.5 482.5L585.2 482.3L586.9 482.3L588.6 482.3L590.3 482.3L592 482.3L593.7 482.2L595.4 483.1L597.1 485.1L598.8 485.5L600.5 484.2L602.2 485.1L603.9 488.1L605.6 489.6L607.3 489.6L609 489.7L610.7 488.9L612.5 487L614.2 487.1L615.9 488L617.6 486.6L619.3 485.3L621 483.6L622.7 480.4L624.4 478.5L626.1 477.8L627.8 478.1L629.5 478.6L631.2 478L632.9 477.5L634.6 477.6L636.3 477.8L638 477.6L639.7 476.8L641.4 476.1L643.1 476.2L644.8 477L646.5 478.6L648.2 479.6L649.9 479.4L651.6 478.7L653.3 477.6L655 476.3L656.7 475.5L658.4 475.5L660.1 475.9L661.8 475.9" fill="none" stroke="#1d4b46" stroke-width="0.8" stroke-linejoin="round" stroke-linecap="round"/><line x1="675.5" y1="461.8" x2="677" y2="461.8" stroke="#555" stroke-width="0.5"/><text x="677.7" y="463.3" font-size="4.2" fill="#333">20</text><line x1="675.5" y1="469.9" x2="677" y2="469.9" stroke="#555" stroke-width="0.5"/><text x="677.7" y="471.4" font-size="4.2" fill="#333">10</text><line x1="675.5" y1="477.7" x2="677" y2="477.7" stroke="#555" stroke-width="0.5"/><text x="677.7" y="479.2" font-size="4.2" fill="#333">0</text><line x1="675.5" y1="486" x2="677" y2="486" stroke="#555" stroke-width="0.5"/><text x="677.7" y="487.5" font-size="4.2" fill="#333">−10</text><line x1="675.5" y1="494.1" x2="677" y2="494.1" stroke="#555" stroke-width="0.5"/><text x="677.7" y="495.6" font-size="4.2" fill="#333">−20</text><rect x="618" y="476.7" width="54.6" height="15.5" fill="#fff" fill-opacity="0.85" stroke="#ddd" stroke-width="0.4"/><text x="646" y="480.3" font-size="3.8" fill="#333" text-anchor="middle">sample</text><line x1="619.9" y1="484.5" x2="626" y2="484.5" stroke="#f27565" stroke-width="0.9"/><text x="628.8" y="485.9" font-size="3.8" fill="#333" textLength="43.2" lengthAdjust="spacingAndGlyphs">Non_target_maternal.CpG</text><line x1="619.9" y1="489.1" x2="626" y2="489.1" stroke="#1d4b46" stroke-width="0.9"/><text x="628.8" y="490.5" font-size="3.8" fill="#333" textLength="43.2" lengthAdjust="spacingAndGlyphs">Non_target_paternal.CpG</text><g transform="translate(373.6,484) rotate(-90)"><text x="0" y="0" font-size="4.2" fill="#333" textLength="13" lengthAdjust="spacingAndGlyphs">residual</text></g><line x1="373.7" y1="496.6" x2="375.5" y2="496.6" stroke="#555" stroke-width="0.5"/><text x="373" y="498.1" font-size="4.3" fill="#333" text-anchor="end">1.00</text><line x1="373.7" y1="506" x2="375.5" y2="506" stroke="#555" stroke-width="0.5"/><text x="373" y="507.5" font-size="4.3" fill="#333" text-anchor="end">0.75</text><line x1="373.7" y1="515.4" x2="375.5" y2="515.4" stroke="#555" stroke-width="0.5"/><text x="373" y="516.9" font-size="4.3" fill="#333" text-anchor="end">0.50</text><line x1="373.7" y1="524.8" x2="375.5" y2="524.8" stroke="#555" stroke-width="0.5"/><text x="373" y="526.3" font-size="4.3" fill="#333" text-anchor="end">0.25</text><line x1="373.7" y1="534.2" x2="375.5" y2="534.2" stroke="#555" stroke-width="0.5"/><text x="373" y="535.7" font-size="4.3" fill="#333" text-anchor="end">0.00</text><line x1="387.8" y1="536.4" x2="387.8" y2="538.2" stroke="#555" stroke-width="0.5"/><text x="387.8" y="542.8" font-size="4.5" fill="#333" text-anchor="middle">0</text><line x1="421.84" y1="536.4" x2="421.84" y2="538.2" stroke="#555" stroke-width="0.5"/><text x="421.84" y="542.8" font-size="4.5" fill="#333" text-anchor="middle">20</text><line x1="455.88" y1="536.4" x2="455.88" y2="538.2" stroke="#555" stroke-width="0.5"/><text x="455.88" y="542.8" font-size="4.5" fill="#333" text-anchor="middle">40</text><line x1="489.91" y1="536.4" x2="489.91" y2="538.2" stroke="#555" stroke-width="0.5"/><text x="489.91" y="542.8" font-size="4.5" fill="#333" text-anchor="middle">60</text><line x1="523.95" y1="536.4" x2="523.95" y2="538.2" stroke="#555" stroke-width="0.5"/><text x="523.95" y="542.8" font-size="4.5" fill="#333" text-anchor="middle">80</text><line x1="557.99" y1="536.4" x2="557.99" y2="538.2" stroke="#555" stroke-width="0.5"/><text x="557.99" y="542.8" font-size="4.5" fill="#333" text-anchor="middle">100</text><line x1="592.03" y1="536.4" x2="592.03" y2="538.2" stroke="#555" stroke-width="0.5"/><text x="592.03" y="542.8" font-size="4.5" fill="#333" text-anchor="middle">120</text><line x1="626.07" y1="536.4" x2="626.07" y2="538.2" stroke="#555" stroke-width="0.5"/><text x="626.07" y="542.8" font-size="4.5" fill="#333" text-anchor="middle">140</text><line x1="660.1" y1="536.4" x2="660.1" y2="538.2" stroke="#555" stroke-width="0.5"/><text x="660.1" y="542.8" font-size="4.5" fill="#333" text-anchor="middle">160</text><path d="M390.4 499.6L391.8 499.7L393.3 499.8L394.8 499.8L396.3 499.9L397.8 500L399.3 500.1L400.8 500.2L402.3 500.2L403.8 500.3L405.2 500.3L406.7 500.3L408.2 500.4L409.7 500.4L411.2 500.3L412.6 500.3L414.1 500.3L415.6 500.2L417.1 500.2L418.5 500.1L420 500L421.5 500L423 499.9L424.4 499.8L425.9 499.8L427.4 499.7L428.9 499.7L430.3 499.6L431.8 499.6L433.2 499.5L434.6 499.5L436 499.4L437.4 499.3L438.9 499.3L440.3 499.2L441.7 499.1L443.1 499.1L444.5 499L445.9 499L447.4 498.9L448.8 498.8L450.2 498.8L451.6 498.7L453 498.7L454.5 498.6L455.9 498.6L457.3 498.6L458.7 498.5L460.1 498.5L461.5 498.5L463 498.5L464.4 498.5L465.8 498.5L467.2 498.5L468.6 498.5L470.1 498.5L471.5 498.5L472.9 498.6L474.3 498.6L475.7 498.6L477.1 498.6L478.6 498.7L480 498.7L481.4 498.7L482.8 498.8L484.2 498.8L485.7 498.9L487.1 498.9L488.5 498.9L489.9 499L491.3 499L492.8 499L494.2 499.1L495.6 499.1L497 499.1L498.4 499.2L499.8 499.2L501.3 499.2L502.7 499.2L504.1 499.2L505.5 499.2L506.9 499.2L508.4 499.2L509.8 499.2L511.2 499.2L512.6 499.2L514 499.2L515.4 499.2L516.9 499.2L518.3 499.2L519.7 499.2L521.1 499.2L522.5 499.2L524 499.2L525.4 499.2L526.8 499.2L528.2 499.2L529.6 499.2L531 499.2L532.5 499.2L533.9 499.2L535.3 499.2L536.7 499.2L538.1 499.2L539.6 499.2L541 499.2L542.4 499.2L543.8 499.3L545.2 499.3L546.6 499.4L548.1 499.4L549.5 499.5L550.9 499.6L552.3 499.7L553.7 499.8L555.2 499.9L556.6 500L558 500.1L559.4 500.1L560.8 500.2L562.2 500.3L563.7 500.3L565.1 500.3L566.5 500.4L567.9 500.4L569.3 500.3L570.8 500.3L572.2 500.3L573.6 500.2L575 500.1L576.4 500.1L577.8 500L579.3 499.9L580.7 499.8L582.1 499.7L583.5 499.7L584.9 499.6L586.4 499.5L587.8 499.4L589.2 499.3L590.6 499.3L592 499.2L593.4 499.2L594.9 499.1L596.3 499.1L597.7 499L599.1 499L600.5 498.9L602 498.8L603.4 498.8L604.8 498.7L606.2 498.7L607.6 498.6L609 498.6L610.5 498.6L611.9 498.5L613.3 498.5L614.7 498.5L616.1 498.5L617.6 498.5L619 498.5L620.4 498.5L621.8 498.5L623.2 498.6L624.6 498.6L626.1 498.7L627.5 498.7L628.9 498.8L630.3 498.9L631.7 498.9L633.2 499L634.6 499L636 499.1L637.4 499.1L638.8 499.2L640.2 499.2L641.7 499.2L643.1 499.2L644.5 499.2L646 499.2L647.4 499.2L648.8 499.2L650.3 499.2L651.7 499.2L653.2 499.2L654.6 499.2L656 499.2L657.5 499.2L658.9 499.2L660.4 499.2L661.8 499.2" fill="none" stroke="#f27565" stroke-width="2.3" stroke-linejoin="round" stroke-linecap="round"/><path d="M390.4 507.9L391.9 507.9L393.4 507.9L394.9 507.9L396.5 507.9L398 507.9L399.5 508L400.9 508.2L402.4 508.6L403.8 509.1L405.3 509.7L406.8 510.3L408.2 510.9L409.7 511.5L411.2 512.3L412.8 513.2L414.3 514.1L415.8 515.1L417.3 516.1L418.8 517.1L420.3 518.2L421.8 519.2L423.4 520.2L424.9 521.3L426.4 522.4L427.9 523.6L429.4 524.7L430.9 525.8L432.4 526.9L433.9 527.8L435.5 528.6L436.9 529.2L438.4 529.9L439.9 530.6L441.4 531.2L442.9 531.7L444.4 532.1L445.9 532.5L447.4 532.7L448.8 532.8L450.2 533L451.6 533.1L453 533.2L454.5 533.3L455.9 533.4L457.3 533.4L458.7 533.5L460.1 533.6L461.5 533.6L463 533.6L464.4 533.6L465.8 533.6L467.2 533.6L468.6 533.6L470.1 533.6L471.5 533.6L472.9 533.6L474.3 533.6L475.7 533.6L477.1 533.6L478.6 533.6L480 533.6L481.4 533.6L482.8 533.6L484.2 533.6L485.7 533.6L487.1 533.6L488.5 533.6L489.9 533.6L491.3 533.6L492.8 533.5L494.2 533.5L495.6 533.5L497 533.5L498.4 533.5L499.8 533.5L501.3 533.5L502.7 533.5L504.1 533.5L505.5 533.5L506.9 533.5L508.4 533.5L509.8 533.5L511.2 533.5L512.6 533.5L514 533.5L515.4 533.5L516.9 533.5L518.3 533.5L519.7 533.5L521.1 533.4L522.5 533.4L524 533.4L525.4 533.4L526.8 533.4L528.2 533.4L529.6 533.4L531 533.4L532.5 533.4L533.9 533.4L535.3 533.4L536.7 533.4L538.1 533.4L539.6 533.4L541 533.4L542.4 533.4L543.8 533.4L545.2 533.4L546.6 533.4L548.1 533.4L549.5 533.4L550.9 533.4L552.3 533.4L553.7 533.4L555.2 533.4L556.6 533.4L558 533.4L559.4 533.4L560.8 533.4L562.2 533.4L563.7 533.4L565.1 533.4L566.5 533.4L567.9 533.4L569.3 533.4L570.8 533.4L572.2 533.4L573.6 533.4L575 533.4L576.5 533.4L577.9 533.4L579.4 533.4L580.8 533.4L582.3 533.4L583.8 533.4L585.2 533.4L586.7 533.4L588.1 533.4L589.6 533.3L591.1 533.3L592.5 533.3L594 533.3L595.4 533.3L596.9 533.2L598.5 533.2L600 533.1L601.5 533L603 532.9L604.5 532.8L606 532.6L607.5 532.5L609 532.3L610.5 532.1L612 531.9L613.4 531.5L614.9 531.1L616.3 530.7L617.8 530.2L619.3 529.7L620.7 529L622.1 528.2L623.5 527.1L624.9 526L626.3 524.8L627.8 523.7L629.2 522.4L630.6 521.1L632 519.7L633.4 518.2L634.9 516.8L636.3 515.4L638 513.8L639.7 512.1L641.4 510.6L643.1 509.4L644.8 508.3L646.5 507.3L648.2 506.5L649.9 506L651.6 505.6L653.3 505.4L655 505.2L656.7 505.2L658.4 505.2L660.1 505.2L661.8 505.2" fill="none" stroke="#1d4b46" stroke-width="2.4" stroke-linejoin="round" stroke-linecap="round"/><line x1="376" y1="581.8" x2="675.5" y2="581.8" stroke="#8a8a8a" stroke-width="1"/><path stroke="#333" stroke-width="0.6" d="M397.3 581.8v1.8M425.4 581.8v1.8M450.4 581.8v1.8M475.3 581.8v1.8M499.5 581.8v1.8M524.3 581.8v1.8M549.4 581.8v1.8M573.7 581.8v1.8M597.8 581.8v1.8M623.4 581.8v1.8M648.5 581.8v1.8M672.6 581.8v1.8"/><text x="397.3" y="579.5" font-size="4.4" fill="#222" text-anchor="middle">chr7:94649816</text><text x="425.4" y="579.5" font-size="4.4" fill="#222" text-anchor="middle">94651237</text><text x="450.4" y="579.5" font-size="4.4" fill="#222" text-anchor="middle">94652658</text><text x="475.3" y="579.5" font-size="4.4" fill="#222" text-anchor="middle">94654079</text><text x="499.5" y="579.5" font-size="4.4" fill="#222" text-anchor="middle">94655500</text><text x="524.3" y="579.5" font-size="4.4" fill="#222" text-anchor="middle">94656921</text><text x="549.4" y="579.5" font-size="4.4" fill="#222" text-anchor="middle">94658342</text><text x="573.7" y="579.5" font-size="4.4" fill="#222" text-anchor="middle">94659763</text><text x="597.8" y="579.5" font-size="4.4" fill="#222" text-anchor="middle">94661184</text><text x="623.4" y="579.5" font-size="4.4" fill="#222" text-anchor="middle">94662605</text><text x="648.5" y="579.5" font-size="4.4" fill="#222" text-anchor="middle">94664026</text><text x="672.6" y="579.5" font-size="4.4" fill="#222" text-anchor="middle">94665447</text><rect x="512.2" y="584.2" width="42.6" height="8.1" fill="#c5e1e0"/><line x1="512" y1="588" x2="675.5" y2="588" stroke="#7dbdb7" stroke-width="0.9"/><rect x="514" y="585.4" width="5.2" height="5" fill="#2a948b"/><rect x="596.2" y="585.4" width="1.6" height="5" fill="#2a948b"/><rect x="636.2" y="585.7" width="39.3" height="4.4" fill="#2a948b"/><rect x="388.9" y="593.6" width="259.1" height="26.3" fill="#3d6963"/><rect x="388.9" y="619.9" width="259.1" height="30.2" fill="#fa897c"/><path fill="#000" fill-opacity="0.1" d="M404.9 593.6h.5v26.3h-.5zM431.9 593.6h.5v26.3h-.5zM466.9 593.6h1v26.3h-1zM499.4 593.6h1.5v26.3h-1.5zM513.9 593.6h.5v26.3h-.5zM544.9 593.6h1v26.3h-1zM546.9 593.6h.5v26.3h-.5zM572.9 593.6h1.5v26.3h-1.5zM595.4 593.6h1.5v26.3h-1.5zM612.9 593.6h1.5v26.3h-1.5zM621.9 593.6h1v26.3h-1zM623.9 593.6h.5v26.3h-.5z"/><path fill="#000" fill-opacity="0.2" d="M439.9 593.6h1v26.3h-1zM449.9 593.6h.5v26.3h-.5zM462.9 593.6h1.5v26.3h-1.5zM465.4 593.6h1.5v26.3h-1.5zM567.4 593.6h.5v26.3h-.5zM594.9 593.6h.5v26.3h-.5zM610.4 593.6h1v26.3h-1z"/><path fill="#000" fill-opacity="0.4" d="M486.4 593.6h1.5v26.3h-1.5zM494.9 593.6h1v26.3h-1zM504.9 593.6h.5v26.3h-.5zM520.9 593.6h2.5v26.3h-2.5zM527.4 593.6h1v26.3h-1zM539.4 593.6h1v26.3h-1zM543.4 593.6h.5v26.3h-.5zM548.9 593.6h1v26.3h-1z"/><path fill="#000" fill-opacity="0.5" d="M488.9 593.6h1v26.3h-1zM492.4 593.6h2.5v26.3h-2.5zM495.9 593.6h1v26.3h-1zM497.9 593.6h1v26.3h-1zM500.9 593.6h1v26.3h-1zM503.4 593.6h1.5v26.3h-1.5zM509.4 593.6h1v26.3h-1zM535.4 593.6h.5v26.3h-.5zM536.4 593.6h.5v26.3h-.5zM542.4 593.6h1v26.3h-1zM545.9 593.6h1v26.3h-1zM547.4 593.6h1.5v26.3h-1.5zM551.9 593.6h2v26.3h-2z"/><path fill="#000" fill-opacity="0.6" d="M514.9 593.6h1v26.3h-1zM519.4 593.6h1.5v26.3h-1.5zM523.4 593.6h.5v26.3h-.5zM535.9 593.6h.5v26.3h-.5zM538.9 593.6h.5v26.3h-.5zM540.4 593.6h1v26.3h-1zM549.9 593.6h2v26.3h-2z"/><path fill="#000" fill-opacity="0.7" d="M419.9 593.6h1v26.3h-1zM436.9 593.6h3v26.3h-3z"/><path fill="#000" fill-opacity="0.8" d="M390.4 593.6h2v26.3h-2zM393.9 593.6h2.5v26.3h-2.5zM401.9 593.6h1.5v26.3h-1.5zM412.9 593.6h1v26.3h-1zM417.4 593.6h2v26.3h-2zM433.4 593.6h2v26.3h-2zM441.4 593.6h2v26.3h-2zM448.4 593.6h1.5v26.3h-1.5zM456.9 593.6h2v26.3h-2zM471.9 593.6h2v26.3h-2zM474.4 593.6h2.5v26.3h-2.5zM477.9 593.6h1.5v26.3h-1.5zM479.9 593.6h2.5v26.3h-2.5zM483.4 593.6h2.5v26.3h-2.5zM559.4 593.6h3v26.3h-3zM563.9 593.6h2v26.3h-2zM567.9 593.6h1v26.3h-1zM586.9 593.6h2.5v26.3h-2.5zM592.9 593.6h2v26.3h-2zM596.9 593.6h1.5v26.3h-1.5zM607.9 593.6h2.5v26.3h-2.5zM625.4 593.6h2v26.3h-2zM633.4 593.6h3v26.3h-3zM636.9 593.6h11v26.3h-11z"/><path fill="#000" fill-opacity="0.9" d="M408.9 593.6h2v26.3h-2zM426.9 593.6h3v26.3h-3zM452.4 593.6h2v26.3h-2zM460.4 593.6h2.5v26.3h-2.5zM599.9 593.6h2.5v26.3h-2.5zM611.9 593.6h1v26.3h-1zM629.9 593.6h1v26.3h-1z"/><path fill="#000" fill-opacity="1.0" d="M403.4 593.6h1v26.3h-1zM590.4 593.6h1v26.3h-1z"/><path fill="#000" fill-opacity="0.1" d="M404.9 619.9h.5v30.2h-.5zM431.9 619.9h.5v30.2h-.5zM466.9 619.9h1v30.2h-1zM494.9 619.9h1v30.2h-1zM499.4 619.9h1.5v30.2h-1.5zM513.9 619.9h.5v30.2h-.5zM572.9 619.9h1.5v30.2h-1.5zM595.4 619.9h1.5v30.2h-1.5zM612.9 619.9h1.5v30.2h-1.5zM621.9 619.9h1v30.2h-1zM623.9 619.9h.5v30.2h-.5z"/><path fill="#000" fill-opacity="0.2" d="M439.9 619.9h1v30.2h-1zM449.9 619.9h.5v30.2h-.5zM462.9 619.9h1.5v30.2h-1.5zM465.4 619.9h1.5v30.2h-1.5zM567.4 619.9h.5v30.2h-.5zM594.9 619.9h.5v30.2h-.5zM610.4 619.9h1v30.2h-1z"/><path fill="#000" fill-opacity="0.4" d="M486.4 619.9h1.5v30.2h-1.5zM488.9 619.9h1v30.2h-1zM493.9 619.9h1v30.2h-1zM497.9 619.9h1v30.2h-1zM503.4 619.9h1.5v30.2h-1.5zM509.4 619.9h1v30.2h-1z"/><path fill="#000" fill-opacity="0.7" d="M419.9 619.9h1v30.2h-1zM436.9 619.9h3v30.2h-3z"/><path fill="#000" fill-opacity="0.8" d="M390.4 619.9h2v30.2h-2zM393.9 619.9h2.5v30.2h-2.5zM401.9 619.9h1.5v30.2h-1.5zM412.9 619.9h1v30.2h-1zM417.4 619.9h2v30.2h-2zM433.4 619.9h2v30.2h-2zM441.4 619.9h2v30.2h-2zM448.4 619.9h1.5v30.2h-1.5zM456.9 619.9h2v30.2h-2zM471.9 619.9h2v30.2h-2zM474.4 619.9h2.5v30.2h-2.5zM477.9 619.9h1.5v30.2h-1.5zM479.9 619.9h2.5v30.2h-2.5zM483.4 619.9h2.5v30.2h-2.5zM559.4 619.9h3v30.2h-3zM563.9 619.9h2v30.2h-2zM567.9 619.9h1v30.2h-1zM586.9 619.9h2.5v30.2h-2.5zM592.9 619.9h2v30.2h-2zM596.9 619.9h1.5v30.2h-1.5zM607.9 619.9h2.5v30.2h-2.5zM625.4 619.9h2v30.2h-2zM633.4 619.9h3v30.2h-3zM636.9 619.9h11v30.2h-11z"/><path fill="#000" fill-opacity="0.9" d="M408.9 619.9h2v30.2h-2zM426.9 619.9h3v30.2h-3zM452.4 619.9h2v30.2h-2zM460.4 619.9h2.5v30.2h-2.5zM515.9 619.9h1v30.2h-1zM520.9 619.9h2.5v30.2h-2.5zM524.4 619.9h1v30.2h-1zM527.4 619.9h1v30.2h-1zM539.4 619.9h1v30.2h-1zM543.4 619.9h.5v30.2h-.5zM548.9 619.9h1v30.2h-1zM599.9 619.9h2.5v30.2h-2.5zM611.9 619.9h1v30.2h-1zM629.9 619.9h1v30.2h-1z"/><path fill="#000" fill-opacity="1.0" d="M403.4 619.9h1v30.2h-1zM514.9 619.9h1v30.2h-1zM516.9 619.9h4v30.2h-4zM523.4 619.9h1v30.2h-1zM525.4 619.9h1v30.2h-1zM528.4 619.9h11v30.2h-11zM540.4 619.9h3v30.2h-3zM544.9 619.9h4v30.2h-4zM549.9 619.9h5v30.2h-5zM590.4 619.9h1v30.2h-1z"/><path fill="#000" d="M648.5 593h1v1.2h-1zM649.6 593h1.3v1.2h-1.3zM650.7 593h.8v1.2h-.8zM651.8 593h1.3v1.2h-1.3zM652.9 593h1.3v1.2h-1.3zM654 593h1v1.2h-1zM655.1 593h1v1.2h-1zM656.2 593h1v1.2h-1zM657.3 593h.8v1.2h-.8zM658.4 593h1.3v1.2h-1.3zM659.5 593h1v1.2h-1zM660.6 593h1v1.2h-1zM648.5 593.9h1.3v1.2h-1.3zM649.6 593.9h.8v1.2h-.8zM650.7 593.9h1v1.2h-1zM651.8 593.9h.8v1.2h-.8zM652.9 593.9h1.3v1.2h-1.3zM654 593.9h1.3v1.2h-1.3zM655.1 593.9h.8v1.2h-.8zM656.2 593.9h.8v1.2h-.8zM657.3 593.9h1.3v1.2h-1.3zM659.5 593.9h.8v1.2h-.8zM660.6 593.9h1.3v1.2h-1.3zM648.5 596.4h1.3v1.2h-1.3zM650.7 596.4h1v1.2h-1zM652.9 596.4h.8v1.2h-.8zM654 596.4h.8v1.2h-.8zM655.1 596.4h1v1.2h-1zM656.2 596.4h1.3v1.2h-1.3zM658.4 596.4h.8v1.2h-.8zM659.5 596.4h1v1.2h-1zM660.6 596.4h1.3v1.2h-1.3zM648.5 619.4h1.3v1.2h-1.3zM650.7 619.4h1v1.2h-1zM651.8 619.4h.8v1.2h-.8zM652.9 619.4h.8v1.2h-.8zM654 619.4h1v1.2h-1zM655.1 619.4h1v1.2h-1zM658.4 619.4h1v1.2h-1zM659.5 619.4h1.3v1.2h-1.3zM648.5 620.8h.8v1.2h-.8zM649.6 620.8h.8v1.2h-.8zM650.7 620.8h1v1.2h-1zM651.8 620.8h.8v1.2h-.8zM652.9 620.8h.8v1.2h-.8zM654 620.8h1.3v1.2h-1.3zM655.1 620.8h1v1.2h-1zM656.2 620.8h.8v1.2h-.8zM657.3 620.8h.8v1.2h-.8zM658.4 620.8h1.3v1.2h-1.3zM659.5 620.8h1.3v1.2h-1.3zM660.6 620.8h.8v1.2h-.8zM649.6 622.2h1.3v1.2h-1.3zM650.7 622.2h1.3v1.2h-1.3zM651.8 622.2h.8v1.2h-.8zM654 622.2h1.3v1.2h-1.3zM655.1 622.2h1.3v1.2h-1.3zM656.2 622.2h1v1.2h-1zM658.4 622.2h1v1.2h-1zM659.5 622.2h1.3v1.2h-1.3zM660.6 622.2h1.3v1.2h-1.3z"/><rect x="376" y="593.6" width="299.5" height="143.9" fill="none" stroke="#666" stroke-width="0.8"/><line x1="376" y1="650.1" x2="675.5" y2="650.1" stroke="#444" stroke-width="0.9"/><line x1="376" y1="661.3" x2="675.5" y2="661.3" stroke="#444" stroke-width="0.9"/><line x1="376" y1="695.2" x2="675.5" y2="695.2" stroke="#444" stroke-width="0.9"/><line x1="388.9" y1="650.1" x2="388.9" y2="661.3" stroke="#444" stroke-width="0.6"/><rect x="493.2" y="661.3" width="105.4" height="76.2" fill="#c5e1e0"/><path stroke="#8a8a8a" stroke-width="0.45" fill="none" d="M390.6 650.1L388.6 660.3M392.7 650.1L389.5 660.3M395.5 650.1L390.4 660.3M396 650.1L391.3 660.3M396.2 650.1L392.2 660.3M399.7 650.1L393.1 660.3M399.7 650.1L393.9 660.3M400 650.1L394.8 660.3M400.3 650.1L395.7 660.3M401 650.1L396.6 660.3M401.6 650.1L397.5 660.3M402.9 650.1L398.4 660.3M403.2 650.1L399.3 660.3M403.3 650.1L400.2 660.3M403.6 650.1L401.1 660.3M403.6 650.1L402 660.3M404.8 650.1L402.9 660.3M405.4 650.1L403.7 660.3M409.9 650.1L404.6 660.3M410.8 650.1L405.5 660.3M411 650.1L406.4 660.3M413.3 650.1L407.3 660.3M413.8 650.1L408.2 660.3M413.9 650.1L409.1 660.3M413.9 650.1L410 660.3M414.5 650.1L410.9 660.3M415 650.1L411.8 660.3M415.8 650.1L412.7 660.3M417.3 650.1L413.5 660.3M418.6 650.1L414.4 660.3M419.8 650.1L415.3 660.3M420 650.1L416.2 660.3M420.3 650.1L417.1 660.3M422.3 650.1L418 660.3M422.8 650.1L418.9 660.3M423.4 650.1L419.8 660.3M424.4 650.1L420.7 660.3M425.3 650.1L421.6 660.3M426.2 650.1L422.5 660.3M426.9 650.1L423.3 660.3M429.1 650.1L424.2 660.3M429.2 650.1L425.1 660.3M429.5 650.1L426 660.3M431.2 650.1L426.9 660.3M433.4 650.1L427.8 660.3M433.5 650.1L428.7 660.3M433.6 650.1L429.6 660.3M436.2 650.1L430.5 660.3M436.5 650.1L431.4 660.3M436.8 650.1L432.3 660.3M436.9 650.1L433.2 660.3M438.4 650.1L434 660.3M439.2 650.1L434.9 660.3M441.2 650.1L435.8 660.3M442.2 650.1L436.7 660.3M442.6 650.1L437.6 660.3M445.6 650.1L438.5 660.3M445.9 650.1L439.4 660.3M446.1 650.1L440.3 660.3M449.2 650.1L441.2 660.3M450.6 650.1L442.1 660.3M450.8 650.1L443 660.3M451.2 650.1L443.8 660.3M451.6 650.1L444.7 660.3M451.9 650.1L445.6 660.3M452.8 650.1L446.5 660.3M453.4 650.1L447.4 660.3M453.9 650.1L448.3 660.3M454.1 650.1L449.2 660.3M454.4 650.1L450.1 660.3M458.8 650.1L451 660.3M459.1 650.1L451.9 660.3M459.1 650.1L452.8 660.3M459.4 650.1L453.6 660.3M461.4 650.1L454.5 660.3M461.4 650.1L455.4 660.3M463.2 650.1L456.3 660.3M463.3 650.1L457.2 660.3M466.2 650.1L458.1 660.3M467.1 650.1L459 660.3M467.1 650.1L459.9 660.3M469 650.1L460.8 660.3M469.5 650.1L461.7 660.3M469.9 650.1L462.6 660.3M471.6 650.1L463.4 660.3M472.1 650.1L464.3 660.3M472.5 650.1L465.2 660.3M474.3 650.1L466.1 660.3M477.8 650.1L467 660.3M478 650.1L467.9 660.3M480.4 650.1L468.8 660.3M480.8 650.1L469.7 660.3M481.4 650.1L470.6 660.3M485.2 650.1L471.5 660.3M486.4 650.1L472.4 660.3M488.4 650.1L473.2 660.3M488.9 650.1L474.1 660.3M489 650.1L475 660.3M489.6 650.1L475.9 660.3M490 650.1L476.8 660.3M490.4 650.1L477.7 660.3M490.6 650.1L478.6 660.3M490.7 650.1L479.5 660.3M491.2 650.1L480.4 660.3M491.4 650.1L481.3 660.3M495.7 650.1L482.2 660.3M499.2 650.1L483 660.3M500.6 650.1L483.9 660.3M500.7 650.1L484.8 660.3M501 650.1L485.7 660.3M502.1 650.1L486.6 660.3M502.1 650.1L487.5 660.3M503.3 650.1L488.4 660.3M509.4 650.1L489.3 660.3M509.6 650.1L490.2 660.3M510.4 650.1L491.1 660.3M510.6 650.1L492 660.3M511.4 650.1L492.8 660.3M552 650.1L599.8 660.3M552.2 650.1L600.7 660.3M552.7 650.1L601.5 660.3M552.7 650.1L602.4 660.3M552.8 650.1L603.3 660.3M553.3 650.1L604.2 660.3M553.6 650.1L605.1 660.3M554.3 650.1L606 660.3M554.5 650.1L606.9 660.3M554.7 650.1L607.8 660.3M554.8 650.1L608.7 660.3M556.5 650.1L609.6 660.3M557.3 650.1L610.5 660.3M557.5 650.1L611.4 660.3M558.5 650.1L612.2 660.3M559.1 650.1L613.1 660.3M560 650.1L614 660.3M562.8 650.1L614.9 660.3M564.1 650.1L615.8 660.3M564.5 650.1L616.7 660.3M565.8 650.1L617.6 660.3M566.2 650.1L618.5 660.3M567.7 650.1L619.4 660.3M568.4 650.1L620.3 660.3M569.4 650.1L621.2 660.3M574.4 650.1L622 660.3M574.5 650.1L622.9 660.3M575.4 650.1L623.8 660.3M577.3 650.1L624.7 660.3M583 650.1L625.6 660.3M583.5 650.1L626.5 660.3M584.3 650.1L627.4 660.3M584.3 650.1L628.3 660.3M584.8 650.1L629.2 660.3M584.8 650.1L630.1 660.3M588.9 650.1L631 660.3M592.5 650.1L631.8 660.3M592.7 650.1L632.7 660.3M594.4 650.1L633.6 660.3M595.9 650.1L634.5 660.3M596.3 650.1L635.4 660.3M597.3 650.1L636.3 660.3M601.2 650.1L637.2 660.3M601.9 650.1L638.1 660.3M602.1 650.1L639 660.3M603 650.1L639.9 660.3M603.6 650.1L640.8 660.3M605.9 650.1L641.6 660.3M608.1 650.1L642.5 660.3M609.7 650.1L643.4 660.3M615.7 650.1L644.3 660.3M615.9 650.1L645.2 660.3M616.5 650.1L646.1 660.3M616.7 650.1L647 660.3M618 650.1L647.9 660.3M621.3 650.1L648.8 660.3M624.8 650.1L649.7 660.3M626.8 650.1L650.6 660.3M627.2 650.1L651.4 660.3M628.7 650.1L652.3 660.3M630.5 650.1L653.2 660.3M631.4 650.1L654.1 660.3M633.1 650.1L655 660.3M635.1 650.1L655.9 660.3M637.7 650.1L656.8 660.3M639.4 650.1L657.7 660.3M642.2 650.1L658.6 660.3M643 650.1L659.5 660.3M644.3 650.1L660.4 660.3"/><polygon points="513.61,650.1 551.85,650.1 598.88,660.3 493.74,660.3" fill="#2a948b" opacity="0.9"/><path stroke="#d8efec" stroke-width="0.35" fill="none" opacity="0.8" d="M513.6 650.1L493.7 660.3M514.3 650.1L496.4 660.3M515.6 650.1L499.1 660.3M515.8 650.1L501.8 660.3M516.5 650.1L504.4 660.3M517.5 650.1L507.1 660.3M518.7 650.1L509.8 660.3M518.9 650.1L512.4 660.3M520.2 650.1L515.1 660.3M520.5 650.1L517.8 660.3M522.2 650.1L520.5 660.3M522.7 650.1L523.1 660.3M524.2 650.1L525.8 660.3M525.1 650.1L528.5 660.3M525.4 650.1L531.2 660.3M528.5 650.1L533.8 660.3M528.8 650.1L536.5 660.3M531.3 650.1L539.2 660.3M531.5 650.1L541.9 660.3M533 650.1L544.5 660.3M533.3 650.1L547.2 660.3M534.1 650.1L549.9 660.3M534.4 650.1L552.5 660.3M536.7 650.1L555.2 660.3M537.2 650.1L557.9 660.3M539.7 650.1L560.6 660.3M540.3 650.1L563.2 660.3M541.1 650.1L565.9 660.3M542.2 650.1L568.6 660.3M543.2 650.1L571.3 660.3M543.8 650.1L573.9 660.3M544.3 650.1L576.6 660.3M545.2 650.1L579.3 660.3M546.1 650.1L581.9 660.3M546.8 650.1L584.6 660.3M547.8 650.1L587.3 660.3M548.1 650.1L590 660.3M548.4 650.1L592.6 660.3M549.8 650.1L595.3 660.3M551.5 650.1L598 660.3"/><line x1="388.6" y1="660.1" x2="660.36" y2="660.1" stroke="#777" stroke-width="0.8" stroke-dasharray="1 0.7"/><rect x="376" y="674" width="299.5" height="4.4" fill="#e9e9e9"/><line x1="376" y1="674" x2="675.5" y2="674" stroke="#999" stroke-width="0.6" stroke-dasharray="1.2 0.8"/><line x1="376" y1="678.4" x2="675.5" y2="678.4" stroke="#999" stroke-width="0.6" stroke-dasharray="1.2 0.8"/><path d="M388.6 675.2L389.5 674.7L390.4 674.6L391.3 674.6L392.2 674L393.1 673.4L393.9 673.5L394.8 674.2L395.7 674.4L396.6 673.6L397.5 673.7L398.4 675.4L399.3 676.3L400.2 676.3L401.1 676.6L402 676.8L402.9 676L403.7 675.3L404.6 674.9L405.5 674.7L406.4 674.9L407.3 674.8L408.2 674.4L409.1 674L410 673.7L410.9 673.7L411.8 673.9L412.7 673.8L413.5 673.7L414.4 674.3L415.3 675.4L416.2 675.8L417.1 675.8L418 676L418.9 676L419.8 675.5L420.7 675L421.6 674.9L422.5 674.9L423.3 675.8L424.2 677.2L425.1 677.7L426 677.3L426.9 677L427.8 676.9L428.7 676.4L429.6 675.6L430.5 675.6L431.4 676.1L432.3 676.1L433.2 676.1L434 676.3L434.9 676.7L435.8 677.1L436.7 677.2L437.6 677.3L438.5 677L439.4 676.6L440.3 676.5L441.2 676.7L442.1 676.9L443 676.8L443.8 676.6L444.7 676.9L445.6 677.2L446.5 677L447.4 676.6L448.3 676.6L449.2 676.5L450.1 676.4L451 676.4L451.9 676.5L452.8 676.5L453.6 676.5L454.5 677L455.4 677.7L456.3 678L457.2 678.1L458.1 678.4L459 678.1L459.9 676.6L460.8 676.7L461.7 678.4L462.6 678.9L463.4 678.6L464.3 678.7L465.2 678.3L466.1 676.9L467 676.4L467.9 676.7L468.8 677L469.7 677.3L470.6 677.6L471.5 677.5L472.4 677.2L473.2 676.8L474.1 676.5L475 676.5L475.9 676.5L476.8 676.6L477.7 676.5L478.6 675.9L479.5 675.6L480.4 675.6L481.3 675.3L482.2 675.1L483 675.6L483.9 675.9L484.8 676.1L485.7 676.4L486.6 676.6L487.5 676.7L488.4 676.9L489.3 676.8L490.2 676.5L491.1 676.6L492 676.9L492.8 676.2L493.7 674.6L494.6 674L495.5 674.2L496.4 674.2L497.3 673L498.2 670.5L499.1 669.3L500 669.2L500.9 669.2L501.8 669.3L502.6 669.4L503.5 669.3L504.4 669.4L505.3 669.4L506.2 669.3L507.1 669.3L508 669.3L508.9 669.3L509.8 669.3L510.7 669.2L511.6 669.2L512.4 669.3L513.3 669.3L514.2 669.3L515.1 669.3L516 669.4L516.9 669.4L517.8 669.4L518.7 669.4L519.6 669.4L520.5 669.3L521.4 669.3L522.2 669.3L523.1 669.4L524 670.2L524.9 671.7L525.8 672.3L526.7 672.2L527.6 672.2L528.5 672.4L529.4 672.5L530.3 672.5L531.2 672.5L532.1 672.4L532.9 672.3L533.8 672.3L534.7 672.3L535.6 672.4L536.5 672.5L537.4 672.5L538.3 672.4L539.2 672.1L540.1 671.6L541 671.4L541.9 672.1L542.7 673.5L543.6 674.3L544.5 674.2L545.4 674L546.3 674L547.2 674L548.1 674L549 674.1L549.9 674.2L550.8 674.2L551.7 673L552.5 670.5L553.4 669.3L554.3 669.3L555.2 669.3L556.1 669.5L557 670.1L557.9 670.9L558.8 671.3L559.7 671.3L560.6 671.1L561.5 671.1L562.3 671.1L563.2 671.2L564.1 671.1L565 671.1L565.9 671.3L566.8 671.5L567.7 671.3L568.6 671.3L569.5 671.3L570.4 671.3L571.3 671.4L572.1 671.4L573 671.4L573.9 671.4L574.8 671.3L575.7 671.2L576.6 671.3L577.5 671.5L578.4 671.7L579.3 671.8L580.2 671.8L581.1 671.8L581.9 671.8L582.8 671.7L583.7 671.7L584.6 671.6L585.5 671.4L586.4 671L587.3 670.9L588.2 671L589.1 671.1L590 671L590.9 670.9L591.7 670.9L592.6 670.9L593.5 670.9L594.4 671.2L595.3 671.6L596.2 671.6L597.1 671.4L598 671.4L598.9 672.5L599.8 674.6L600.7 675.7L601.5 675.9L602.4 676.1L603.3 676.1L604.2 675.9L605.1 675.4L606 674.6L606.9 674.3L607.8 675L608.7 675.5L609.6 675.2L610.5 675.2L611.4 675.9L612.2 675.9L613.1 675.9L614 676.1L614.9 676.1L615.8 675.4L616.7 674.3L617.6 674.1L618.5 674.3L619.4 675.2L620.3 677.6L621.2 678.8L622 677.8L622.9 676L623.8 675L624.7 675.1L625.6 675.1L626.5 675.2L627.4 675.9L628.3 677L629.2 676.9L630.1 675.1L631 673.8L631.8 673.9L632.7 674.3L633.6 674.4L634.5 674.1L635.4 674L636.3 673.8L637.2 673.7L638.1 673.9L639 674.2L639.9 674.2L640.8 675.2L641.6 677.1L642.5 677.8L643.4 677.9L644.3 677.2L645.2 675.3L646.1 674.1L647 673.9L647.9 674L648.8 674.3L649.7 674.2L650.6 674.1L651.4 673.9L652.3 673.9L653.2 674L654.1 674L655 674.1L655.9 673.7L656.8 673.2L657.7 673.4L658.6 674.6L659.5 675.4L660.4 675.5" fill="none" stroke="#f27565" stroke-width="0.8" stroke-linejoin="round" stroke-linecap="round"/><path d="M388.6 673.5L389.5 673.9L390.4 673.9L391.3 673.9L392.2 674.1L393.1 675L393.9 676.2L394.8 676L395.7 674.6L396.6 674L397.5 674.1L398.4 674.3L399.3 674.4L400.2 674.2L401.1 674L402 674.1L402.9 674.1L403.7 674.3L404.6 674.7L405.5 675.6L406.4 677L407.3 676.7L408.2 675.4L409.1 674.7L410 674.6L410.9 674.8L411.8 675.4L412.7 675.6L413.5 674.7L414.4 674.3L415.3 674.5L416.2 674.6L417.1 675.3L418 675.9L418.9 676L419.8 675.8L420.7 675.4L421.6 675.1L422.5 674.9L423.3 675.9L424.2 678L425.1 679L426 679L426.9 679L427.8 679L428.7 679L429.6 679L430.5 679L431.4 679.1L432.3 679.1L433.2 679.1L434 679.4L434.9 679.7L435.8 679.7L436.7 679.6L437.6 679.6L438.5 679.7L439.4 679.7L440.3 679.6L441.2 679.5L442.1 679.5L443 679.5L443.8 679.5L444.7 679.4L445.6 679.5L446.5 679.6L447.4 679.7L448.3 680.3L449.2 681.7L450.1 682.4L451 682.4L451.9 682.4L452.8 682.4L453.6 682.3L454.5 682.3L455.4 682.3L456.3 682.3L457.2 682.4L458.1 681.5L459 679.6L459.9 678.7L460.8 678.8L461.7 678.9L462.6 679.1L463.4 679.2L464.3 679.3L465.2 679.4L466.1 679.9L467 680.8L467.9 681.4L468.8 680.6L469.7 679.1L470.6 678.4L471.5 690.4L472.4 690.4L473.2 690.4L474.1 690.4L475 690.4L475.9 690.4L476.8 690.4L477.7 690.4L478.6 678.2L479.5 677.9L480.4 677.1L481.3 676.6L482.2 676.5L483 676.5L483.9 676.5L484.8 676.7L485.7 677.2L486.6 677.4L487.5 677.5L488.4 677.6L489.3 677.6L490.2 677.4L491.1 676.8L492 675.7L492.8 676.4L493.7 678.7L494.6 679.8L495.5 679.1L496.4 678.2L497.3 678.7L498.2 679.5L499.1 679.5L500 679.5L500.9 679.4L501.8 679.8L502.6 679.4L503.5 677.4L504.4 677.3L505.3 679.8L506.2 681L507.1 681L508 681.1L508.9 681.1L509.8 681.1L510.7 681L511.6 681L512.4 681L513.3 681L514.2 681L515.1 681L516 680L516.9 678L517.8 677L518.7 678L519.6 679.8L520.5 680.5L521.4 680.6L522.2 680.6L523.1 680.6L524 680.6L524.9 680.6L525.8 680.6L526.7 680.2L527.6 679.3L528.5 678.7L529.4 678.7L530.3 678.9L531.2 678.9L532.1 678.8L532.9 678.8L533.8 678.7L534.7 678.6L535.6 678.7L536.5 678.7L537.4 678.6L538.3 678.6L539.2 678.7L540.1 678.7L541 678.6L541.9 678.6L542.7 678.8L543.6 678.8L544.5 678.7L545.4 678.8L546.3 678.8L547.2 678.8L548.1 678.8L549 678.8L549.9 678.8L550.8 678.8L551.7 678.8L552.5 678.9L553.4 678.8L554.3 678.7L555.2 678.7L556.1 678.9L557 679.2L557.9 679.9L558.8 680.9L559.7 681.4L560.6 681.4L561.5 681.4L562.3 681.4L563.2 681.4L564.1 681.4L565 681.4L565.9 681.4L566.8 681.4L567.7 681.6L568.6 681.8L569.5 681.8L570.4 681.9L571.3 681.5L572.1 680.7L573 680.4L573.9 680.4L574.8 680.3L575.7 680.3L576.6 680.3L577.5 680.4L578.4 680.5L579.3 680.5L580.2 680.3L581.1 680.3L581.9 680.4L582.8 680.5L583.7 680.4L584.6 680.4L585.5 680.4L586.4 680.4L587.3 680.4L588.2 680.3L589.1 680.3L590 680.4L590.9 680.4L591.7 680.1L592.6 679.6L593.5 679.4L594.4 679.3L595.3 679.3L596.2 679.3L597.1 679.3L598 680.3L598.9 680L599.8 676.8L600.7 674.7L601.5 674.8L602.4 675.2L603.3 675.9L604.2 676.4L605.1 676.3L606 676.4L606.9 676.1L607.8 674.6L608.7 674.4L609.6 675.3L610.5 675.2L611.4 674.3L612.2 673.3L613.1 674.2L614 677L614.9 677L615.8 674.4L616.7 673.1L617.6 673.2L618.5 672.9L619.4 672.6L620.3 672.6L621.2 672.4L622 672.6L622.9 673L623.8 673.1L624.7 673.7L625.6 674.2L626.5 674.7L627.4 675.5L628.3 676.1L629.2 676.2L630.1 676.2L631 676.4L631.8 676.8L632.7 676.4L633.6 675.4L634.5 674.8L635.4 674.7L636.3 674.9L637.2 675.2L638.1 675L639 674.7L639.9 674.6L640.8 674.5L641.6 675.1L642.5 676L643.4 675.8L644.3 674.2L645.2 671.9L646.1 670.3L647 671.7L647.9 674.7L648.8 675.9L649.7 676L650.6 675.7L651.4 675.9L652.3 677.4L653.2 678.4L654.1 678.3L655 677.3L655.9 675.2L656.8 673.6L657.7 673L658.6 673L659.5 673.2L660.4 673.3" fill="none" stroke="#1d4b46" stroke-width="0.8" stroke-linejoin="round" stroke-linecap="round"/><line x1="675.5" y1="665.7" x2="677" y2="665.7" stroke="#555" stroke-width="0.5"/><text x="677.7" y="667.2" font-size="4.2" fill="#333">20</text><line x1="675.5" y1="676.2" x2="677" y2="676.2" stroke="#555" stroke-width="0.5"/><text x="677.7" y="677.7" font-size="4.2" fill="#333">0</text><line x1="675.5" y1="686.7" x2="677" y2="686.7" stroke="#555" stroke-width="0.5"/><text x="677.7" y="688.2" font-size="4.2" fill="#333">−20</text><rect x="617" y="680.4" width="54.6" height="15.5" fill="#fff" fill-opacity="0.85" stroke="#ddd" stroke-width="0.4"/><text x="645" y="684" font-size="3.8" fill="#333" text-anchor="middle">sample</text><line x1="618.9" y1="688.2" x2="625" y2="688.2" stroke="#f27565" stroke-width="0.9"/><text x="627.8" y="689.6" font-size="3.8" fill="#333" textLength="43.2" lengthAdjust="spacingAndGlyphs">Non_target_maternal.CpG</text><line x1="618.9" y1="692.8" x2="625" y2="692.8" stroke="#1d4b46" stroke-width="0.9"/><text x="627.8" y="694.2" font-size="3.8" fill="#333" textLength="43.2" lengthAdjust="spacingAndGlyphs">Non_target_paternal.CpG</text><g transform="translate(373.6,686) rotate(-90)"><text x="0" y="0" font-size="4.2" fill="#333" textLength="13" lengthAdjust="spacingAndGlyphs">residual</text></g><line x1="374.2" y1="697.8" x2="376" y2="697.8" stroke="#555" stroke-width="0.5"/><text x="373.5" y="699.3" font-size="4.3" fill="#333" text-anchor="end">1.00</text><line x1="374.2" y1="707.27" x2="376" y2="707.27" stroke="#555" stroke-width="0.5"/><text x="373.5" y="708.77" font-size="4.3" fill="#333" text-anchor="end">0.75</text><line x1="374.2" y1="716.75" x2="376" y2="716.75" stroke="#555" stroke-width="0.5"/><text x="373.5" y="718.25" font-size="4.3" fill="#333" text-anchor="end">0.50</text><line x1="374.2" y1="726.23" x2="376" y2="726.23" stroke="#555" stroke-width="0.5"/><text x="373.5" y="727.73" font-size="4.3" fill="#333" text-anchor="end">0.25</text><line x1="374.2" y1="735.7" x2="376" y2="735.7" stroke="#555" stroke-width="0.5"/><text x="373.5" y="737.2" font-size="4.3" fill="#333" text-anchor="end">0.00</text><line x1="388.6" y1="737.5" x2="388.6" y2="739.3" stroke="#555" stroke-width="0.5"/><text x="388.6" y="743.9" font-size="4.5" fill="#333" text-anchor="middle">0</text><line x1="433.15" y1="737.5" x2="433.15" y2="739.3" stroke="#555" stroke-width="0.5"/><text x="433.15" y="743.9" font-size="4.5" fill="#333" text-anchor="middle">50</text><line x1="477.7" y1="737.5" x2="477.7" y2="739.3" stroke="#555" stroke-width="0.5"/><text x="477.7" y="743.9" font-size="4.5" fill="#333" text-anchor="middle">100</text><line x1="522.25" y1="737.5" x2="522.25" y2="739.3" stroke="#555" stroke-width="0.5"/><text x="522.25" y="743.9" font-size="4.5" fill="#333" text-anchor="middle">150</text><line x1="566.8" y1="737.5" x2="566.8" y2="739.3" stroke="#555" stroke-width="0.5"/><text x="566.8" y="743.9" font-size="4.5" fill="#333" text-anchor="middle">200</text><line x1="611.35" y1="737.5" x2="611.35" y2="739.3" stroke="#555" stroke-width="0.5"/><text x="611.35" y="743.9" font-size="4.5" fill="#333" text-anchor="middle">250</text><line x1="655.9" y1="737.5" x2="655.9" y2="739.3" stroke="#555" stroke-width="0.5"/><text x="655.9" y="743.9" font-size="4.5" fill="#333" text-anchor="middle">300</text><path d="M390.4 705.8L391.2 705.4L392 705.1L392.8 704.7L393.6 704.3L394.3 703.9L395.1 703.6L395.9 703.3L396.7 703.2L397.5 703.1L398.3 703.1L399 703.1L399.8 703.1L400.6 703.1L401.3 703.1L402.1 703.1L402.9 703.1L403.6 703.1L404.4 703.3L405.1 703.4L405.9 703.6L406.7 703.7L407.4 703.8L408.2 703.9L409 703.8L409.7 703.7L410.5 703.6L411.3 703.4L412 703.3L412.8 703.1L413.5 703.1L414.3 703.3L415.1 703.8L415.8 704.6L416.6 705.6L417.4 706.7L418.1 707.9L418.9 709.2L419.7 710.7L420.4 712.7L421.2 715L421.9 717.5L422.7 720L423.5 722.3L424.2 724.3L425 726.2L425.7 728.1L426.5 730L427.2 731.6L428 732.8L428.7 733.4L429.5 733.8L430.3 734L431 734.3L431.8 734.5L432.6 734.7L433.4 734.8L434.2 734.9L434.9 734.9L435.7 734.9L436.4 734.9L437.2 734.9L438 734.9L438.7 734.9L439.5 734.9L440.2 734.9L441 734.9L441.7 734.9L442.5 734.9L443.2 734.9L444 734.9L444.8 734.9L445.5 734.9L446.3 734.9L447 734.9L447.8 734.9L448.5 734.9L449.3 734.9L450.1 734.9L450.8 734.9L451.6 734.9L452.3 734.9L453.1 734.9L453.8 734.9L454.6 734.9L455.3 734.9L456.1 734.9L456.9 734.9L457.6 734.9L458.4 734.9L459.1 734.9L459.9 734.9L460.6 734.9L461.4 734.9L462.2 734.9L462.9 734.9L463.7 734.9L464.4 734.9L465.2 734.9L465.9 734.9L466.7 734.9L467.5 734.9L468.2 734.9L469 734.9L469.7 734.9L470.5 734.9L471.2 734.9L472 734.9L472.8 734.9L473.5 734.9L474.3 734.9L475 734.9L475.8 734.9L476.5 734.9L477.3 734.9L478.1 734.9L478.8 734.9L479.6 734.9L480.3 734.9L481.1 734.9L481.8 734.9L482.6 734.9L483.4 734.9L484.1 734.9L484.9 734.9L485.6 734.9L486.4 734.9L487.1 734.9L487.9 734.9L488.7 734.9L489.4 734.9L490.2 734.9L490.9 734.8L491.7 734.4L492.5 733.8L493.2 733L494 732.1L494.8 731.1L495.5 730L496.3 728.5L497 726.3L497.8 723.6L498.6 720.7L499.3 717.8L500.1 715.1L500.9 713L501.6 711.1L502.4 709.1L503.2 707.3L503.9 705.6L504.7 704.1L505.4 703L506.2 702.3L507 701.9L507.8 701.6L508.6 701.2L509.4 700.9L510.2 700.7L511 700.5L511.8 700.3L512.5 700.2L513.3 700.1L514.1 700L514.8 700L515.6 699.9L516.3 699.9L517.1 699.8L517.8 699.8L518.5 699.7L519.3 699.7L520 699.6L520.8 699.6L521.5 699.5L522.2 699.5L523 699.4L523.7 699.4L524.5 699.4L525.2 699.3L526 699.3L526.7 699.3L527.4 699.2L528.2 699.2L528.9 699.2L529.7 699.1L530.4 699.1L531.2 699.1L531.9 699.1L532.6 699L533.4 699L534.1 699L534.9 699L535.6 699L536.4 699L537.1 699L537.8 698.9L538.6 698.9L539.3 698.9L540.1 698.9L540.8 698.9L541.6 698.9L542.3 698.9L543 698.9L543.8 698.9L544.5 699L545.3 699L546 699L546.8 699L547.5 699L548.2 699L549 699L549.7 699L550.5 699L551.2 699L552 699L552.7 699L553.4 699L554.2 699.1L554.9 699.1L555.7 699.1L556.4 699.1L557.1 699.1L557.9 699.1L558.6 699.1L559.4 699.2L560.1 699.2L560.9 699.2L561.6 699.2L562.3 699.2L563.1 699.2L563.8 699.2L564.6 699.3L565.3 699.3L566.1 699.3L566.8 699.3L567.6 699.3L568.3 699.4L569.1 699.4L569.8 699.4L570.6 699.5L571.3 699.5L572.1 699.6L572.8 699.6L573.6 699.7L574.4 699.7L575.1 699.8L575.9 699.9L576.6 699.9L577.4 700L578.1 700.1L578.9 700.2L579.7 700.2L580.4 700.3L581.2 700.4L581.9 700.4L582.7 700.5L583.4 700.6L584.2 700.7L584.9 700.7L585.7 700.8L586.5 700.9L587.2 700.9L588 701L588.7 701L589.5 701.1L590.2 701.1L591 701.2L591.7 701.2L592.5 701.2L593.3 701.3L594 701.3L594.8 701.4L595.6 701.4L596.3 701.4L597.1 701.5L597.9 701.5L598.6 701.5L599.4 701.5L600.1 701.6L600.9 701.6L601.7 701.6L602.4 701.6L603.2 701.6L603.9 701.6L604.7 701.5L605.4 701.5L606.2 701.4L606.9 701.4L607.6 701.3L608.4 701.2L609.1 701.1L609.9 701.1L610.6 701L611.4 700.9L612.1 700.8L612.8 700.7L613.6 700.6L614.3 700.6L615.1 700.5L615.8 700.5L616.5 700.4L617.3 700.3L618 700.3L618.8 700.2L619.5 700.2L620.3 700.1L621 700.1L621.7 700L622.5 700L623.2 699.9L624 699.9L624.7 699.8L625.5 699.8L626.2 699.8L626.9 699.7L627.7 699.7L628.4 699.7L629.2 699.7L629.9 699.7L630.7 699.8L631.4 700L632.1 700.2L632.9 700.4L633.6 700.6L634.4 700.9L635.1 701.1L635.9 701.3L636.6 701.4L637.3 701.6L638.1 701.6L638.8 701.5L639.6 701.4L640.3 701.2L641 701L641.8 700.7L642.5 700.4L643.3 700.1L644 699.8L644.8 699.5L645.5 699.3L646.2 699.1L647 698.9L647.7 698.8L648.5 698.8L649.2 698.7L650 698.6L650.7 698.5L651.4 698.5L652.2 698.4L652.9 698.3L653.7 698.3L654.4 698.2L655.2 698.2L655.9 698.1L656.6 698.1L657.4 698L658.1 698L658.9 697.9L659.6 697.9L660.4 697.8" fill="none" stroke="#f27565" stroke-width="2.3" stroke-linejoin="round" stroke-linecap="round"/><path d="M390.4 706.9L391.2 706.6L392 706.4L392.8 706.2L393.6 705.9L394.3 705.7L395.1 705.4L395.9 705.2L396.7 704.9L397.5 704.6L398.3 704.3L399.1 703.8L399.9 703.3L400.7 702.8L401.5 702.3L402.3 701.9L403.1 701.5L403.8 701.3L404.6 701.2L405.4 701.2L406.2 701.2L406.9 701.3L407.7 701.3L408.5 701.4L409.2 701.5L410 701.6L410.7 701.7L411.5 701.9L412.3 702.2L413 702.5L413.8 702.9L414.6 703.4L415.3 703.9L416.1 704.5L416.9 705.4L417.6 706.5L418.4 707.8L419.1 709.2L419.9 710.7L420.7 712.2L421.4 714.1L422.2 716.5L423 719.1L423.7 721.8L424.5 724.4L425.3 726.6L426 728.1L426.8 729.3L427.5 730.4L428.3 731.4L429.1 732.2L429.8 732.9L430.6 733.5L431.4 733.8L432.1 734L432.9 734.3L433.7 734.4L434.5 734.6L435.3 734.8L436 734.9L436.8 734.9L437.6 734.9L438.3 734.9L439.1 734.9L439.8 734.9L440.6 734.9L441.3 734.9L442.1 734.9L442.8 734.9L443.5 734.9L444.3 734.9L445 734.9L445.8 734.9L446.5 734.9L447.3 734.9L448 734.9L448.7 734.9L449.5 734.9L450.2 734.9L451 734.9L451.7 734.9L452.5 734.9L453.2 734.9L453.9 734.9L454.7 734.9L455.4 734.9L456.2 734.9L456.9 734.9L457.7 734.9L458.4 734.9L459.1 734.9L459.9 734.9L460.6 734.9L461.4 734.9L462.1 734.9L462.9 734.9L463.6 734.9L464.3 734.9L465.1 734.9L465.8 734.9L466.6 734.9L467.3 734.9L468 734.9L468.8 734.9L469.5 734.9L470.3 734.9L471 734.9L471.8 734.9L472.5 734.9L473.2 734.9L474 734.9L474.7 734.9L475.5 734.9L476.2 734.9L477 734.9L477.7 734.9L478.4 734.9L479.2 734.9L479.9 734.9L480.7 734.9L481.4 734.9L482.2 734.9L482.9 734.9L483.6 734.9L484.4 734.9L485.1 734.9L485.9 734.9L486.6 734.9L487.4 734.9L488.1 734.9L488.8 734.9L489.6 734.9L490.3 734.9L491.1 734.9L491.8 734.9L492.6 734.9L493.3 734.9L494 734.9L494.8 734.9L495.5 734.9L496.3 734.9L497 734.9L497.7 734.9L498.5 734.9L499.2 734.9L500 734.9L500.7 734.9L501.5 734.9L502.2 734.9L502.9 734.9L503.7 734.9L504.4 734.9L505.2 734.9L505.9 734.9L506.7 734.9L507.4 734.9L508.1 734.9L508.9 734.9L509.6 734.9L510.4 734.9L511.1 734.9L511.9 734.9L512.6 734.9L513.3 734.9L514.1 734.9L514.8 734.9L515.6 734.9L516.3 734.9L517.1 734.9L517.8 734.9L518.5 734.9L519.3 734.9L520 734.9L520.8 734.9L521.5 734.9L522.2 734.9L523 734.9L523.7 734.9L524.5 734.9L525.2 734.9L526 734.9L526.7 734.9L527.4 734.9L528.2 734.9L528.9 734.9L529.7 734.9L530.4 734.9L531.2 734.9L531.9 734.9L532.6 734.9L533.4 734.9L534.1 734.9L534.9 734.9L535.6 734.9L536.4 734.9L537.1 734.9L537.8 734.9L538.6 734.9L539.3 734.9L540.1 734.9L540.8 734.9L541.6 734.9L542.3 734.9L543 734.9L543.8 734.9L544.5 734.9L545.3 734.9L546 734.9L546.8 734.9L547.5 734.9L548.2 734.9L549 734.9L549.7 734.9L550.5 734.9L551.2 734.9L552 734.9L552.7 734.9L553.5 734.9L554.3 734.9L555 734.9L555.8 734.9L556.5 734.9L557.3 734.9L558 734.9L558.8 734.9L559.5 734.9L560.3 734.9L561 734.9L561.8 734.9L562.6 734.9L563.3 734.9L564.1 734.9L564.8 734.9L565.6 734.9L566.3 734.9L567.1 734.9L567.8 734.9L568.6 734.9L569.3 734.9L570.1 734.9L570.8 734.9L571.6 734.9L572.4 734.9L573.1 734.9L573.9 734.9L574.6 734.9L575.4 734.9L576.1 734.9L576.9 734.9L577.6 734.9L578.4 734.9L579.1 734.9L579.9 734.9L580.6 734.9L581.4 734.9L582.2 734.9L582.9 734.9L583.7 734.9L584.4 734.9L585.2 734.9L585.9 734.9L586.7 734.9L587.4 734.9L588.2 734.9L588.9 734.8L589.7 734.5L590.5 734.1L591.2 733.5L592 732.8L592.8 732L593.5 731.2L594.3 729.8L595.1 727.8L595.8 725.2L596.6 722.4L597.3 719.6L598.1 717L598.9 714.9L599.6 713L600.4 711.2L601.2 709.4L601.9 707.7L602.7 706.3L603.5 705.3L604.2 704.6L605 704.2L605.8 703.9L606.6 703.6L607.4 703.4L608.2 703.1L609 702.9L609.8 702.8L610.6 702.6L611.4 702.3L612.1 702.1L612.9 701.9L613.6 701.7L614.4 701.5L615.2 701.3L615.9 701L616.7 700.8L617.5 700.6L618.2 700.4L619 700.3L619.8 700.1L620.5 699.9L621.3 699.8L622 699.7L622.8 699.6L623.6 699.5L624.4 699.4L625.1 699.3L625.9 699.2L626.7 699.1L627.4 699L628.2 699L629 698.9L629.8 698.8L630.5 698.8L631.3 698.7L632.1 698.7L632.9 698.6L633.6 698.6L634.4 698.5L635.1 698.5L635.9 698.4L636.6 698.4L637.3 698.3L638.1 698.3L638.8 698.3L639.6 698.2L640.3 698.2L641 698.2L641.8 698.2L642.5 698.2L643.3 698.2L644 698.3L644.8 698.4L645.6 698.5L646.3 698.7L647.1 698.8L647.8 699L648.6 699.2L649.3 699.4L650.1 699.5L650.8 699.6L651.6 699.7L652.3 699.7L653.1 699.7L653.9 699.6L654.7 699.4L655.5 699.2L656.3 699L657.1 698.7L657.9 698.5L658.8 698.2L659.6 698L660.4 697.8" fill="none" stroke="#1d4b46" stroke-width="2.4" stroke-linejoin="round" stroke-linecap="round"/><line x1="376" y1="782" x2="675.5" y2="782" stroke="#8a8a8a" stroke-width="1"/><path stroke="#333" stroke-width="0.6" d="M382 782v1.8M401 782v1.8M426.7 782v1.8M452.2 782v1.8M477.2 782v1.8M502.9 782v1.8M528.4 782v1.8M553.2 782v1.8M579.1 782v1.8M604 782v1.8M629.1 782v1.8M656.1 782v1.8"/><text x="382" y="780.8" font-size="4.4" fill="#222" text-anchor="middle">chr11</text><text x="401" y="780.8" font-size="4.4" fill="#222" text-anchor="middle">2693328</text><text x="426.7" y="780.8" font-size="4.4" fill="#222" text-anchor="middle">2694768</text><text x="452.2" y="780.8" font-size="4.4" fill="#222" text-anchor="middle">2696208</text><text x="477.2" y="780.8" font-size="4.4" fill="#222" text-anchor="middle">2697648</text><text x="502.9" y="780.8" font-size="4.4" fill="#222" text-anchor="middle">2699088</text><text x="528.4" y="780.8" font-size="4.4" fill="#222" text-anchor="middle">2700528</text><text x="553.2" y="780.8" font-size="4.4" fill="#222" text-anchor="middle">2701968</text><text x="579.1" y="780.8" font-size="4.4" fill="#222" text-anchor="middle">2703408</text><text x="604" y="780.8" font-size="4.4" fill="#222" text-anchor="middle">2704848</text><text x="629.1" y="780.8" font-size="4.4" fill="#222" text-anchor="middle">2706288</text><text x="656.1" y="780.8" font-size="4.4" fill="#222" text-anchor="middle">2707728</text><rect x="496.3" y="784.2" width="40.7" height="10" fill="#c5e1e0"/><rect x="376" y="788.1" width="142.9" height="3.2" fill="#2a948b"/><rect x="399.9" y="794.4" width="170.9" height="29.2" fill="#224e4a"/><rect x="399.9" y="823.6" width="170.9" height="28.1" fill="#fa7d6f"/><path fill="#000" fill-opacity="0.1" d="M403.9 794.4h.5v29.2h-.5zM451.4 794.4h1v29.2h-1zM468.4 794.4h1.5v29.2h-1.5zM512.4 794.4h1v29.2h-1zM540.9 794.4h1v29.2h-1z"/><path fill="#000" fill-opacity="0.2" d="M473.9 794.4h1v29.2h-1zM477.4 794.4h1.5v29.2h-1.5zM559.4 794.4h1.5v29.2h-1.5z"/><path fill="#000" fill-opacity="0.3" d="M402.9 794.4h1v29.2h-1z"/><path fill="#000" fill-opacity="0.4" d="M401.9 794.4h1v29.2h-1zM410.4 794.4h1v29.2h-1zM414.4 794.4h.5v29.2h-.5zM495.4 794.4h.5v29.2h-.5zM497.9 794.4h.5v29.2h-.5zM501.9 794.4h1.5v29.2h-1.5zM508.4 794.4h1.5v29.2h-1.5zM521.9 794.4h.5v29.2h-.5zM537.9 794.4h1v29.2h-1z"/><path fill="#000" fill-opacity="0.5" d="M493.9 794.4h1v29.2h-1zM495.9 794.4h2v29.2h-2zM504.4 794.4h1.5v29.2h-1.5zM507.4 794.4h1v29.2h-1zM509.9 794.4h2.5v29.2h-2.5zM517.4 794.4h.5v29.2h-.5zM519.9 794.4h2v29.2h-2zM523.9 794.4h1v29.2h-1zM532.9 794.4h2.5v29.2h-2.5zM536.9 794.4h1v29.2h-1zM543.4 794.4h1v29.2h-1z"/><path fill="#000" fill-opacity="0.6" d="M420.4 794.4h2v29.2h-2zM452.4 794.4h1.5v29.2h-1.5zM538.9 794.4h.5v29.2h-.5zM540.4 794.4h.5v29.2h-.5zM544.4 794.4h1.5v29.2h-1.5z"/><path fill="#000" fill-opacity="0.7" d="M415.4 794.4h2.5v29.2h-2.5zM429.9 794.4h2v29.2h-2zM437.4 794.4h1v29.2h-1zM439.9 794.4h1.5v29.2h-1.5zM548.4 794.4h1v29.2h-1z"/><path fill="#000" fill-opacity="0.8" d="M434.4 794.4h2.5v29.2h-2.5zM443.4 794.4h3v29.2h-3zM448.9 794.4h2v29.2h-2zM454.9 794.4h2v29.2h-2zM457.9 794.4h2v29.2h-2zM461.4 794.4h1.5v29.2h-1.5zM484.4 794.4h.5v29.2h-.5zM553.9 794.4h2v29.2h-2z"/><path fill="#000" fill-opacity="0.9" d="M462.9 794.4h1.5v29.2h-1.5zM465.9 794.4h1.5v29.2h-1.5zM470.4 794.4h2v29.2h-2zM472.9 794.4h.5v29.2h-.5zM474.9 794.4h2v29.2h-2zM479.9 794.4h3v29.2h-3zM484.9 794.4h3v29.2h-3zM490.4 794.4h3.5v29.2h-3.5zM545.9 794.4h2.5v29.2h-2.5zM551.4 794.4h2.5v29.2h-2.5zM556.9 794.4h2.5v29.2h-2.5zM562.4 794.4h2.5v29.2h-2.5zM566.9 794.4h4v29.2h-4z"/><path fill="#000" fill-opacity="1.0" d="M423.9 794.4h4.5v29.2h-4.5zM442.9 794.4h.5v29.2h-.5zM459.9 794.4h1v29.2h-1zM550.9 794.4h.5v29.2h-.5z"/><path fill="#000" fill-opacity="0.1" d="M403.9 823.6h.5v28.1h-.5zM451.4 823.6h1v28.1h-1zM468.4 823.6h1.5v28.1h-1.5z"/><path fill="#000" fill-opacity="0.2" d="M473.9 823.6h1v28.1h-1zM477.4 823.6h1.5v28.1h-1.5zM559.4 823.6h1.5v28.1h-1.5z"/><path fill="#000" fill-opacity="0.3" d="M402.9 823.6h1v28.1h-1z"/><path fill="#000" fill-opacity="0.4" d="M399.9 823.6h1v28.1h-1zM401.9 823.6h1v28.1h-1zM410.4 823.6h2.5v28.1h-2.5zM414.4 823.6h.5v28.1h-.5z"/><path fill="#000" fill-opacity="0.6" d="M420.4 823.6h2v28.1h-2zM452.4 823.6h1.5v28.1h-1.5z"/><path fill="#000" fill-opacity="0.7" d="M415.4 823.6h2.5v28.1h-2.5zM429.9 823.6h2v28.1h-2zM437.4 823.6h1v28.1h-1zM439.9 823.6h1.5v28.1h-1.5zM548.4 823.6h1v28.1h-1z"/><path fill="#000" fill-opacity="0.8" d="M434.4 823.6h2.5v28.1h-2.5zM443.4 823.6h3v28.1h-3zM448.9 823.6h2v28.1h-2zM454.9 823.6h2v28.1h-2zM457.9 823.6h2v28.1h-2zM461.4 823.6h1.5v28.1h-1.5zM484.4 823.6h.5v28.1h-.5zM553.9 823.6h2v28.1h-2z"/><path fill="#000" fill-opacity="0.9" d="M462.9 823.6h1.5v28.1h-1.5zM465.9 823.6h1.5v28.1h-1.5zM470.4 823.6h2v28.1h-2zM472.9 823.6h.5v28.1h-.5zM474.9 823.6h2v28.1h-2zM479.9 823.6h3v28.1h-3zM484.9 823.6h3v28.1h-3zM490.4 823.6h3.5v28.1h-3.5zM495.4 823.6h.5v28.1h-.5zM501.9 823.6h1.5v28.1h-1.5zM517.9 823.6h2v28.1h-2zM521.9 823.6h.5v28.1h-.5zM531.4 823.6h1.5v28.1h-1.5zM537.9 823.6h1v28.1h-1zM545.9 823.6h2.5v28.1h-2.5zM551.4 823.6h2.5v28.1h-2.5zM556.9 823.6h2.5v28.1h-2.5zM562.4 823.6h2.5v28.1h-2.5zM566.9 823.6h4v28.1h-4z"/><path fill="#000" fill-opacity="1.0" d="M423.9 823.6h4.5v28.1h-4.5zM442.9 823.6h.5v28.1h-.5zM459.9 823.6h1v28.1h-1zM493.9 823.6h1.5v28.1h-1.5zM495.9 823.6h6v28.1h-6zM503.4 823.6h14.5v28.1h-14.5zM519.9 823.6h2v28.1h-2zM523.9 823.6h7.5v28.1h-7.5zM532.9 823.6h5v28.1h-5zM538.9 823.6h7v28.1h-7zM550.9 823.6h.5v28.1h-.5z"/><rect x="570.8" y="795.75" width="91.5" height="0.9" fill="#6f9994" opacity="0.7"/><rect x="570.8" y="797.75" width="91.5" height="0.9" fill="#6f9994" opacity="0.7"/><rect x="570.8" y="800.55" width="91.5" height="0.9" fill="#6f9994" opacity="0.6"/><rect x="570.8" y="802.75" width="91.5" height="0.9" fill="#6f9994" opacity="0.6"/><rect x="570.8" y="804.95" width="91.5" height="0.9" fill="#6f9994" opacity="0.6"/><rect x="570.8" y="808.15" width="91.5" height="0.9" fill="#6f9994" opacity="0.6"/><rect x="570.8" y="824.15" width="91.5" height="0.9" fill="#f4978b" opacity="0.8"/><rect x="570.8" y="826.15" width="91.5" height="0.9" fill="#f4978b" opacity="0.8"/><rect x="570.8" y="830.55" width="91.5" height="0.9" fill="#f4978b" opacity="0.5"/><rect x="570.8" y="834.95" width="91.5" height="0.9" fill="#f4978b" opacity="0.5"/><rect x="570.8" y="837.75" width="91.5" height="0.9" fill="#f4978b" opacity="0.4"/><rect x="570.8" y="840.75" width="91.5" height="0.9" fill="#f4978b" opacity="0.5"/><rect x="570.8" y="844.55" width="91.5" height="0.9" fill="#f4978b" opacity="0.5"/><rect x="570.8" y="847.75" width="91.5" height="0.9" fill="#f4978b" opacity="0.4"/><path fill="#000" d="M571.2 795.4h1.1v1.6h-1.1zM572.8 795.4h1.4v1.6h-1.4zM574.1 795.4h1.1v1.6h-1.1zM576.1 795.4h1.4v1.6h-1.4zM580.1 795.4h1.4v1.6h-1.4zM583.3 795.4h.8v1.6h-.8zM584.6 795.4h1.4v1.6h-1.4zM586.6 795.4h1.4v1.6h-1.4zM595.4 795.4h1.1v1.6h-1.1zM596.7 795.4h.8v1.6h-.8zM598.3 795.4h1.1v1.6h-1.1zM599.9 795.4h.8v1.6h-.8zM604.1 795.4h1.4v1.6h-1.4zM606.7 795.4h.8v1.6h-.8zM608 795.4h.8v1.6h-.8zM610 795.4h1.1v1.6h-1.1zM613.6 795.4h.8v1.6h-.8zM622.2 795.4h1.4v1.6h-1.4zM626.2 795.4h1.4v1.6h-1.4zM627.5 795.4h1.4v1.6h-1.4zM630.4 795.4h1.4v1.6h-1.4zM633.7 795.4h1.4v1.6h-1.4zM635.7 795.4h1.1v1.6h-1.1zM639 795.4h.8v1.6h-.8zM640.6 795.4h1.4v1.6h-1.4zM642.6 795.4h1.4v1.6h-1.4zM644.2 795.4h.8v1.6h-.8zM645.5 795.4h1.1v1.6h-1.1zM650 795.4h.8v1.6h-.8zM651.3 795.4h1.4v1.6h-1.4zM652.9 795.4h1.4v1.6h-1.4zM655.5 795.4h.8v1.6h-.8zM658.4 795.4h1.4v1.6h-1.4zM660 795.4h1.1v1.6h-1.1zM571.2 797.4h.8v1.6h-.8zM575.4 797.4h1.1v1.6h-1.1zM579.9 797.4h1.1v1.6h-1.1zM581.9 797.4h.8v1.6h-.8zM585.9 797.4h1.1v1.6h-1.1zM587.5 797.4h1.4v1.6h-1.4zM594 797.4h.8v1.6h-.8zM595.3 797.4h.8v1.6h-.8zM597.9 797.4h.8v1.6h-.8zM599.2 797.4h1.1v1.6h-1.1zM602.8 797.4h.8v1.6h-.8zM604.8 797.4h1.1v1.6h-1.1zM606.8 797.4h1.4v1.6h-1.4zM612.1 797.4h1.4v1.6h-1.4zM617.4 797.4h1.1v1.6h-1.1zM620.7 797.4h.8v1.6h-.8zM622.7 797.4h.8v1.6h-.8zM626.3 797.4h1.4v1.6h-1.4zM627.6 797.4h1.1v1.6h-1.1zM628.9 797.4h1.4v1.6h-1.4zM632.2 797.4h1.4v1.6h-1.4zM635.5 797.4h1.4v1.6h-1.4zM636.8 797.4h.8v1.6h-.8zM640.1 797.4h1.1v1.6h-1.1zM642.1 797.4h1.4v1.6h-1.4zM643.7 797.4h.8v1.6h-.8zM645.3 797.4h1.1v1.6h-1.1zM646.6 797.4h1.1v1.6h-1.1zM648.6 797.4h1.1v1.6h-1.1zM653.5 797.4h.8v1.6h-.8zM656.1 797.4h.8v1.6h-.8zM658.7 797.4h1.4v1.6h-1.4zM660 797.4h1.4v1.6h-1.4zM661.3 797.4h1.4v1.6h-1.4zM571.2 800.2h1.1v1.6h-1.1zM574.5 800.2h1.4v1.6h-1.4zM584.7 800.2h1.1v1.6h-1.1zM586 800.2h.8v1.6h-.8zM592.1 800.2h1.1v1.6h-1.1zM593.4 800.2h1.1v1.6h-1.1zM596.6 800.2h.8v1.6h-.8zM598.2 800.2h1.1v1.6h-1.1zM601.8 800.2h.8v1.6h-.8zM603.4 800.2h1.1v1.6h-1.1zM604.7 800.2h1.4v1.6h-1.4zM606 800.2h1.4v1.6h-1.4zM610.2 800.2h1.1v1.6h-1.1zM617.1 800.2h1.4v1.6h-1.4zM619.1 800.2h.8v1.6h-.8zM621.1 800.2h1.4v1.6h-1.4zM623.1 800.2h1.4v1.6h-1.4zM624.4 800.2h1.4v1.6h-1.4zM625.7 800.2h.8v1.6h-.8zM627.3 800.2h.8v1.6h-.8zM628.9 800.2h.8v1.6h-.8zM634.1 800.2h1.4v1.6h-1.4zM641 800.2h1.1v1.6h-1.1zM643 800.2h1.4v1.6h-1.4zM645.6 800.2h.8v1.6h-.8zM647.2 800.2h1.4v1.6h-1.4zM650.1 800.2h.8v1.6h-.8zM652.1 800.2h1.4v1.6h-1.4zM653.4 800.2h.8v1.6h-.8zM659.4 800.2h1.1v1.6h-1.1zM574.8 802.4h.8v1.6h-.8zM576.8 802.4h1.1v1.6h-1.1zM578.1 802.4h1.4v1.6h-1.4zM580.1 802.4h1.4v1.6h-1.4zM583.4 802.4h1.1v1.6h-1.1zM584.7 802.4h1.1v1.6h-1.1zM586.3 802.4h1.4v1.6h-1.4zM598 802.4h.8v1.6h-.8zM599.3 802.4h1.4v1.6h-1.4zM604.2 802.4h.8v1.6h-.8zM605.8 802.4h.8v1.6h-.8zM607.1 802.4h.8v1.6h-.8zM608.7 802.4h1.4v1.6h-1.4zM610 802.4h.8v1.6h-.8zM619.6 802.4h1.1v1.6h-1.1zM622.5 802.4h1.1v1.6h-1.1zM627.4 802.4h1.1v1.6h-1.1zM629.4 802.4h1.1v1.6h-1.1zM633 802.4h.8v1.6h-.8zM635 802.4h1.4v1.6h-1.4zM636.6 802.4h.8v1.6h-.8zM639.2 802.4h.8v1.6h-.8zM640.8 802.4h.8v1.6h-.8zM642.1 802.4h1.4v1.6h-1.4zM646.9 802.4h.8v1.6h-.8zM651.5 802.4h.8v1.6h-.8zM652.8 802.4h1.4v1.6h-1.4zM654.4 802.4h1.4v1.6h-1.4zM659.7 802.4h.8v1.6h-.8zM661 802.4h.8v1.6h-.8zM572.8 804.6h1.4v1.6h-1.4zM579 804.6h1.4v1.6h-1.4zM580.6 804.6h1.1v1.6h-1.1zM582.2 804.6h1.4v1.6h-1.4zM585.1 804.6h1.1v1.6h-1.1zM588.4 804.6h1.1v1.6h-1.1zM590 804.6h1.1v1.6h-1.1zM593.3 804.6h.8v1.6h-.8zM596.9 804.6h1.1v1.6h-1.1zM598.5 804.6h1.1v1.6h-1.1zM601.4 804.6h.8v1.6h-.8zM602.7 804.6h.8v1.6h-.8zM604.7 804.6h1.4v1.6h-1.4zM606 804.6h1.4v1.6h-1.4zM607.3 804.6h1.1v1.6h-1.1zM611.9 804.6h1.4v1.6h-1.4zM613.5 804.6h1.4v1.6h-1.4zM616.4 804.6h1.1v1.6h-1.1zM625.6 804.6h1.4v1.6h-1.4zM628.9 804.6h1.4v1.6h-1.4zM630.5 804.6h1.1v1.6h-1.1zM635.8 804.6h1.1v1.6h-1.1zM637.8 804.6h.8v1.6h-.8zM639.8 804.6h1.4v1.6h-1.4zM641.4 804.6h1.4v1.6h-1.4zM646.7 804.6h.8v1.6h-.8zM648.3 804.6h1.1v1.6h-1.1zM651.9 804.6h.8v1.6h-.8zM656.4 804.6h.8v1.6h-.8zM571.2 807.8h.8v1.6h-.8zM573.2 807.8h1.1v1.6h-1.1zM574.5 807.8h.8v1.6h-.8zM576.1 807.8h1.1v1.6h-1.1zM577.7 807.8h.8v1.6h-.8zM581.6 807.8h1.4v1.6h-1.4zM583.2 807.8h1.1v1.6h-1.1zM584.5 807.8h.8v1.6h-.8zM588.7 807.8h.8v1.6h-.8zM591.9 807.8h1.4v1.6h-1.4zM595.9 807.8h1.4v1.6h-1.4zM597.9 807.8h1.4v1.6h-1.4zM599.9 807.8h.8v1.6h-.8zM603.1 807.8h.8v1.6h-.8zM608 807.8h1.1v1.6h-1.1zM611.3 807.8h1.4v1.6h-1.4zM612.9 807.8h1.1v1.6h-1.1zM614.2 807.8h1.4v1.6h-1.4zM615.5 807.8h.8v1.6h-.8zM620.7 807.8h1.4v1.6h-1.4zM625.2 807.8h.8v1.6h-.8zM631.3 807.8h1.4v1.6h-1.4zM638.5 807.8h1.4v1.6h-1.4zM640.5 807.8h1.4v1.6h-1.4zM642.1 807.8h.8v1.6h-.8zM643.7 807.8h1.4v1.6h-1.4zM645 807.8h1.4v1.6h-1.4zM646.6 807.8h.8v1.6h-.8zM651.5 807.8h1.1v1.6h-1.1zM658.7 807.8h1.4v1.6h-1.4zM571.2 815.6h.8v1.6h-.8zM572.5 815.6h1.1v1.6h-1.1zM574.5 815.6h1.1v1.6h-1.1zM581.1 815.6h1.4v1.6h-1.4zM587.6 815.6h.8v1.6h-.8zM588.9 815.6h.8v1.6h-.8zM593.8 815.6h1.1v1.6h-1.1zM599.1 815.6h.8v1.6h-.8zM600.4 815.6h.8v1.6h-.8zM603.7 815.6h1.1v1.6h-1.1zM605.7 815.6h.8v1.6h-.8zM607.7 815.6h.8v1.6h-.8zM611.7 815.6h.8v1.6h-.8zM617 815.6h1.4v1.6h-1.4zM619 815.6h1.1v1.6h-1.1zM620.3 815.6h1.1v1.6h-1.1zM621.9 815.6h1.4v1.6h-1.4zM623.2 815.6h.8v1.6h-.8zM624.8 815.6h1.1v1.6h-1.1zM626.8 815.6h1.1v1.6h-1.1zM628.8 815.6h.8v1.6h-.8zM630.1 815.6h1.1v1.6h-1.1zM636.3 815.6h1.1v1.6h-1.1zM637.6 815.6h1.1v1.6h-1.1zM641.2 815.6h.8v1.6h-.8zM653.3 815.6h1.1v1.6h-1.1zM656.2 815.6h.8v1.6h-.8zM657.8 815.6h.8v1.6h-.8zM661 815.6h1.1v1.6h-1.1zM571.2 823.8h1.4v1.6h-1.4zM572.8 823.8h1.4v1.6h-1.4zM575.7 823.8h.8v1.6h-.8zM577.7 823.8h.8v1.6h-.8zM579.3 823.8h1.1v1.6h-1.1zM580.9 823.8h1.1v1.6h-1.1zM586.2 823.8h1.4v1.6h-1.4zM587.8 823.8h.8v1.6h-.8zM589.1 823.8h1.1v1.6h-1.1zM594.3 823.8h1.4v1.6h-1.4zM604.7 823.8h1.1v1.6h-1.1zM606.3 823.8h.8v1.6h-.8zM607.9 823.8h1.4v1.6h-1.4zM609.5 823.8h1.1v1.6h-1.1zM611.5 823.8h.8v1.6h-.8zM614.4 823.8h.8v1.6h-.8zM623.5 823.8h1.4v1.6h-1.4zM635.9 823.8h1.1v1.6h-1.1zM638.8 823.8h1.1v1.6h-1.1zM640.4 823.8h.8v1.6h-.8zM641.7 823.8h.8v1.6h-.8zM645.7 823.8h.8v1.6h-.8zM647 823.8h.8v1.6h-.8zM653.9 823.8h.8v1.6h-.8zM655.5 823.8h1.4v1.6h-1.4zM657.5 823.8h.8v1.6h-.8zM659.5 823.8h1.4v1.6h-1.4zM571.2 825.8h.8v1.6h-.8zM574.1 825.8h.8v1.6h-.8zM575.4 825.8h1.4v1.6h-1.4zM578.7 825.8h1.4v1.6h-1.4zM580.7 825.8h1.4v1.6h-1.4zM587.6 825.8h.8v1.6h-.8zM588.9 825.8h1.4v1.6h-1.4zM592.2 825.8h1.1v1.6h-1.1zM593.5 825.8h.8v1.6h-.8zM599.3 825.8h1.4v1.6h-1.4zM604.5 825.8h1.4v1.6h-1.4zM606.5 825.8h1.4v1.6h-1.4zM611.7 825.8h1.4v1.6h-1.4zM613 825.8h1.1v1.6h-1.1zM614.6 825.8h1.1v1.6h-1.1zM619.1 825.8h.8v1.6h-.8zM622 825.8h1.4v1.6h-1.4zM624 825.8h.8v1.6h-.8zM625.6 825.8h1.1v1.6h-1.1zM627.6 825.8h1.4v1.6h-1.4zM628.9 825.8h.8v1.6h-.8zM634.7 825.8h.8v1.6h-.8zM638.6 825.8h.8v1.6h-.8zM641.5 825.8h1.4v1.6h-1.4zM643.5 825.8h1.4v1.6h-1.4zM644.8 825.8h1.4v1.6h-1.4zM656 825.8h1.4v1.6h-1.4zM571.2 830.2h1.4v1.6h-1.4zM574.5 830.2h1.4v1.6h-1.4zM576.5 830.2h.8v1.6h-.8zM581.1 830.2h1.1v1.6h-1.1zM588 830.2h1.4v1.6h-1.4zM592 830.2h1.4v1.6h-1.4zM596 830.2h1.1v1.6h-1.1zM603.9 830.2h1.4v1.6h-1.4zM611.3 830.2h1.1v1.6h-1.1zM637.7 830.2h1.1v1.6h-1.1zM639.7 830.2h1.4v1.6h-1.4zM642.6 830.2h.8v1.6h-.8zM645.9 830.2h.8v1.6h-.8zM650.5 830.2h.8v1.6h-.8zM659 830.2h1.4v1.6h-1.4zM580.4 834.6h1.1v1.6h-1.1zM583.7 834.6h1.1v1.6h-1.1zM585.7 834.6h.8v1.6h-.8zM594.9 834.6h1.1v1.6h-1.1zM596.9 834.6h1.4v1.6h-1.4zM614.2 834.6h1.1v1.6h-1.1zM616.8 834.6h.8v1.6h-.8zM622.8 834.6h1.1v1.6h-1.1zM624.8 834.6h1.1v1.6h-1.1zM626.8 834.6h1.1v1.6h-1.1zM633 834.6h1.1v1.6h-1.1zM639.6 834.6h1.1v1.6h-1.1zM655.2 834.6h1.4v1.6h-1.4zM571.2 837.4h.8v1.6h-.8zM576.8 837.4h1.4v1.6h-1.4zM578.1 837.4h1.1v1.6h-1.1zM584.6 837.4h.8v1.6h-.8zM585.9 837.4h1.4v1.6h-1.4zM597 837.4h1.4v1.6h-1.4zM600.3 837.4h1.1v1.6h-1.1zM603.2 837.4h1.4v1.6h-1.4zM606.1 837.4h.8v1.6h-.8zM624.5 837.4h1.1v1.6h-1.1zM634.3 837.4h1.1v1.6h-1.1zM640.8 837.4h.8v1.6h-.8zM642.4 837.4h.8v1.6h-.8zM653.2 837.4h1.4v1.6h-1.4zM660.7 837.4h1.1v1.6h-1.1zM574.8 840.4h.8v1.6h-.8zM580 840.4h1.1v1.6h-1.1zM595.9 840.4h1.1v1.6h-1.1zM597.9 840.4h.8v1.6h-.8zM601.2 840.4h1.1v1.6h-1.1zM602.5 840.4h.8v1.6h-.8zM607.1 840.4h1.4v1.6h-1.4zM608.4 840.4h1.1v1.6h-1.1zM615 840.4h.8v1.6h-.8zM616.3 840.4h1.1v1.6h-1.1zM623.5 840.4h1.4v1.6h-1.4zM625.5 840.4h1.4v1.6h-1.4zM636.4 840.4h.8v1.6h-.8zM654 840.4h1.1v1.6h-1.1zM655.6 840.4h1.1v1.6h-1.1zM657.6 840.4h1.1v1.6h-1.1zM576.4 844.2h1.4v1.6h-1.4zM580.4 844.2h.8v1.6h-.8zM606.1 844.2h1.1v1.6h-1.1zM609.7 844.2h1.4v1.6h-1.4zM615.3 844.2h.8v1.6h-.8zM616.6 844.2h.8v1.6h-.8zM629.5 844.2h.8v1.6h-.8zM646 844.2h.8v1.6h-.8zM654.2 844.2h.8v1.6h-.8zM578 847.4h1.4v1.6h-1.4zM579.6 847.4h1.1v1.6h-1.1zM582.8 847.4h1.1v1.6h-1.1zM584.4 847.4h.8v1.6h-.8zM588.6 847.4h1.4v1.6h-1.4zM606.8 847.4h1.1v1.6h-1.1zM630.4 847.4h.8v1.6h-.8zM632 847.4h1.4v1.6h-1.4zM636.5 847.4h.8v1.6h-.8zM637.8 847.4h1.1v1.6h-1.1zM639.1 847.4h1.4v1.6h-1.4zM644.4 847.4h1.1v1.6h-1.1zM647.7 847.4h1.4v1.6h-1.4zM649.3 847.4h.8v1.6h-.8zM659.1 847.4h1.1v1.6h-1.1z"/><rect x="382.5" y="796.95" width="17.4" height="0.7" fill="#7fa5a0" opacity="0.6"/><rect x="382.5" y="804.85" width="17.4" height="0.7" fill="#7fa5a0" opacity="0.6"/><rect x="382.5" y="809.05" width="17.4" height="0.7" fill="#7fa5a0" opacity="0.6"/><rect x="382.5" y="812.05" width="17.4" height="0.7" fill="#7fa5a0" opacity="0.6"/><rect x="382.5" y="823.15" width="17.4" height="0.7" fill="#7fa5a0" opacity="0.6"/><rect x="382.5" y="825.05" width="17.4" height="0.7" fill="#f3a39a" opacity="0.7"/><rect x="382.5" y="827.15" width="17.4" height="0.7" fill="#f3a39a" opacity="0.7"/><rect x="382.5" y="831.15" width="17.4" height="0.7" fill="#f3a39a" opacity="0.6"/><rect x="382.5" y="837.35" width="17.4" height="0.7" fill="#f3a39a" opacity="0.5"/><rect x="382.5" y="843.55" width="17.4" height="0.7" fill="#f3a39a" opacity="0.5"/><path fill="#000" d="M394.6 796.7h1v1.2h-1zM394.6 804.6h.8v1.2h-.8zM389.4 808.8h1v1.2h-1zM389.4 811.8h1.3v1.2h-1.3zM394.6 811.8h1.3v1.2h-1.3zM389.4 822.9h1v1.2h-1zM394.6 822.9h1v1.2h-1zM389.4 824.8h1v1.2h-1zM394.6 824.8h1.3v1.2h-1.3zM394.6 826.9h.8v1.2h-.8zM389.4 830.9h1.3v1.2h-1.3zM389.4 837.1h1.3v1.2h-1.3zM394.6 837.1h1v1.2h-1zM389.4 843.3h1.3v1.2h-1.3zM394.6 843.3h1v1.2h-1z"/><rect x="376" y="794.4" width="299.5" height="144.1" fill="none" stroke="#666" stroke-width="0.8"/><line x1="376" y1="851.7" x2="675.5" y2="851.7" stroke="#444" stroke-width="0.9"/><line x1="376" y1="862.6" x2="675.5" y2="862.6" stroke="#444" stroke-width="0.9"/><line x1="376" y1="896.8" x2="675.5" y2="896.8" stroke="#444" stroke-width="0.9"/><line x1="388.9" y1="851.7" x2="388.9" y2="862.6" stroke="#444" stroke-width="0.6"/><rect x="431.2" y="862.6" width="149.8" height="75.9" fill="#c5e1e0"/><path stroke="#8a8a8a" stroke-width="0.45" fill="none" d="M401.1 851.7L388.6 861.6M401.1 851.7L389.4 861.6M402.9 851.7L390.2 861.6M403.5 851.7L391 861.6M404.7 851.7L391.7 861.6M405.1 851.7L392.5 861.6M405.5 851.7L393.3 861.6M405.6 851.7L394.1 861.6M407.2 851.7L394.9 861.6M412.1 851.7L395.7 861.6M416 851.7L396.5 861.6M424.4 851.7L397.2 861.6M431 851.7L398 861.6M432.9 851.7L398.8 861.6M433.7 851.7L399.6 861.6M439.9 851.7L400.4 861.6M440.4 851.7L401.2 861.6M440.9 851.7L401.9 861.6M442.9 851.7L402.7 861.6M443.4 851.7L403.5 861.6M444.7 851.7L404.3 861.6M444.8 851.7L405.1 861.6M446.4 851.7L405.9 861.6M447 851.7L406.7 861.6M447.9 851.7L407.4 861.6M448.4 851.7L408.2 861.6M448.5 851.7L409 861.6M448.8 851.7L409.8 861.6M449.4 851.7L410.6 861.6M449.6 851.7L411.4 861.6M452.7 851.7L412.2 861.6M453.6 851.7L412.9 861.6M455.5 851.7L413.7 861.6M459.7 851.7L414.5 861.6M460.7 851.7L415.3 861.6M461.9 851.7L416.1 861.6M462.1 851.7L416.9 861.6M463.3 851.7L417.6 861.6M466.5 851.7L418.4 861.6M466.8 851.7L419.2 861.6M467.1 851.7L420 861.6M467.6 851.7L420.8 861.6M467.8 851.7L421.6 861.6M469.3 851.7L422.4 861.6M471.1 851.7L423.1 861.6M474.7 851.7L423.9 861.6M475.1 851.7L424.7 861.6M478.5 851.7L425.5 861.6M478.7 851.7L426.3 861.6M479 851.7L427.1 861.6M479.9 851.7L427.9 861.6M487 851.7L428.6 861.6M488.8 851.7L429.4 861.6M493.6 851.7L430.2 861.6M495.5 851.7L431 861.6M538.1 851.7L580.9 861.6M542.3 851.7L581.7 861.6M542.4 851.7L582.5 861.6M543.1 851.7L583.3 861.6M543.5 851.7L584.1 861.6M543.6 851.7L584.9 861.6M544.2 851.7L585.6 861.6M546.4 851.7L586.4 861.6M548.4 851.7L587.2 861.6M549.3 851.7L588 861.6M549.5 851.7L588.8 861.6M550.6 851.7L589.6 861.6M552.7 851.7L590.3 861.6M556.4 851.7L591.1 861.6M556.6 851.7L591.9 861.6M558.1 851.7L592.7 861.6M558.2 851.7L593.5 861.6M558.3 851.7L594.3 861.6M559 851.7L595.1 861.6M559.5 851.7L595.8 861.6M560.4 851.7L596.6 861.6M564.4 851.7L597.4 861.6M566.5 851.7L598.2 861.6M566.9 851.7L599 861.6M566.9 851.7L599.8 861.6M568.5 851.7L600.6 861.6M568.9 851.7L601.3 861.6M569.1 851.7L602.1 861.6M570 851.7L602.9 861.6M570.8 851.7L603.7 861.6M572.4 851.7L604.5 861.6M572.5 851.7L605.3 861.6M573.5 851.7L606 861.6M573.8 851.7L606.8 861.6M574.4 851.7L607.6 861.6M575.4 851.7L608.4 861.6M575.7 851.7L609.2 861.6M575.9 851.7L610 861.6M576.5 851.7L610.8 861.6M577.9 851.7L611.5 861.6M579.1 851.7L612.3 861.6M581 851.7L613.1 861.6M586.8 851.7L613.9 861.6M587 851.7L614.7 861.6M588.9 851.7L615.5 861.6M591 851.7L616.2 861.6M591.3 851.7L617 861.6M595.4 851.7L617.8 861.6M597.4 851.7L618.6 861.6M600.8 851.7L619.4 861.6M601.1 851.7L620.2 861.6M601.4 851.7L621 861.6M602.1 851.7L621.7 861.6M602.4 851.7L622.5 861.6M604 851.7L623.3 861.6M604 851.7L624.1 861.6M604.1 851.7L624.9 861.6M606.3 851.7L625.7 861.6M606.6 851.7L626.5 861.6M608.4 851.7L627.2 861.6M610 851.7L628 861.6M610.4 851.7L628.8 861.6M611 851.7L629.6 861.6M611.7 851.7L630.4 861.6M612.2 851.7L631.2 861.6M614.1 851.7L632 861.6M614.9 851.7L632.7 861.6M618.5 851.7L633.5 861.6M620.9 851.7L634.3 861.6M623.1 851.7L635.1 861.6M623.7 851.7L635.9 861.6M625.2 851.7L636.7 861.6M627.1 851.7L637.4 861.6M627.5 851.7L638.2 861.6M627.8 851.7L639 861.6M629.8 851.7L639.8 861.6M630.1 851.7L640.6 861.6M631.6 851.7L641.4 861.6M631.9 851.7L642.2 861.6M633.6 851.7L642.9 861.6M634.2 851.7L643.7 861.6M635.7 851.7L644.5 861.6M638.1 851.7L645.3 861.6M638.2 851.7L646.1 861.6M638.8 851.7L646.9 861.6M640.4 851.7L647.7 861.6M641.1 851.7L648.4 861.6M641.9 851.7L649.2 861.6M642.1 851.7L650 861.6M643.3 851.7L650.8 861.6M643.5 851.7L651.6 861.6M644.4 851.7L652.4 861.6M645.9 851.7L653.1 861.6M646.6 851.7L653.9 861.6M647 851.7L654.7 861.6M648.1 851.7L655.5 861.6M649.8 851.7L656.3 861.6M651.7 851.7L657.1 861.6M652.8 851.7L657.9 861.6M654.7 851.7L658.6 861.6M654.9 851.7L659.4 861.6M655.4 851.7L660.2 861.6M657.4 851.7L661 861.6M658.6 851.7L661.8 861.6M659.4 851.7L662.6 861.6M659.5 851.7L663.4 861.6"/><polygon points="496.72,851.7 537.31,851.7 580.14,861.6 431.78,861.6" fill="#2a948b" opacity="0.9"/><path stroke="#d8efec" stroke-width="0.35" fill="none" opacity="0.8" d="M496.7 851.7L431.8 861.6M497.9 851.7L434.1 861.6M498.6 851.7L436.5 861.6M498.8 851.7L438.8 861.6M499.1 851.7L441.2 861.6M500.1 851.7L443.6 861.6M501.3 851.7L445.9 861.6M501.5 851.7L448.3 861.6M501.9 851.7L450.6 861.6M503.7 851.7L453 861.6M504.6 851.7L455.3 861.6M505.2 851.7L457.7 861.6M506.5 851.7L460 861.6M506.6 851.7L462.4 861.6M506.9 851.7L464.7 861.6M507.5 851.7L467.1 861.6M508.3 851.7L469.5 861.6M508.8 851.7L471.8 861.6M509 851.7L474.2 861.6M509.4 851.7L476.5 861.6M510 851.7L478.9 861.6M510.9 851.7L481.2 861.6M511.1 851.7L483.6 861.6M511.2 851.7L485.9 861.6M512.2 851.7L488.3 861.6M512.9 851.7L490.7 861.6M513.6 851.7L493 861.6M514.9 851.7L495.4 861.6M515.4 851.7L497.7 861.6M516.2 851.7L500.1 861.6M516.3 851.7L502.4 861.6M517 851.7L504.8 861.6M517.9 851.7L507.1 861.6M518 851.7L509.5 861.6M519.4 851.7L511.8 861.6M519.8 851.7L514.2 861.6M520.3 851.7L516.6 861.6M521.6 851.7L518.9 861.6M522.2 851.7L521.3 861.6M522.3 851.7L523.6 861.6M522.5 851.7L526 861.6M523.3 851.7L528.3 861.6M523.8 851.7L530.7 861.6M524.4 851.7L533 861.6M525.6 851.7L535.4 861.6M526.3 851.7L537.8 861.6M526.7 851.7L540.1 861.6M527.1 851.7L542.5 861.6M528.1 851.7L544.8 861.6M528.9 851.7L547.2 861.6M529.4 851.7L549.5 861.6M529.6 851.7L551.9 861.6M530.5 851.7L554.2 861.6M531.8 851.7L556.6 861.6M532.2 851.7L558.9 861.6M532.5 851.7L561.3 861.6M533.3 851.7L563.7 861.6M533.9 851.7L566 861.6M534.6 851.7L568.4 861.6M535.6 851.7L570.7 861.6M535.8 851.7L573.1 861.6M536.1 851.7L575.4 861.6M536.9 851.7L577.8 861.6M537.3 851.7L580.1 861.6"/><line x1="388.6" y1="861.4" x2="663.35" y2="861.4" stroke="#777" stroke-width="0.8" stroke-dasharray="1 0.7"/><rect x="376" y="875.3" width="299.5" height="4.4" fill="#e9e9e9"/><line x1="376" y1="875.3" x2="675.5" y2="875.3" stroke="#999" stroke-width="0.6" stroke-dasharray="1.2 0.8"/><line x1="376" y1="879.7" x2="675.5" y2="879.7" stroke="#999" stroke-width="0.6" stroke-dasharray="1.2 0.8"/><path d="M388.6 876.6L389.4 876.7L390.2 876.7L391 876.6L391.7 876.6L392.5 876.6L393.3 876.6L394.1 876.4L394.9 876.4L395.7 876.4L396.5 876.4L397.2 877L398 877.2L398.8 877L399.6 877.1L400.4 877.3L401.2 877L401.9 876.9L402.7 877L403.5 877.1L404.3 877.1L405.1 876.8L405.9 876.1L406.7 876.1L407.4 877.1L408.2 877.7L409 877.7L409.8 877.7L410.6 877.6L411.4 877.5L412.2 877.7L412.9 877.5L413.7 876.5L414.5 875.9L415.3 876.2L416.1 876.2L416.9 876L417.6 876.1L418.4 876.3L419.2 876.7L420 876.9L420.8 876.9L421.6 876.8L422.4 876.7L423.1 876.9L423.9 877.1L424.7 877.2L425.5 877.3L426.3 877.3L427.1 876.9L427.9 876.6L428.6 876.7L429.4 877.1L430.2 877.4L431 876.4L431.8 874.1L432.6 872.8L433.3 872.8L434.1 872.9L434.9 873L435.7 873L436.5 872.9L437.3 873L438.1 873L438.8 873L439.6 873L440.4 872.9L441.2 872.9L442 872.9L442.8 873L443.6 872.9L444.3 872.9L445.1 872.9L445.9 873L446.7 872.9L447.5 873.3L448.3 874.2L449 874.6L449.8 874.6L450.6 874.6L451.4 874.6L452.2 874.6L453 874.6L453.8 874.6L454.5 874.6L455.3 874.6L456.1 874.6L456.9 874.6L457.7 874.6L458.5 874.7L459.2 874.7L460 874.6L460.8 874.7L461.6 874.8L462.4 874.7L463.2 874.6L464 874.6L464.7 874.6L465.5 874.5L466.3 874.5L467.1 874.6L467.9 874.7L468.7 874.6L469.5 874.5L470.2 874.5L471 874.4L471.8 874.5L472.6 874.9L473.4 875.6L474.2 875.9L475 875.9L475.7 875.9L476.5 875.9L477.3 875.9L478.1 875.9L478.9 875.9L479.7 875.8L480.4 875.9L481.2 876L482 876L482.8 876L483.6 875.9L484.4 875.8L485.2 875.9L485.9 875.9L486.7 875.9L487.5 876L488.3 875L489.1 873L489.9 872L490.7 871.9L491.4 871.9L492.2 871.9L493 872L493.8 871.9L494.6 872.9L495.4 874.8L496.1 875.7L496.9 875.8L497.7 875.9L498.5 875.8L499.3 875.8L500.1 875.7L500.9 875.7L501.6 875.8L502.4 875.3L503.2 874L504 873.4L504.8 873.4L505.6 873.5L506.4 873.5L507.1 873.4L507.9 873.5L508.7 873.4L509.5 873.4L510.3 873.4L511.1 873.4L511.8 873.4L512.6 873.4L513.4 873.4L514.2 873.4L515 873.4L515.8 873.4L516.6 873.5L517.3 873.6L518.1 873L518.9 871.8L519.7 871.1L520.5 871.1L521.3 871.1L522.1 871L522.8 871L523.6 870.8L524.4 870.4L525.2 870.1L526 870.1L526.8 870.2L527.5 870.3L528.3 870.4L529.1 870.5L529.9 870.5L530.7 870.5L531.5 870.5L532.3 870.5L533 870.5L533.8 870.5L534.6 870.5L535.4 871.2L536.2 872.6L537 873.3L537.8 873.2L538.5 873.2L539.3 873.2L540.1 873.2L540.9 873.2L541.7 873.1L542.5 873.2L543.2 873.2L544 873.2L544.8 873.2L545.6 873.2L546.4 873.2L547.2 873.2L548 873.2L548.7 873.3L549.5 873.3L550.3 873.1L551.1 873.2L551.9 873.5L552.7 874.2L553.5 874.6L554.2 874.2L555 873.2L555.8 872.6L556.6 872.6L557.4 872.6L558.2 872.5L558.9 872.6L559.7 872.6L560.5 872.5L561.3 872.6L562.1 872.6L562.9 872.6L563.7 872.6L564.4 872.6L565.2 872.5L566 872.5L566.8 872.6L567.6 872.7L568.4 872.5L569.2 871.6L569.9 870L570.7 869.2L571.5 869.1L572.3 870.4L573.1 872.8L573.9 874L574.6 873.9L575.4 872.9L576.2 870.9L577 869.9L577.8 869.9L578.6 869.8L579.4 869.7L580.1 871.3L580.9 874.5L581.7 876.2L582.5 876.6L583.3 877.5L584.1 878.2L584.9 878.3L585.6 878.1L586.4 878.1L587.2 877.6L588 877.1L588.8 876.9L589.6 876.6L590.3 876L591.1 875.8L591.9 876.1L592.7 876.5L593.5 876.7L594.3 877L595.1 877.3L595.8 877.1L596.6 876.6L597.4 876L598.2 875.9L599 876.1L599.8 876.2L600.6 876.5L601.3 877L602.1 877.5L602.9 877.8L603.7 877.9L604.5 877.7L605.3 877.7L606 877.7L606.8 877.6L607.6 877.5L608.4 877.2L609.2 877.1L610 877.5L610.8 877.9L611.5 877.9L612.3 877.5L613.1 877.3L613.9 877.5L614.7 877.7L615.5 877.3L616.2 877.2L617 877.9L617.8 878.1L618.6 878L619.4 877.8L620.2 877.4L621 876.8L621.7 876.4L622.5 876.6L623.3 876.8L624.1 876.8L624.9 877.2L625.7 877.9L626.5 878.2L627.2 878L628 877.8L628.8 877.6L629.6 877.4L630.4 877.2L631.2 876.9L632 876.7L632.7 876.7L633.5 876.8L634.3 877.1L635.1 877.5L635.9 877.5L636.7 877.2L637.4 877L638.2 877.3L639 877.4L639.8 877L640.6 876.6L641.4 876.6L642.2 876.7L642.9 876.8L643.7 876.9L644.5 877.1L645.3 877L646.1 876.5L646.9 876.1L647.7 876.4L648.4 876.7L649.2 876.8L650 876.8L650.8 876.7L651.6 876.5L652.4 876.6L653.1 876.7L653.9 876.3L654.7 875.8L655.5 876L656.3 876.9L657.1 877.7L657.9 877.6L658.6 877.1L659.4 877L660.2 877.3L661 877.9L661.8 878.4L662.6 878.6L663.4 878.7" fill="none" stroke="#f27565" stroke-width="0.8" stroke-linejoin="round" stroke-linecap="round"/><path d="M388.6 878.8L389.4 878.9L390.2 878.6L391 877.8L391.7 877.5L392.5 877.7L393.3 878L394.1 877.7L394.9 877L395.7 876.7L396.5 876.7L397.2 876.7L398 876.6L398.8 876.7L399.6 877L400.4 877.1L401.2 877.2L401.9 878.4L402.7 878.7L403.5 877.5L404.3 876.8L405.1 877.3L405.9 878.2L406.7 878.5L407.4 878.2L408.2 878L409 878.1L409.8 878.6L410.6 878.5L411.4 877.8L412.2 877.8L412.9 878.1L413.7 878.2L414.5 878.1L415.3 877.7L416.1 877.6L416.9 877.8L417.6 878L418.4 878L419.2 878L420 877.9L420.8 877.6L421.6 877.1L422.4 877.1L423.1 878L423.9 878.5L424.7 878.3L425.5 878.3L426.3 879.1L427.1 879.5L427.9 879.5L428.6 879.5L429.4 878.7L430.2 877.6L431 879.9L431.8 885L432.6 887.3L433.3 887.3L434.1 887.3L434.9 887.4L435.7 887.4L436.5 887.3L437.3 887.3L438.1 887.2L438.8 887.2L439.6 887.8L440.4 886L441.2 880.5L442 877.4L442.8 877.3L443.6 877.4L444.3 879.3L445.1 882.9L445.9 884.7L446.7 884.7L447.5 884.8L448.3 884.8L449 885L449.8 885.3L450.6 885.2L451.4 885L452.2 885L453 885L453.8 885L454.5 884.9L455.3 885L456.1 885L456.9 884.9L457.7 887.2L458.5 891.5L459.2 893.6L460 893.7L460.8 893.7L461.6 893.6L462.4 893.5L463.2 893.5L464 893.5L464.7 893.6L465.5 893.6L466.3 893.5L467.1 893.5L467.9 893.6L468.7 893.6L469.5 893.5L470.2 893.5L471 893.6L471.8 893.6L472.6 893.6L473.4 893.6L474.2 893.5L475 893.6L475.7 893.5L476.5 893.5L477.3 893.5L478.1 893.6L478.9 893.6L479.7 893.3L480.4 892.8L481.2 893.2L482 894.4L482.8 895L483.6 895L484.4 894.9L485.2 894.9L485.9 895L486.7 895L487.5 895L488.3 895L489.1 895.1L489.9 895.1L490.7 895.1L491.4 895.1L492.2 895L493 895L493.8 895L494.6 895L495.4 894.9L496.1 894.7L496.9 894.7L497.7 894.7L498.5 894.6L499.3 894.5L500.1 893.4L500.9 891.3L501.6 890.2L502.4 890.3L503.2 890.3L504 890.3L504.8 890.3L505.6 890.2L506.4 890.2L507.1 890.2L507.9 888.8L508.7 886L509.5 884.5L510.3 884.4L511.1 884.4L511.8 884.4L512.6 884.3L513.4 884.3L514.2 884.3L515 884.4L515.8 884.4L516.6 884.4L517.3 884.4L518.1 884.4L518.9 884.4L519.7 884.4L520.5 885.3L521.3 887L522.1 887.9L522.8 886.7L523.6 884.4L524.4 883.2L525.2 883.2L526 883.2L526.8 883.3L527.5 883.3L528.3 883.3L529.1 883.3L529.9 883.2L530.7 883.1L531.5 884.8L532.3 888.1L533 889.9L533.8 890L534.6 890L535.4 889.9L536.2 889.9L537 889.9L537.8 889.9L538.5 889.9L539.3 889.9L540.1 889.9L540.9 889.9L541.7 889.9L542.5 889.8L543.2 889.9L544 889.9L544.8 890L545.6 890L546.4 890L547.2 889.9L548 890L548.7 890L549.5 889.9L550.3 889.9L551.1 890.5L551.9 888L552.7 881.1L553.5 880.3L554.2 886L555 888.8L555.8 888.7L556.6 888.7L557.4 888.7L558.2 888.7L558.9 888.6L559.7 886.8L560.5 883.4L561.3 881.7L562.1 881.8L562.9 881.7L563.7 881.7L564.4 881.7L565.2 881.7L566 881.7L566.8 883.4L567.6 886.6L568.4 888.2L569.2 888.3L569.9 888.3L570.7 888.3L571.5 888.2L572.3 888.2L573.1 888.2L573.9 888.2L574.6 888.2L575.4 888.2L576.2 888.2L577 888.2L577.8 888.2L578.6 888.3L579.4 888.2L580.1 885.6L580.9 880.3L581.7 877.5L582.5 877.4L583.3 877.2L584.1 877.2L584.9 877.1L585.6 877.2L586.4 877.4L587.2 877L588 876.7L588.8 877.1L589.6 877.3L590.3 877.1L591.1 877.3L591.9 877.6L592.7 877.7L593.5 877.7L594.3 878L595.1 878.5L595.8 878.9L596.6 879L597.4 879L598.2 878.8L599 878.6L599.8 878.4L600.6 877.9L601.3 877.5L602.1 877.6L602.9 877.5L603.7 877.6L604.5 877.6L605.3 877.2L606 877L606.8 876.9L607.6 876.5L608.4 876.3L609.2 876.6L610 876.3L610.8 876L611.5 876.4L612.3 877.1L613.1 877.6L613.9 877.5L614.7 877L615.5 876.6L616.2 877.1L617 877.2L617.8 877.1L618.6 877.1L619.4 877L620.2 877.1L621 877.2L621.7 877.4L622.5 877.8L623.3 877.5L624.1 877L624.9 876.9L625.7 876.9L626.5 876.9L627.2 877L628 876.8L628.8 877.2L629.6 878.3L630.4 878.9L631.2 878.7L632 878.6L632.7 878.7L633.5 878.7L634.3 878.2L635.1 877.3L635.9 876L636.7 875.5L637.4 875.4L638.2 875.1L639 874.9L639.8 875.1L640.6 875.4L641.4 875.3L642.2 875.3L642.9 875.3L643.7 875.3L644.5 875.3L645.3 875.7L646.1 876.9L646.9 878L647.7 878.3L648.4 878.1L649.2 877.5L650 876.5L650.8 876.2L651.6 876.8L652.4 876.8L653.1 877L653.9 877.2L654.7 876.9L655.5 876.7L656.3 876.5L657.1 876.2L657.9 876.7L658.6 877.5L659.4 877.6L660.2 877.5L661 877.6L661.8 877.5L662.6 877.6L663.4 878" fill="none" stroke="#1d4b46" stroke-width="0.8" stroke-linejoin="round" stroke-linecap="round"/><line x1="675.5" y1="869.4" x2="677" y2="869.4" stroke="#555" stroke-width="0.5"/><text x="677.7" y="870.9" font-size="4.2" fill="#333">20</text><line x1="675.5" y1="877.5" x2="677" y2="877.5" stroke="#555" stroke-width="0.5"/><text x="677.7" y="879" font-size="4.2" fill="#333">0</text><line x1="675.5" y1="885.9" x2="677" y2="885.9" stroke="#555" stroke-width="0.5"/><text x="677.7" y="887.4" font-size="4.2" fill="#333">−20</text><line x1="675.5" y1="894" x2="677" y2="894" stroke="#555" stroke-width="0.5"/><text x="677.7" y="895.5" font-size="4.2" fill="#333">−40</text><rect x="617" y="881" width="54.6" height="15.5" fill="#fff" fill-opacity="0.85" stroke="#ddd" stroke-width="0.4"/><text x="645" y="884.6" font-size="3.8" fill="#333" text-anchor="middle">sample</text><line x1="618.9" y1="888.8" x2="625" y2="888.8" stroke="#f27565" stroke-width="0.9"/><text x="627.8" y="890.2" font-size="3.8" fill="#333" textLength="43.2" lengthAdjust="spacingAndGlyphs">Non_target_maternal.CpG</text><line x1="618.9" y1="893.4" x2="625" y2="893.4" stroke="#1d4b46" stroke-width="0.9"/><text x="627.8" y="894.8" font-size="3.8" fill="#333" textLength="43.2" lengthAdjust="spacingAndGlyphs">Non_target_paternal.CpG</text><g transform="translate(373.6,887) rotate(-90)"><text x="0" y="0" font-size="4.2" fill="#333" textLength="13" lengthAdjust="spacingAndGlyphs">residual</text></g><line x1="374.2" y1="899.1" x2="376" y2="899.1" stroke="#555" stroke-width="0.5"/><text x="373.5" y="900.6" font-size="4.3" fill="#333" text-anchor="end">1.00</text><line x1="374.2" y1="908.62" x2="376" y2="908.62" stroke="#555" stroke-width="0.5"/><text x="373.5" y="910.12" font-size="4.3" fill="#333" text-anchor="end">0.75</text><line x1="374.2" y1="918.15" x2="376" y2="918.15" stroke="#555" stroke-width="0.5"/><text x="373.5" y="919.65" font-size="4.3" fill="#333" text-anchor="end">0.50</text><line x1="374.2" y1="927.68" x2="376" y2="927.68" stroke="#555" stroke-width="0.5"/><text x="373.5" y="929.18" font-size="4.3" fill="#333" text-anchor="end">0.25</text><line x1="374.2" y1="937.2" x2="376" y2="937.2" stroke="#555" stroke-width="0.5"/><text x="373.5" y="938.7" font-size="4.3" fill="#333" text-anchor="end">0.00</text><line x1="388.6" y1="938.5" x2="388.6" y2="940.3" stroke="#555" stroke-width="0.5"/><text x="388.6" y="944.9" font-size="4.5" fill="#333" text-anchor="middle">0</text><line x1="427.85" y1="938.5" x2="427.85" y2="940.3" stroke="#555" stroke-width="0.5"/><text x="427.85" y="944.9" font-size="4.5" fill="#333" text-anchor="middle">50</text><line x1="467.1" y1="938.5" x2="467.1" y2="940.3" stroke="#555" stroke-width="0.5"/><text x="467.1" y="944.9" font-size="4.5" fill="#333" text-anchor="middle">100</text><line x1="506.35" y1="938.5" x2="506.35" y2="940.3" stroke="#555" stroke-width="0.5"/><text x="506.35" y="944.9" font-size="4.5" fill="#333" text-anchor="middle">150</text><line x1="545.6" y1="938.5" x2="545.6" y2="940.3" stroke="#555" stroke-width="0.5"/><text x="545.6" y="944.9" font-size="4.5" fill="#333" text-anchor="middle">200</text><line x1="584.85" y1="938.5" x2="584.85" y2="940.3" stroke="#555" stroke-width="0.5"/><text x="584.85" y="944.9" font-size="4.5" fill="#333" text-anchor="middle">250</text><line x1="624.1" y1="938.5" x2="624.1" y2="940.3" stroke="#555" stroke-width="0.5"/><text x="624.1" y="944.9" font-size="4.5" fill="#333" text-anchor="middle">300</text><line x1="663.35" y1="938.5" x2="663.35" y2="940.3" stroke="#555" stroke-width="0.5"/><text x="663.35" y="944.9" font-size="4.5" fill="#333" text-anchor="middle">350</text><path d="M390.2 929.6L390.8 929.8L391.5 930.1L392.2 930.3L392.9 930.6L393.5 930.9L394.2 931.1L394.9 931.5L395.5 932L396.2 932.6L396.8 933.3L397.5 933.9L398.2 934.4L398.8 934.5L399.5 934.3L400.2 933.7L400.9 932.8L401.6 931.6L402.2 930.3L402.9 928.8L403.6 927.3L404.3 925.8L405 923.9L405.6 921.5L406.3 918.7L407 915.9L407.7 913.3L408.3 911.2L409 909.8L409.7 908.8L410.4 908L411 907.2L411.7 906.5L412.4 906L413 905.7L413.7 905.6L414.4 905.6L415.1 905.6L415.8 905.6L416.5 905.6L417.2 905.6L417.9 905.6L418.6 905.6L419.3 905.6L420 905.6L420.7 905.6L421.4 905.5L422.1 905.4L422.8 905.4L423.5 905.3L424.2 905.1L424.9 905L425.6 904.9L426.3 904.8L427 904.7L427.7 904.6L428.4 904.4L429.1 904.3L429.8 904.1L430.5 904L431.2 903.9L431.9 903.8L432.6 903.7L433.2 903.6L433.9 903.5L434.6 903.5L435.3 903.4L436 903.4L436.7 903.3L437.4 903.3L438.1 903.3L438.7 903.2L439.4 903.2L440.1 903.1L440.8 903.1L441.5 903L442.2 903L442.9 903L443.6 902.9L444.2 902.9L444.9 902.8L445.5 902.8L446.2 902.7L446.8 902.6L447.5 902.6L448.1 902.5L448.8 902.4L449.4 902.4L450.1 902.3L450.7 902.3L451.4 902.2L452.1 902.1L452.7 902.1L453.4 902L454 902L454.7 901.9L455.3 901.9L456 901.9L456.6 901.8L457.3 901.8L457.9 901.8L458.6 901.8L459.2 901.8L459.9 901.8L460.6 901.8L461.2 901.8L461.9 901.9L462.5 901.9L463.2 901.9L463.8 902L464.5 902.1L465.1 902.1L465.8 902.2L466.4 902.3L467.1 902.3L467.8 902.4L468.4 902.5L469.1 902.5L469.7 902.6L470.4 902.7L471 902.7L471.7 902.8L472.3 902.8L473 902.9L473.6 902.9L474.3 902.9L475 902.9L475.6 902.9L476.3 902.9L476.9 902.8L477.6 902.8L478.2 902.7L478.9 902.6L479.5 902.5L480.2 902.4L480.8 902.3L481.5 902.2L482.1 902.1L482.8 902L483.5 901.8L484.1 901.7L484.8 901.6L485.4 901.5L486.1 901.4L486.7 901.3L487.4 901.2L488 901.1L488.7 901.1L489.3 901L490 901L490.7 901L491.3 901L492 901L492.6 901L493.3 901L493.9 901.1L494.6 901.1L495.2 901.1L495.9 901.1L496.5 901.2L497.2 901.2L497.8 901.3L498.5 901.3L499.2 901.3L499.8 901.4L500.5 901.4L501.1 901.5L501.8 901.5L502.4 901.5L503.1 901.6L503.7 901.6L504.4 901.7L505 901.7L505.7 901.7L506.4 901.8L507 901.8L507.7 901.8L508.3 901.9L509 901.9L509.6 901.9L510.3 901.9L510.9 902L511.6 902L512.2 902L512.9 902L513.5 902.1L514.2 902.1L514.9 902.1L515.5 902.2L516.2 902.2L516.8 902.2L517.5 902.3L518.1 902.3L518.8 902.3L519.4 902.4L520.1 902.4L520.7 902.4L521.4 902.5L522.1 902.5L522.7 902.6L523.4 902.7L524 902.7L524.7 902.8L525.3 902.9L526 903L526.6 903.2L527.3 903.3L527.9 903.4L528.6 903.5L529.2 903.6L529.9 903.7L530.6 903.8L531.2 903.9L531.9 904L532.5 904L533.2 904L533.8 904.1L534.5 904L535.1 904L535.8 903.9L536.4 903.8L537.1 903.6L537.8 903.5L538.4 903.3L539.1 903.1L539.7 902.9L540.4 902.7L541 902.5L541.7 902.4L542.3 902.2L543 902.1L543.6 901.9L544.3 901.8L544.9 901.8L545.6 901.8L546.3 901.8L546.9 901.8L547.6 901.8L548.2 901.9L548.9 901.9L549.5 902L550.2 902.1L550.8 902.2L551.5 902.3L552.1 902.4L552.8 902.5L553.5 902.6L554.1 902.7L554.8 902.8L555.4 902.9L556.1 903L556.7 903.1L557.4 903.2L558 903.4L558.7 903.5L559.3 903.6L560 903.7L560.6 903.7L561.3 903.8L562 903.9L562.6 903.9L563.3 904L563.9 904L564.6 904L565.2 904.1L565.9 904L566.5 904L567.2 904L567.8 904L568.5 903.9L569.2 903.9L569.8 903.8L570.5 903.8L571.1 903.7L571.8 903.6L572.4 903.6L573.1 903.5L573.7 903.4L574.4 903.3L575 903.3L575.7 903.2L576.3 903.1L577 903.1L577.7 903L578.3 903L579 903L579.6 902.9L580.3 902.9L580.9 902.9L581.6 902.9L582.3 902.9L582.9 902.9L583.6 903L584.3 903L584.9 903L585.6 903L586.3 903.1L586.9 903.1L587.6 903.1L588.3 903.2L588.9 903.2L589.6 903.3L590.3 903.3L590.9 903.4L591.6 903.4L592.3 903.5L592.9 903.6L593.6 903.6L594.3 903.7L594.9 903.7L595.6 903.8L596.3 903.9L597 904L597.6 904.1L598.3 904.2L599 904.3L599.7 904.4L600.3 904.5L601 904.7L601.7 904.8L602.3 905L603 905.1L603.7 905.3L604.4 905.5L605 905.7L605.7 905.9L606.4 906.1L607.1 906.3L607.7 906.5L608.4 906.7L609.1 907L609.7 907.5L610.4 908L611.1 908.7L611.7 909.4L612.4 910.1L613 910.9L613.7 911.6L614.4 912.2L615 912.8L615.7 913.2L616.4 913.5L617 913.6L617.7 913.5L618.4 913.1L619.1 912.5L619.7 911.8L620.4 911L621.1 910.1L621.7 909.2L622.4 908.3L623.1 907.4L623.8 906.6L624.4 905.8L625.1 905.3L625.8 904.9L626.5 904.8L627.1 904.8L627.8 904.8L628.4 904.8L629.1 904.8L629.7 904.8L630.4 904.9L631 904.9L631.7 904.9L632.3 904.9L633 904.9L633.7 905L634.3 905L635 905L635.6 905.1L636.3 905.1L636.9 905.1L637.6 905.2L638.2 905.2L638.9 905.3L639.6 905.4L640.2 905.6L640.9 905.8L641.6 906.1L642.3 906.3L642.9 906.6L643.6 906.9L644.3 907.1L645 907.4L645.6 907.6L646.3 907.7L647 907.8L647.7 907.9L648.3 907.9L649 907.8L649.6 907.8L650.3 907.7L650.9 907.7L651.6 907.6L652.2 907.5L652.9 907.4L653.5 907.3L654.2 907.2L654.8 907.1L655.5 907L656.2 906.9L656.8 906.8L657.5 906.6L658.1 906.5L658.8 906.4L659.4 906.3L660.1 906.1L660.7 906L661.4 905.9L662 905.8L662.7 905.7L663.4 905.6" fill="none" stroke="#f27565" stroke-width="2.3" stroke-linejoin="round" stroke-linecap="round"/><path d="M390.2 929.6L390.8 930L391.5 930.3L392.2 930.7L392.9 931.1L393.5 931.4L394.2 931.8L394.9 932.2L395.5 932.7L396.2 933.3L396.8 933.9L397.5 934.4L398.2 934.8L398.8 934.9L399.5 934.7L400.2 934.1L400.9 933.1L401.6 931.9L402.2 930.5L402.9 928.9L403.6 927.3L404.3 925.8L405 923.9L405.6 921.5L406.3 918.7L407 915.9L407.7 913.3L408.3 911.2L409 909.8L409.7 908.8L410.4 908L411 907.2L411.7 906.5L412.4 906L413 905.7L413.7 905.6L414.4 905.6L415.1 905.6L415.8 905.6L416.5 905.7L417.2 905.7L417.9 905.8L418.6 905.8L419.3 905.9L420 906L420.7 906L421.3 906.2L422 906.3L422.7 906.6L423.4 906.8L424 907.1L424.7 907.5L425.4 908.2L426.1 909.6L426.7 911.5L427.4 913.6L428.1 915.9L428.7 918.1L429.4 920.1L430.1 922L430.8 924.2L431.4 926.4L432.1 928.5L432.8 930.3L433.5 931.7L434.1 932.6L434.8 933.2L435.5 933.6L436.2 934.1L436.9 934.4L437.6 934.8L438.3 935L438.9 935.2L439.6 935.3L440.3 935.4L440.9 935.4L441.6 935.5L442.2 935.6L442.9 935.6L443.6 935.7L444.2 935.7L444.9 935.8L445.5 935.8L446.2 935.9L446.8 935.9L447.5 935.9L448.1 936L448.8 936L449.4 936L450.1 936L450.7 936L451.4 936.1L452.1 936.1L452.7 936.1L453.4 936.1L454 936.1L454.7 936.1L455.3 936.1L456 936.1L456.6 936.2L457.3 936.2L457.9 936.2L458.6 936.2L459.2 936.2L459.9 936.2L460.6 936.2L461.2 936.2L461.9 936.3L462.5 936.3L463.2 936.3L463.8 936.3L464.5 936.3L465.1 936.3L465.8 936.3L466.4 936.3L467.1 936.3L467.8 936.3L468.4 936.3L469.1 936.4L469.7 936.4L470.4 936.4L471 936.4L471.7 936.4L472.3 936.4L473 936.4L473.6 936.4L474.3 936.4L475 936.4L475.6 936.4L476.3 936.4L476.9 936.4L477.6 936.4L478.2 936.4L478.9 936.4L479.5 936.4L480.2 936.4L480.8 936.4L481.5 936.4L482.1 936.4L482.8 936.4L483.5 936.4L484.1 936.4L484.8 936.4L485.4 936.4L486.1 936.4L486.7 936.4L487.4 936.4L488 936.4L488.7 936.4L489.3 936.4L490 936.4L490.7 936.4L491.3 936.4L492 936.4L492.6 936.4L493.3 936.4L493.9 936.4L494.6 936.4L495.2 936.4L495.9 936.4L496.5 936.4L497.2 936.3L497.8 936.3L498.5 936.3L499.2 936.3L499.8 936.3L500.5 936.3L501.1 936.3L501.8 936.3L502.4 936.3L503.1 936.3L503.7 936.2L504.4 936.2L505 936.2L505.7 936.2L506.4 936.2L507 936.2L507.7 936.2L508.3 936.2L509 936.2L509.6 936.1L510.3 936.1L510.9 936.1L511.6 936.1L512.2 936.1L512.9 936.1L513.5 936.1L514.2 936.1L514.9 936L515.5 936L516.2 936L516.8 935.9L517.5 935.9L518.2 935.8L518.8 935.8L519.5 935.7L520.1 935.7L520.8 935.6L521.5 935.6L522.1 935.5L522.8 935.5L523.5 935.4L524.1 935.4L524.8 935.3L525.4 935.3L526.1 935.3L526.8 935.3L527.4 935.3L528.1 935.3L528.8 935.4L529.5 935.4L530.2 935.5L530.9 935.5L531.6 935.6L532.3 935.7L532.9 935.7L533.6 935.8L534.3 935.9L535 935.9L535.7 936L536.4 936L537.1 936L537.8 936.1L538.4 936.1L539.1 936.1L539.7 936.1L540.4 936.1L541 936.1L541.7 936.1L542.3 936.1L543 936.1L543.6 936.1L544.3 936.1L544.9 936.1L545.6 936.1L546.3 936.1L546.9 936.1L547.6 936.1L548.2 936.1L548.9 936.1L549.5 936.1L550.2 936.1L550.8 936.1L551.5 936.1L552.1 936.1L552.8 936.1L553.5 936.1L554.1 936.1L554.8 936.1L555.4 936.1L556.1 936.1L556.7 936.1L557.4 936.1L558 936.1L558.7 936.1L559.3 936.1L560 936.1L560.6 936.1L561.3 936.1L562 936.1L562.6 936.1L563.3 936.1L563.9 936.1L564.6 936.1L565.2 936.1L565.9 936.1L566.5 936.1L567.2 936.1L567.8 936.1L568.5 936.1L569.2 936.1L569.8 936.1L570.5 936.1L571.1 936.1L571.8 936.1L572.4 936.1L573.1 936.1L573.7 936.1L574.4 936.1L575 936.1L575.7 936.1L576.3 936.1L577 936.1L577.7 935.9L578.3 935.6L579 935L579.7 934.3L580.4 933.4L581 932.5L581.7 931.5L582.4 930L583.1 927.8L583.7 925.1L584.4 922.2L585.1 919.2L585.7 916.5L586.4 914.3L587.1 912.4L587.8 910.5L588.4 908.6L589.1 906.9L589.8 905.4L590.5 904.3L591.1 903.7L591.8 903.3L592.5 902.9L593.2 902.6L593.9 902.3L594.6 902.1L595.3 901.9L595.9 901.8L596.6 901.8L597.3 901.8L598 901.8L598.7 901.9L599.4 902L600.1 902.2L600.7 902.3L601.4 902.5L602.1 902.7L602.8 902.9L603.5 903.2L604.2 903.4L604.9 903.7L605.6 904L606.2 904.2L606.9 904.5L607.6 904.8L608.3 905.2L609 905.7L609.6 906.4L610.3 907.1L611 908L611.7 908.8L612.3 909.7L613 910.6L613.7 911.4L614.3 912.1L615 912.7L615.7 913.2L616.4 913.5L617 913.6L617.7 913.4L618.4 913.1L619.1 912.5L619.7 911.8L620.4 910.9L621.1 910L621.7 909L622.4 908L623.1 907L623.8 906.2L624.4 905.4L625.1 904.7L625.8 904.3L626.5 904.1L627.1 903.9L627.8 903.9L628.5 903.8L629.1 903.7L629.8 903.6L630.5 903.5L631.1 903.4L631.8 903.3L632.5 903.3L633.1 903.2L633.8 903.2L634.5 903.1L635.1 903.1L635.8 903L636.5 903L637.1 903L637.8 902.9L638.5 902.9L639.1 902.9L639.8 902.9L640.5 902.9L641.1 902.9L641.8 902.9L642.4 902.9L643.1 902.9L643.7 902.9L644.4 903L645 903L645.7 903L646.3 903L647 903L647.7 903.1L648.3 903.1L649 903.1L649.6 903.1L650.3 903.1L650.9 903.2L651.6 903.2L652.2 903.2L652.9 903.2L653.5 903.3L654.2 903.3L654.8 903.3L655.5 903.4L656.2 903.4L656.8 903.4L657.5 903.4L658.1 903.5L658.8 903.5L659.4 903.5L660.1 903.6L660.7 903.6L661.4 903.6L662 903.6L662.7 903.7L663.4 903.7" fill="none" stroke="#1d4b46" stroke-width="2.4" stroke-linejoin="round" stroke-linecap="round"/><rect x="376.1" y="948" width="15.1" height="9.2" fill="#c5e1e0"/><g class="tA"><text x="395.9" y="956.3" font-size="9.5" fill="#222" textLength="16.7" lengthAdjust="spacingAndGlyphs">DMR</text></g>
</svg>
</body></html>
